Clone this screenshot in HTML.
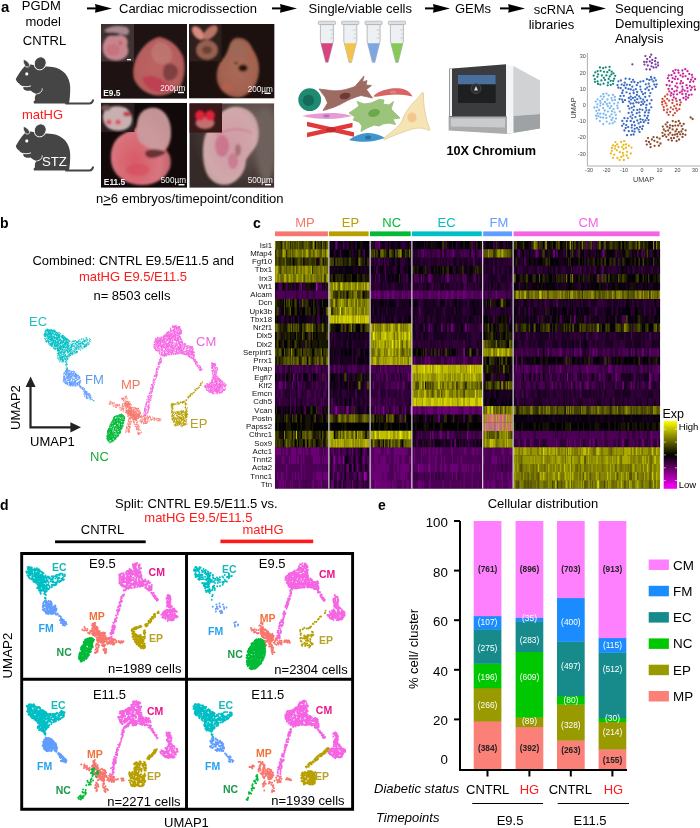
<!DOCTYPE html>
<html><head><meta charset="utf-8"><title>Figure</title>
<style>html,body{margin:0;padding:0;background:#fff;width:700px;height:828px;overflow:hidden}svg{display:block}</style>
</head><body>
<svg width="700" height="828" viewBox="0 0 700 828" font-family='"Liberation Sans", Arial, sans-serif' font-size="13">
<rect width="700" height="828" fill="#fff"/>
<text x="1" y="11.5" font-size="15" font-weight="bold">a</text>
<text x="41.3" y="10.2" text-anchor="middle">PGDM</text>
<text x="43.2" y="26.2" text-anchor="middle">model</text>
<text x="44.5" y="45" text-anchor="middle">CNTRL</text>
<g transform="translate(0 0)"><path fill="#454545" d="M15.8 79C17.5 75.5 21 70.5 24 67C26.5 64.8 29 64.3 32 64.8C38 65.8 45 66.3 52.4 67C63 68.3 70 76.5 70.2 87.5C70.3 94 69.8 99 69 103.4H34C33.3 102.5 33.5 101 35 100.3C34.5 98 35 95.5 36.5 94C34 93.5 32 92 30.6 90.6C28 91.2 24.5 90.8 23.5 88.8C23 87.8 23.3 87 24 86.5C21.5 86 19.8 85 19.2 83.6C17.5 82.5 16 80.8 15.8 79Z"/><path fill="#454545" stroke="#fff" stroke-width=".8" d="M23.3 59.4C26 59.8 29.2 62.5 29.7 65.2C29.7 67 27.5 67.6 25.8 66.7C24 65 23 62 23.3 59.4Z"/><ellipse cx="40.2" cy="63.3" rx="5.9" ry="6.7" transform="rotate(25 40.2 63.3)" fill="#454545" stroke="#fff" stroke-width=".9"/><circle cx="26.8" cy="73.9" r="1.55" fill="#fff"/><path d="M23.2 86.3C25.5 86.9 28.5 86.9 31 85.8M42.2 88.4C42.5 91.5 40 93.5 36.5 94" stroke="#fff" stroke-width=".9" fill="none"/><path d="M66 103.4H89.5C91.3 103.4 92.5 102 93 100.2" stroke="#454545" stroke-width="2" fill="none" stroke-linecap="round"/></g>
<text x="42.5" y="119" fill="#ff1a1a" text-anchor="middle">matHG</text>
<g transform="translate(0 67)"><path fill="#454545" d="M15.8 79C17.5 75.5 21 70.5 24 67C26.5 64.8 29 64.3 32 64.8C38 65.8 45 66.3 52.4 67C63 68.3 70 76.5 70.2 87.5C70.3 94 69.8 99 69 103.4H34C33.3 102.5 33.5 101 35 100.3C34.5 98 35 95.5 36.5 94C34 93.5 32 92 30.6 90.6C28 91.2 24.5 90.8 23.5 88.8C23 87.8 23.3 87 24 86.5C21.5 86 19.8 85 19.2 83.6C17.5 82.5 16 80.8 15.8 79Z"/><path fill="#454545" stroke="#fff" stroke-width=".8" d="M23.3 59.4C26 59.8 29.2 62.5 29.7 65.2C29.7 67 27.5 67.6 25.8 66.7C24 65 23 62 23.3 59.4Z"/><ellipse cx="40.2" cy="63.3" rx="5.9" ry="6.7" transform="rotate(25 40.2 63.3)" fill="#454545" stroke="#fff" stroke-width=".9"/><circle cx="26.8" cy="73.9" r="1.55" fill="#fff"/><path d="M23.2 86.3C25.5 86.9 28.5 86.9 31 85.8M42.2 88.4C42.5 91.5 40 93.5 36.5 94" stroke="#fff" stroke-width=".9" fill="none"/><path d="M66 103.4H89.5C91.3 103.4 92.5 102 93 100.2" stroke="#454545" stroke-width="2" fill="none" stroke-linecap="round"/></g><text x="42" y="165.8" font-size="13.2" fill="#fff">STZ</text>
<path d="M87 8.4H98" stroke="#000" stroke-width="2"/><path d="M95 4.1L112 8.4L95 12.7Q96.5 8.4 95 4.1z" fill="#000"/>
<text x="119" y="13">Cardiac microdissection</text>
<path d="M272 8.4H283" stroke="#000" stroke-width="2"/><path d="M280 4.1L297 8.4L280 12.7Q281.5 8.4 280 4.1z" fill="#000"/>
<text x="308.6" y="13">Single/viable cells</text>
<path d="M425 8.4H436" stroke="#000" stroke-width="2"/><path d="M433 4.1L450 8.4L433 12.7Q434.5 8.4 433 4.1z" fill="#000"/>
<text x="455" y="13">GEMs</text>
<path d="M500 8.4H511" stroke="#000" stroke-width="2"/><path d="M508 4.1L525 8.4L508 12.7Q509.5 8.4 508 4.1z" fill="#000"/>
<text x="554" y="13.5" text-anchor="middle">scRNA</text>
<text x="551.5" y="28.5" text-anchor="middle">libraries</text>
<path d="M581 8.4H592" stroke="#000" stroke-width="2"/><path d="M589 4.1L606 8.4L589 12.7Q590.5 8.4 589 4.1z" fill="#000"/>
<text x="615" y="12.5">Sequencing</text>
<text x="615" y="27.5">Demultiplexing</text>
<text x="615" y="42.5">Analysis</text>
<defs>
<filter id="bl1" x="-20%" y="-20%" width="140%" height="140%"><feGaussianBlur stdDeviation="1"/></filter>
<filter id="bl2" x="-30%" y="-30%" width="160%" height="160%"><feGaussianBlur stdDeviation="2.5"/></filter>
<filter id="bl3" x="-30%" y="-30%" width="160%" height="160%"><feGaussianBlur stdDeviation="1.8"/></filter>
<radialGradient id="emb1" cx=".45" cy=".5" r=".6"><stop offset="0" stop-color="#bc6464"/><stop offset=".8" stop-color="#b45e5c"/><stop offset="1" stop-color="#98504c"/></radialGradient>
<radialGradient id="emb2" cx=".5" cy=".5" r=".6"><stop offset="0" stop-color="#a86a58"/><stop offset=".7" stop-color="#a4624f"/><stop offset="1" stop-color="#8a5040"/></radialGradient>
<radialGradient id="emb3" cx=".4" cy=".7" r=".7"><stop offset="0" stop-color="#d85a66"/><stop offset=".6" stop-color="#d87680"/><stop offset="1" stop-color="#b05a60"/></radialGradient>
<radialGradient id="emb4" cx=".5" cy=".5" r=".65"><stop offset="0" stop-color="#d09aa6"/><stop offset=".7" stop-color="#d0a8aa"/><stop offset="1" stop-color="#bc9c9a"/></radialGradient>
<radialGradient id="bg4" cx=".8" cy=".3" r=".8"><stop offset="0" stop-color="#7a6a64"/><stop offset=".6" stop-color="#50423e"/><stop offset="1" stop-color="#352a28"/></radialGradient>
<clipPath id="cp1"><rect x="101" y="24" width="86" height="74.8"/></clipPath>
<clipPath id="cp2"><rect x="189" y="24" width="85.6" height="74.6"/></clipPath>
<clipPath id="cp3"><rect x="101" y="102.8" width="86" height="85"/></clipPath>
<clipPath id="cp4"><rect x="189.3" y="103.2" width="85" height="84.6"/></clipPath>
</defs>
<g clip-path="url(#cp1)"><rect x="101" y="24" width="86" height="74.8" fill="#1e1212"/>
<g filter="url(#bl1)">
<path d="M160 37C170 39 178 46 183 56C186 66 185 78 180 87C172 94 164 96 156 95.5C146 94 138 88 134 79C132 70 134 61 139 53C145 44 152 38 160 37Z" fill="url(#emb1)"/>
<path d="M157 42C166 41 172 47 172 55C172 62 166 66 160 64C153 62 150 55 152 48Z" fill="#c8908a" opacity=".4"/>
<path d="M166 64C172 62 178 66 178 72C177 78 172 82 166 80C162 76 162 68 166 64Z" fill="#3c1a18" opacity=".45"/>
<path d="M142 78C148 74 156 76 162 80C168 84 172 86 176 85C174 90 166 93 158 92C150 90 144 86 142 78Z" fill="#c42848" opacity=".55"/>
</g>
<rect x="101" y="24" width="33" height="37.6" fill="#3e3232"/>
<g filter="url(#bl1)"><path d="M104 31C108 26 118 25 126 27C130 29 130 33 127 35C120 34 110 34 104 31Z" fill="#a88890"/><path d="M104 42C106 36 112 34 120 35C127 36 129 40 127 46C130 51 128 58 120 60C112 62 104 58 103 51C102 47 103 44 104 42Z" fill="#c4868e"/><ellipse cx="112" cy="34.2" rx="8" ry="1.8" fill="#2e2020"/><ellipse cx="113" cy="50" rx="7" ry="6" fill="#c86070" opacity=".5"/><circle cx="120.5" cy="43" r="1.6" fill="#e02040"/></g>
<rect x="127" y="59" width="4" height="1.3" fill="#fff"/>
<text x="103.2" y="96.2" font-size="8.4" fill="#f4f4f4" font-weight="bold">E9.5</text>
<text x="160.2" y="90.5" font-size="8.2" fill="#f4f4f4">200µm</text>
<rect x="178" y="91.8" width="6" height="1.4" fill="#fff"/>
</g>
<g clip-path="url(#cp2)"><rect x="189" y="24" width="85.6" height="74.6" fill="#1c110e"/>
<g filter="url(#bl1)">
<path d="M236 38C244 37 250 42 252 48C256 54 260 62 259 72C258 84 252 93 242 97C232 99 222 94 218 84C215 76 217 66 222 60C226 56 228 50 230 44C232 40 234 38 236 38Z" fill="url(#emb2)"/>
<path d="M232 41C240 39 248 44 248 52C246 58 238 60 232 56C228 52 228 45 232 41Z" fill="#9a6a5c" opacity=".6"/>
<ellipse cx="243" cy="68" rx="4.5" ry="3.5" fill="#2a140c"/><ellipse cx="236" cy="63" rx="1.5" ry="1.2" fill="#3a1c10"/>
<ellipse cx="227" cy="88" rx="6" ry="4" fill="#c06050" opacity=".6"/>
</g>
<rect x="189" y="24" width="32.6" height="37.4" fill="#2e1e1c"/>
<g filter="url(#bl1)"><ellipse cx="207" cy="50" rx="11" ry="10" fill="#96604f"/><ellipse cx="207" cy="50" rx="5" ry="4" fill="#6e4036"/><ellipse cx="198" cy="33" rx="8" ry="4.5" transform="rotate(50 198 33)" fill="#d88a7c"/><ellipse cx="210.5" cy="32.5" rx="9" ry="4.8" transform="rotate(-45 210.5 32.5)" fill="#b87466"/></g>
<text x="247.7" y="91.7" font-size="8.2" fill="#f4f4f4">200µm</text>
<rect x="264.4" y="92.6" width="6.4" height="1.4" fill="#fff"/>
</g>
<g clip-path="url(#cp3)"><rect x="101" y="102.8" width="86" height="85" fill="#120a0a"/>
<g filter="url(#bl1)">
<path d="M150 108C160 106 168 114 170 124C172 134 171 144 166 150C170 154 172 160 170 168C166 178 156 185 142 185C128 185 116 178 112 166C109 154 112 142 120 136C126 132 132 130 136 128C138 118 142 110 150 108Z" fill="url(#emb3)"/>
<path d="M150 108C160 106 168 114 170 124C172 134 171 144 164 150C156 152 146 148 140 142C136 136 136 126 138 118C140 112 144 109 150 108Z" fill="#c8a2a2" opacity=".8"/>
<path d="M146 151C152 148 160 149 166 152C162 156 156 158 150 158C146 157 144 154 146 151Z" fill="#3a1818" opacity=".7"/>
<ellipse cx="138" cy="170" rx="12" ry="6" fill="#d83a50" opacity=".35"/>
</g>
<path d="M101 102.8H134.4V132H101Z" fill="#2a1e1e"/>
<g filter="url(#bl1)"><path d="M104 112C108 106 118 105 126 108C132 112 134 120 130 126C126 131 116 132 110 129C104 126 101 118 104 112Z" fill="#c8b0b0"/><circle cx="109" cy="122" r="2.6" fill="#e04a5a"/><circle cx="118" cy="122" r="2.6" fill="#e04a5a"/><ellipse cx="127" cy="114" rx="4" ry="2.5" fill="#c04050"/><ellipse cx="106" cy="108" rx="5" ry="3" fill="#7a5a5a"/></g>
<text x="103.8" y="185.2" font-size="8.4" fill="#f4f4f4" font-weight="bold">E11.5</text>
<text x="160.8" y="182.6" font-size="8.2" fill="#f4f4f4">500µm</text>
<rect x="178.5" y="184" width="6" height="1.4" fill="#fff"/>
</g>
<g clip-path="url(#cp4)"><rect x="189.3" y="103.2" width="85" height="84.6" fill="url(#bg4)"/>
<g filter="url(#bl2)"><ellipse cx="266" cy="145" rx="10" ry="38" fill="#6e605c"/></g>
<g filter="url(#bl1)">
<path d="M232 107C244 105 254 112 257 122C260 132 259 140 256 146C252 152 248 156 246 160C246 170 240 180 230 184C220 187 210 182 206 172C202 160 202 146 205 136C210 124 220 110 232 107Z" fill="url(#emb4)"/>
<ellipse cx="222" cy="146" rx="7" ry="11" fill="#c03a6a" opacity=".4"/><ellipse cx="233" cy="161" rx="5" ry="8" fill="#c03a6a" opacity=".35"/><ellipse cx="238" cy="150" rx="3" ry="6" fill="#6a3030" opacity=".4"/>
<path d="M216 136C226 128 240 127 252 133" stroke="#c8406a" stroke-width=".9" fill="none" opacity=".7"/>
</g>
<rect x="189.3" y="103.2" width="32.7" height="29.4" fill="#3a1818"/>
<g filter="url(#bl1)"><ellipse cx="205" cy="123" rx="9.5" ry="6" fill="#c07070"/><ellipse cx="200" cy="115.5" rx="4.8" ry="5.2" fill="#e0203a"/><ellipse cx="210" cy="115.5" rx="4.8" ry="5.2" fill="#e0203a"/></g>
<text x="247.7" y="182.6" font-size="8.2" fill="#f4f4f4">500µm</text>
<rect x="265" y="184" width="6" height="1.4" fill="#fff"/>
</g>
<text x="96" y="203">n<tspan text-decoration="underline">&gt;</tspan>6 embryos/timepoint/condition</text>
<path d="M320.4 24.5V41L325.7 62.5H328.1L333.4 41V24.5Z" fill="#eef1f3" stroke="#a9adb0" stroke-width=".8"/>
<path d="M320.9 43.3H332.9L328 62H325.8Z" fill="#d6457f"/>
<rect x="318.3" y="21.2" width="17.2" height="3.4" rx=".8" fill="#dde1e3" stroke="#a9adb0" stroke-width=".7"/>
<path d="M329.9 30h3M330.9 34h2M329.9 38h3" stroke="#a9adb0" stroke-width=".5"/>
<path d="M343.8 24.5V41L349.1 62.5H351.4L356.8 41V24.5Z" fill="#eef1f3" stroke="#a9adb0" stroke-width=".8"/>
<path d="M344.2 43.3H356.2L351.4 62H349.1Z" fill="#f2c24e"/>
<rect x="341.6" y="21.2" width="17.2" height="3.4" rx=".8" fill="#dde1e3" stroke="#a9adb0" stroke-width=".7"/>
<path d="M353.2 30h3M354.2 34h2M353.2 38h3" stroke="#a9adb0" stroke-width=".5"/>
<path d="M367.1 24.5V41L372.4 62.5H374.8L380.1 41V24.5Z" fill="#eef1f3" stroke="#a9adb0" stroke-width=".8"/>
<path d="M367.6 43.3H379.6L374.7 62H372.5Z" fill="#7fa6e0"/>
<rect x="365" y="21.2" width="17.2" height="3.4" rx=".8" fill="#dde1e3" stroke="#a9adb0" stroke-width=".7"/>
<path d="M376.6 30h3M377.6 34h2M376.6 38h3" stroke="#a9adb0" stroke-width=".5"/>
<path d="M390.4 24.5V41L395.8 62.5H398.1L403.4 41V24.5Z" fill="#eef1f3" stroke="#a9adb0" stroke-width=".8"/>
<path d="M390.9 43.3H402.9L398.1 62H395.8Z" fill="#87c85a"/>
<rect x="388.3" y="21.2" width="17.2" height="3.4" rx=".8" fill="#dde1e3" stroke="#a9adb0" stroke-width=".7"/>
<path d="M399.9 30h3M400.9 34h2M399.9 38h3" stroke="#a9adb0" stroke-width=".5"/>
<circle cx="309.7" cy="99.7" r="11.4" fill="#1f8a72"/><circle cx="308.5" cy="100.4" r="5.6" fill="#17695a"/>
<path d="M319 89L331 90.5C338 91.5 346 90 355 86.5L364 76L362.5 82L367 80.5L366 85L371.5 85.5L366.5 89.5L372.5 98L361 95.5C355 97 348 100 341 104C336 106.5 331 108.5 323 110.5L327.5 103L325 97Z" fill="#9c6b62" stroke="#9c6b62" stroke-width=".8" stroke-linejoin="round"/>
<ellipse cx="345" cy="96" rx="5.5" ry="3.2" transform="rotate(-12 345 96)" fill="#6e3a38"/>
<path d="M373 96.5C379 90 391 87.5 401 88.5C407 89.5 411 93 412.5 96.5C405 94.5 396 93.8 388 95C382 96 377 97 373 96.5Z" fill="#d86464"/>
<ellipse cx="393" cy="92" rx="3.4" ry="1.6" fill="#e08080"/>
<path d="M302 116C315 113 330 112.5 340 113.5C345 114 349 115 352 116C346 117.5 338 119 328 119C318 119 310 118 302 116Z" fill="#e89bd0"/>
<ellipse cx="326.5" cy="116" rx="3.2" ry="1.4" fill="#b070c0"/>
<path d="M349 113L355 109L359 106L357 101.5L364 104L371 103L379 99.5L384 100L383 104L389 105L393.5 101.5L391 109L395 113L400 118L393 119L395.5 124.5L389 123L383 124L379 126L374 125L367 128L361 131.5L362 126L359 122L353 120L355 117Z" fill="#9cc47c" stroke="#9cc47c" stroke-width="1" stroke-linejoin="round"/>
<ellipse cx="374" cy="113" rx="6" ry="3.8" transform="rotate(-15 374 113)" fill="#6aaa4a"/>
<path d="M307 121.8L354 132.3L354 136.8L307 126.3Z M307 132.8L352.5 122.8L352.5 127.3L307 137.3Z" fill="#e03a3a"/>
<ellipse cx="331" cy="129.8" rx="5" ry="2.6" fill="#c42a2a"/>
<path d="M349 140C354 136 360 133.5 367 133C374 132.6 380 135 385 138C378 140 372 141.8 365 141.8C358 141.8 353 141 349 140Z" fill="#3f95cc"/>
<ellipse cx="368" cy="137.5" rx="3" ry="2" fill="#2a70a8"/>
<path d="M422 92.5L423.6 93C423.2 100 424 106 425 112C426 118 427.5 124 430 129.5L428.8 130.6C425 128 420 127.6 414 128.6C405 131 395 135 384 139.8L383 138.8C390 133 398 128 402 121C404 115 408 108 414 102C417 99 420 96 422 92.5Z" fill="#f6e4b4" stroke="#d6bc80" stroke-width=".6"/>
<ellipse cx="412" cy="117.5" rx="4.6" ry="5" fill="#f2c890"/>
<path d="M506 64.6L540 80.5V128.5L507 134Z" fill="#d9dbdc"/>
<path d="M506 116L540 114V128.5L507 134Z" fill="#9fa2a4"/>
<path d="M506 64.6L513.5 66V133L507 134Z" fill="#f4f5f5"/>
<path d="M513.5 66L540 80.5V114L513.5 116Z" fill="#d0d2d3"/>
<path d="M449 68.8L506 64.2V117H449Z" fill="#3a3c3e"/>
<path d="M449.5 69L452 68.8V116H449.5Z" fill="#f2f2f2"/>
<path d="M448.6 116.5H507V134L448.6 130.5Z" fill="#a9abad"/>
<path d="M451 118.5H505V127.5L451 126.5Z" fill="#c9cbcc"/>
<rect x="458" y="74.9" width="37.7" height="28.1" fill="#1e1f21"/>
<rect x="458" y="74.9" width="37.7" height="9.4" fill="#4b6f9c"/>
<circle cx="476" cy="88.6" r="5" fill="#2a2b2d" stroke="#666" stroke-width=".5"/>
<path d="M474 90.5L476 86L478 90.5Z" fill="#ddd"/>
<text x="446.5" y="155.4" font-size="12.7" font-weight="bold">10X Chromium</text>
<path d="M587.4 53V166H700" stroke="#999" stroke-width=".8" fill="none"/>
<text x="585.8" y="58.3" font-size="5.4" fill="#444" text-anchor="end">30</text>
<text x="585.8" y="74.9" font-size="5.4" fill="#444" text-anchor="end">20</text>
<text x="585.8" y="90.9" font-size="5.4" fill="#444" text-anchor="end">10</text>
<text x="585.8" y="106.9" font-size="5.4" fill="#444" text-anchor="end">0</text>
<text x="585.8" y="122.9" font-size="5.4" fill="#444" text-anchor="end">-10</text>
<text x="585.8" y="139.3" font-size="5.4" fill="#444" text-anchor="end">-20</text>
<text x="585.8" y="155.9" font-size="5.4" fill="#444" text-anchor="end">-30</text>
<text x="589" y="172.2" font-size="5.4" fill="#444" text-anchor="middle">-30</text>
<text x="606.6" y="172.2" font-size="5.4" fill="#444" text-anchor="middle">-20</text>
<text x="624" y="172.2" font-size="5.4" fill="#444" text-anchor="middle">-10</text>
<text x="642" y="172.2" font-size="5.4" fill="#444" text-anchor="middle">0</text>
<text x="659.6" y="172.2" font-size="5.4" fill="#444" text-anchor="middle">10</text>
<text x="677.4" y="172.2" font-size="5.4" fill="#444" text-anchor="middle">20</text>
<text x="695" y="172.2" font-size="5.4" fill="#444" text-anchor="middle">30</text>
<text x="643.5" y="182.2" font-size="7.3" fill="#444" text-anchor="middle">UMAP</text>
<text x="0" y="0" font-size="7.3" fill="#444" text-anchor="middle" transform="translate(575.8 108) rotate(-90)">UMAP</text>
<path d="M603.9 77.8h0M615.2 75.8h0M597.4 76.8h0M608.1 82.7h0M595.3 72.4h0M609.6 66.9h0M608.7 78.9h0M605.7 67.3h0M597.6 71.1h0M593.7 75.7h0M603.6 83.7h0M605 79.9h0M604 71.8h0M613.2 80.9h0M600.6 70.8h0M599.9 67.5h0M611.4 74.4h0M594.8 79.2h0M611.7 71.7h0M606.4 75.4h0M597.6 81.4h0M600.3 84.6h0M598.1 74.3h0M601.9 75.5h0M614.2 78.7h0M603.1 68.2h0M607.3 72.2h0M610.7 84.9h0M610.7 80.8h0M601.4 80.4h0M595 81.8h0M609.8 76.4h0M607.7 85.3h0M613.1 83.8h0M609.4 70.2h0M613.5 73.3h0M598 83.9h0" stroke="#14897a" stroke-width="2.3" stroke-linecap="round"/>
<path d="M650 57.1h0M644.5 64.6h0M651.9 63h0M655.5 64.3h0M655.6 58.2h0M653.6 67.5h0M646.4 69.3h0M645.4 56.1h0M655.1 61.2h0M647.8 65.5h0M646.6 62h0M649.8 61.4h0M651.2 54.7h0M644.1 61.8h0M656.2 67.3h0M652.3 59.9h0M651.5 66.3h0M647.2 59.1h0M649.9 69.5h0M632.4 64.3h0M657.9 62.6h0M658.1 65.4h0" stroke="#7b3fa0" stroke-width="2.3" stroke-linecap="round"/>
<path d="M689.9 85.8h0M671.3 93h0M692.4 77.3h0M666.7 85h0M682.3 86.7h0M695 89.5h0M682.4 94h0M688.1 97.7h0M668.5 88.9h0M685.5 76.1h0M677.8 79.1h0M687.6 91.4h0M693.4 81.5h0M690.8 90h0M691.6 94.6h0M681.7 91.4h0M690.1 81.9h0M678.6 72.8h0M672.1 82h0M667.8 78.2h0M689.3 73.9h0M683.5 98h0M671.5 75.2h0M675.4 86.1h0M673.8 97.3h0M680.5 75.3h0M677.1 94.3h0M687.4 88h0M675.7 76.6h0M687.5 71.2h0M680.4 83.5h0M670.7 95.5h0M676.8 90.7h0M669.2 81h0M679.9 99.9h0M682.9 83.1h0M674.9 79.1h0M687.9 78.9h0M694.4 86.6h0M668.7 75.5h0M678.2 70.4h0M689 95.1h0M675.9 98.7h0M676.8 83.3h0M682.8 76.7h0M682.4 70.5h0M677.4 87.5h0M683.1 73.7h0M685.3 69.2h0M684.7 90.7h0M675.6 69.8h0M681.1 81.1h0M686 96.6h0M669.7 85.7h0M691.1 79.7h0M672.1 88.9h0M672.7 78.1h0M685.9 94.1h0M673.5 94.5h0M682.7 89.3h0M686.5 85.2h0M679.7 92.6h0M691.9 87.5h0M691.9 74.8h0M674.4 91.5h0M686 99.5h0M674.4 73.2h0M673.2 71.1h0M695.1 79h0" stroke="#c8259c" stroke-width="2.3" stroke-linecap="round"/>
<path d="M635.5 117.2h0M644.7 115.7h0M631.8 112.3h0M639.8 109.3h0M636.9 94.9h0M646 107.8h0M633.7 93h0M635.8 89.2h0M640.3 86.6h0M630.5 116.6h0M630.7 103.5h0M646.5 105h0M631.9 125h0M634.1 106.4h0M647.1 100.4h0M645.2 93.1h0M645.2 97h0M648.2 123.1h0M641.6 101.9h0M645 112.4h0M631 99.6h0M642.1 128.9h0M644.5 101.8h0M641 105.1h0M634.8 100.4h0M642.8 119.8h0M651.5 100.2h0M647.2 87.6h0M650.4 93.1h0M643 94.2h0M649.4 96.1h0M639.6 131.9h0M629.4 108.6h0M634.7 128.8h0M638.6 123.4h0M645.4 89.1h0M640.7 122.1h0M647 118.2h0M641.8 91.8h0M637.3 99.2h0M643.8 122.2h0M636.8 113.2h0M636.4 102.4h0M628.2 106.1h0M643.2 99.7h0M642.8 126.2h0M648.6 112.7h0M637.2 92h0M642.4 109.8h0M640.4 81.7h0M634 122h0M648.8 90.2h0M648.5 120.1h0M636.8 85.2h0M628.9 98h0M630.8 89.4h0M632.7 114.8h0M632.3 86.7h0M633.6 110.1h0M634.8 125.4h0M638.6 129.6h0M628.6 112.9h0M639.2 96.4h0M645.8 84.3h0M645.5 120.4h0M630.7 121h0M637.9 82.8h0M633.2 103.5h0M651.3 107.3h0M631.8 107.6h0M629.1 101.6h0M629.9 93.6h0M640 127h0M640.4 119.2h0M643.3 81.2h0M638.7 102.7h0M630.8 96.6h0M639.8 115.9h0M637.3 120.5h0M632.9 98h0M637.3 109.9h0M649.8 103.7h0M646.4 110.3h0M640.6 89.6h0M640.6 98.4h0M647.9 115.8h0M635.2 97.1h0M632.2 118.3h0M639.4 112.4h0M649.2 110.2h0M643.2 104h0M626.8 84.7h0M622.8 90.5h0M620.9 80.4h0M633 79.8h0M617.5 85.2h0M618.3 87.7h0M634.4 82h0M620.7 88.1h0M629.5 79h0M629.8 84.9h0M624.7 82.7h0M624.1 85.4h0M621.7 84.6h0M625.7 88h0M631.5 82.1h0M625.6 78.7h0M626.5 92.3h0M618.4 81.3h0M628.5 88.9h0M633.4 90.4h0M656.7 84.3h0M649.5 86.3h0M651 77h0M653.3 81.4h0M652.4 88.9h0M646.9 79.2h0M654.3 84.7h0M655.9 80.3h0M649.3 80h0M655.8 87h0M651.7 79.4h0M648.7 83.7h0M654.5 78h0M628.2 127.1h0M622.3 120.9h0M623.7 123.8h0M631.1 134.8h0M628.8 131.2h0M631.7 127.6h0M627 135.2h0M626.8 121.2h0M622.1 125.8h0M624.4 130.5h0M632.2 130.9h0M624.4 118.2h0M637 127.8h0M634.5 131.7h0M633.6 134.5h0M627.7 118.3h0M625.7 128h0M626.2 125.1h0M622.9 102h0M623.8 95.8h0M620.5 96.1h0M625 100.2h0M619.6 99.1h0M622.2 99.7h0M622.2 93h0" stroke="#3d6cc4" stroke-width="2.3" stroke-linecap="round"/>
<path d="M603.5 113.7h0M603.2 104.3h0M616 118.6h0M611.6 120h0M600.5 103.1h0M596.6 118.6h0M618 102.7h0M603.8 96.7h0M597.7 113.4h0M600.6 117.3h0M599.9 121.1h0M603.2 108.1h0M605 101.9h0M602.5 99.1h0M614.6 112.3h0M594.4 107.5h0M609.6 103.2h0M603.2 124.1h0M596.3 110.8h0M619.8 111.5h0M606.3 117.9h0M611.4 98.1h0M607.8 106.2h0M611.9 111.2h0M614.2 103.6h0M595.8 101.6h0M611.3 106.2h0M607.5 99.5h0M597.6 99.3h0M607.9 111.6h0M617.7 108.2h0M597.3 104.3h0M600.3 113.7h0M612.7 117.8h0M605.8 114.9h0M603.3 94h0M609.6 123.7h0M614.9 96.9h0M615.8 114.8h0M604.7 110.5h0M606.5 93.6h0M606.8 104h0M613.5 109.1h0M596.1 115.7h0M613 94.9h0M597.2 107.3h0M600.2 100.8h0M614.5 121.7h0M600.8 96.3h0M608.7 95.4h0M606.7 121.6h0M611.6 114.3h0M609.8 116.4h0M617.3 105.7h0M599.1 110h0M603.1 117.7h0M612.3 100.4h0M600.3 105.6h0M612.6 123.3h0M598.4 116.2h0M609.8 108.2h0M615 99.9h0" stroke="#7cb9f0" stroke-width="2.3" stroke-linecap="round"/>
<path d="M677 104.4h0M665 96.5h0M674.3 106.1h0M670.2 111.8h0M679.9 105h0M672.6 100h0M662.3 104.6h0M666.7 105.6h0M679.3 109.2h0M667.5 109.5h0M666.9 112.5h0M674.9 113.1h0M668.6 114.8h0M663.9 110h0M667.2 98.8h0M662.5 98.9h0M672.4 103h0M664.3 100.9h0M667.3 94.5h0M670.8 107.6h0M673.1 115.3h0M669.1 100.7h0M676 108.4h0M680.7 102.4h0M669.3 91.3h0M663.7 107.2h0M677.1 110.7h0M673.1 109.3h0M676.6 101.1h0M662.1 102h0M665.6 103.2h0" stroke="#d04a3a" stroke-width="2.3" stroke-linecap="round"/>
<path d="M682.5 137h0M678.9 132.1h0M667.4 122.3h0M678.2 125.5h0M676.8 129.4h0M667.2 126.7h0M679.1 139.5h0M672.6 129.4h0M677.4 136.6h0M682.6 129.2h0M675.5 131.4h0M668.2 130.5h0M681.6 126.1h0M662.8 126.6h0M685.4 134.8h0M665.6 131.1h0M673.9 138h0M668.5 134.7h0M662.5 132.8h0M671.9 140.6h0M683.7 124h0M676.6 141h0M678.7 121h0M685.6 130.3h0M666.3 136.8h0M675.3 125.6h0M670.2 132.8h0M668.4 139.8h0M680 123.4h0M669.7 128h0M682.9 133.9h0M664.8 134.7h0M672.7 126h0M670.1 125.3h0M674.9 134.7h0M671.1 138.2h0M663.8 129.5h0M672.5 134.9h0M681.3 131.5h0M665.7 124.3h0M662.8 136.1h0M677.2 134h0M675.7 121.9h0M680.2 134.3h0M672.7 121.1h0M650.4 144.1h0M653.5 137.1h0M657.4 142.1h0M651.9 139.5h0M657.1 137.4h0M654.4 140.8h0M654.6 145.8h0M646.2 141.1h0M650.6 147.2h0M659.6 138.7h0M648 138.1h0M658.9 145.7h0M660.5 143.5h0M646.8 144.6h0M649 142h0M692.6 119h0M690.6 117.4h0" stroke="#8b4a2a" stroke-width="2.3" stroke-linecap="round"/>
<path d="M623.4 155.5h0M615.4 142.1h0M613 145.4h0M622.1 146.8h0M611.8 150.8h0M631.5 147.6h0M621.3 157h0M626.8 155.5h0M616.9 150.3h0M610.9 153.4h0M627.1 151.8h0M624.2 141.1h0M618.5 147h0M623.8 160h0M617.4 157.8h0M622.8 152.9h0M614.2 154.7h0M621.2 142h0M617.1 144.4h0M626 147.7h0M619.8 152.2h0M614.9 148.6h0M628.2 158.1h0M613 157.8h0M623.6 144.8h0M611.9 147.9h0M619.6 160h0M623.6 149h0M628.9 145.7h0M630.7 153.5h0M615.3 146.1h0M626.1 144.3h0" stroke="#e8b820" stroke-width="2.3" stroke-linecap="round"/>
<text x="0" y="228" font-size="14" font-weight="bold">b</text>
<text x="133.3" y="265.2" text-anchor="middle">Combined: CNTRL E9.5/E11.5 and</text>
<text x="133" y="280.5" fill="#ff1a1a" text-anchor="middle">matHG E9.5/E11.5</text>
<text x="131.9" y="300" text-anchor="middle">n= 8503 cells</text>
<path d="M49.4 341.5h0M53 342.9h0M50 334.4h0M65.6 340h0M60.1 349h0M57.1 346h0M63.5 342.6h0M51.1 329.7h0M66.4 339.9h0M62.4 349.2h0M53.7 347.4h0M46.7 334h0M59.9 335.9h0M56.7 337.9h0M52.5 342.5h0M58.8 349.8h0M67.4 342.1h0M65.5 342.2h0M50.7 330.5h0M54.1 332.5h0M62.4 336.6h0M51.4 330.8h0M48.3 338.4h0M55.4 341h0M60.4 342.7h0M58.1 343.3h0M68.4 340.7h0M54.6 345.6h0M49.4 335.9h0M69.4 341h0M54.2 342.3h0M59.9 339.7h0M61.3 337.1h0M62.1 346h0M49.8 339.5h0M59 336.4h0M52.8 336.2h0M53 342.7h0M51.1 337.7h0M58.4 345.9h0M51.4 334.1h0M48.1 339h0M51.7 336.7h0M65.5 339.1h0M52.1 344h0M66.9 339.4h0M49.1 331.8h0M57.3 333.4h0M48 335.4h0M64.8 343.8h0M64.8 336.9h0M46.5 335.7h0M52.4 338.6h0M54.3 338.4h0M63.1 348.2h0M60.9 340.9h0M50.8 336.8h0M49.1 330.6h0M58.9 335.6h0M67.3 342.3h0M47.6 335.9h0M60.9 341.1h0M59.5 336.9h0M55.9 347h0M52.5 333.5h0M57.4 347.8h0M60 348.8h0M44.3 335.2h0M50.3 341.1h0M54.4 339.9h0M44.5 331.9h0M46.4 330.6h0M51.5 336.2h0M52.5 343.9h0M58.8 337.3h0M48.2 336.6h0M46.3 341.8h0M62.3 337.7h0M45.2 333.1h0M53.1 342.9h0M64.1 337.7h0M64.6 343.3h0M54.7 337.6h0M56.4 345.2h0M54.4 345h0M55.4 334.6h0M57.5 345h0M44.9 338.8h0M50.1 339.7h0M60.9 349.4h0M64.4 344.4h0M62.8 342h0M45.5 331.3h0M61.2 348.2h0M68.7 342.3h0M63.7 340.8h0M44.7 336.5h0M58.2 348h0M49.5 333.1h0M49.7 343.2h0M63.3 338.1h0M52.9 338.1h0M52.5 338.6h0M61.7 346.4h0M61.2 340.9h0M56.1 343.8h0M67.7 340.9h0M55 345.5h0M48 335.1h0M48.4 342.5h0M51.5 334.3h0M51 345.2h0M54.2 348.6h0M58.8 335.1h0M48.9 329.5h0M55.9 337.8h0M47.7 337.3h0M55.9 342.8h0M55.6 348.2h0M65.2 341.8h0M56 345.6h0M66.1 338.2h0M55.6 334.3h0M48.1 334.9h0M51.5 338.7h0M50.9 337.2h0M58.7 344.5h0M54.8 340.2h0M48.7 342.5h0M50.4 344.3h0M63.9 346.4h0M51 344.5h0M60.7 347.5h0M56.3 337.1h0M62.4 344.6h0M58.3 333.2h0M60.4 343.5h0M52 345.6h0M59.1 341.8h0M60.5 339.5h0M51.4 333.1h0M63.4 341.5h0M63 337.3h0M50.2 337.8h0M56.6 334.7h0M63.8 337.1h0M52 338.3h0M57.6 346.7h0M46 335.2h0M45.7 331.6h0M64 345.7h0M48 333.4h0M54.2 346.1h0M65 346.2h0M53.8 333.5h0M57.2 342.1h0M48.5 334.8h0M57.9 342.4h0M61.5 335.9h0M66.2 340.1h0M59.2 345.7h0M60.9 340.3h0M57.1 339.6h0M48.2 341.2h0M60.4 339.2h0M58.3 351.1h0M64.4 343.3h0M49.3 330.8h0M57.5 350.4h0M66.2 342.8h0M63 336.9h0M66.3 339.1h0M63.4 340.2h0M45.9 330h0M45.1 333.6h0M47.3 340.4h0M61.9 341.4h0M54.4 343.9h0M51.2 339.7h0M63.4 338.2h0M62.4 337.4h0M53 341.2h0M59.1 334.1h0M55.4 333.5h0M48.7 332.9h0M53.9 332.9h0M47.5 340.3h0M55.1 338.4h0M53.9 338.1h0M48.9 331.2h0M55.8 332.8h0M59.8 337h0M46.3 330.2h0M62.6 335.3h0M64.3 339.7h0M49.7 335.1h0M65 343.5h0M52.3 331.2h0M47.6 329.8h0M51.2 343h0M46.1 338h0M52 344.6h0M63 345.9h0M65.6 341.7h0M54.2 334.3h0M64 340.1h0M50.3 332.9h0M62.5 342.9h0M62.2 337.9h0M56.2 332.5h0M55.6 346.4h0M60.3 349.2h0M66.6 339.3h0M52 337.5h0M44.9 338.2h0M49.5 330.1h0M48.9 341.9h0M54.3 347h0M59.3 347.1h0M57.5 333.3h0M47.8 330.8h0M45.3 339.7h0M59.6 343.8h0M52.3 342.9h0M55 331.6h0M65.6 342.7h0M57.6 339.7h0M52.3 340.1h0M62.9 338.7h0M60.5 342.9h0M48.8 337.1h0M54.6 330.9h0M48.9 332.8h0M59.5 350.4h0M57.5 338.6h0M68.6 340.1h0M63.9 338.4h0M48 331.2h0M62.5 335.8h0M57 343.7h0M50.5 338.9h0M52.3 346.1h0M63.2 335.6h0M45.8 335.9h0M54.1 330.8h0M53.1 332.7h0M51.4 339.7h0M57.2 341.5h0M50.7 339.7h0M51 334.6h0M46.5 341.2h0M57.5 332.8h0M44.4 333.7h0M63.8 339.7h0M48 329.3h0M54.7 336.8h0M45.5 336.2h0M54.3 335h0M59.9 344.5h0M49.7 332.1h0M63.5 347.2h0M56.7 348.1h0M57.9 335.4h0M47.6 329.4h0M60.4 349.6h0M67.5 339.8h0M61 350.4h0M65 342.9h0M54.2 340.9h0M47.6 333.2h0M57.8 338.4h0M52.5 339.5h0M64.7 339.4h0M51.5 341h0M54.1 348.6h0M58.5 341.6h0M56.2 335.4h0M53 340.8h0M60.4 333.5h0M53.3 348h0M51.5 335.2h0M51.6 338h0M50.6 332h0M45.1 334.3h0M48.4 330.8h0M57.2 346.1h0M65.6 343.5h0M44.9 335.2h0M56 335.2h0M61.2 343.9h0M46.8 330.3h0M68.9 341.3h0M53.3 331.5h0M50.6 332h0M46.9 331.9h0M45.1 333.4h0M56.1 345.2h0M51.5 329.5h0M52.3 346.2h0M64.1 342.1h0M55.5 341.4h0M54.9 341.3h0M59 350.5h0M47.5 335.1h0M48.5 330.2h0M61.5 341.1h0M57.6 339.1h0M51.7 340.6h0M53.1 336.3h0M52.7 342.8h0M50.3 331.8h0M56.5 345.8h0M52.2 343.8h0M55.2 340h0M57.3 349.1h0M69.6 341.2h0M54.9 343.2h0M52.9 333.9h0M57.8 349.3h0M54.6 349h0M62.2 337.3h0M51.1 340.6h0M53.8 337.6h0M60.6 349.1h0M48.9 337.5h0M45.2 336.4h0M50.6 329.7h0M57.5 350.2h0M57.4 346h0M67.7 339.2h0M55.8 349.5h0M50.7 333.4h0M65.2 342.8h0M50.4 337.9h0M56.8 338.9h0M60 344.2h0M54.8 331.2h0M45.3 339.2h0M56 338.7h0M52 338.6h0M58.7 349.3h0M48.5 338h0M57.1 342.2h0M45.3 334.3h0M55.7 348.7h0M57.6 335.5h0M57.3 333.7h0M46.6 341.2h0M59.7 337.2h0M48.5 330.4h0M54.7 336.2h0M48.7 333.3h0M53.8 338h0M47.8 334.8h0M50.1 345h0M52.2 331.6h0M49 339.2h0M58.3 334.6h0M61.1 343h0M53.6 341.4h0M59.1 343.4h0M56.2 342.3h0M56 333.1h0M62.4 336.8h0M62.8 342.4h0M45.9 341.1h0M66 340h0M57.6 348.9h0M55.1 340.3h0M58.7 347.9h0M48.5 331.2h0M63.6 341.7h0M66.9 341.5h0M63.2 335.7h0M62.8 337.1h0M55.9 342h0M49.7 345h0M58.2 337.9h0M46 341.7h0M51.6 345.7h0M47.7 338.1h0M48.3 338.4h0M48.4 340.6h0M47.5 331.3h0M57.5 350.2h0M66.5 340.9h0M53.7 330.5h0M50.5 336.2h0M68.6 340h0M54.7 335h0M58.4 340.7h0M48.4 334.1h0M51.8 346.5h0M50.3 340.7h0M63.1 340.6h0M61.6 338.8h0M57.7 342.5h0M53.5 330.1h0M65.9 345.7h0M53.1 330h0M58 346.2h0M63 340.1h0M57.7 344.4h0M59.3 332.7h0M64.2 338h0M59.5 335.1h0M50.6 345.1h0M47.6 329.8h0M57 336.5h0M64.7 337.9h0M64.7 339.2h0M61 336.5h0M49.1 339.4h0M64.6 336.9h0M49.2 338.6h0M45.6 336.3h0M58.5 341.5h0M59.1 335.7h0M52.2 333.5h0M58.4 335.1h0M63.6 342.8h0M60.9 345.9h0M57.1 338.8h0M51.3 330.4h0M64.4 340.5h0M58.7 343.3h0M54.8 331.9h0M46.3 340.5h0M56 334.7h0M51.2 339.9h0M51.1 336h0M48.2 330.9h0M63.1 341.2h0M63.8 340.7h0M61.2 340.8h0M62.2 341.9h0M53.6 339.7h0M51.3 346h0M50 339.9h0M49.9 337.2h0M60.6 346.1h0M48.5 336.7h0M44.6 334.5h0M58.8 343.1h0M49.5 333.2h0M45.6 333.1h0M56.5 334.9h0M66.9 342h0M52.2 338.9h0M63.3 337.4h0M62.6 335.3h0M48.9 334.2h0M48.3 342.9h0M60.3 345.7h0M55.9 337.7h0M56.6 339h0M48.4 338.1h0M60.4 345.5h0M59.1 350.8h0M67.5 339h0M46.9 334h0M65.4 338.7h0M51.5 339.2h0M51.6 337.9h0M49.6 334.1h0M51.2 334h0M57.6 341.9h0M53.8 340.7h0M49.8 333.7h0M54.5 330.3h0M51.4 344.3h0M53.8 336.9h0M60.7 342.6h0M49.8 331.9h0M47.6 336.5h0M46.1 336.3h0M57.7 338.4h0M52 335.7h0M56.1 346.9h0M54.8 346.7h0M56 331.8h0M55.9 337.8h0M56.9 348.5h0M53.1 337.3h0M57.7 340h0M56.4 339.4h0M55.8 345.5h0M50 330.8h0M57.6 348.3h0M53.2 331.5h0M63.4 339.4h0M63.1 347.3h0M66.6 341.6h0M45.5 331h0M62 346.1h0M59.7 346.6h0M48.2 341.3h0M65.9 339.2h0M57.1 344.4h0M50.6 334.4h0M54.8 338h0M57.1 345.1h0M51.6 336.7h0M63.7 346.9h0M51 330.7h0M59 338.3h0M48.8 331.3h0M52.5 342.8h0M60.5 339.5h0M60.8 342.8h0M59.7 340.4h0M57.1 340.3h0M56.1 339.2h0M50.1 332.1h0M58.2 342.3h0M55.3 342h0M50.8 344.2h0M65 344.4h0M50.9 343.4h0M58.8 340.4h0M66.2 340.9h0M52.3 330.5h0M57.9 337.4h0M57.5 337h0M47.3 331.2h0M66 342.4h0M50.7 334.7h0M58.6 332.4h0M54.6 345.1h0M61.9 343.2h0M51.2 331.8h0M63.5 344.8h0M50.2 337.5h0M54.6 344.4h0M52.6 340.7h0M63.2 347.7h0M53 337.2h0M59.6 334.3h0M60.5 340.2h0M48.3 342.1h0M66.9 342.5h0M63.5 338h0M48.6 344h0M58.5 348h0M52.6 336h0M53.2 341.9h0M54.8 343.8h0M57 335.6h0M65.2 344h0M57.1 337.6h0M58.9 339.3h0M60.5 346.3h0M58.4 350.7h0M60.7 342.3h0M64.4 343.3h0M58.8 336.1h0M57.2 334.9h0M55.8 346.4h0M53.4 341h0M63.6 346.5h0M59.9 336.2h0M65 337.2h0M44.9 334.8h0M57.7 348.8h0M58.9 337h0M63.5 348h0M58.6 343.4h0M51.7 338.4h0M48.4 332.9h0M54.2 334.1h0M58.1 336h0M55 331h0M56.5 332.5h0M49.4 343.8h0M59.8 347.9h0M52.6 330.6h0M58 349.1h0M61.8 341.8h0M45.4 334.7h0M55.4 331.8h0M54 342.8h0M46.1 334.4h0M54.3 346.1h0M55.7 345.1h0M44.8 335h0M60 348.6h0M65.2 345.4h0M53.4 334.8h0M47.2 341.6h0M51.7 342.3h0M57.8 343.4h0M47.2 334.9h0M59.6 350.7h0M57.2 346.3h0M57 342.4h0M55.5 344.2h0M62 343.4h0M53.1 345.2h0M59 338.2h0M54.8 341.9h0M69.6 341.3h0M62.2 342.9h0M59.5 335h0M55.5 331.2h0M62.2 348.9h0M47.4 331.5h0M53.2 340.4h0M62.2 335.9h0M62.9 342.4h0M48.1 330h0M55.9 341h0M59.5 337.6h0M47.2 329.1h0M45.8 333.1h0M53.1 344.6h0M52.5 344h0M60 343.4h0M51.4 343.7h0M60.5 342.5h0M56.2 346.3h0M46.7 338.3h0M45.6 330.7h0M49.7 336.4h0M55 341.7h0M52.2 339.9h0M65.2 337.6h0M52 331.3h0M66.6 339.2h0M52.2 333.1h0M46.5 341.8h0M59.9 341h0M56.6 338.1h0M67.2 342h0M48.4 332.9h0M59.9 348.1h0M64.4 346.4h0M61.5 342.3h0M56 342h0M51.2 333.5h0M56.8 344.5h0M52.2 332.4h0M47.8 339.2h0M46.5 332.4h0M57.1 337.4h0M57.5 334h0M51.4 336.4h0M54.2 348.7h0M58.4 334.9h0M46.7 329.4h0M54.9 348.8h0M50.6 335.6h0M66 339.4h0M50.4 343.3h0M49.5 337.7h0M56.7 335.3h0M60.8 334.9h0M49 330.8h0M46.4 334h0M66.8 338.6h0M49.5 336.5h0M56.6 334.9h0M52.4 333.9h0M59.3 339.2h0M55.7 343.1h0M65.8 339.6h0M63.4 337.1h0M54.9 337.6h0M57.3 335.7h0M65.3 339.3h0M45.3 335.4h0M49.5 333.7h0M53.1 343.7h0M54.5 344.2h0M65.3 338.1h0M59.3 335.3h0M55.3 343.6h0M56.6 333.2h0M52.4 333.4h0M50.7 341h0M53.8 337.1h0M51.7 334h0M56.6 342.8h0M61.8 336.9h0M58 344.5h0M60.6 348.8h0M48.6 341.6h0M58.9 337.1h0M61.5 341.3h0M67.4 343.4h0M50.5 333.4h0M59.2 339.7h0M66.6 338.9h0M54.9 346h0M59.4 339.2h0M50.9 339.7h0M43.8 334.9h0M53.1 341.2h0M58.9 345.5h0M61.1 358.2h0M61 355.1h0M60.9 357.7h0M62 354.6h0M61.1 359.5h0M68.4 346.2h0M58.1 358.3h0M70.9 347.5h0M68.5 348.2h0M68.6 352.7h0M66.4 356.7h0M58.1 350.1h0M67.4 358h0M70.6 351h0M65.4 347.8h0M61.7 352.8h0M65.5 361.8h0M66.1 355.8h0M70.5 349h0M66.1 350.5h0M67.9 348.3h0M60.4 347.2h0M67.6 351.6h0M58.5 349.5h0M65.1 349.8h0M65.5 359.7h0M66.2 358.8h0M60.9 360.3h0M71.1 353.1h0M67.6 352.7h0M64.6 344.4h0M59.3 354.8h0M69.6 355.7h0M61.6 347h0M70 350.4h0M67.9 359h0M62 357.9h0M62.2 346.2h0M68 342.9h0M59.3 357.4h0M59 354.3h0M64.8 349.3h0M69.7 351.2h0M64.2 356h0M62.5 345.9h0M64.7 352.4h0M65.9 348.2h0M57.2 353.4h0M70.4 344.1h0M68.9 354.3h0M64.7 358.4h0M60.6 359.4h0M66.4 350.9h0M70.7 355.5h0M67.2 345.2h0M64.4 356.9h0M60.2 352.5h0M67.7 348.8h0M67.3 359.4h0M68.9 342.8h0M67 358.8h0M67.2 360.1h0M69.1 354.9h0M69.9 353.4h0M70.9 349.1h0M63.5 360.3h0M67 358.6h0M63.5 352.7h0M58.5 353.3h0M66.2 344.1h0M63.6 345h0M71 349.6h0M69.3 351.3h0M61.2 359.6h0M60.4 352.8h0M67.3 343.1h0M63.3 362h0M69.7 349.7h0M68.1 345.8h0M70.3 347.6h0M67 356.6h0M59.9 352.9h0M66.1 347.7h0M64.5 355.2h0M71.3 348h0M58.8 352.6h0M65.5 352.2h0M70.6 346.2h0M64.1 351.9h0M59.2 351.5h0M63.2 349.9h0M71.5 346.6h0M62 361.9h0M64.1 351.1h0M70.6 353.9h0M61.6 351.5h0M64.7 358.5h0M60.9 352.8h0M64.8 359.7h0M62.5 360.6h0M58.8 355.2h0M66 344.2h0M63.3 354.3h0M62.2 357.9h0M69.5 347.9h0M68.2 357.9h0M65.5 354.4h0M65.1 357.5h0M67.1 347.7h0M66.4 356.9h0M63.4 360.8h0M61 353.6h0M65.1 354.7h0M58.9 356h0M57.9 353.2h0M63.2 356.6h0M59.7 361.1h0M63.6 352.6h0M59.7 347.8h0M60.9 346.9h0M60.6 348.1h0M64.5 349.6h0M70.9 349.9h0M66.9 357.4h0M67.6 350.4h0M59.1 357.9h0M66.5 349.4h0M66.7 343.4h0M67.1 358.4h0M58.3 354.8h0M69.6 354.3h0M58.4 359.8h0M70.3 355.6h0M63 349.8h0M60.2 356.2h0M66.2 347.4h0M58.8 352.5h0M67.4 356h0M66.3 360.8h0M68.1 351.3h0M67.9 356h0M62 357.1h0M68 348.4h0M65.6 351.4h0M71.8 346.7h0M61.8 358.3h0M61.7 348.9h0M62.8 356.7h0M61.1 353.8h0M65.1 358.7h0M63.5 350.8h0M64.9 351.7h0M67.7 344.3h0M62.6 359.8h0M65.6 355.4h0M64.6 346.8h0M65.5 343.7h0M62.3 357.2h0M68 346.1h0M70.4 354.9h0M70.2 353.2h0M63.8 347.4h0M70.9 353.3h0M65.3 361.3h0M67.7 347.4h0M60.5 355.8h0M66.9 346.7h0M60 352.7h0M66.5 345.2h0M65.3 354.4h0M57.4 351h0M68.7 351.6h0M67.6 346.9h0M63 345.7h0M59.9 348.4h0M64.1 344.8h0M65 361.9h0M57.7 355.9h0M59.9 361.6h0M63.9 357.2h0M68.4 344.8h0M69.1 351.1h0M68.8 356.6h0M62 356.2h0M63 354.7h0M57.8 358.6h0M66.6 350.5h0M62.4 361.3h0M63.5 360.2h0M59.8 348h0M68.7 349.7h0M61.1 356.3h0M63.1 360.5h0M67.1 359.5h0M62.8 350.3h0M71.1 353.9h0M69.7 354.8h0M63.5 356.9h0M60.3 347.6h0M64.2 352.4h0M62 356.9h0M68.2 346.8h0M71.7 348.1h0M63.9 352.8h0M68.5 356h0M70.8 347.2h0M65.4 355.8h0M61.1 347.4h0M67.4 344.5h0M59.9 357.8h0M67.4 344.9h0M67.4 348.7h0M69.4 345.7h0M64.7 352h0M61.9 352.4h0M63 357.2h0M62.7 360.2h0M68 345.6h0M62.7 359.7h0M61.7 354h0M59.4 359.3h0M61.3 349.6h0M69.1 343.9h0M62.3 358.2h0M68.7 343.6h0M61.8 351.4h0M60.5 358.4h0M66.8 347.6h0M61.5 351.4h0M62.7 346.8h0M60.1 358.5h0M67.9 350.6h0M60.1 353.4h0M70.2 352.9h0M69 345.8h0M66.3 346h0M68 349.9h0M67.1 353.2h0M57.3 354h0M63.1 360h0M67.4 347.7h0M63.1 359.7h0M63.7 352.6h0M67.5 345.1h0M63.4 352.9h0M65.1 356.5h0M60.3 352h0M65 350.6h0M61.9 351.5h0M61.9 347.7h0M71.2 349.7h0M59.4 355.8h0M65 359.2h0M62.7 352.7h0M59.9 348h0M70.4 352.8h0M67.7 347.8h0M66.7 361.2h0M60.6 357.1h0M71.1 351.7h0M70.9 350.3h0M63 361.4h0M58.4 353.2h0M69 348.8h0M70.5 349.7h0M58.9 350.9h0M65 347.3h0M64.4 347.5h0M68.3 347.1h0M69.3 354.9h0M67.5 351h0M63 359.1h0M65 344.7h0M62.8 358.2h0M59.7 350.9h0M63.6 354.8h0M65.4 359.2h0M57.7 357.2h0M61.1 362h0M66 356.5h0M62.7 358.4h0M61.2 351.9h0M65.7 347.2h0M57.9 350.5h0M67.4 356.2h0M59.4 355.8h0M69.4 356.8h0M60.4 357.6h0M65.3 355.2h0M61.7 356h0M62.1 350.1h0M61.2 357.5h0M69.8 348.1h0M68.1 349.5h0M68 352.7h0M62.1 359h0M63.9 355.7h0M59.5 355.1h0M58.9 354h0M69.7 350.9h0M60.9 360.2h0M62.6 351.3h0M64.7 353.5h0M68.5 354.3h0M58.7 353.2h0M58.8 349.7h0M65.4 349.2h0M77 345.2h0M85.5 346.7h0M83.4 343.4h0M82 348.3h0M88.9 343.7h0M86.8 341.1h0M76.1 341.4h0M89.5 338.8h0M76 345.9h0M72.6 344.4h0M85.1 339.7h0M72.6 352.7h0M73.9 352.9h0M77.3 345.2h0M78.4 349.2h0M72.8 345.3h0M73.3 348.7h0M74.8 347.9h0M81.9 343.7h0M73.8 346.1h0M84.8 346.8h0M86.6 346h0M76.2 344.6h0M85.9 344.1h0M77.4 347.2h0M71.6 342h0M76.5 346.8h0M72.9 354.5h0M79.8 343.3h0M75.8 344.1h0M78.8 348.6h0M78.7 343.4h0M74.7 349.6h0M89.7 340.5h0M87.6 339.8h0M87.1 344.2h0M80.9 346h0M73.1 353.1h0M84.6 342.2h0M76.7 341.8h0M75.8 349.6h0M87.6 343.1h0M76 343.9h0M78.2 342.9h0M72.3 352.8h0M84.6 346.3h0M83.6 341.6h0M77.4 352.1h0M75.9 353.3h0M89.1 343h0M78.4 347.1h0M74.6 341.8h0M80.9 345.3h0M80.1 343.6h0M79.9 343.4h0M90.3 339.4h0M74.7 351.6h0M77.7 345.8h0M79.5 341.4h0M77.3 342.5h0M73.7 346.6h0M74.8 340.6h0M78 347.1h0M71.6 345.6h0M82.3 342h0M71.8 349.5h0M81.7 342.7h0M74.2 346h0M78.9 344.7h0M90 341.4h0M88 339.8h0M84.5 345.4h0M78.3 346.1h0M72.8 341.2h0M78.6 340.7h0M71.7 353.8h0M76.8 344.3h0M79 346.2h0M77.5 341.5h0M79.2 339.6h0M85.7 344.9h0M71.7 351.2h0M72.2 354.8h0M73.6 343.5h0M70.1 341.2h0M83.6 338.7h0M74.7 351.3h0M84.2 346.6h0M76.5 351.7h0M84.6 340.6h0M86.5 337.7h0M83.8 344.8h0M72.3 344.2h0M76.5 352.4h0M81.5 338.8h0M71.7 345.4h0M84.8 340.4h0M76.8 346.2h0M81.4 339.3h0M73.9 351.3h0M86.9 338.2h0M82.2 343.8h0M85.5 345.3h0M75.1 349.3h0M86.8 340.1h0M76.5 342.3h0M83 348.1h0M79 340.3h0M84.4 341.3h0M72.8 343.4h0M73.3 341.3h0M83.1 339.4h0M72.9 351.7h0M75.9 349h0M76 350.2h0M88.1 342.6h0M83.4 341h0M72.2 345.1h0M81.1 345h0M77.5 351.4h0M88.7 344.7h0M76.4 351.6h0M85.9 346.7h0M82.9 343.5h0M88 342.7h0M71.4 353.4h0M83 344.7h0M74.8 343.1h0M76.9 348.8h0M84.6 347.2h0M86.3 343.6h0M83.5 346.7h0M86.4 345.2h0M81.1 346.5h0M84.8 346.9h0M80.4 350.1h0M72.2 354.2h0M78.5 341.6h0M75.4 343.5h0M78.2 343.4h0M76.1 342.1h0M86.7 338.7h0M79.9 344.8h0M72.7 353.9h0M78.7 344.3h0M76.1 351.3h0M82.3 348.8h0M86.3 346.2h0M87.4 340h0M84.3 347.1h0M74.2 341.3h0M80.4 346.5h0M85 340.1h0M87 345.1h0M74.7 345h0M72 346.9h0M84.1 344.6h0M89.7 341.3h0M76.6 347.7h0M77.7 347.8h0M72.5 341.7h0M75 352.5h0M75.4 340.6h0M85.1 340.7h0M73 350.3h0M81.7 347.4h0M71.3 344.3h0M87 345h0M80.7 347.8h0M88.8 344.5h0M79.3 347.6h0M81.4 342.9h0M84.6 346.3h0M85.9 337.9h0M80.3 343.6h0M80 349h0M80 343.7h0M76.3 351.9h0M71.8 346.6h0M71.8 344.3h0M80.9 340.1h0M76.4 352.2h0M84.9 344.7h0M85 340.9h0M76.9 342.5h0M74.5 347.3h0M82.8 343.4h0M82.8 343.3h0M90.6 339.7h0M72 346.6h0M80.2 345.2h0M71.9 353h0M75.5 352.2h0M76.7 349h0M79.9 346.7h0M80.5 341.8h0M73.2 341h0M74.7 353.8h0M86.1 341.1h0M71.9 345h0M78.8 346.3h0M85.1 341.3h0M75.3 343.3h0M73.4 345.4h0M82.6 342.2h0M72.9 350.9h0M71.8 353.3h0M82.9 341.3h0M74.2 350.9h0M75.4 348.2h0M73.4 341.6h0M86.8 344.4h0M82.3 343.7h0M80.3 343h0M76.7 348.8h0M77.7 342.4h0M76.1 348.5h0M75.7 347.1h0M76.8 352.6h0M74.4 351.3h0M71.6 346.3h0M78.9 349.4h0M71.6 353.5h0M66.8 364.2h0M66.7 366.7h0M66.1 371.1h0M67.2 368.5h0M66.4 364.1h0M66.9 364.8h0M66.7 363.8h0M67.1 364.6h0M65.4 364.9h0M66.6 369.6h0M66.1 370.7h0M67 362.7h0M66.3 365h0M67.9 370.9h0M66.1 368.4h0M65.7 364.4h0M67.7 369.7h0M66.7 367.9h0M67.5 368.9h0M67.6 367.9h0M66.2 362.3h0" stroke="#00BFC4" stroke-width="1.0" stroke-linecap="round"/>
<path d="M69.2 376.3h0M70.5 377.5h0M69.4 384h0M66.4 383.9h0M70.7 379.2h0M67.2 382.9h0M67 382.4h0M74.9 384.3h0M80.8 382.6h0M66.1 382.9h0M64.8 382.8h0M69.3 380.5h0M77.7 385h0M72.3 383.3h0M79.4 382.1h0M69.7 384.6h0M70.6 384.3h0M69.9 377.3h0M79.7 376.7h0M76.1 377.1h0M76.1 377.9h0M65.6 374.4h0M74.4 371.7h0M73.2 383.8h0M64.9 381h0M70.4 370.7h0M65.3 380.3h0M66.6 369.8h0M76.2 378.6h0M76.8 382.8h0M77.4 375.4h0M71.3 384.2h0M70 383.8h0M71.2 385.1h0M71.8 371.8h0M73.8 375.6h0M69.8 383.4h0M76.1 386h0M65.1 371.2h0M75.2 377.5h0M79.1 376.9h0M63.9 377.1h0M67.5 382.6h0M77.6 383.7h0M65 378.6h0M65.7 380.1h0M73.5 371.1h0M64 373.8h0M64.4 376.5h0M75.2 384.7h0M67.7 377.1h0M75.4 374.4h0M68.6 375.3h0M78 375.1h0M68.6 373.9h0M67.1 371.7h0M70.1 382.8h0M74.9 385.9h0M68.7 374.2h0M67.4 377.4h0M65.2 382.7h0M72.1 376.3h0M66.5 374.1h0M75.1 386h0M73.9 373.4h0M67.3 376.2h0M71.1 373.8h0M80.1 381.3h0M79.7 378.7h0M76.3 376.5h0M74.9 383.4h0M75.7 382.5h0M74 374.9h0M77.4 384.2h0M67.2 371.8h0M66.3 372.4h0M66 374.4h0M76.5 374.4h0M71 373.5h0M74.6 375.4h0M72.7 385.7h0M72.6 385.2h0M70 385.9h0M75.6 373.4h0M72.5 381.6h0M76.7 377h0M66.5 383.6h0M69.7 373.5h0M69 385.6h0M65 382.5h0M73.5 373.1h0M70.2 374.4h0M75.1 376.2h0M70.7 380.3h0M69.3 370.4h0M71.9 383.7h0M67.3 373.6h0M66.8 381.3h0M79 376.9h0M67.9 371.2h0M63.1 381h0M76.3 374.4h0M71.5 382h0M75.5 380.6h0M68.7 380.6h0M68.5 376h0M77.8 382.7h0M73.8 382.7h0M78.6 375.6h0M64.1 376.6h0M64.8 378.1h0M71.9 375.9h0M75 384.3h0M69.4 376.9h0M65.9 383.6h0M69.5 375.1h0M66.8 378.1h0M72 374h0M64.1 375.8h0M74.5 379.4h0M79.7 381.4h0M75.3 384.3h0M78.6 381.8h0M68.9 373.8h0M70 383.2h0M68.3 377.5h0M69.3 379.9h0M70.4 383.6h0M70.4 385.6h0M67.9 377.6h0M66.1 383.8h0M71.6 383h0M75.4 373.5h0M79.7 382.3h0M67.4 378.8h0M69.3 377h0M64 377.1h0M70.6 384.9h0M73.3 384.1h0M73.3 384.8h0M76.5 380.1h0M66.5 372.7h0M71.5 384.3h0M75 376.3h0M73.3 374.9h0M70.1 372.1h0M65.6 381.9h0M78.5 377.7h0M80.3 381.1h0M72.7 379.3h0M76.5 375.4h0M68.1 372.6h0M79.8 378.3h0M67.6 370.1h0M76.7 383.7h0M68.2 378.9h0M75.4 376.8h0M70.4 384h0M67.6 378.6h0M76.2 374.6h0M69.8 375.7h0M63.8 378.3h0M73.5 379.3h0M71.4 374h0M75.9 373.2h0M67.7 372h0M64.1 372.5h0M75.2 375.7h0M71.2 372.9h0M67.6 380.7h0M75.4 385.3h0M72.8 384.2h0M66.3 382.3h0M65 372.7h0M76.7 374.9h0M69.5 381.5h0M67.5 383.6h0M78.7 377.5h0M79.8 383.4h0M70.5 374.1h0M71 378.4h0M73 373.7h0M72.8 379.5h0M73.6 383.8h0M72.4 373.7h0M66.5 377.6h0M75.6 373.5h0M67.2 370.4h0M73 375.4h0M74 371.6h0M66.6 370.9h0M74.6 381.4h0M70.8 383h0M77.4 383.7h0M74.6 376.6h0M70.5 382.5h0M68.3 373.1h0M74.8 383.1h0M73.7 374h0M68 380.5h0M79.4 381.7h0M63.8 378.9h0M69.1 372.9h0M64 378.8h0M67.8 374.7h0M72 384.3h0M68 378.8h0M74.6 381.8h0M71.3 381.5h0M75.2 380.9h0M63.9 381.8h0M68.8 376.4h0M66.3 375.7h0M74.2 379.8h0M71.1 383.4h0M64.6 373.6h0M77.4 376.7h0M77 383.8h0M80 380.3h0M71.8 382.6h0M65.5 383.3h0M68.5 376.5h0M69.1 382.8h0M70.2 384.4h0M71.9 375h0M74.9 381.1h0M74.4 383h0M66.1 372.5h0M66.1 378.8h0M76.5 376.5h0M68.9 374.5h0M72.7 380.4h0M68 376.2h0M69.9 374.8h0M64 381.7h0M67.1 376.1h0M75.7 382.6h0M78.6 379.6h0M69.9 375.4h0M69.4 374.7h0M66.5 373.8h0M71.5 376.8h0M63.5 377h0M74.6 384h0M70.2 379.3h0M77.1 378.1h0M72.7 371.5h0M75.3 381.4h0M68.5 380.2h0M66.8 370.8h0M69 378.3h0M70 373.3h0M80.4 380.9h0M68.1 370.2h0M75.9 384.7h0M76 380.7h0M80.4 380.8h0M65.2 377h0M70.1 378.8h0M65.8 379.7h0M75.7 373.6h0M74.2 374.9h0M75.1 377h0M76.8 377.4h0M69.2 375.9h0M78.2 378.2h0M70.5 377h0M73.4 376.7h0M75.8 375.9h0M68.1 371h0M71.2 372.1h0M66.5 372h0M69.4 384.5h0M72.2 373.7h0M71.5 376.8h0M72.1 385.8h0M74.4 373.1h0M66 371.5h0M65.8 371.3h0M71.8 371.4h0M68.6 370.5h0M69.6 373.8h0M76.1 385.8h0M66.4 376.9h0M74.1 385.8h0M64.2 380.1h0M70.3 377.5h0M75.6 380.8h0M70 382.8h0M73.5 372.9h0M66.5 372.4h0M77.6 383.7h0M65.9 379h0M75.3 378.5h0M70.7 376.4h0M71.2 375.4h0M68.1 384.9h0M64.3 379h0M66.2 375.2h0M70.5 379.4h0M70.6 374.5h0M77.5 383.7h0M73.7 382.3h0M70.5 385.6h0M75.9 384.1h0M66 380.8h0M75 380.8h0M65.1 378.5h0M79.4 377.2h0M77.5 379.4h0M79.4 378.4h0M67.8 370.9h0M77 380.1h0M79.6 383.1h0M76.8 375.3h0M65.5 374.6h0M71.3 384.3h0M75.8 375.3h0M69 378.3h0M72.7 381.3h0M74.6 372.1h0M78.7 382.6h0M72 371.5h0M71.2 383.7h0M67.9 374.4h0M75.5 381.6h0M78 375.7h0M63.9 380.7h0M67.3 383.9h0M68.9 374.8h0M63.7 374.7h0M65.2 373.3h0M72 378.5h0M65.6 370.8h0M63.3 379.5h0M69.1 371h0M71.4 372.1h0M64.4 377.6h0M67.3 374.9h0M71.9 385.9h0M73.9 378.7h0M68.4 376.8h0M67.8 383.4h0M79.7 383.2h0M70.4 381.2h0M68.3 382.5h0M73.3 382.3h0M78.3 382.7h0M64.9 373.3h0M69.7 383.8h0M65.5 382.5h0M68.9 370.9h0M70 371.9h0M76.1 374.9h0M69.8 375.3h0M68 378.8h0M65.4 379h0M71.9 372.2h0M74.3 381.2h0M76.3 378.9h0M71.3 376.2h0M73.1 383.3h0M71.2 377.2h0M75.4 382.3h0M68.9 379.2h0M77.7 379.5h0M69.2 380h0M64 380.6h0M73 384.4h0M67.2 369.4h0M68.9 376.3h0M75.3 374.3h0M76.9 383.5h0M64.2 373.4h0M73.2 385.4h0M71.3 384.6h0M78.7 377.2h0M70.1 382.7h0M66.2 381.8h0M66.4 377.4h0M79.9 377.9h0M72.5 378h0M71.7 377.2h0M64.2 379.5h0M69.3 381h0M67.6 384.5h0M71.3 383.2h0M72.4 373.8h0M70.8 373.8h0M72.5 375.2h0M73.2 383h0M74.4 376.1h0M72.1 382.6h0M64.2 376h0M64.5 378.6h0M65.4 374.8h0M69.7 382.7h0M66.7 372.9h0M70.6 379.4h0M66.7 373.4h0M79 384.2h0M81.7 388.1h0M80.9 387h0M86.2 391.5h0M84.7 391.6h0M86.8 393.7h0M84.1 390.6h0M81.1 388.5h0M80.1 385.7h0M79.2 385.3h0M86.8 393.3h0M77.5 384.8h0M79.1 384h0M83.6 387.9h0M85.6 392.3h0M87.4 393.9h0M82.8 387.8h0M80.9 387.4h0M86.9 391.8h0M83 389.5h0M79.9 386.7h0M81.1 386.5h0M79.3 386.9h0M78.7 384.1h0M84.1 390.1h0M80.2 386.2h0M82.6 388.8h0M83 387.9h0M85.3 390.7h0M86.4 391.8h0M87.1 392.2h0M83.6 391.3h0M80.5 387.5h0M84.4 388.6h0M84.1 389.7h0M78.2 385.2h0M84.2 391.7h0M79.6 385.1h0M84 389.5h0M79.5 385h0M82.3 388.3h0M82.6 388.3h0M82.7 389.3h0M80.5 386.5h0M85.9 392.9h0M85.1 392.6h0M82.3 389.5h0M86.2 391.7h0M85.7 391.6h0M84.3 389.1h0M85.7 391.1h0M82.3 388.3h0M84.8 392.5h0M90.2 399.1h0M86.2 394.9h0M89.5 396.1h0M91.9 397.8h0M86.4 398.3h0M86.1 393.8h0M86.8 396.6h0M90.1 394.6h0M87.1 397.8h0M83.9 394h0M88.2 393.3h0M89.7 394.1h0M86.8 394.4h0M87.9 394.5h0M87.9 395.9h0M86.4 392.5h0M86.6 398h0M84.6 396.1h0M87.2 394.9h0M90.4 397.5h0M86.4 397.9h0M84.9 393h0M86.5 394.7h0M87.7 397.2h0M84.8 396.6h0M87.7 398h0M84.1 393.7h0M88.3 394.9h0M89.9 396.6h0M86.3 394.4h0M90.3 396h0M84.4 394.6h0M90.3 398.8h0M89.8 395.8h0M90 399.9h0M90.2 398.1h0M86 394.1h0M86.6 395.8h0M86.4 392.3h0M89.8 394.7h0M85.2 394h0M86.3 397.1h0M91.5 399.4h0M89.4 396.6h0M89.3 396.1h0M90.8 398.4h0M86.3 394h0M88.9 395h0M86.7 393.7h0M89.2 398.1h0M88.5 395.4h0M88.8 393.8h0M86.3 396.1h0M84.5 392.7h0M86.3 394.8h0M85.8 394.9h0M90.9 395.6h0M88.7 397.2h0M90.4 397.7h0M90.9 397h0M86.5 392.1h0M89.2 393.5h0M90.2 397.3h0M87.8 398.8h0M86.2 397.4h0M86.3 393.2h0M88.7 394.1h0" stroke="#619CFF" stroke-width="1.0" stroke-linecap="round"/>
<path d="M153.9 346.5h0M164.8 354.2h0M176.5 351.9h0M166 354.5h0M165.3 354.3h0M193.2 352.1h0M159.8 340.4h0M162.4 340.7h0M170.4 335.5h0M171.9 346.5h0M160.8 341h0M161.8 338.4h0M192.7 352.1h0M155.6 339.3h0M168.8 337.6h0M172.8 347.9h0M154.1 344.9h0M156.2 350.4h0M192 347.6h0M178.8 341.2h0M175.1 339.2h0M179.6 347.2h0M173.6 338h0M171.4 337.4h0M163.2 338h0M155.9 344h0M167.9 352h0M167.4 336h0M174.8 346.2h0M192.1 352.5h0M175.6 327.3h0M177.7 343.9h0M190.8 354.7h0M182 341.9h0M168.9 354.1h0M178.4 343.4h0M194.3 355.1h0M180.2 339.5h0M163.2 354.9h0M192.4 351.2h0M161.2 336.7h0M162.9 346.3h0M182.1 345.4h0M183.9 345.1h0M177.8 338.2h0M168.3 335.5h0M170.6 338.9h0M167.1 340h0M183.6 348.3h0M176.7 337.8h0M161.3 338h0M155.7 348.5h0M157.9 337.5h0M163.5 343.4h0M189.9 346.8h0M155.3 340h0M158.9 339.1h0M161 349.7h0M163.3 351.3h0M172.4 342.5h0M165 344.2h0M163.2 342.3h0M175.1 340.1h0M168.6 342h0M177.8 335.4h0M163.2 337.3h0M161.5 346.3h0M176.4 349.9h0M180 346h0M163.2 339h0M158.1 352h0M191.3 347.4h0M174.5 335.5h0M176 351.1h0M174.2 344.8h0M165.4 342h0M165.8 348.1h0M169 340.1h0M175.3 345.2h0M179.1 348.3h0M190.2 346.8h0M172 342.9h0M157.2 346.4h0M184.9 351.6h0M181.3 332.7h0M188.3 353h0M181 342.1h0M180.8 328.8h0M178.8 346.8h0M184.2 347.5h0M159.6 353.4h0M176.5 328.2h0M164 337.4h0M174 351.5h0M192.4 350.6h0M166.9 335.7h0M157.8 343.5h0M169.4 344h0M171 347.3h0M174.1 347.8h0M161.9 346.3h0M172 341.6h0M169.7 354.6h0M165 352.3h0M165.4 349.2h0M177.1 345.4h0M166.5 345.7h0M187.1 350.6h0M167.5 332.3h0M179.4 351.6h0M159 343.3h0M183.4 349.2h0M166 355.2h0M175.1 338.9h0M179.3 345h0M193.6 358.3h0M179 336.9h0M187 354.7h0M194 357h0M157.3 338.8h0M174 353.1h0M156.6 339.1h0M193.3 357.7h0M166.7 340h0M178.5 337.5h0M170.7 330.8h0M192.3 347.1h0M164.8 353.8h0M165.6 355.8h0M180.3 338.9h0M174.3 347.4h0M175.3 331.5h0M175.4 345.2h0M170.8 334.7h0M188 355.1h0M187.5 346.7h0M170.6 340.8h0M175.3 326.4h0M153.9 347.6h0M193.2 348.9h0M156.4 345h0M189.1 356.4h0M166.1 343.8h0M156.5 338.8h0M166.2 334.4h0M171.9 338h0M176.6 327.2h0M175.4 346.2h0M166.3 341.7h0M180.2 346.5h0M158.1 337.4h0M176.2 351h0M175.7 340h0M179.4 333.1h0M163.2 339.7h0M172.5 337.3h0M175 353.7h0M172.2 346.2h0M178.7 328.8h0M177.9 349.1h0M170.9 330.9h0M160.6 339h0M163.7 341.3h0M184.2 353.9h0M158.9 340.6h0M172.6 330.9h0M159.2 351.9h0M162.6 350.7h0M161.8 352.5h0M178.8 339.8h0M155.8 348.9h0M170.5 342.7h0M170.4 331.8h0M173.6 345.5h0M164.3 344.6h0M181.2 332.6h0M180.1 330.5h0M169.6 337.4h0M172.4 342.7h0M173.1 349.4h0M175.5 335.9h0M177.6 330.2h0M174.7 330.8h0M175.3 336.6h0M158.2 345.4h0M170.6 349.7h0M177.5 337h0M174.7 332.8h0M164.4 339.8h0M172.1 336.6h0M193.7 358.1h0M178.1 349.1h0M155.5 343.2h0M190.6 354.5h0M183 350.9h0M161 348h0M163.8 355.2h0M162.4 354.2h0M180.6 347h0M162.6 340.7h0M182.4 350.3h0M179.5 343.6h0M171.5 335.6h0M174.1 331.8h0M169 351.1h0M188.7 352.7h0M173.3 348.5h0M170.4 333.7h0M172.5 350.3h0M170.3 341.9h0M175 345h0M162.5 339.8h0M171.6 351.1h0M180.6 344.6h0M157.8 347.8h0M161.2 355.4h0M172.7 352.1h0M178.1 332.4h0M182.1 342.6h0M188.4 355h0M168.1 338.5h0M174.6 337.6h0M164.2 340.3h0M172.3 346.9h0M185.4 346.3h0M182.8 346.7h0M168.3 350.5h0M160.5 342.5h0M167.7 344.5h0M188.7 351.1h0M180.5 353.2h0M181.4 331.8h0M178.7 350.2h0M155 344.7h0M187.1 355h0M178.5 341.4h0M171.7 334.5h0M156.6 349.9h0M161 337.9h0M176.9 340.1h0M178.1 335.2h0M176.5 335.1h0M174.2 339.6h0M176.5 344.1h0M178.7 338.7h0M168.4 338.2h0M175.3 326.3h0M180 346.9h0M162.6 355.6h0M181.2 353.6h0M164.3 342.9h0M175.7 335h0M160.3 343.1h0M182.5 342.4h0M187.7 352.1h0M183.8 348.9h0M174.8 326.2h0M175 349.6h0M164.1 346.8h0M180.1 337.4h0M167.2 353.3h0M169.2 351.5h0M174.1 326.8h0M177.7 341.8h0M184.4 353.5h0M171.5 333.5h0M176.3 328.6h0M157.2 342.3h0M190.8 354.1h0M173.8 326.5h0M169.3 344.1h0M164.7 350.8h0M174.9 349.2h0M160.6 342.5h0M177.2 353.3h0M176.6 341.3h0M177.6 338.9h0M171.2 354.3h0M162.2 337.2h0M157.6 340.6h0M166.3 353.7h0M178.6 327.9h0M179.1 327.7h0M170.4 339.3h0M162.8 346h0M188.8 347.3h0M179.1 330h0M175.6 326.6h0M191 347.9h0M170.8 339.2h0M181.5 331.5h0M179.1 342.4h0M165.7 343.9h0M178.9 335.1h0M161.8 349.9h0M157.5 347.2h0M167.9 346.9h0M180.1 348.7h0M165.1 346.2h0M163.9 356.7h0M155.6 338.2h0M167.8 349h0M163.2 344.5h0M183.4 348.5h0M172.4 326.2h0M172.2 343.5h0M176.4 340.5h0M176.7 340h0M191.3 357.9h0M176.1 336.6h0M155.2 339.9h0M166.6 338.9h0M179.9 344.1h0M192.3 353.4h0M172.2 351.1h0M177.5 327.2h0M157.1 350.7h0M175 346.8h0M169.6 334.1h0M162.8 341.9h0M172.9 343.4h0M173.2 350h0M161.9 338.8h0M174.3 329.2h0M180.1 344.2h0M165.6 348.8h0M186.2 353.2h0M191.3 353.8h0M154.3 341.9h0M172.9 334.6h0M158.2 340.2h0M159.6 353.4h0M159.9 345.6h0M166.2 334.7h0M161.6 339.2h0M173.8 332.1h0M166.8 353.6h0M157 346.9h0M167.6 332.5h0M182 347h0M167.7 346.6h0M173.1 329.3h0M171.9 344.3h0M171 347.7h0M160.5 341.2h0M180.2 350.6h0M194.2 355.4h0M177.4 351.9h0M180.7 348.6h0M168.8 343.7h0M168.9 334.8h0M170.8 338.4h0M159.7 350.8h0M181 339.3h0M188.1 352.4h0M169.6 354.5h0M157.8 337.3h0M172.3 341.3h0M159.3 345.8h0M185.9 349.9h0M170.5 352.5h0M190.9 348.2h0M178.3 347.7h0M162.2 349h0M158.8 350.5h0M167 351.1h0M169.7 342.2h0M172.6 326.7h0M173.3 340h0M161.7 352.3h0M167.1 335.2h0M180 345.1h0M181.5 349.8h0M161.5 340.4h0M160.4 341.1h0M171.1 353.6h0M178.9 347.4h0M178.4 333.8h0M162.5 355.8h0M172.2 350.3h0M174.2 332.3h0M169.5 336.7h0M171.6 338.5h0M182.3 341.6h0M163.9 351.1h0M163.4 355.1h0M176.2 353.8h0M184.6 351.7h0M165 355.4h0M162.8 345.6h0M186.9 351h0M171.4 335h0M167.7 336.9h0M169.4 341h0M157.3 343.8h0M178 336.5h0M186.2 352.3h0M165.9 349.5h0M178.3 350.3h0M185.4 344.3h0M177.3 340.3h0M169.9 341.4h0M190.3 354.3h0M161.3 348h0M167.4 343.8h0M165.2 347.7h0M162.2 347.9h0M158.5 348.9h0M184.5 347.1h0M170.2 330.1h0M162.6 354h0M183.7 347.8h0M171.4 350h0M181.3 339.6h0M162.1 350.9h0M155.9 345.9h0M169.9 338.3h0M167.1 344.8h0M165.7 349.4h0M164 353.6h0M173.6 353.8h0M171.8 331.6h0M180.8 352.1h0M172.8 340.4h0M188.7 355.6h0M159.4 345.9h0M192.9 355.3h0M175.7 325.9h0M183.2 344.6h0M165.5 344h0M172.1 335.1h0M168.5 333h0M186.8 354.6h0M179.6 333.1h0M164.4 352.5h0M186.9 354h0M176.5 331.6h0M191.6 348.6h0M175.4 340.2h0M166.5 335.8h0M184.7 348.6h0M178 330.9h0M179.4 343.8h0M166.6 353.3h0M185.4 351.4h0M172.1 334.2h0M166.6 345.3h0M187 354.1h0M189.8 357.4h0M179.5 344.9h0M187 347.6h0M160.3 338.8h0M180.7 333.9h0M165.1 355.5h0M177 343.9h0M175.9 331.3h0M154.9 342.5h0M162.8 355.2h0M173.5 337h0M191.6 347.2h0M186.7 350.8h0M182.3 352.3h0M168.7 342.9h0M165.5 353.6h0M170.6 338.1h0M160.7 345.2h0M170.2 340.5h0M163.7 346.5h0M186.8 349.3h0M176.8 333.5h0M192.5 358h0M168.7 347.6h0M171.6 353.1h0M171.2 354.4h0M178.4 341.1h0M170.1 351.4h0M177 348h0M161.6 345.3h0M189.6 356.7h0M176 335.3h0M169.6 351.2h0M178.8 340.8h0M180.3 342.7h0M191.3 352.9h0M172.3 348.3h0M157.5 337.4h0M178.5 346.6h0M173.3 335.7h0M169 339.7h0M180.9 332.8h0M161.3 338.1h0M191.3 357.5h0M176.1 351.5h0M174.4 333.3h0M179.6 350.2h0M181.1 331h0M168.4 334.5h0M177.5 338.8h0M156.7 348.9h0M171.4 338.2h0M168.1 344.2h0M180.1 353.6h0M165.4 348.7h0M172.3 338.5h0M179.9 352.5h0M180 331.9h0M170.6 334h0M192.7 349.7h0M168.4 338.6h0M187.9 351.1h0M173.6 350.5h0M175.5 334.7h0M168.3 343.5h0M166.4 336.4h0M166.6 340.4h0M164.1 344.4h0M170.8 349.9h0M179.8 327h0M178.5 352.2h0M175.4 346.4h0M189 353.2h0M181.8 347.3h0M161.1 345.5h0M178.8 347.2h0M191.9 350.7h0M176.9 350.5h0M160 343.4h0M165.5 338.1h0M189.9 352h0M156.5 343.9h0M174.6 333.2h0M171.3 354.2h0M168.4 338.5h0M157.8 343.1h0M173.7 330.7h0M167.3 351.6h0M170.4 342.6h0M164.6 355.5h0M176.4 350h0M165.2 344.3h0M154.5 344.5h0M173.8 333.7h0M160.9 347.1h0M175.1 336.1h0M178.4 342.5h0M193.6 358.8h0M167.3 332.6h0M160.8 341.6h0M181.8 340.3h0M174 336.3h0M178.6 344h0M156.7 342.4h0M167.7 347h0M164.9 339.3h0M169.1 352.1h0M176.3 327.9h0M159.1 347.7h0M172.9 334h0M189.5 349.9h0M178.4 326.5h0M172.6 327.1h0M158.9 341.2h0M157.3 339.3h0M160.1 341.6h0M194 352.5h0M183.8 353.6h0M174.7 353.9h0M156.3 344.9h0M172.8 346.1h0M170.7 331h0M168.7 331.9h0M167.3 340.6h0M157.5 345.9h0M159.3 348.6h0M163.1 345.1h0M189.7 346.7h0M167 338.1h0M174.6 333.1h0M169 342.1h0M171.9 341.5h0M182.2 352.3h0M159.3 343.2h0M165.7 354.5h0M157.5 343.4h0M160.2 339.4h0M158.3 345.1h0M165.7 334.9h0M184.8 354.2h0M176.9 335.1h0M159.1 350.3h0M179.2 337.5h0M178.8 343.2h0M161 342.9h0M182.2 353.3h0M159.9 352.4h0M166.6 355.8h0M175.1 342.8h0M171.1 346.1h0M176.9 344.7h0M179.1 329.4h0M171.4 346.2h0M178.9 347.2h0M175.5 336.3h0M161.1 342.8h0M194.2 356.1h0M170 353.9h0M174 325.7h0M183.1 351.8h0M161.7 347h0M168.6 353.4h0M174.2 335.9h0M188.4 353.8h0M165 342.7h0M169.7 336.5h0M162.8 348.9h0M174.5 340.3h0M163.5 336.5h0M189.6 350.3h0M176 347.7h0M186.1 353.3h0M185.1 344h0M171.6 340h0M191.1 354h0M158.8 338.7h0M172.3 352.8h0M186.3 351.7h0M192.6 353.1h0M166.5 350.5h0M194.4 352.2h0M167.2 350.2h0M169 355.1h0M180.6 347.2h0M177.4 337.6h0M162.1 349.3h0M182 343h0M169.2 337.9h0M181.8 352.7h0M189.9 357.1h0M181.3 341h0M173.2 353h0M181.8 352.6h0M171.5 348.1h0M179.4 328.3h0M155.5 341.2h0M176.6 352.1h0M165.9 338.2h0M160.2 339.4h0M166.9 348.4h0M170.4 347h0M162.1 350.7h0M166 339.4h0M169.6 335.5h0M170.8 345.2h0M178.7 326.8h0M192.7 355.7h0M161.7 352.9h0M176.1 349.3h0M180.9 351.3h0M172.8 330.4h0M166 353.3h0M166.9 340.7h0M192.7 353.3h0M179.2 349.7h0M166.7 346.3h0M169.5 342.4h0M172.2 341.9h0M170.6 332.3h0M172.5 326.6h0M188.6 352.2h0M172 348.1h0M162.6 352.3h0M170.4 335.9h0M177.2 331.3h0M156.5 346.5h0M158.3 345.1h0M173 342.3h0M168.4 336.2h0M163.7 339.1h0M182.8 354h0M190.4 351.4h0M167.8 338.9h0M180.8 345.5h0M168.1 351.6h0M181 338.9h0M174.5 331.2h0M182.5 351.2h0M164.4 335.2h0M170.7 350.8h0M194 352.4h0M179.7 338.2h0M158.4 346.4h0M157.4 351.2h0M155.6 349.8h0M192.8 350.7h0M173.9 335.9h0M158.6 344h0M168.2 350.3h0M159.8 339.7h0M175.5 345.2h0M166.6 335.2h0M186.5 348.2h0M176.5 343h0M157.3 341.8h0M185.4 344h0M168.8 352.7h0M193.4 352.5h0M174.5 350.3h0M180.8 333.4h0M154.9 344.6h0M172.4 336.6h0M165.9 353.8h0M193.8 354.4h0M169.1 337.8h0M185.2 354.7h0M188.5 350.9h0M191.1 351h0M167.6 332.8h0M193.2 354.5h0M176 332.8h0M173.9 345.3h0M165 340.7h0M167.5 332.3h0M184.9 344.1h0M168.2 346.7h0M158.9 345h0M175.7 333h0M167.5 335.7h0M185.1 343.9h0M160.9 346.4h0M169.8 351.9h0M163.9 337.5h0M178.4 348.3h0M159.9 344.8h0M191.9 353.6h0M164.3 356.4h0M177.8 330.7h0M161.5 354.6h0M160.1 340h0M172.1 336.9h0M193.3 355.6h0M176.6 329.5h0M172.6 333.2h0M174.8 334.2h0M169.2 339.4h0M184.6 344h0M189.7 355.4h0M169.7 344.7h0M160.3 342.4h0M172.3 341.8h0M176.9 338.1h0M166.3 333.2h0M157.1 338.7h0M180.6 329h0M174.8 328.1h0M177 346.7h0M174.8 327.6h0M171.6 354.8h0M180.7 344.9h0M190.4 346.9h0M164.1 347.6h0M155.4 349.7h0M161.9 340.7h0M179.7 334h0M178.9 328h0M181.2 349h0M173.3 337.6h0M171.1 346.7h0M176.3 348.6h0M193.3 352.8h0M178.6 328.4h0M179.4 345.6h0M164.8 351.3h0M172.9 342.5h0M178.2 350.8h0M161.8 346.9h0M192.9 349.3h0M170.2 336.7h0M180.4 333.4h0M164.9 347.4h0M158.4 346.2h0M185.4 354.8h0M170.1 346.7h0M171.6 345.8h0M169.8 338.8h0M163.3 335.8h0M161.1 349.7h0M170.3 352.5h0M170.5 342.7h0M164.3 341.4h0M174.4 329.3h0M172.5 326.8h0M175.2 348.1h0M178.3 327.6h0M168.1 338.8h0M186 347h0M176.8 340.5h0M166.8 339.4h0M172.1 350.4h0M169.1 353.2h0M167 332.6h0M179.6 342.8h0M164.2 336.4h0M155.3 348.5h0M157.8 343.1h0M192.5 358.6h0M180.2 348h0M180.1 332h0M173.9 327.3h0M166.9 343.1h0M180 333h0M192 347.1h0M163.4 340.1h0M169.8 350.1h0M177.4 352.3h0M169.8 346.4h0M161.2 340.1h0M179.1 348.9h0M172.5 352.1h0M182.3 342.9h0M157.1 338.6h0M181.1 330.2h0M172 339h0M165.3 339.1h0M181.8 345.6h0M169.5 351.4h0M174.1 336.6h0M188.4 347.8h0M156.4 342.9h0M177.7 337.7h0M172.2 353.2h0M172.5 339.8h0M189.9 347.8h0M181.9 351.3h0M161.5 347.5h0M184.6 353h0M174.4 328.3h0M157.2 346.7h0M172.2 336.5h0M165.1 342.1h0M191.7 351.9h0M167.9 348.5h0M191.7 358.7h0M192.3 351.6h0M155.3 347.3h0M167 349.4h0M168.2 352.1h0M171.7 337.3h0M171.8 344.7h0M164.1 350.5h0M158.6 341.7h0M167.3 353.8h0M157.8 341.7h0M181.3 350.5h0M173.1 344.4h0M176.6 345.1h0M171.8 352.9h0M168.5 332.9h0M164.1 335.2h0M173.1 335.6h0M171.4 345.2h0M168.2 336.7h0M181.4 348.2h0M182.5 350.3h0M169.9 332.6h0M177.5 328.4h0M171.5 346.3h0M182 350.7h0M180.1 341.4h0M169.4 340.7h0M175.9 348.3h0M172.3 326.4h0M169 349.2h0M181.1 350.2h0M154 344.6h0M174.9 346.5h0M161.8 354.4h0M177.8 333.6h0M167.7 346h0M164.5 339.6h0M171.1 343.4h0M169.8 332.9h0M176.3 345.4h0M157.5 342.9h0M160 349h0M190 349.8h0M160.3 344.8h0M168.7 334.5h0M170.1 340h0M166.9 333.8h0M164.6 353.8h0M159.6 337.8h0M179.2 334.5h0M189.2 353.8h0M161.2 355.4h0M176.2 352h0M162.9 344.8h0M173.4 331h0M170.8 335.8h0M180.8 347.2h0M170.8 335.2h0M166.8 342.9h0M156.2 346.4h0M180.7 351.1h0M182 349.6h0M159.8 353h0M174.4 329.4h0M168.5 346.2h0M193 348.7h0M169.7 338.4h0M167.1 345.6h0M176.3 328.1h0M164.6 340.2h0M170.1 335.9h0M176.6 340.6h0M180 330.8h0M176.9 327.5h0M174 327.2h0M176.8 333.1h0M178.3 348.4h0M190.6 349.8h0M180.8 339.4h0M188 353.2h0M169.3 350.2h0M188.1 352.6h0M168.3 344h0M155.3 341.4h0M180.2 336.7h0M181.2 347.2h0M185.9 353.9h0M175.6 337.1h0M177.1 335h0M190.8 350.5h0M161.8 342h0M179.8 351h0M179.4 341.2h0M166.9 351.1h0M181.9 345.8h0M172.8 351.3h0M166.1 346.9h0M176.9 349.1h0M164.7 353.1h0M192 349.8h0M171.2 347.2h0M165.1 347.1h0M183.1 348.2h0M190.2 349.9h0M168.4 346.2h0M170.5 348h0M159.6 341.8h0M165.5 350.3h0M180.3 352h0M191.3 352.1h0M162.9 341.4h0M179.4 343.2h0M154.5 345.4h0M179.6 336.5h0M184.4 354.4h0M162.8 344.3h0M193.9 357h0M157.4 342.9h0M190 354.3h0M189.8 349.8h0M179.3 345.4h0M178.4 339h0M180 333.4h0M173.6 326.6h0M159.5 338.9h0M161.8 349.4h0M157.7 343h0M158 347.3h0M183.2 353h0M187.4 354.8h0M162.8 352.2h0M170.4 335.6h0M181 333.1h0M186.3 345.9h0M192.7 350.4h0M155.1 340h0M168.5 331.8h0M173.9 338.9h0M174.9 338.6h0M177.4 339.3h0M170.3 339.2h0M172.9 339.7h0M183.4 352.4h0M159 348.6h0M180.9 330.9h0M175.5 353.8h0M184 343.6h0M193.7 358.4h0M177.6 352.7h0M175.1 331.1h0M171.7 338.5h0M180.4 338.1h0M176.9 330h0M168.4 345.7h0M175 330.8h0M190.4 357.9h0M155.1 343.8h0M169.4 342.9h0M170.4 342.1h0M172.2 352.1h0M163.4 342.3h0M181.1 339.3h0M159.5 341.2h0M177.3 329.8h0M172.1 347.8h0M177 332.6h0M170.8 342.8h0M163.9 346h0M156.6 341.1h0M167.7 354.4h0M180.4 349.4h0M171.9 333.5h0M169.6 338.5h0M160.7 339.5h0M165.9 334.8h0M160.7 346h0M193.8 354.6h0M167.5 336.6h0M165.5 335.8h0M154.7 347.1h0M165.7 336.5h0M190.7 346.3h0M176.7 327.9h0M169.4 336.4h0M160.5 339.8h0M156.7 342.6h0M194.1 352.3h0M174.7 328.3h0M179 349.3h0M164.6 336.7h0M186.7 353.2h0M156.4 341.9h0M159.7 344.2h0M177.5 332.5h0M192 346.6h0M178.6 328.5h0M161.4 350.2h0M179.2 348.8h0M178.9 334.8h0M189.4 350.9h0M159.2 339.6h0M178.6 350.8h0M189.8 356.6h0M169.8 337.2h0M164.6 338.4h0M193.3 357.3h0M163.3 336.8h0M175.9 333.9h0M179.6 327.5h0M192 354.4h0M167 332.9h0M192.1 357.8h0M169.3 344.7h0M184.2 346.2h0M181.2 352.2h0M171.9 351.9h0M169.5 334.1h0M166.9 333h0M173.1 329.4h0M193.5 351.9h0M168.3 345h0M188.3 354h0M160.2 337.7h0M164.7 341.8h0M170.5 352.3h0M156.6 344.4h0M164.5 347.6h0M170.1 344.6h0M168.6 335.9h0M189.5 356.3h0M163.1 337.5h0M187 348.4h0M172.8 352.9h0M183.8 354.3h0M180.4 345.4h0M160.9 343.4h0M177.9 335.4h0M190 347.2h0M154.9 342.2h0M164.4 345.3h0M168.8 331.3h0M180.1 341.6h0M179.1 353.1h0M161.8 344.7h0M169 332.7h0M167.6 345.1h0M191.3 356.5h0M163 354.3h0M179.2 333.3h0M188.6 356.5h0M182.3 344.5h0M177.9 332.8h0M162.4 341.6h0M161.7 349.2h0M179.2 336.4h0M158.6 342.3h0M154.7 347.3h0M155 346h0M181.6 349.4h0M175.5 337.6h0M168.1 334h0M186.7 346.3h0M177.2 333.9h0M164.1 351.8h0M175 334.4h0M173.8 351.9h0M192.8 348.7h0M173.1 335.3h0M168 350.3h0M186.1 350.7h0M183.3 349.7h0M180 330.8h0M174.1 335.9h0M174.9 351.5h0M176.3 325.9h0M168.5 349.7h0M175.7 338.7h0M169.4 345.5h0M168.5 352.4h0M177.9 346.6h0M173.1 332h0M184.2 346.9h0M180.7 342.5h0M178.6 330.2h0M177.6 349.2h0M175.5 354.5h0M164.3 345.6h0M160.9 354.3h0M156.8 344.9h0M192.4 354h0M190.1 348.5h0M173.8 327.4h0M185.7 344.7h0M181.2 352.8h0M164.9 347.8h0M166.7 344.2h0M155.1 346.9h0M188.9 345.7h0M179.4 348.3h0M167.1 347.6h0M170.2 336.1h0M158.7 340.4h0M171.2 333.1h0M168 336.5h0M176.4 342.4h0M164.5 339.9h0M185.5 351.9h0M166.9 340.4h0M191.8 347.8h0M165.2 334.9h0M180.2 339.3h0M160.2 344.6h0M180 336.6h0M193.7 355.7h0M172.7 326.1h0M181.4 351h0M163.4 346.8h0M155.5 349.8h0M187.2 350.2h0M191.7 354.3h0M154.4 348.4h0M181.2 330.5h0M170.8 346.9h0M158.6 340.6h0M160 354.4h0M160.2 351.5h0M170.8 327.8h0M192.5 352.8h0M183.1 353h0M176 325.7h0M164.4 352.9h0M169.8 349.7h0M168.7 354.5h0M179.3 331.6h0M180.1 344.5h0M158.8 341.6h0M185.6 344.2h0M167.3 351.8h0M188.9 350.5h0M190.1 354.9h0M175.2 331.8h0M159.2 341.9h0M180.2 338.3h0M179.7 327.7h0M190.9 356h0M174.3 343.2h0M188.7 346.1h0M157.7 344.9h0M170.1 341h0M178.4 340h0M164.4 343h0M191.6 348.1h0M184.2 351.9h0M179.3 326.6h0M171.7 330h0M179.2 352.9h0M171.5 338.3h0M172.3 345.3h0M180.4 332.7h0M173.7 332.5h0M176.1 353.4h0M179.8 336.2h0M175.9 339.1h0M180.7 346.7h0M172.4 351.8h0M169.1 348.1h0M183.1 349.2h0M171.6 337.3h0M171.5 349.9h0M167.2 334.5h0M176.9 353h0M170.1 352.9h0M161.6 350.2h0M178.4 330.4h0M167.4 340.4h0M170.2 340.2h0M166.3 346.2h0M169.4 345h0M168 345.9h0M180.3 339.5h0M182.5 346.9h0M173.3 354.7h0M178.3 353.3h0M173.2 336h0M189.8 355.1h0M159.3 350.4h0M174.2 347.9h0M175.6 353.7h0M175.2 334.4h0M187.2 345.7h0M162.3 342.6h0M159.3 341.1h0M179.8 326.6h0M176.7 326.2h0M178.3 339.7h0M154.5 348.3h0M183.9 349.6h0M158.1 341.1h0M159.7 353.7h0M180 329.6h0M191.3 351.4h0M187.1 352.7h0M170.7 330.5h0M190.3 352.4h0M193.9 356.3h0M162.7 346.2h0M183.1 346h0M162.4 342.3h0M171.2 343h0M177.5 333h0M170.4 329h0M169.8 334.7h0M172.3 330.5h0M167.6 343.8h0M176 328.4h0M157.9 350.1h0M177.5 340.4h0M173.8 348.6h0M193 353.7h0M173.9 330.8h0M165.7 342.1h0M162.4 342.7h0M154 344.4h0M170.8 346.2h0M177.2 327.6h0M185.7 346.1h0M164.6 336.1h0M170.4 328.5h0M166.4 346.1h0M167.1 348.7h0M175.9 352h0M187.7 348h0M173.7 330.2h0M184.3 345.7h0M178.2 330.5h0M169.3 348.7h0M174.1 327.7h0M161.7 350.4h0M170.9 352.4h0M164.4 354.9h0M158.8 350.9h0M177 353.9h0M189 348.2h0M168.8 340h0M184.4 345.6h0M174.7 348.7h0M157.2 341.2h0M165.7 343.5h0M181.3 332.7h0M167.3 337.1h0M178.6 346.9h0M167.3 333.4h0M166 345.6h0M175.8 340.4h0M165.2 351.6h0M175.8 330h0M170.2 329.9h0M177.9 347h0M180 348.5h0M177.4 339.8h0M164.7 355.1h0M166.5 347.5h0M175.3 343.6h0M163.9 346.9h0M165.8 336.7h0M175.7 338.4h0M176.4 351h0M165 343.2h0M163.3 340.1h0M179.2 336.9h0M157.5 348h0M165.6 355.6h0M191.8 351.5h0M160.9 343.6h0M167.7 339.9h0M187.7 348.2h0M179.4 334h0M156.6 350.5h0M173 347.3h0M161.6 340.6h0M159.8 350.1h0M179 335.8h0M190.4 351.9h0M154.5 342.4h0M178.3 354h0M173.6 347.7h0M175.2 335.4h0M172.3 333.4h0M179.9 333.8h0M167.9 355.3h0M163.7 347.8h0M164.9 338.1h0M174.6 326.3h0M178 339.7h0M189.5 351.9h0M173.4 348.8h0M168.6 346.9h0M180.5 344.4h0M156.3 341h0M179.7 326.9h0M174.8 339h0M177.9 338h0M180.8 342.2h0M176 352.5h0M169.6 336.1h0M189.2 356.4h0M182.3 354.1h0M176.8 328.1h0M171.2 331.5h0M161.4 353.5h0M173 346.4h0M180.9 334h0M175.5 340.2h0M177.7 335.5h0M176.8 345.9h0M181.3 350.8h0M173.8 342.3h0M157.2 349.5h0M172.6 352.9h0M183 343.9h0M154.3 342.7h0M165.4 354.3h0M192.2 351.8h0M178.3 340.7h0M162.4 348.3h0M171.4 331.5h0M166.3 345.1h0M189.6 353.2h0M154.4 342.3h0M156.1 340.7h0M173.4 335h0M183.5 351.8h0M168.5 342.9h0M162.1 347.4h0M157 340.1h0M160 341.6h0M163.3 338.6h0M179.6 348.8h0M177.8 354.2h0M178.5 330.7h0M191.8 354.9h0M177.6 344.7h0M179 332.8h0M172.8 349.4h0M166.9 345.7h0M178.5 328.3h0M171.6 350.6h0M176.5 343.1h0M166.4 355.3h0M181.3 342.7h0M158 350.2h0M189.2 350.9h0M181.6 344h0M170.8 328.9h0M187.4 345.9h0M172 343.8h0M182.7 343.4h0M166.2 337.1h0M177.7 348.3h0M186.2 348.6h0M187.4 353.5h0M160.4 346.6h0M156.3 341.4h0M156.8 340h0M179 333.6h0M181.3 332.2h0M181 341.4h0M167.5 345.7h0M179.1 353h0M164.1 340.7h0M178.1 327h0M192.3 346.9h0M175.6 340.7h0M158.2 348.3h0M169.5 338.7h0M175.3 326.4h0M176.7 349.5h0M180.7 329.6h0M171.7 345.7h0M176 328.8h0M187.4 350.8h0M164.5 347.8h0M180.8 347.6h0M172 354.2h0M162.6 345h0M181.9 340.7h0M178.7 333.8h0M179.4 333h0M195.9 364.3h0M200.5 369.7h0M200.8 367.8h0M195.5 362.4h0M197.5 365.7h0M198.5 367.9h0M200.6 369.9h0M194.5 360.4h0M200.3 366.6h0M201 369.8h0M195.2 361.1h0M198.3 367.7h0M196 363.3h0M200.1 370.3h0M196.2 361.5h0M195.7 363h0M200.1 367.3h0M195.5 363.5h0M199.2 365.9h0M199.8 367.4h0M200.3 370.3h0M199.3 368.8h0M195.5 359.5h0M193.2 360h0M195.4 360.8h0M200.6 367.7h0M197.2 366.4h0M197.1 365.4h0M197.2 366.3h0M199.8 370h0M202.1 369.2h0M195.6 363.9h0M201 369.9h0M197.6 362.6h0M197.6 366.1h0M200.1 367.6h0M196.9 362.1h0M201.9 369.1h0M195.2 361.9h0M201.8 369.4h0M200.7 369.8h0M197.7 364h0M195.1 362.4h0M197.3 366.5h0M200.1 370.6h0M197.7 365.4h0M193.5 359.4h0M199.4 369.2h0M200.1 366.2h0M193.8 359.9h0M200.6 367.6h0M200.2 370.5h0M198.4 367.9h0M199 365.7h0M194.6 359.3h0M194.7 359.1h0M196.4 365.1h0M196.8 361.4h0M200.9 368h0M194 359.6h0M196.1 362.9h0M194.7 361.3h0M196.2 364.2h0M194 361h0M200.4 368.8h0M198.7 365h0M196.6 362.8h0M194.4 361.5h0M198.8 367.1h0M200.1 366.4h0M195.5 360.7h0M213.6 382.1h0M214.6 383h0M214.4 363.5h0M213.7 383.2h0M212.9 391.1h0M215.2 364.4h0M217.1 370.1h0M223.4 390.2h0M221 392.5h0M215 368.2h0M209.6 386.7h0M211.7 385.8h0M223.3 390h0M215 371.1h0M211.6 384.9h0M222.4 383.2h0M220.1 385.3h0M208 384.9h0M218 386.8h0M222.5 383.1h0M219.3 383.8h0M220.6 385.9h0M222.1 391.6h0M215.9 386.3h0M219.7 389.6h0M212.1 365.5h0M215.8 377.5h0M211.9 363.1h0M221.6 385.9h0M219 387.7h0M215.8 375.3h0M221 387.2h0M219.7 392h0M219.4 387.8h0M206 388.9h0M213.3 377.3h0M221.5 382h0M215.9 389.6h0M212.9 393.8h0M210.6 390.6h0M225.7 385h0M217.4 387.6h0M214.8 387.6h0M223.3 383.9h0M207.6 386.2h0M217 383.2h0M213.1 391.5h0M212.3 370.6h0M209.5 390.8h0M212.3 382.8h0M213.8 374.1h0M216.1 372.7h0M224.4 390h0M214.9 376.7h0M216.3 382.2h0M215.4 385.3h0M215.6 374.8h0M212.3 371.9h0M226.1 384.9h0M216.3 380.7h0M219.1 389.6h0M212.2 391.1h0M214.9 372.1h0M215.1 369h0M220.9 386.3h0M207.1 384.1h0M217 392.5h0M217.3 379.4h0M211.7 381.2h0M219.6 386.4h0M210.1 390.9h0M215.5 380.8h0M209.2 384.2h0M211.9 365.4h0M211.5 367.5h0M218.3 379.1h0M211.8 382.1h0M209.3 384h0M216.9 390.4h0M211.3 391.2h0M210.8 391.8h0M211.1 389.1h0M208.6 390h0M214.2 374.5h0M212.9 392.7h0M213.5 370h0M222.3 381.2h0M221.6 392.5h0M212.2 389.7h0M221 384.3h0M219.9 381.6h0M219.6 388.6h0M221 383.9h0M213.9 379.5h0M212.3 367.8h0M213.8 364.9h0M218.3 391.4h0M210.6 388h0M206.9 386.6h0M215.1 390.5h0M211.7 386.5h0M208 385.8h0M210.6 391.2h0M213.9 373h0M212.5 374.9h0M208.8 385.2h0M218.3 385.4h0M212.5 393.3h0M207.4 386.2h0M220.5 388.9h0M216.4 380.3h0M213.2 368.8h0M211.2 383.1h0M214 388.6h0M214.8 370.7h0M213.6 369.8h0M223.2 390.6h0M216.2 368.7h0M215.4 379.7h0M215.2 367.3h0M204.6 386.1h0M222.8 385.9h0M206.2 385.3h0M213.3 366.4h0M216.1 390.8h0M213.9 366.4h0M215.1 376.1h0M212.2 368.5h0M211.6 387.8h0M222.6 385.8h0M216.2 389.9h0M215.1 370.3h0M222.5 382.1h0M210.9 387h0M211.1 389.9h0M221.2 384h0M209.9 386.2h0M210.9 387.4h0M217.1 388.9h0M218.4 379.4h0M220.8 380.2h0M215.3 374.7h0M210.9 383.8h0M222 391h0M217.8 386.1h0M224.5 386.1h0M218.9 388.9h0M218.8 390.5h0M222.3 387.3h0M220.1 379.5h0M224 386.7h0M211.7 386h0M210.8 383.7h0M218.2 377.1h0M224 390.5h0M209.1 385.5h0M214.8 366.6h0M225.3 389h0M216.9 378.2h0M215.6 365.4h0M225.2 389.3h0M208.6 388.6h0M213.1 364.1h0M211.6 392.2h0M218.9 386.2h0M219.4 391.3h0M218.4 380.8h0M212.7 367.8h0M215.7 381.5h0M212.1 367.4h0M214.4 372.9h0M211.7 380.1h0M217.5 369.3h0M210.2 387.5h0M219.9 380.6h0M216.4 388.2h0M212.2 377.2h0M213.5 375.6h0M217.3 368.2h0M216.6 376.2h0M217.6 384.2h0M221.3 387.2h0M212.8 365.5h0M213.9 366.8h0M216.1 371.6h0M213.3 383.2h0M212.8 386.5h0M220.5 386.2h0M206 387.3h0M217.5 369.1h0M216 374.5h0M215.9 378h0M220 380.1h0M215.9 387.8h0M216.9 390h0M208.4 386.8h0M214.1 386.9h0M206 386.6h0M212.6 385.2h0M220.3 382.2h0M219.3 384.1h0M212.3 389.4h0M204.9 387.4h0M208.1 390.8h0M211.1 385.3h0M219.8 384.1h0M216.5 367.4h0M212.7 390.1h0M212.7 391.4h0M214 393.2h0M208.6 384.6h0M214.1 387.9h0M219.8 379.2h0M208.6 388.4h0M222.3 381h0M211.7 388.3h0M216.6 381h0M224.6 385.5h0M225.3 386h0M219.4 393.2h0M213.7 387.5h0M212.7 366.6h0M219.2 387h0M212.5 392.4h0M216.1 378.3h0M217.8 391.8h0M219.5 385.3h0M216 391.7h0M214.6 371.3h0M216.3 391.7h0M216.5 381.5h0M219.7 384h0M216.6 382.6h0M217.2 379.4h0M220.7 380.6h0M217.8 378.9h0M224.3 390.4h0M217.6 390h0M212.1 363.6h0M221.6 384.6h0M212.9 367.2h0M212.3 370.5h0M219.3 381h0M212.6 380.3h0M214 366h0M214.5 364.6h0M215.1 365.1h0M214.1 389.9h0M220.2 385.6h0M216.2 372.1h0M215.5 382.1h0M204.9 386.4h0M214 377.8h0M222.3 386.5h0M215.1 379.3h0M209.6 384.9h0M222.1 383.2h0M211.8 367.7h0M215.8 385.1h0M211.5 365.7h0M220 387.1h0M216.9 389.7h0M216.5 385.9h0M212.1 366.8h0M210.7 391h0M215.5 378.7h0M213.2 384.3h0M213.2 375.8h0M220.6 379.7h0M210 389.1h0M217.4 391h0M211.9 383.6h0M209.9 384.9h0M215.1 378h0M216.3 385.4h0M216.3 376.3h0M210 391.1h0M211 386.4h0M214.9 382h0M216.9 378.9h0M218.1 377.6h0M219.7 392.5h0M205.5 385.5h0M214.6 390.7h0M214.9 368.7h0M220.6 381.8h0M210.5 392.1h0M214.4 388.6h0M204.8 385.9h0M212.1 364.7h0M209.1 389.6h0M208.1 386.1h0M216.1 371.2h0M208.3 386.8h0M216.1 379.1h0M223.4 390.2h0M216 382.1h0M216.5 387.4h0M221.3 389.9h0M219.6 381h0M212.4 366.7h0M216.6 388.2h0M205.5 387h0M212.6 365.3h0M215.6 385.2h0M213.9 365.4h0M217.1 393.8h0M211.3 386.1h0M223.6 390.4h0M211.8 368.4h0M218.2 384.6h0M215.7 368.4h0M208.7 384.9h0M211.7 385.1h0M212.4 367.4h0M217.4 386.5h0M219.6 378.6h0M206.8 383.7h0M220.3 383.9h0M219.3 387.7h0M214.3 384.9h0M224 382.3h0M215.8 370.1h0M220.7 387h0M216.9 373h0M210.5 391.9h0M214 371.8h0M216.8 391.4h0M216 389.9h0M222.2 388.5h0M205.5 387.1h0M210.8 385.4h0M218.9 388.5h0M208.1 387.5h0M222.2 391.1h0M220.7 384.4h0M220.5 385.2h0M224.5 386.3h0M206.3 389.6h0M222.1 388.1h0M211.5 363.7h0M213.2 376.3h0M215.9 390.8h0M212.3 389.7h0M214.1 374.5h0M213 365.7h0M207.3 383.7h0M211.7 363h0M215.6 390.1h0M217.4 392.6h0M213.8 377.3h0M217 378.7h0M219.4 390.1h0M215.1 391.7h0M214.5 364.2h0M213.9 389.5h0M215 364.3h0M218.8 391.1h0M219.8 382.7h0M214.6 390.3h0M212.4 392.7h0M225.9 385.1h0M211.9 386.9h0M217.1 393.4h0M211.8 382.2h0M209.7 392.4h0M216.8 389.2h0M209 392h0M212.6 382.1h0M222.4 391.9h0M217.9 387.8h0M219.8 387.6h0M214 370.1h0M213 366h0M216 384.2h0M221.1 387.3h0M215.9 390.8h0M213.6 384.9h0M206.6 390.1h0M223.7 389.9h0M213.5 392h0M217.3 380.2h0M211 385.3h0M212.8 364.5h0M217.3 385h0M214.6 388.8h0M221.3 382h0M225.4 389.1h0M216.9 388.2h0M213 377.6h0M218.8 389.7h0M212.1 387h0M219.6 380.9h0M212.7 387.7h0M207.5 390.3h0M219.4 383.5h0M212.3 381.5h0M212.7 371.6h0M217.4 377.1h0M222.8 384.4h0M214.2 376.9h0M222.7 390.7h0M214.8 364.9h0M222.9 382.5h0M215.6 379.7h0M212.4 373.8h0M222.7 388.6h0M214.7 388.1h0M218.3 389.1h0M217.7 381.3h0M214.2 386.3h0M218.5 390.8h0M223.2 384.9h0M209.3 387.4h0M222 384.8h0M210.5 387.1h0M217.2 382.9h0M215.4 382.8h0M218.2 390.5h0M223.8 385h0M213.3 385h0M223.4 384.5h0M217.9 383.6h0M223.1 386h0M212.5 381.7h0M212.5 378h0M209.6 386.3h0M213 378.3h0M214.4 374.4h0M208.9 384.1h0M207 388h0M213.9 386.3h0M221.3 389.3h0M214.2 394.1h0M211.6 382.5h0M209.8 383h0M214.6 367.4h0M212.1 382.8h0M211.9 380.6h0M217 376.1h0M219.8 385.5h0M222.5 388.8h0M218.9 378.9h0M217.7 386.6h0M212.3 388.2h0M224.9 387.7h0M212 379.7h0M215 379.1h0M217.2 383.5h0M216.8 370.8h0M212.9 378.7h0M211.3 393.1h0M215.3 376.5h0M214.9 373.9h0M223.7 390.1h0M210.5 388.8h0M211.6 387.3h0M220.6 382.7h0M215.5 386.1h0M213.4 363.5h0M213.3 371.2h0M215.2 363.6h0M211.9 370.6h0M212.1 381.4h0M207.8 387.6h0M213.7 385.1h0M213.7 365.8h0M214.7 378.5h0M214.2 376.3h0M207 386.4h0M216.9 388.4h0M212.5 382.9h0M215.8 375h0M216.8 372.7h0M207.6 384.6h0M220.3 391h0M213.9 363.8h0M217.1 385h0M219 385.4h0M216.4 383.3h0M222.3 391.9h0M223.1 388.9h0M210.2 390.7h0M206.2 388.1h0M212.6 379.9h0M213.8 379.7h0M214 389.4h0M205.7 385.7h0M208.7 387.2h0M214.9 391.2h0M206.9 388.3h0M215.7 372.4h0M218.6 378.2h0M215.4 388.5h0M215 374.8h0M217.5 393.7h0M216.9 377.2h0M213.1 393.5h0M218.1 386.9h0M207.2 390.2h0M215.1 375.6h0M215 385.7h0M209.6 387.4h0M209.4 385.3h0M214.6 384.9h0M215.2 367.3h0M213.2 386h0M211.2 388.3h0M216 390.8h0M212.8 372.1h0M219.5 383.5h0M215.4 384.3h0M213.6 388.8h0M225.6 386.2h0M213.7 391.9h0M212.6 363.2h0M211.7 363.7h0M205.8 385.6h0M214.1 378h0M213 370.3h0M212.7 363.2h0M217 384.1h0M212.2 390.3h0M215.6 380.2h0M213.3 364.2h0M218.6 381.6h0M215 364.7h0M214.3 372.4h0M216.4 384.1h0M219.8 393.1h0M218.4 392.7h0M205.5 385.4h0M213.6 377.8h0M217.9 389h0M214.5 382.2h0M212.7 363.7h0M214.3 380.2h0M216.3 392.6h0M211.6 390.5h0M218.8 384.4h0M215 364.5h0M206.4 384h0M207.6 390.3h0M212.1 384.6h0M210.5 382.9h0M217.9 380.3h0M215.7 385.8h0M214.6 379.3h0M211.8 386.3h0M210.6 389.1h0M214.4 384.4h0M215.3 374.2h0M214.8 381.1h0M221.4 381.2h0M217.1 367.4h0M217.7 369.9h0M217.2 384.3h0M219.6 385.1h0M216.8 387.3h0M221.1 391.9h0M216.1 385h0M214.1 386.1h0M214.9 381.5h0M215.7 391.1h0M217.8 390.8h0M209.8 384.8h0M219.6 386.6h0M213.7 391.1h0M220.3 392.6h0M209.6 390h0M220.7 385.2h0M208.6 390.7h0M218.6 387.4h0M219.1 388.9h0M219.4 381.3h0M205.8 386.3h0M216.3 383.9h0M208.9 391.4h0M215 388.1h0M220.9 380.2h0M225 383.7h0M221.3 385.6h0M212.1 389.6h0M207.9 385.9h0M216.2 374.2h0M216.7 389.3h0M224.9 384.5h0M211.9 385.9h0M215.7 365.1h0M212.8 380.8h0M221.8 388.1h0M222.1 391.5h0M223.4 384.2h0M205.7 387h0M215.1 373.1h0M217.1 369.9h0M216 393h0M224.2 385.5h0M212.7 381.4h0M212.4 372.8h0M214.2 376.6h0M217.6 391.3h0M215 389.9h0M216.8 383.4h0M216.8 381.9h0M217.9 386.2h0M224.8 383.2h0M210.6 387.4h0M220.7 389.7h0M224.6 389.9h0M210 382.9h0M217.9 382.7h0M220.8 393.2h0M160.8 363.3h0M156.8 368.6h0M155.2 375h0M152.3 391.8h0M151.3 393.5h0M158.6 363.1h0M153.9 384.3h0M159.4 364.6h0M153.2 387.9h0M160.2 359.1h0M160.7 357.8h0M156.6 375.7h0M157.6 371.6h0M159.3 362.3h0M159.1 360h0M156.6 370.2h0M152 385.7h0M152.6 388.2h0M156.4 374.1h0M161.5 359.1h0M154.4 382h0M156.4 373h0M156.5 377.5h0M158.2 367h0M161.1 361.1h0M161.1 362.1h0M159.2 362.3h0M160.6 363.1h0M153.5 380.6h0M154.7 376.1h0M158.7 364.1h0M154.7 376.2h0M156.5 374.9h0M157 376h0M158 363.7h0M156.9 369.9h0M153.4 379.7h0M160.7 361.3h0M151.3 391.2h0M157 368.8h0M150.3 392.1h0M156.1 372.2h0M157.3 368.1h0M156.1 375.1h0M156.3 370.7h0M156.3 369.6h0M157.7 366.5h0M154.2 376.6h0M149 393.8h0M152.8 386.3h0M152 389.3h0M150.9 388.3h0M161.3 361h0M153.8 382.4h0M150.8 389.1h0M157.2 369.4h0M160.6 361.8h0M159.3 367h0M151.7 385h0M157.2 374.7h0M151.3 389.8h0M155.6 376.3h0M153.7 383.2h0M161.2 361.3h0M151.3 392.6h0M152.9 388.3h0M159.9 366.3h0M151.7 391.5h0M160.4 359.9h0M158.6 369.3h0M159.7 359.8h0M152.5 390.5h0M156.6 368.4h0M150 393.4h0M158.6 364.6h0M158.5 362.5h0M152.5 385.5h0M150.8 387.8h0M154.8 379.6h0M155.8 378.5h0M161 358.5h0M159.6 363.6h0M154.8 382.6h0M158.3 367h0M153.6 382.2h0M153.4 380.1h0M160.3 359h0M160.8 362.2h0M160.1 361.5h0M156 376.8h0M150.8 388.1h0M158 368.9h0M151.9 384.7h0M154 380.5h0M160.3 362.5h0M152.6 389.3h0M151 387.7h0M156.1 376.4h0M152.1 389.8h0M152.3 391.6h0M153.1 387.2h0M154.5 384.4h0M155.2 379.2h0M159.6 361.7h0M151.9 389.2h0M154.4 380.2h0M153 387.2h0M159.4 366.5h0M154.7 375.5h0M160.6 358.3h0M154.4 375.7h0M152.5 386.8h0M152.8 386.1h0M152.2 391.8h0M161.2 361.7h0M152.1 384.6h0M156.2 371.5h0M156 372.5h0M159.7 360h0M156.7 368.9h0M159.8 361.4h0M153 383.4h0M154.8 375.2h0M160.3 362h0M156.6 370.9h0M153.8 385.4h0M158.8 362.3h0M156.5 375.1h0M150.8 395h0M157.3 374.9h0M156.2 373.1h0M150.2 393h0M157.7 372.9h0M158.6 364.2h0M156.8 374.7h0M152 384.5h0M155.7 374.1h0M157.2 372.1h0M158.6 364.7h0M151.9 385.2h0M153.7 378.8h0M153.3 382.8h0M152.1 389h0M152.3 389.3h0M149.3 393.3h0M161.1 358.7h0M155.6 379.8h0M152.6 387.3h0M153.3 387.4h0M156.2 375.1h0M150.6 390.3h0M149.6 392.8h0M152.5 388.6h0M153 382.1h0M153.1 386.6h0M158.8 367.8h0M150.3 391.4h0M152.9 380.9h0M151.6 392.9h0M149.8 393.5h0M160.3 357.1h0M161.4 358.4h0M161.6 360h0M148.8 406.8h0M148.6 406.1h0M147.8 412.5h0M148.1 402.1h0M147.1 409.6h0M148.3 410.9h0M145.1 414.5h0M150.7 398.3h0M147 416.2h0M145.5 415.1h0M147.1 406.5h0M148.5 398.9h0M148.2 400.5h0M146 404.7h0M149.6 398h0M146.7 402.3h0M148.7 405.6h0M148.4 397.3h0M146 412.5h0M146 406.2h0M147.8 407.7h0M144.1 415.8h0M151.2 397.4h0M151.8 395.8h0M148.8 404.4h0M144.9 409.4h0M149.2 408.2h0M146.7 399.7h0M147.5 399.1h0M145.4 415.9h0M145 414.6h0M149 403.1h0M147.7 396.8h0M148.5 408.7h0M144.3 409.8h0M144.9 406.9h0M144.7 413.9h0M147.1 405.1h0M147.9 396.3h0M148.5 395.9h0M145.7 408.2h0M151.2 397.8h0M146.6 402.8h0M148.8 408.5h0M148.5 405.2h0M150.8 396h0M147 413h0M144.5 408.7h0M144.7 408.7h0M148.9 407.2h0M150.5 396.7h0M147.5 401.8h0M144.1 415.7h0M149.8 405.2h0M150.5 396h0M148.7 397h0M148.6 407.7h0M146.3 403.5h0M145.9 409.9h0M148.2 410.9h0M149.1 407.3h0M148 406.7h0M148.1 402.4h0M149.3 395.6h0M144.5 410.9h0M144.3 410.3h0M146.7 409.9h0M148.5 398.7h0M148.8 400.1h0M144.3 415.1h0M145.5 412.7h0M145.4 411.1h0M145.4 412h0M147.2 406.7h0M145.6 404.2h0M149.6 401.1h0M144.5 411.7h0M149.8 402.7h0M146.7 403.1h0M151.4 396.1h0M145.2 415.6h0M146.1 405.1h0M149.2 399.4h0M149 399.2h0M148.7 409.2h0M145.8 412.3h0M150.2 400.5h0M148.6 401.4h0M149.9 395.1h0M145.3 415.2h0M146.3 404.1h0M148.1 409.6h0M147.9 412.7h0M146.9 401.2h0M149.3 399.3h0M145.5 409.1h0M146.7 414h0M145.1 411.1h0M144.8 408.2h0M149.9 396.7h0M145.5 406.4h0M146.4 409.9h0M148.9 406.1h0M145.6 408h0M144 413.3h0M148.2 397.1h0M146.2 403h0M143.8 412.4h0M145.1 410.3h0M151.9 395.6h0M145.6 414.3h0M149.4 401.2h0M150.8 400.3h0M148.5 396.6h0M146.1 414.2h0M148.3 401.9h0M150.2 398.8h0M146.5 404.4h0M148 411.5h0M150.9 399.7h0M147.1 413.6h0M148.6 409.1h0M147.4 411.1h0" stroke="#F564E3" stroke-width="1.0" stroke-linecap="round"/>
<path d="M190.7 394.2h0M199.4 387.3h0M193.4 392.9h0M190.4 395.9h0M202.7 382h0M187.8 397h0M189.3 396.4h0M201.2 385.4h0M195.4 390.3h0M197.1 389.3h0M189.9 395.2h0M201 383.3h0M200.4 385.3h0M191.7 393.7h0M190.5 396.2h0M196.4 388.6h0M192.6 393.1h0M186.6 400.3h0M188.2 396.6h0M202.2 382.1h0M188.9 397.5h0M197.2 388.3h0M187 400h0M188.6 397.1h0M200.8 383.3h0M199.2 387.2h0M188.2 398h0M195.9 390.3h0M202.4 382.9h0M198.2 387.5h0M189.2 396h0M193.9 392.1h0M198.6 388h0M200.9 383.3h0M195.6 389.2h0M195.9 390.6h0M188 397.4h0M195.4 390.3h0M186 400.1h0M194.8 391.4h0M188.7 398.1h0M200.6 385h0M190.6 394.2h0M189.9 395.6h0M190.3 396.1h0M191.8 394.9h0M192.3 394.4h0M193.6 392.7h0M196.9 388.6h0M198.1 388.3h0M186.2 400.3h0M200.2 385.6h0M194.7 389.7h0M190.6 394.4h0M186.6 399.8h0M192 393.6h0M200.8 384.4h0M194.4 392.6h0M199.4 385.4h0M188.2 397.1h0M200.5 383.8h0M183.1 402.2h0M172 405.4h0M179.3 403.7h0M171.3 403.5h0M185.3 402.2h0M171.7 404.6h0M181 402.3h0M182.4 401.8h0M180.6 402.7h0M178.7 402.1h0M178.4 404.2h0M184.4 401h0M182.2 402.7h0M175.4 404h0M174.3 404.1h0M182.8 403.1h0M177.5 402.7h0M181.9 402.4h0M177.6 402.7h0M182.5 402.7h0M177.2 404.3h0M182.1 402.1h0M182.6 401.8h0M177.8 402.2h0M172.6 404.5h0M178.5 403.7h0M179.7 403.4h0M180.4 401.8h0M173.2 404.7h0M176.1 404h0M173.8 404.3h0M183.4 402.6h0M182.5 402.7h0M176.9 403.1h0M173.3 403.3h0M172.8 403.4h0M172.4 404.3h0M183.9 402.5h0M172.4 404.6h0M177.3 402.5h0M183.4 401.2h0M180.4 402.5h0M178.5 403.4h0M175.3 404.1h0M184.8 401.5h0M179 403h0M172.8 404.2h0M174.7 404.7h0M183.6 401.6h0M174.8 404.1h0M185.3 402.5h0M171.8 404.9h0M172.5 407.3h0M172 411.7h0M172.8 408h0M172.6 415.2h0M172.5 411.9h0M171.6 412.7h0M172.9 413.5h0M172.1 406.8h0M173 405h0M172.7 410.9h0M171.4 416.2h0M171.4 407.1h0M173.2 413.7h0M171.6 412.4h0M172.8 411.9h0M171.9 417h0M171.8 410.7h0M171.2 404.9h0M172.6 409.1h0M171.1 406.1h0M171.4 404.7h0M172.4 414.6h0M172.4 408.1h0M171.5 410h0M172 415.3h0M173 405.5h0M171.8 408.5h0M173.5 415.5h0M172 410.3h0M172.8 406.3h0M173 409.3h0M173.1 408h0M172.7 405.4h0M172.2 414.8h0M172.5 406.7h0M171.2 407.8h0M172.2 413.1h0M171.8 405.7h0M171.7 411.9h0M171.3 405.4h0M185.8 414.9h0M186.7 415.4h0M187 408.9h0M186.4 415.1h0M187.1 414.5h0M185.3 407.8h0M185.2 404.2h0M187 416.7h0M185.8 414h0M186.4 413.9h0M185.8 412.1h0M187.2 413.5h0M185.8 406.6h0M186.8 404h0M185.4 403.3h0M185.3 407.5h0M186 414.7h0M187.3 411.3h0M186.6 414.5h0M187.9 414.9h0M187.1 414.3h0M185.6 407h0M185.5 409h0M185.2 407.6h0M187.3 407.6h0M186.7 409.6h0M186.3 404.4h0M186.5 410.6h0M185.2 404.5h0M186.8 408.8h0M185.5 405.1h0M185.3 407.3h0M187.7 414.4h0M187.1 411.6h0M186.4 410.7h0M186.5 415.3h0M186.2 404.1h0M187 414.6h0M185.1 403.5h0M187.2 414.3h0M185.6 411.1h0M185.5 416.2h0M177.7 421.9h0M174.2 424.2h0M177 422h0M185.1 421.4h0M175.6 425.9h0M173.6 422.2h0M186.1 415.7h0M182.3 412.1h0M184.8 419.1h0M180.3 411.6h0M183.4 418.9h0M183.4 416.5h0M181.8 419.7h0M177.8 412.4h0M172.5 418.4h0M176.1 413.5h0M180.9 418.6h0M177.4 421.7h0M180.1 414.9h0M186 413.6h0M181.7 413.5h0M173.5 418.4h0M185.8 417.2h0M183.3 422.8h0M177.4 412.6h0M178.3 414h0M183.5 425.5h0M176.9 422.9h0M180 422.7h0M182.1 419.8h0M185.1 411.8h0M183.8 418.2h0M183.2 421.6h0M186.4 419.3h0M179.7 417h0M186.2 421.2h0M182.2 411.6h0M175 424.5h0M177.8 417.5h0M186.1 412.6h0M180.7 419.2h0M175.9 423.6h0M181.9 413.8h0M182 410.8h0M180.1 423.3h0M180.9 418.5h0M186.6 417.4h0M182.9 419.9h0M179 412.8h0M184.8 415.6h0M174.6 420.4h0M176.9 422.2h0M177.7 423.3h0M174.5 417.3h0M174.3 419.3h0M177.5 421h0M181.7 413.2h0M176.2 421.5h0M185.7 412.8h0M185.1 415.2h0M186 416.6h0M179.8 421.3h0M180.3 418h0M183.8 421.7h0M182.7 419.1h0M172.6 419.4h0M176.8 415.6h0M183.5 417.2h0M180.2 417.4h0M175.2 417.9h0M177.3 412.1h0M182.1 415.1h0M179.5 422.5h0M185.4 415.3h0M178 422.1h0M177.5 418.6h0M175.3 418.6h0M177.9 416.1h0M185.2 412.8h0M183.6 410.6h0M178.1 411.7h0M175.9 419h0M179.7 418.5h0M177.7 418.5h0M172.4 419.9h0M185.4 416.4h0M178.5 424.9h0M176.4 420.3h0M185 421.4h0M181.3 422h0M186.8 416.3h0M181.8 419.7h0M179.3 421.9h0M182.9 412.7h0M181.7 423.3h0M180.5 423.3h0M181.9 415.3h0M183.7 416.9h0M172.7 415.4h0M183.4 418.8h0M183.2 411.1h0M173.2 416.7h0M173.7 415.8h0M182.3 425.4h0M186.2 420.8h0M176.9 415.1h0M184.9 420.4h0M185.2 411.9h0M186 421.2h0M186.2 414.5h0M179.2 421.3h0M183.6 418.4h0M178.2 422.5h0M179.6 419h0M177.5 425.6h0M183.2 416.8h0M182.4 417.9h0M184.7 417.3h0M179 414.5h0M181.8 413h0M181.6 412.9h0M182.8 415.2h0M187 424h0M183.5 420.7h0M176.8 415.3h0M181.6 424.6h0M172.5 416.5h0M185.3 412.1h0M182.5 412h0M176.6 419.2h0M176 413.8h0M185.2 414.6h0M176.4 425.7h0M179.5 413.9h0M178.4 423.2h0M181.2 412.9h0M179.9 411.5h0M172.2 418.1h0M181.1 413.4h0M179.5 421.8h0M176.6 420.1h0M186.1 424.6h0M185.7 423.6h0M183.4 414.3h0M175.5 424.3h0M183.9 419h0M178 424.7h0M184.7 424.4h0M183.5 424.3h0M185.2 424.9h0M177.3 425h0M181.6 412.9h0M177.4 416.3h0M178.8 414.2h0M177.9 411.4h0M183.6 424.1h0M180.5 417.4h0M183.4 418.6h0M183.1 412.5h0M184.6 420.3h0M184 424h0M179.1 419.9h0M179.6 424.3h0M181.1 419.3h0M173.7 412.4h0M173.9 415.8h0M172.6 420.1h0M182.9 422.8h0M186.4 417.5h0M183.2 416.8h0M181.2 420.9h0M181.8 426.7h0M184.4 420.4h0M177 415.6h0M173.7 420.6h0M182.2 414h0M184.4 423.8h0M185.7 414.1h0M178.2 419.6h0M175.6 424.8h0M182.1 415.2h0M184.2 425.1h0M177.6 424.8h0M180.2 418.3h0M181 412h0M185 412.9h0M185.3 416.2h0M173.1 415.5h0M182.3 417h0M173.9 419.1h0M177.2 423.9h0M182 423.6h0M182.3 423h0M180.5 414.4h0M176.1 411.8h0M181.6 419.8h0M176.2 418.8h0M174.5 425.7h0M179.1 424h0M173.8 418.3h0M180.1 424.6h0M173.9 421.6h0M181.7 417.6h0M175.6 425.3h0M178.4 412.4h0M176.2 424.5h0M182.5 415.7h0M183.5 423.8h0M174.5 414.6h0M172.1 418.9h0M184.3 414.8h0M185.1 424.5h0M173.9 419.1h0M186.6 415.6h0M174.3 412h0M186.5 412.5h0M186.1 415.2h0M178 411.5h0M172.2 418.5h0M178.3 421.9h0M184 423.8h0M184.8 424h0M174.8 421h0M180.4 422.6h0M185 413.7h0M180.8 425.8h0M186.5 422.9h0M179.5 417.2h0M186.4 412h0M175.2 418.5h0M183.4 411.9h0M173.9 417.2h0M176 421.4h0M178.5 416.7h0M175.4 422.6h0M181.2 419.6h0M181 425.2h0M181.9 411h0M177.4 412.6h0M182.7 419.4h0M185.2 422h0M179.5 423.5h0M179.6 420.2h0M180.8 414.1h0M173.5 417.7h0M181.8 412.1h0M177.5 423.3h0M173.7 422.3h0M178.5 413.9h0M179.4 424.6h0M173.9 412h0M182.2 412.7h0M182.4 420h0M177.5 413.9h0M181.8 415.4h0M181.8 412.7h0M184.8 423.3h0M175.1 425.2h0M180.9 411.4h0M179.2 412.6h0M179.8 418.3h0M185.2 418.8h0M176.7 412.2h0M174.6 419.4h0M186.2 411h0M181.1 420.6h0M180.2 417h0M178 416.3h0M178.6 422.7h0M176.6 419.6h0M184.9 424.8h0M178.3 423.1h0M177.3 420.2h0M182.4 426.2h0M178.4 418.1h0M186.3 419.6h0M175.9 417.8h0M185.6 417.6h0M182 424.8h0M176.7 419.3h0M186 416.8h0M175.2 412.4h0M173 415.4h0M181.4 417.4h0M179.6 414.1h0M184.2 421.1h0M178.5 421.1h0M173.8 420.3h0M181.2 411.1h0M174.5 422h0M180.7 421.5h0M174.3 421.2h0M185.6 417.4h0M185.6 412.3h0M181.3 417.2h0M181.7 420.7h0M178.1 413.1h0M175.7 412.9h0M183.7 412h0M183.3 422.9h0M175.9 414h0M178.7 418.1h0M186.8 417.4h0M185.5 417.9h0M176.1 422.3h0M180 414h0M176.4 423.4h0M175.1 419.6h0M180.9 417.6h0M181.2 410.8h0M176.1 417.2h0M183.5 419.7h0M184.5 413h0M180.7 418.6h0M173.5 413.2h0M178.7 417.2h0M182.6 425.6h0M173.8 418h0M179.6 414.8h0M180.2 422.7h0M175.3 413.4h0M178.2 413.7h0M179.9 417.2h0M172.3 419.5h0M181.5 418.5h0" stroke="#B79F00" stroke-width="1.0" stroke-linecap="round"/>
<path d="M133.2 409.4h0M130.5 414.8h0M127 413.8h0M137.9 417h0M134.4 409.1h0M132.6 413.8h0M136.7 411.9h0M135.3 418.4h0M134.4 412h0M140.1 412.6h0M129.1 414.8h0M139.9 416.1h0M127.7 411h0M135.8 414.8h0M139.7 414.8h0M135.9 417.9h0M138.2 416.8h0M139.7 415.7h0M137.8 414.1h0M135.5 412h0M132.2 412.1h0M129.5 418.9h0M133.4 414.7h0M140.2 413h0M131.2 411.2h0M131 416.6h0M138.5 409.3h0M135.6 420h0M133.6 415.1h0M127.8 414h0M130.3 415.9h0M134.4 415.5h0M138.1 408.7h0M128.6 410.9h0M131.3 413.9h0M133.2 410.1h0M136.7 414.9h0M135.9 416.3h0M130.3 411.3h0M128.7 413.9h0M132.4 416.5h0M128.3 411.5h0M130.1 413.2h0M129.6 407.9h0M129.8 411.2h0M137.4 418.5h0M129.7 413.7h0M138.3 412h0M132.9 419.3h0M132.2 407.4h0M130.8 410.5h0M129.1 415.5h0M131.6 415.2h0M134.5 419.5h0M138 408.2h0M134.6 412.2h0M129.4 413.4h0M136.4 408.5h0M136.7 417.3h0M131.4 408h0M129.9 414.2h0M136.1 419.6h0M139.3 410.2h0M131 407.8h0M131.9 414.3h0M136.1 417.5h0M137 418.2h0M134.7 418.7h0M133.7 409.2h0M129.8 411.4h0M135.9 420h0M137.7 417.7h0M130.2 417.6h0M129 418.7h0M130.5 416.9h0M137.7 414.2h0M131.4 414.9h0M134.7 411.2h0M134.5 418.4h0M133.6 418.2h0M137.6 415.9h0M139.8 413.8h0M130.4 414.3h0M130.9 413.7h0M130.3 414.7h0M133.7 416.1h0M131.6 415h0M140.4 413.5h0M135.5 408.4h0M130.7 415.1h0M134.1 419.8h0M128.1 412.4h0M132.2 414.8h0M138.6 415.9h0M134.3 417.6h0M130.9 410.9h0M132 418.7h0M134.4 416.1h0M134.9 407.8h0M131.4 417.7h0M133 415.5h0M130.3 409h0M129.4 408.7h0M130.5 418.8h0M127.1 411.1h0M133.1 417.3h0M129.7 415.7h0M129 412.5h0M131.9 411.3h0M139.6 411.4h0M135.6 408.1h0M134.6 417.4h0M136.8 412.3h0M129.4 418.1h0M136.2 409.1h0M138.9 417.1h0M138.1 413.3h0M136.1 413.3h0M132.6 417.4h0M131.4 414.3h0M135.7 408.1h0M133.4 411.1h0M127.3 411.6h0M127.3 413.3h0M140.3 412.3h0M128.4 416.2h0M134.3 412.8h0M129.6 418.5h0M136.3 412.4h0M138.3 411.3h0M138.9 417.4h0M136.9 416.3h0M130.2 419.6h0M135.2 414.7h0M139.4 413.6h0M136.1 408.8h0M134.4 411.4h0M135.9 409.9h0M131.4 409.3h0M134 407.7h0M138.1 418.6h0M131.6 415.2h0M138.6 413h0M135.6 418.4h0M131.6 417.3h0M131.8 413.7h0M133.3 419.9h0M128.6 412.3h0M131.4 417.7h0M131 416.1h0M134.9 411h0M128.2 409.2h0M131 409.8h0M129.1 408.2h0M127.9 415.3h0M130.1 419.2h0M133.8 416.8h0M126.7 411.9h0M131.7 415.2h0M139.2 412h0M128.5 412.5h0M132.8 414.4h0M127.8 410.4h0M130 412.1h0M128.7 413.5h0M128.5 415.9h0M137.9 408.6h0M135.7 411.5h0M129.7 417.8h0M129 417.9h0M133.7 412.5h0M135.9 415.7h0M134.1 418.4h0M128.9 414h0M129.8 414h0M129.6 412.1h0M138.3 414.2h0M136.1 410.3h0M135.4 416.2h0M137.2 410.7h0M132 411.9h0M128.6 413.4h0M138.6 414.5h0M131.5 413.7h0M138.5 411h0M133.2 407.8h0M138.7 415.6h0M138.2 408.4h0M132 410.3h0M132.9 415.9h0M139.8 413.5h0M128.2 412.8h0M136.8 408.4h0M133.8 416.2h0M137.7 415.8h0M136.2 419.8h0M137.4 414.4h0M129.2 412.2h0M129 412h0M127.4 416.3h0M135.9 416.5h0M130.5 417.8h0M132.6 415.5h0M137.4 409.9h0M133.9 407.8h0M134.1 416.7h0M137.5 411.2h0M129.2 413.8h0M134.5 413.2h0M136.4 413.7h0M132.7 413.7h0M137.8 416.3h0M133.9 418.6h0M137.5 410.1h0M136.6 416.4h0M135.9 418.6h0M130.4 408.4h0M127.6 413.8h0M130.3 411.8h0M130.5 407.7h0M132.2 417.2h0M138.3 418.3h0M137.1 414.1h0M134.3 409.6h0M130.4 410.7h0M137 410h0M130.8 409.2h0M130.6 407.2h0M131.2 412.5h0M140 411.2h0M129.2 413.7h0M138.1 414.6h0M131.6 414.6h0M133 410.1h0M116 405h0M126.6 410.6h0M123.9 408.8h0M131.1 415.6h0M127.7 413.9h0M115.6 407.3h0M114.2 403h0M118 406.1h0M115.8 404.9h0M122.3 409.1h0M116 407.5h0M123.1 411.6h0M109.6 403.9h0M123.2 408.9h0M123.4 410.6h0M121.1 409.3h0M133.4 413.7h0M126.8 411.5h0M117.1 404.3h0M119.3 405.1h0M127.4 411.9h0M110.9 404.5h0M127.5 410.7h0M127.3 413.4h0M134 413.1h0M116.7 407h0M110.9 402.3h0M113.1 405.7h0M115.4 406.1h0M109.5 404h0M126.5 412.1h0M116.4 405.4h0M112 403.2h0M126.3 410.3h0M119.7 405.3h0M111.1 403h0M121.1 409.3h0M121.6 407h0M119.9 409h0M119.3 405h0M133.3 414.1h0M118.2 406h0M125.3 410.1h0M126.5 411.8h0M116.7 405.1h0M126.3 410.1h0M119.1 404.6h0M126.6 411.2h0M123.1 409.6h0M110 401.2h0M110.6 402.1h0M113 402.5h0M113.8 403.3h0M126 412.3h0M122.6 407.3h0M127.4 411.4h0M126.6 411.3h0M126.6 408.5h0M127.3 413.3h0M122.6 408.6h0M109.2 403.2h0M131.5 414.1h0M126.8 412h0M116.2 407.6h0M119.7 404.9h0M123.5 408.2h0M130.3 413.1h0M128.3 414.3h0M131.8 413.1h0M133.3 412.5h0M117.7 404.6h0M113.9 406.5h0M119.3 407.7h0M125.7 412.8h0M130.6 414.1h0M117.4 405.6h0M114 405.6h0M120.3 407.3h0M121.1 410.3h0M131 414.4h0M121.3 408.4h0M128.1 409.5h0M109.8 403.1h0M112.6 403h0M131.6 415.8h0M129.5 410.9h0M132.6 414.8h0M130.7 412.5h0M114.7 404.2h0M129.8 410.9h0M112.7 403.7h0M112.5 403.9h0M127 410.3h0M121.3 410.3h0M125.7 412.1h0M130.8 414.7h0M110.9 401.5h0M117.6 405.5h0M110.3 403h0M131.5 414h0M128.9 410.7h0M126.6 407.7h0M127.3 398.7h0M135.3 412.8h0M127.6 405.8h0M128.7 403.7h0M130.1 403h0M123.2 401.1h0M125.3 402.7h0M127.4 403.8h0M133.2 410.5h0M128.5 409.4h0M127.7 404.2h0M127 402.3h0M130.6 404.4h0M129.4 412.4h0M126.6 404.3h0M125.3 397.3h0M131 411.8h0M132 407.7h0M133.8 414.4h0M128.9 404.7h0M131.3 412.3h0M131.1 407.6h0M131.4 405.1h0M130.1 414.3h0M128.7 404.8h0M131.3 410h0M131.9 413.6h0M127.2 401.3h0M130.1 406.8h0M125.3 397.4h0M123.6 400.6h0M128.6 407.3h0M122.3 399.1h0M124 398.1h0M134.1 411.5h0M131.9 412.1h0M128.7 410.7h0M129.3 406.1h0M129.2 402.1h0M122.6 399.2h0M129.7 408.9h0M129 411.4h0M128.7 404.1h0M125.6 404h0M124.4 399.8h0M124.8 401.9h0M129.7 406.4h0M129.2 401.3h0M129.6 408.5h0M123.1 398.5h0M132.9 411.7h0M129.1 410.9h0M128 404.4h0M128.9 410.3h0M125.6 403.6h0M131.1 404.9h0M126.5 401.9h0M126.5 396h0M128.1 401.7h0M126.4 406.5h0M122.8 397.9h0M129 407.5h0M127 403.8h0M125.6 403.9h0M126.5 406.1h0M132.1 409.4h0M125.1 396.7h0M126.9 398h0M131.2 410h0M129.7 404.2h0M135.7 413.5h0M131.5 411.4h0M131.2 408.2h0M126.1 399h0M125.1 398.5h0M121.9 398.7h0M128.6 409.6h0M122 398.8h0M129.2 410.5h0M131 412.9h0M131.1 411.7h0M130.6 411.9h0M123.2 399.6h0M130.5 406.7h0M128.3 408.2h0M133.2 411.4h0M131 409.6h0M130.3 404.2h0M127 406h0M129.6 411.2h0M126.3 396.6h0M128.9 403.3h0M123.7 400.4h0M126.1 396.8h0M124.6 403.9h0M132.4 411.6h0M127 403.6h0M125.9 400.6h0M121.7 398.4h0M127.1 403h0M131 408.3h0M123.3 398.6h0M127.7 406h0M130.4 412.3h0M127.5 404.7h0M136.1 416h0M159.3 419.2h0M136 415.4h0M144.5 417.1h0M138.1 413.9h0M143.3 416.7h0M147.8 417h0M154.1 418.4h0M153.9 419.9h0M154.6 417.8h0M154.2 419.2h0M151.6 419.6h0M160.3 420.9h0M158.8 418.6h0M140.8 416.8h0M159.6 419.7h0M136.6 415.2h0M148.7 418.8h0M139.2 416.5h0M146.9 417.2h0M161 419.7h0M150.6 417.3h0M138.3 416.9h0M151.1 420h0M156.6 420h0M159.6 420.8h0M148.2 418.1h0M133.6 415.9h0M148.4 417.7h0M133.4 416.5h0M133.5 415h0M144.3 417.6h0M154.9 420.1h0M135.1 415.1h0M135.9 413.6h0M149.3 417.1h0M155.3 419.2h0M149.6 416.2h0M134 415.2h0M147.8 417.7h0M150.6 419.7h0M142.7 416.5h0M157.3 418.7h0M141.1 416.5h0M149 416.7h0M138.9 415.8h0M139.3 415.8h0M157.9 420.6h0M136.4 417h0M158.7 420.9h0M151.6 419.9h0M141.5 415.8h0M156.6 419h0M152.6 419.3h0M145.1 415.9h0M135.8 414.1h0M134.6 415.4h0M143 416.2h0M146.8 418.3h0M158.5 420.1h0M142 417.3h0M147.4 415.8h0M143.5 415h0M139.5 414.6h0M157.9 421h0M146.9 417.6h0M154.3 420h0M137.2 415.9h0M153.4 418.2h0M139.3 417.1h0M144.5 418.1h0M157 418.2h0M140.6 417.3h0M150.9 418.3h0M141.1 416.8h0M154.6 418.3h0M138.8 414.2h0M158.1 418.7h0M160.9 418.7h0M144.8 415.4h0M149.9 416.3h0M145.7 415.6h0M158.9 418.8h0M153.1 418.4h0M150.4 418h0M155 418.1h0M134.8 414.1h0M145.4 415.6h0M139.1 415.1h0M152.4 417h0M141.2 415.1h0M140.6 416.8h0M149.8 416.9h0M141.8 417.5h0M139.4 415.2h0M145.2 418.4h0M136.3 416.1h0M158.9 418.9h0M139.8 414.3h0M134.8 417.4h0M137.5 429.5h0M133.6 419.3h0M134.9 424.4h0M138 425.5h0M140 432.9h0M137.5 432h0M132.7 418.3h0M135.6 426.5h0M140.8 432.9h0M134.7 414.5h0M133.9 422.5h0M136.7 424.2h0M136.9 424.3h0M132.7 417.4h0M138.6 434.3h0M132.4 417.6h0M135.6 420.2h0M133.5 416.4h0M135 426.2h0M136.6 429.7h0M137.6 429h0M137.9 427.2h0M138.1 434.1h0M139.2 426.5h0M136.5 420.4h0M139 432.4h0M136.5 427.4h0M137.1 427.4h0M138.7 433.8h0M136.9 429.1h0M134.9 418.1h0M136.8 418.5h0M136.2 424.5h0M136.9 423h0M133.4 418.3h0M132.8 420h0M133.9 421.4h0M136.3 426.6h0M138.8 428.9h0M139.2 433.7h0M137.1 422.7h0M137.1 425.5h0M133.7 415.1h0M135.5 419h0M136 418.8h0M136.1 420.7h0M140.1 430h0M138 433.5h0M133.2 421.1h0M138.8 424.8h0M136.2 429.1h0M138.4 430.1h0M137.8 424.8h0M133.5 414.9h0M132.8 418.4h0M137.9 421.4h0M136.7 428.6h0M135.7 418.3h0M134.1 422.3h0M133.9 421.8h0M138.9 434.3h0M139.2 428h0M138 433.2h0M138.8 430.1h0M135.3 418h0M136.6 419.4h0M133.6 416.5h0M141.4 432.3h0M140.9 430.3h0M137.4 426.8h0M134.3 416.4h0M136.9 419.1h0M138.3 426.1h0M136.8 421.9h0M138.5 427.2h0M133.5 421.4h0M134.3 424.2h0M138.1 429h0M134 419.9h0M138.7 432.8h0M135.4 424.9h0M132.8 416.5h0M132.9 416.5h0M135.3 417.7h0M134.2 423.4h0M139 429.2h0M140 434.1h0M137.1 422.5h0M135.1 418.4h0M128.2 421h0M131 421.5h0M130.1 424.5h0M127.2 424.6h0M128.1 430.7h0M126.8 431.3h0M129.5 430.3h0M128 428.6h0M126.2 432.1h0M129.6 425.1h0M129.7 426.1h0M129.1 432.5h0M129.5 427.9h0M129.9 421.8h0M128.4 421h0M129.4 422.6h0M129.1 432.6h0M127 427.7h0M128.3 426.7h0M127.5 423.3h0M129.1 426.5h0M129.5 427.5h0M129.5 428.9h0M130.9 423.9h0M128.5 424.3h0M126 430.5h0M126.4 426.7h0M129.9 427.9h0M131.1 421.8h0M129 423.9h0M130.3 426.7h0M129.3 426.7h0M128.6 425.1h0M128.4 422h0M128.2 431.6h0M129.3 431.7h0M129.3 431.5h0M128.4 419.8h0M127.7 429h0M128.9 429.6h0M126.1 429.3h0M130.4 421.1h0M126.5 427.5h0M128.1 430.7h0M128.5 420.7h0M131.4 422h0M128.1 426.4h0M128.8 429.3h0M128.7 426.5h0M128.4 431.4h0M128.2 430.1h0M128.7 426h0M125.5 432.1h0M129 423.7h0M129.5 427h0M130.7 424.1h0M129.8 427.3h0M126.8 428.3h0M128.6 429h0M130.4 423h0M129.2 421.4h0M127.3 427.3h0M126.5 428.1h0M127.6 407.1h0M128.6 402.4h0M125.5 407.7h0M125.4 404.1h0M122.3 405.3h0M128.8 405.2h0M125.4 405.1h0M125.2 402.1h0M125.1 405.4h0M126 401.6h0M122.9 405.4h0M126.6 404h0M128.2 405.8h0M125.3 405.6h0M126.3 405.9h0M122.6 406.1h0M122.9 403.4h0M126.1 403.9h0M124.7 405.1h0M126.3 408.9h0M123.8 406.1h0M122.5 404.5h0M125.7 402.9h0M126.2 405.1h0M124 406.2h0M127.7 407h0M128.5 403.9h0M123.1 403.4h0M128.9 406.5h0M124.6 404.3h0M127.8 401.8h0M125.6 403h0M125 403.4h0M126.8 401.5h0M129.5 404.6h0M128.2 403.8h0M126.9 406.8h0M123.5 406.6h0M125 402.8h0M127.5 401.7h0M125.5 405.9h0M129.3 403.3h0M127.9 406.4h0M129 403.6h0M123.1 406.7h0M129.6 405h0M126.5 404.4h0M124.2 408.2h0M127.7 404.1h0M126.9 407.7h0M129.5 405.1h0M125.7 406.1h0M127.7 405.8h0M127.7 405.1h0M145.1 420.2h0M148.1 419h0M146.9 421.7h0M143.2 419h0M144.4 421.1h0M149.3 420.9h0M146.1 419h0M144.5 423.5h0M145.6 418.9h0M144.3 420.1h0M140 421h0M141.4 422.7h0M144.4 418.8h0M145.4 419.8h0M141.7 422.9h0M141.1 421.4h0M144.9 422.7h0M144.2 420.8h0M142.5 421h0M140.8 419.5h0M146.2 421.3h0M145.7 419.2h0M145.9 422.6h0M147.7 419.3h0M147.4 422h0M147.8 420.3h0M141.3 419.9h0M144.8 420.2h0M143.4 423.4h0M144.5 419.1h0M140.7 421.8h0M142.5 421h0M140.1 420.9h0M143.2 422.1h0M145.4 423.6h0M145.7 421.5h0M142.2 418.8h0M141.4 421.9h0M145.3 422.9h0M142 421.5h0M142.8 419.1h0M143.9 419.7h0M147.3 422.4h0M146.3 423.5h0M146.8 423h0M145 421.3h0M147.9 421.1h0M143.3 422.7h0M145.1 419.9h0M143.6 423.8h0M145.2 421.6h0M146 423.6h0M141.2 421h0M145.7 418h0" stroke="#F8766D" stroke-width="1.0" stroke-linecap="round"/>
<path d="M119.2 425.6h0M111 423.9h0M110.6 439.2h0M121.1 415.3h0M114.6 416.9h0M112.1 434.9h0M114.3 424.5h0M120.1 414.5h0M107.5 437.4h0M121.3 423.6h0M114.4 438.1h0M116.3 432.1h0M118.5 427.7h0M114.7 432.5h0M109.2 428.6h0M110 439h0M117.6 432.8h0M120.5 419.6h0M117.1 425.1h0M111.9 430.9h0M120.8 425.3h0M111.4 434.8h0M119.1 418.9h0M108.2 441.3h0M117.4 415.7h0M110 425h0M121 423.8h0M120.7 431.5h0M121.8 416.5h0M119 430.1h0M111 431h0M118.4 424.9h0M110.4 432.4h0M114.3 423.3h0M108.6 439.8h0M121.6 428.1h0M118.6 429.6h0M107.5 431.6h0M112.3 441h0M116.8 435.1h0M109.9 433.5h0M124 418.6h0M116.3 426.2h0M119.3 424.1h0M116.6 434.8h0M111.5 434.9h0M109.7 439.1h0M115.9 416.8h0M110 434.3h0M111.7 425h0M122.3 423.2h0M116 430.1h0M115.4 435.3h0M114.7 427.1h0M117.5 433h0M114.1 427.5h0M123 415.3h0M113.9 429.2h0M112.8 421h0M111.4 425.5h0M111.7 432.8h0M121.3 425.8h0M123.8 417.3h0M119.7 429.9h0M110.5 438.2h0M120.2 419.9h0M114.2 429.5h0M111.3 431.4h0M107.7 430.8h0M109.2 441h0M117.7 436.6h0M109.7 435.8h0M118.3 435.3h0M120.5 428.7h0M110.1 435.3h0M109 429.3h0M122 428.7h0M111 437.4h0M115.2 422.4h0M111.5 434.7h0M107.6 438.8h0M115.5 423.4h0M112.3 440.1h0M110.7 437.9h0M115 435h0M108.5 437.7h0M117.5 416.6h0M107.9 439.7h0M121 417.3h0M114 440.8h0M114.1 418.1h0M110.3 430.5h0M112.8 427h0M110.7 433.6h0M112.2 440.5h0M114.5 422.5h0M120.8 426.4h0M115.3 423.3h0M117.8 416.8h0M116.5 425.3h0M120.7 417.3h0M115.9 431h0M119.7 416h0M112.5 434.4h0M112.2 429.6h0M117.5 418.2h0M111.6 432.7h0M109.2 428.5h0M122.1 423h0M110.5 427.1h0M119.5 422.6h0M113.3 437.8h0M119.6 421.2h0M107.6 437.9h0M119.9 422.6h0M113.4 432.2h0M121.1 419.1h0M120.6 427.4h0M111 435.2h0M114.2 418.5h0M117.1 415.5h0M117.2 422.5h0M111.3 438h0M111.6 436.2h0M113.6 420.7h0M111.8 425.3h0M116.1 421.7h0M109.9 436.8h0M109.5 439h0M118.8 415.4h0M119 434h0M109.1 439.4h0M114.6 418.6h0M114.6 434.1h0M117.8 425h0M117.1 416.9h0M120.4 416.6h0M113.4 425.2h0M113.9 437.5h0M108.7 431.4h0M111.1 437.6h0M123.9 416.6h0M111.6 431.8h0M119 421.4h0M121.7 425.6h0M115.3 435.5h0M115.4 436.8h0M112.1 425.9h0M107.3 436.8h0M111.7 430.9h0M114.8 438.1h0M113.2 435.8h0M112.7 436.4h0M112.1 428.4h0M120.2 423.4h0M111.1 425.8h0M114.7 432.8h0M119.2 417.9h0M122.9 425h0M121.9 418.8h0M110.6 438.6h0M121.9 426h0M122 420.7h0M115.9 420.6h0M114.2 418h0M110.2 425.2h0M111.1 423.3h0M124.2 419.1h0M113.5 423.6h0M116.6 431.5h0M117 433h0M120.7 428.9h0M109.4 437h0M111.2 428.6h0M111.3 430.7h0M111.9 428h0M119.8 427.5h0M109.6 437.1h0M112.4 441h0M119.1 428.1h0M117.5 420.8h0M122.5 418.9h0M119.9 427.6h0M118.7 428.4h0M108.5 435.8h0M115.6 430.7h0M119.4 417.1h0M112.5 435.8h0M108.5 429.7h0M115.5 423.6h0M120.6 424.6h0M112.1 432.7h0M110 434.9h0M109.3 442.3h0M114.6 437.7h0M115 419.1h0M121.6 414.4h0M114.8 430.6h0M118.6 429.2h0M114.5 430h0M107.7 432h0M114.2 436h0M116.3 430.7h0M112.5 421.9h0M120.2 430.1h0M116.7 421.7h0M110.6 438.1h0M121.1 422.1h0M115 423.6h0M111 438.4h0M112.7 435.9h0M121.5 418.6h0M113.9 433h0M118.6 419h0M111.3 439.5h0M110 441.3h0M108.3 429.4h0M111.3 433.5h0M113.4 427.1h0M112.7 439.1h0M115.3 419.9h0M120.5 421.3h0M116.4 436.7h0M112.2 427.6h0M117.7 424.8h0M109.5 434.7h0M118.2 430.5h0M113 419.3h0M117.5 426.1h0M111.2 438.9h0M119.1 426.5h0M119 419.7h0M115.1 427.1h0M117.1 422.6h0M113.3 438h0M120.6 425.2h0M122.3 420h0M109.7 427.3h0M110.3 432.7h0M119.1 421.7h0M113.3 437.2h0M113.3 430.6h0M120.3 424.4h0M123 416.3h0M119.9 422.3h0M111.3 431.3h0M118.5 421h0M119.3 415.3h0M110.5 429.3h0M121.3 425.7h0M120.3 420.1h0M119.8 427.6h0M116.9 436.5h0M117.8 427.8h0M119.4 427.9h0M108.9 438.1h0M113.1 431.5h0M115.6 420.6h0M115.2 420.2h0M120.8 425.6h0M119.4 432.7h0M111.1 439.2h0M119.4 429.7h0M122.7 426h0M108.6 433.3h0M112.9 428.6h0M114.1 428.2h0M122.8 420.3h0M111 434.7h0M111.7 440.3h0M116 432.3h0M123.9 416.6h0M111.7 430.8h0M117.5 435.9h0M110.5 426.3h0M117 433h0M114.7 427.2h0M110.3 441.9h0M111.8 425.2h0M113.4 422.2h0M122.6 414.9h0M119.7 431.7h0M112.4 437.3h0M109.8 437.7h0M114.7 437.8h0M114.3 435.8h0M116.8 431.3h0M119.3 427.6h0M109.1 428.7h0M109.8 426.2h0M120.3 421.9h0M108.3 432.5h0M118 417.2h0M109.6 431.7h0M112.8 421.4h0M111.3 437.4h0M118.9 420.9h0M123.1 425.7h0M122.8 426.5h0M106.6 438.8h0M124.2 418.6h0M115.9 421.4h0M110.9 432.6h0M115 429.4h0M112.7 434.8h0M115.9 422.8h0M113.5 436.4h0M113.8 421.8h0M107 435.7h0M117.8 435.9h0M109.6 435.1h0M118.6 420.9h0M124.6 418.1h0M113.5 426.1h0M112.9 420.8h0M121.5 428h0M113.2 425.1h0M119.5 432.4h0M123.3 422.6h0M121.1 414.1h0M124.6 418.3h0M115.9 438.8h0M114.6 420.4h0M109.4 429.2h0M123.5 415.5h0M115.9 420.4h0M122.4 416.8h0M114.5 416.9h0M114.5 432.9h0M115.9 419.4h0M113.2 424.3h0M121.1 418.1h0M114.1 422.7h0M109.4 430.4h0M124.5 417h0M119.6 433.1h0M114 435.1h0M108.6 435h0M115.8 438.9h0M118.7 422h0M111.6 430.7h0M111.3 431h0M111.1 438.7h0M117.3 426.8h0M110.9 431.7h0M114.3 423.5h0M115 421.5h0M122.6 423.7h0M120.7 424.2h0M118.4 425.9h0M119.8 419.4h0M118.3 426.5h0M108.8 428.7h0M123.2 423h0M115.7 437h0M117.9 428.2h0M115.5 439h0M114.3 432.5h0M115 438.5h0M117.8 429h0M120.2 426.1h0M119.3 422.2h0M108.9 435h0M120.5 427.4h0M122.2 420.3h0M119.1 416.3h0M119.3 432.9h0M116.6 424.4h0M112.8 424.6h0M108.3 431.9h0M115.8 419.8h0M121 415.6h0M115.3 424.1h0M110.6 439h0M109.6 428.7h0M121.9 426h0M124 420.7h0M118.5 428.2h0M110.4 431.8h0M110.1 435.9h0M110.9 430.6h0M114.8 419.3h0M114.5 428.4h0M117.9 435.4h0M115.2 427.1h0M116.6 426.3h0M107.9 438.5h0M120.9 426.1h0M111.7 432.2h0M118.2 427.5h0M115 416.5h0M108.5 433.8h0M110.5 436.9h0M113.1 433.2h0M108.5 440.4h0M117.5 426.4h0M112.6 441.3h0M122.1 427.9h0M112.6 423.9h0M123.7 421.9h0M109 439.2h0M123.8 421.9h0M122.7 426.9h0M121.3 427.6h0M115.8 436.1h0M119.9 430.4h0M118.3 420.3h0M108.1 431.9h0M122.3 417.1h0M116.1 419.1h0M118.9 423.9h0M121.4 420.3h0M116.5 429.3h0M122.1 420.5h0M112.8 440.6h0M108.9 438.3h0M110.7 439h0M124.1 418.7h0M110.9 441.5h0M112.1 429.9h0M107.6 435.5h0M111.2 423h0M110.8 434.3h0M118.6 418.3h0M120.4 416.3h0M110.3 429h0M119.1 427.4h0M109.3 431.5h0M113.1 422.6h0M112.7 434.2h0M113.2 435.8h0M111 430h0M118.5 435.6h0M121.5 414.8h0M117.4 430.6h0M116 420.5h0M124.4 417.5h0M120.9 426.9h0M120.6 423.1h0M113.9 439.2h0M117.2 433.5h0M116.7 435h0M120 431.8h0M115.2 427.3h0M110.7 424.4h0M117.5 431.9h0M115.1 427.8h0M118.5 416.3h0M116.7 421.4h0M120.5 432.5h0M111.5 425.1h0M112.7 429.9h0M119.1 418.5h0M121.7 420.4h0M111.6 438.2h0M111.4 438.8h0M111.8 426h0M113.3 424h0M116.4 421.8h0M115.1 416.5h0M108.9 439.1h0M111.1 436.7h0M124.1 418.6h0M121.7 417h0M120.7 425.1h0M119.1 419.1h0M121.8 415.6h0M115.8 433.3h0M115.6 435.6h0M107.5 436.8h0M113.7 424.3h0M118.6 435.3h0M122.1 423.7h0M108.3 429.7h0M117.6 428.4h0M120.5 423.8h0M113.4 418.9h0M111.9 432.6h0M120.9 425.6h0M120.9 423.1h0M123.3 419h0M113.1 433.8h0M118.5 435.5h0M110.1 429.8h0M119.6 431.3h0M111 436.2h0M114.7 420.4h0M108.8 431.9h0M120.2 426.3h0M113.8 436.3h0M116.6 424.6h0M118.6 430.5h0M112 422.1h0M110.2 431.7h0M110.7 438.7h0M113.5 418h0M116.7 416.6h0M115.4 422h0M119 433h0M120 414.9h0M108.3 432.4h0M111.8 433.3h0M111 433.4h0M116.8 419.5h0M113.6 424.1h0M117.9 415.9h0M111.8 431.5h0M114.5 428.8h0M109.8 439.6h0M111.8 441.7h0M113.1 435h0M110 432.4h0M114.5 439.1h0M122.9 421.4h0M118.7 433.1h0M116.2 418.6h0M117.9 435.4h0M108.4 436.1h0M110.9 437.8h0M117.9 418.8h0M113.1 434.4h0M115 419.3h0M114.8 432.9h0M114.5 418.7h0M118.7 420.2h0M118.1 427.9h0M113.4 440.4h0M117.6 436.8h0M108.5 436.8h0M118.5 427.7h0M112.6 438.6h0M120.1 416.1h0M115.5 424.7h0M114.5 429.8h0M112.2 421.6h0M107.5 436.8h0M124.5 418h0M113.9 420.9h0M120 414.5h0M114.8 438.6h0M116.1 421.4h0M117.7 421.6h0M120 419.7h0M107.5 434.4h0M114.5 432.2h0M121.7 419.1h0M121.7 428.1h0M117 419.5h0M124 420.3h0M117.7 417.2h0M113.2 422.7h0M114.4 424.3h0M121.2 423.6h0M109.3 433h0M115.2 430.6h0M118.5 423.6h0M110.3 439.1h0M117 421.2h0M122.6 424h0M116.6 431.4h0M107.4 437.5h0M110.4 437.9h0M121.3 426.2h0M108.6 435.9h0M111.8 440.5h0M118.4 427.3h0M110 430.4h0M116.2 415.8h0M116.9 429.4h0M123 422.3h0M123.2 422.5h0M116.7 429.1h0M117.4 424.3h0M120.4 428.9h0M118.2 419.4h0M110.8 438.1h0M110.8 429.9h0M123.4 420.5h0M114.1 437.4h0M106.7 438.3h0M112.3 434.4h0M116.4 418.1h0M117.3 434.8h0M121.5 422.8h0M111.4 429.4h0M115.4 426.3h0M111.8 442h0M120.6 423.1h0M115.3 421.2h0M115.1 438.9h0M107.3 433.1h0M107.7 432.9h0M120.6 423.4h0M109.1 436.9h0M112.2 432.5h0M121.7 415.1h0M120.8 425.3h0M122.9 422.7h0M118.5 422.7h0M112.3 425.9h0M108.5 440.1h0M109.5 440.3h0M108.2 438h0M109.8 435.4h0M119.3 433.9h0M112 435h0M109 436.7h0M107.7 431.4h0M118 435.8h0M118.1 426.6h0M120.2 422.8h0M116.1 422.6h0M118.1 425.7h0M118.9 415h0M116.4 428h0M119.3 429.4h0M122.3 421h0M115 422.9h0M109.3 428.2h0M119.5 421.3h0M113 434h0M116.6 425.2h0M112.6 439.7h0M108.7 429.8h0M112.3 437.7h0M110.7 442.5h0M118.7 430.8h0M123.2 419.1h0M115.4 435h0M108.9 430.4h0M116.2 432.8h0M108.6 430.9h0M112.3 427.8h0M107.9 439.1h0M113.8 419h0M110.1 434.6h0M118.5 432.9h0M121.9 416.9h0M117 427.3h0M120.5 431.8h0M112.3 424.5h0M109.2 442.8h0M118.2 434.4h0M116.2 424.2h0M118.4 432.4h0M114.1 420.7h0M116.9 427.6h0M120.2 421.6h0M124.4 417.7h0M116.3 423.7h0M121 415.7h0M108.6 434.7h0M109.5 435.5h0M107.3 436.4h0M115.7 430h0M116.3 416.6h0M109.2 434.3h0M113.1 435.4h0M112.1 427.4h0M112.6 420.3h0M113.6 419.9h0M119.9 431.2h0M119.3 421.6h0M110.6 424.4h0M118.5 435.8h0M120.7 432h0M115.9 415.9h0M122.9 417h0M116 419.9h0M107.8 440.7h0M111.5 431h0M107.8 430.6h0M124.1 418.9h0M122.4 415.4h0M108.1 432.4h0M119 421.3h0M109 429.4h0M121.2 429.5h0M116.5 437.6h0M123.5 423.6h0M110.2 434.4h0M113.4 435.7h0M122.3 424.8h0M120.4 433h0M115.3 422.5h0M109.3 436.6h0M115.4 437.5h0M121.5 420.3h0M111.5 421.9h0M109.7 426.5h0M117 426.4h0M110.8 428.5h0M119.6 427.8h0M119.4 416h0M117.1 431.2h0M111.9 441.1h0M109.3 430.5h0M113.6 417.2h0M117.4 425.1h0M121.1 423.4h0M107.1 436.3h0M114.9 417.5h0M124.2 420.2h0M121.1 414.6h0M118.3 435.4h0M124.7 417.4h0M118 433.4h0M113.7 427.2h0M106.8 436.3h0M117.9 421.2h0M113.2 431.9h0M108.6 440.8h0M113.4 425.1h0M116.1 420.8h0M114.5 439.7h0M110.4 432.7h0M117.7 432.4h0M109.8 428.2h0M120.7 429.7h0M118.4 419.5h0M111.4 423.9h0M113.6 418.7h0M107.7 433.5h0M122.7 420.5h0M115.4 428.2h0M110.1 434.5h0M116.5 421.5h0M115.4 419.5h0M123.7 416.6h0M114 433.7h0M120.9 428.6h0M113.4 425h0M111.7 426.5h0M107.5 439.6h0M115.8 424.1h0M115.3 438.4h0M112.8 433.6h0M118.7 418.6h0M112 422.7h0M107.9 430.7h0M117.6 419.3h0M119.9 429.9h0M113.3 440.8h0M111 431.1h0M111.7 438.5h0M116.3 423.5h0M111.6 425h0M116.2 425.9h0M116.4 422.4h0M110.1 437.7h0" stroke="#00BA38" stroke-width="1.0" stroke-linecap="round"/>
<path d="M93.5 400.5h0M92.5 399.8h0M94 401h0" stroke="#00BA38" stroke-width="0.9" stroke-linecap="round"/>
<text x="29" y="326" fill="#1fbdbd">EC</text>
<text x="85" y="384" fill="#5b9be8">FM</text>
<text x="121" y="389" fill="#f2775f">MP</text>
<text x="196" y="346" fill="#ee66dd">CM</text>
<text x="190" y="428" fill="#b8a020">EP</text>
<text x="90" y="460.5" fill="#1aaa3a">NC</text>
<path d="M30.5 385V427.3H72" stroke="#222" stroke-width="2.2" fill="none"/>
<path d="M30.6 376.6L25.6 387H35.6Z" fill="#222"/><path d="M81 427.3L70.4 422.2V432.4Z" fill="#222"/>
<text x="30" y="446">UMAP1</text>
<text x="0" y="0" transform="translate(20 430) rotate(-90)">UMAP2</text>
<rect x="275" y="241.0" width="385" height="247.5" fill="#200a22"/>
<path stroke="#000000" stroke-width="0.6" d="M305.2 307v8.4M328.2 422.5v8.4M369.2 249.2v8.4M482 422.5v8.4M512.4 323.5v8.4M628.9 257.5v8.4M635.4 274v8.4M598.9 282.2v8.4M598.9 356.5v8.4M627.4 356.5v8.4M538.9 422.5v8.4M577.4 422.5v8.4"/>
<path stroke="#000000" stroke-width="1.1" d="M282 241v8.4M326 241v8.4M296.5 282.2v8.4M302.5 282.2v8.4M322.5 282.2v8.4M281 298.8v8.4M285.5 298.8v8.4M288 298.8v8.4M298.5 298.8v8.4M312.5 298.8v8.4M285.5 307v8.4M288 307v8.4M291.5 307v8.4M322.5 307v8.4M275.5 315.2v8.4M290.5 315.2v8.4M281 323.5v8.4M305 323.5v8.4M326 323.5v8.4M290.5 331.8v8.4M326 331.8v8.4M284.5 340v8.4M305 340v8.4M319 340v8.4M320 348.2v8.4M322.5 348.2v8.4M275.5 373v8.4M306 373v8.4M275.5 406v8.4M285.5 406v8.4M320 406v8.4M291.5 414.2v8.4M298.5 414.2v8.4M302.5 414.2v8.4M319 414.2v8.4M276.5 422.5v8.4M298.5 439v8.4M364.4 241v8.4M337.9 249.2v8.4M342.4 348.2v8.4M340.4 356.5v8.4M340.4 373v8.4M380.6 265.8v8.4M391.1 265.8v8.4M409.6 274v8.4M409.6 315.2v8.4M375.6 414.2v8.4M378.1 414.2v8.4M409.6 414.2v8.4M411 422.5v8.4M383.6 439v8.4M418.4 241v8.4M423.4 241v8.4M434.9 241v8.4M440.4 241v8.4M450.4 241v8.4M477.9 241v8.4M415.9 265.8v8.4M426.9 265.8v8.4M478.9 265.8v8.4M433.9 298.8v8.4M421.4 323.5v8.4M424.4 348.2v8.4M427.9 348.2v8.4M433.9 348.2v8.4M440.4 348.2v8.4M455.4 348.2v8.4M422.4 414.2v8.4M440.4 414.2v8.4M459.9 414.2v8.4M477.9 414.2v8.4M426.9 422.5v8.4M415.9 439v8.4M421.4 439v8.4M426.9 439v8.4M460.9 439v8.4M476.9 439v8.4M486.2 241v8.4M495.2 241v8.4M508.7 241v8.4M485.2 298.8v8.4M486.2 323.5v8.4M490.7 323.5v8.4M505.2 323.5v8.4M500.7 356.5v8.4M495.2 364.8v8.4M505.2 364.8v8.4M485.2 381.2v8.4M500.7 381.2v8.4M485.2 397.8v8.4M495.2 397.8v8.4M533.1 241v8.4M549.6 241v8.4M567.6 241v8.4M573.6 241v8.4M590.1 241v8.4M601.1 241v8.4M642.1 241v8.4M539.6 249.2v8.4M546.1 249.2v8.4M562.1 249.2v8.4M569.6 249.2v8.4M581.6 249.2v8.4M583.6 249.2v8.4M639.1 249.2v8.4M648.6 249.2v8.4M523.6 257.5v8.4M565.6 257.5v8.4M567.6 257.5v8.4M576.1 257.5v8.4M578.1 257.5v8.4M583.6 257.5v8.4M592.1 257.5v8.4M603.1 257.5v8.4M609.1 257.5v8.4M616.1 257.5v8.4M634.1 257.5v8.4M644.6 257.5v8.4M519.1 274v8.4M532.1 274v8.4M555.6 274v8.4M568.6 274v8.4M573.6 274v8.4M576.1 274v8.4M578.1 274v8.4M591.1 274v8.4M595.1 274v8.4M604.1 274v8.4M642.1 274v8.4M644.6 274v8.4M656.6 274v8.4M532.1 282.2v8.4M539.6 282.2v8.4M566.6 282.2v8.4M571.6 282.2v8.4M581.6 282.2v8.4M588.1 282.2v8.4M601.1 282.2v8.4M605.1 282.2v8.4M634.1 282.2v8.4M644.6 282.2v8.4M523.6 307v8.4M570.6 307v8.4M581.6 307v8.4M591.1 307v8.4M520.1 315.2v8.4M555.6 315.2v8.4M566.6 315.2v8.4M569.6 315.2v8.4M591.1 315.2v8.4M601.1 315.2v8.4M528.1 323.5v8.4M539.6 323.5v8.4M565.6 323.5v8.4M571.6 323.5v8.4M577.1 323.5v8.4M644.6 323.5v8.4M523.6 356.5v8.4M528.1 356.5v8.4M533.1 356.5v8.4M549.6 356.5v8.4M562.1 356.5v8.4M573.6 356.5v8.4M602.1 356.5v8.4M635.1 356.5v8.4M523.6 373v8.4M648.6 373v8.4M568.6 414.2v8.4M581.6 414.2v8.4M589.1 414.2v8.4M604.1 414.2v8.4M616.1 414.2v8.4M523.6 422.5v8.4M545.1 422.5v8.4M549.6 422.5v8.4M591.1 422.5v8.4M634.1 422.5v8.4M642.1 422.5v8.4"/>
<path stroke="#000000" stroke-width="1.6" d="M315.2 241v8.4M293.8 257.5v8.4M283.2 282.2v8.4M313.8 282.2v8.4M283.2 298.8v8.4M293.8 298.8v8.4M315.2 298.8v8.4M321.2 298.8v8.4M283.2 307v8.4M293.8 307v8.4M316.8 307v8.4M295.2 315.2v8.4M321.2 315.2v8.4M301.2 323.5v8.4M295.2 331.8v8.4M313.8 331.8v8.4M316.8 331.8v8.4M286.8 340v8.4M299.8 340v8.4M311.2 340v8.4M295.2 348.2v8.4M313.8 348.2v8.4M313.8 373v8.4M289.2 406v8.4M313.8 406v8.4M283.2 414.2v8.4M316.8 414.2v8.4M324.8 414.2v8.4M311.2 422.5v8.4M283.2 430.8v8.4M301.2 430.8v8.4M321.2 430.8v8.4M283.2 439v8.4M295.2 439v8.4M303.8 439v8.4M316.8 439v8.4M330.1 241v8.4M357.6 241v8.4M357.6 249.2v8.4M357.6 257.5v8.4M347.1 290.5v8.4M339.1 323.5v8.4M347.1 323.5v8.4M363.1 323.5v8.4M363.1 356.5v8.4M363.1 373v8.4M334.6 381.2v8.4M347.1 381.2v8.4M343.6 422.5v8.4M350.1 422.5v8.4M334.6 430.8v8.4M357.6 472v8.4M388.4 241v8.4M408.4 241v8.4M379.4 249.2v8.4M388.4 249.2v8.4M394.4 249.2v8.4M402.4 249.2v8.4M373.4 265.8v8.4M395.9 414.2v8.4M377.9 422.5v8.4M398.4 422.5v8.4M400.9 422.5v8.4M402.4 439v8.4M429.1 241v8.4M468.6 241v8.4M441.6 265.8v8.4M455.1 298.8v8.4M436.1 323.5v8.4M446.1 323.5v8.4M443.1 348.2v8.4M472.1 348.2v8.4M413.1 414.2v8.4M475.6 414.2v8.4M420.1 422.5v8.4M429.1 422.5v8.4M436.1 439v8.4M506.4 241v8.4M487.4 298.8v8.4M509.9 298.8v8.4M487.4 315.2v8.4M503.9 315.2v8.4M483.9 323.5v8.4M493.9 331.8v8.4M503.9 356.5v8.4M483.9 364.8v8.4M509.9 364.8v8.4M487.4 373v8.4M506.4 373v8.4M506.4 397.8v8.4M517.9 241v8.4M619.9 241v8.4M637.9 241v8.4M558.9 249.2v8.4M596.4 249.2v8.4M599.9 249.2v8.4M607.4 249.2v8.4M613.9 249.2v8.4M632.9 249.2v8.4M636.4 249.2v8.4M529.4 257.5v8.4M538.4 257.5v8.4M651.4 257.5v8.4M657.9 257.5v8.4M628.4 274v8.4M647.4 274v8.4M517.9 282.2v8.4M608.9 282.2v8.4M619.9 282.2v8.4M624.9 282.2v8.4M647.4 282.2v8.4M657.9 282.2v8.4M558.9 307v8.4M564.4 307v8.4M586.9 307v8.4M619.9 307v8.4M659.3 307v8.4M558.9 315.2v8.4M613.9 315.2v8.4M636.4 315.2v8.4M659.3 315.2v8.4M574.9 323.5v8.4M599.9 323.5v8.4M657.9 323.5v8.4M612.4 356.5v8.4M632.9 356.5v8.4M637.9 356.5v8.4M647.4 356.5v8.4M659.3 356.5v8.4M538.4 414.2v8.4M586.9 414.2v8.4M619.9 414.2v8.4M624.9 414.2v8.4M628.4 414.2v8.4M526.9 422.5v8.4M582.4 422.5v8.4M607.4 422.5v8.4M649.9 422.5v8.4"/>
<path stroke="#000000" stroke-width="2.1" d="M309.5 298.8v8.4M327.4 298.8v8.4M298 307v8.4M305.5 331.8v8.4M279.5 340v8.4M307.5 356.5v8.4M307.5 406v8.4M331.9 249.2v8.4M365.9 249.2v8.4M359.4 265.8v8.4M345.4 274v8.4M355.9 274v8.4M359.4 323.5v8.4M345.4 348.2v8.4M349.9 348.2v8.4M361.4 348.2v8.4M354.4 356.5v8.4M354.4 381.2v8.4M367.9 406v8.4M392.6 274v8.4M371.6 422.5v8.4M461.4 241v8.4M449.9 265.8v8.4M419.9 414.2v8.4M422.9 422.5v8.4M462.4 422.5v8.4M465.9 422.5v8.4M470.4 422.5v8.4M458.4 439v8.4M481.3 439v8.4M498.2 298.8v8.4M500.2 315.2v8.4M508.2 340v8.4M508.2 356.5v8.4M543.6 241v8.4M554.1 241v8.4M623.1 241v8.4M514.6 249.2v8.4M610.6 249.2v8.4M655.1 249.2v8.4M514.6 257.5v8.4M534.6 257.5v8.4M557.1 257.5v8.4M572.1 257.5v8.4M610.6 274v8.4M534.6 282.2v8.4M543.6 282.2v8.4M546.6 282.2v8.4M554.1 282.2v8.4M569.1 282.2v8.4M554.1 307v8.4M629.6 307v8.4M514.6 315.2v8.4M534.6 315.2v8.4M532.6 323.5v8.4M536.6 323.5v8.4M613.6 323.5v8.4M514.6 356.5v8.4M536.6 356.5v8.4M543.6 356.5v8.4M554.1 356.5v8.4M615.6 356.5v8.4M520.6 422.5v8.4M532.6 422.5v8.4M572.1 422.5v8.4M585.1 422.5v8.4M588.6 422.5v8.4M593.6 422.5v8.4M601.6 422.5v8.4M626.6 422.5v8.4"/>
<path stroke="#000000" stroke-width="2.6" d="M324.2 298.8v8.4M311.8 307v8.4M293.2 340v8.4M282.8 348.2v8.4M287.2 373v8.4M301.8 406v8.4M283.8 422.5v8.4M299.2 422.5v8.4M303.2 422.5v8.4M368.2 241v8.4M347.6 249.2v8.4M334.1 274v8.4M368.2 422.5v8.4M397.9 265.8v8.4M408.9 265.8v8.4M432.1 265.8v8.4M428.6 414.2v8.4M432.1 422.5v8.4M438.6 422.5v8.4M506.9 298.8v8.4M484.4 315.2v8.4M494.4 323.5v8.4M484.4 331.8v8.4M504.4 331.8v8.4M487.9 356.5v8.4M527.4 241v8.4M651.9 241v8.4M541.4 257.5v8.4M580.9 257.5v8.4M541.4 274v8.4M651.9 274v8.4M635.9 307v8.4M606.9 315.2v8.4M619.4 315.2v8.4M558.4 356.5v8.4M619.4 356.5v8.4M643.9 356.5v8.4M541.4 422.5v8.4M560.4 422.5v8.4M563.9 422.5v8.4M616.9 422.5v8.4M638.4 422.5v8.4M645.4 422.5v8.4M657.4 422.5v8.4"/>
<path stroke="#000000" stroke-width="3.1" d="M303.5 307v8.4M280 422.5v8.4M292.5 422.5v8.4M295.5 422.5v8.4M314.5 422.5v8.4M317.5 422.5v8.4M320.5 422.5v8.4M323.5 422.5v8.4M326.5 422.5v8.4M353.4 274v8.4M336.9 323.5v8.4M356.9 323.5v8.4M334.4 422.5v8.4M337.4 422.5v8.4M340.4 422.5v8.4M347.9 422.5v8.4M353.4 422.5v8.4M356.4 422.5v8.4M359.4 422.5v8.4M362.4 422.5v8.4M365.4 422.5v8.4M407.6 414.2v8.4M375.6 422.5v8.4M382.6 422.5v8.4M389.1 422.5v8.4M393.1 422.5v8.4M396.1 422.5v8.4M404.6 422.5v8.4M409.1 422.5v8.4M454.4 241v8.4M413.9 348.2v8.4M419.4 348.2v8.4M453.4 348.2v8.4M448.4 414.2v8.4M413.9 422.5v8.4M417.9 422.5v8.4M435.9 422.5v8.4M443.9 422.5v8.4M446.9 422.5v8.4M449.9 422.5v8.4M452.9 422.5v8.4M455.9 422.5v8.4M459.9 422.5v8.4M474.4 422.5v8.4M477.4 422.5v8.4M480.4 422.5v8.4M510.7 323.5v8.4M561.1 241v8.4M551.6 257.5v8.4M607.1 257.5v8.4M627.1 257.5v8.4M637.1 257.5v8.4M517.1 274v8.4M530.1 274v8.4M550.6 274v8.4M633.6 274v8.4M640.1 274v8.4M597.1 282.2v8.4M613.1 282.2v8.4M627.1 307v8.4M655.6 315.2v8.4M603.1 323.5v8.4M611.1 323.5v8.4M650.6 323.5v8.4M597.1 356.5v8.4M625.6 356.5v8.4M630.6 356.5v8.4M517.1 422.5v8.4M530.1 422.5v8.4M537.1 422.5v8.4M553.6 422.5v8.4M557.6 422.5v8.4M575.6 422.5v8.4M580.1 422.5v8.4M605.1 422.5v8.4M613.1 422.5v8.4M630.6 422.5v8.4"/>
<path stroke="#09000f" stroke-width="0.6" d="M369.2 265.8v8.4M369.2 373v8.4M369.2 406v8.4M347.6 455.5v8.4M394.9 257.5v8.4M377.4 307v8.4M472.6 265.8v8.4M474.6 298.8v8.4M476.1 307v8.4M476.1 348.2v8.4M498.9 389.5v8.4M504.4 397.8v8.4M512.4 397.8v8.4M625.4 249.2v8.4M600.4 265.8v8.4M623.9 265.8v8.4M538.9 274v8.4M516.9 282.2v8.4M623.9 282.2v8.4M628.9 298.8v8.4M516.9 307v8.4M625.4 307v8.4M612.9 315.2v8.4M587.4 340v8.4M548.9 414.2v8.4M575.4 414.2v8.4M600.4 414.2v8.4M607.9 414.2v8.4"/>
<path stroke="#09000f" stroke-width="1.1" d="M276.5 282.2v8.4M297.5 298.8v8.4M320 298.8v8.4M326 298.8v8.4M292.5 307v8.4M281 315.2v8.4M285.5 315.2v8.4M292.5 315.2v8.4M296.5 315.2v8.4M275.5 331.8v8.4M282 340v8.4M285.5 340v8.4M318 340v8.4M302.5 348.2v8.4M312.5 348.2v8.4M291.5 373v8.4M296.5 373v8.4M318 373v8.4M296.5 381.2v8.4M306 381.2v8.4M306 389.5v8.4M322.5 389.5v8.4M288 406v8.4M292.5 406v8.4M296.5 406v8.4M318 406v8.4M323.5 406v8.4M276.5 414.2v8.4M297.5 414.2v8.4M323.5 414.2v8.4M282 422.5v8.4M285.5 422.5v8.4M305 422.5v8.4M281 430.8v8.4M292.5 430.8v8.4M342.4 241v8.4M333.4 249.2v8.4M333.4 265.8v8.4M333.4 331.8v8.4M340.4 331.8v8.4M333.4 340v8.4M337.9 348.2v8.4M341.4 348.2v8.4M351.4 348.2v8.4M342.4 356.5v8.4M361.9 356.5v8.4M341.4 373v8.4M351.4 373v8.4M337.9 381.2v8.4M333.4 389.5v8.4M340.4 389.5v8.4M351.4 422.5v8.4M374.6 241v8.4M383.6 241v8.4M397.1 249.2v8.4M383.6 257.5v8.4M375.6 265.8v8.4M399.6 265.8v8.4M405.6 265.8v8.4M374.6 274v8.4M380.6 274v8.4M384.6 274v8.4M398.6 274v8.4M374.6 298.8v8.4M378.1 298.8v8.4M383.6 298.8v8.4M385.6 298.8v8.4M404.6 298.8v8.4M380.6 307v8.4M385.6 307v8.4M391.1 307v8.4M380.6 315.2v8.4M405.6 315.2v8.4M399.6 406v8.4M385.6 414.2v8.4M380.6 422.5v8.4M422.4 241v8.4M432.9 241v8.4M449.4 241v8.4M451.4 241v8.4M457.9 241v8.4M462.9 241v8.4M433.9 257.5v8.4M422.4 265.8v8.4M458.9 265.8v8.4M434.9 274v8.4M461.9 274v8.4M434.9 282.2v8.4M467.4 282.2v8.4M417.4 298.8v8.4M443.4 298.8v8.4M462.9 298.8v8.4M427.9 307v8.4M437.4 307v8.4M452.4 307v8.4M458.9 307v8.4M477.9 307v8.4M424.4 315.2v8.4M426.9 315.2v8.4M437.4 315.2v8.4M440.4 315.2v8.4M449.4 315.2v8.4M477.9 315.2v8.4M434.9 323.5v8.4M440.4 323.5v8.4M449.4 323.5v8.4M458.9 323.5v8.4M467.4 323.5v8.4M424.4 331.8v8.4M434.9 331.8v8.4M478.9 340v8.4M415.9 348.2v8.4M422.4 348.2v8.4M432.9 348.2v8.4M449.4 348.2v8.4M457.9 348.2v8.4M421.4 414.2v8.4M424.4 414.2v8.4M450.4 414.2v8.4M457.9 414.2v8.4M476.9 414.2v8.4M479.9 414.2v8.4M421.4 422.5v8.4M430.4 422.5v8.4M434.9 439v8.4M477.9 439v8.4M490.7 274v8.4M485.2 282.2v8.4M488.7 282.2v8.4M495.2 282.2v8.4M489.7 298.8v8.4M499.7 298.8v8.4M508.7 298.8v8.4M485.2 307v8.4M486.2 315.2v8.4M490.7 315.2v8.4M495.2 315.2v8.4M489.7 323.5v8.4M500.7 364.8v8.4M505.2 373v8.4M488.7 389.5v8.4M505.2 389.5v8.4M486.2 397.8v8.4M519.1 241v8.4M521.1 241v8.4M547.1 241v8.4M571.6 241v8.4M578.1 241v8.4M606.1 241v8.4M533.1 249.2v8.4M555.6 249.2v8.4M576.1 249.2v8.4M582.6 249.2v8.4M656.6 249.2v8.4M521.1 257.5v8.4M532.1 257.5v8.4M539.6 257.5v8.4M545.1 257.5v8.4M562.1 257.5v8.4M569.6 257.5v8.4M577.1 257.5v8.4M590.1 257.5v8.4M604.1 257.5v8.4M652.6 257.5v8.4M566.6 265.8v8.4M572.6 265.8v8.4M582.6 265.8v8.4M589.1 265.8v8.4M592.1 265.8v8.4M605.1 265.8v8.4M563.1 274v8.4M569.6 274v8.4M577.1 274v8.4M590.1 274v8.4M615.1 274v8.4M528.1 282.2v8.4M533.1 282.2v8.4M556.6 282.2v8.4M570.6 282.2v8.4M573.6 282.2v8.4M576.1 282.2v8.4M589.1 282.2v8.4M602.1 282.2v8.4M615.1 282.2v8.4M618.6 282.2v8.4M639.1 282.2v8.4M656.6 282.2v8.4M532.1 298.8v8.4M563.1 298.8v8.4M566.6 298.8v8.4M570.6 298.8v8.4M572.6 298.8v8.4M583.6 298.8v8.4M521.1 307v8.4M572.6 307v8.4M601.1 307v8.4M618.6 307v8.4M642.1 307v8.4M652.6 307v8.4M523.6 315.2v8.4M545.1 315.2v8.4M576.1 315.2v8.4M578.1 315.2v8.4M588.1 315.2v8.4M603.1 315.2v8.4M635.1 315.2v8.4M642.1 315.2v8.4M545.1 323.5v8.4M578.1 323.5v8.4M595.1 323.5v8.4M605.1 323.5v8.4M615.1 323.5v8.4M652.6 323.5v8.4M591.1 331.8v8.4M606.1 331.8v8.4M635.1 331.8v8.4M539.6 340v8.4M562.1 340v8.4M565.6 340v8.4M573.6 340v8.4M581.6 340v8.4M639.1 340v8.4M652.6 340v8.4M520.1 356.5v8.4M532.1 356.5v8.4M545.1 356.5v8.4M555.6 356.5v8.4M563.1 356.5v8.4M572.6 356.5v8.4M588.1 356.5v8.4M539.6 373v8.4M592.1 373v8.4M639.1 373v8.4M644.6 373v8.4M563.1 381.2v8.4M639.1 381.2v8.4M635.1 389.5v8.4M566.6 414.2v8.4M585.6 414.2v8.4M602.1 414.2v8.4M644.6 414.2v8.4M659.5 414.2v8.4M519.1 422.5v8.4M528.1 422.5v8.4M573.6 422.5v8.4M592.1 422.5v8.4M603.1 422.5v8.4M521.1 439v8.4"/>
<path stroke="#09000f" stroke-width="1.6" d="M303.8 257.5v8.4M311.2 282.2v8.4M324.8 282.2v8.4M324.8 307v8.4M277.8 315.2v8.4M289.2 315.2v8.4M305.8 315.2v8.4M315.2 315.2v8.4M324.8 315.2v8.4M316.8 323.5v8.4M301.2 331.8v8.4M315.2 373v8.4M280.8 406v8.4M283.2 406v8.4M315.2 406v8.4M299.8 414.2v8.4M339.1 241v8.4M363.1 241v8.4M330.1 249.2v8.4M339.1 249.2v8.4M345.6 249.2v8.4M334.6 257.5v8.4M356.1 257.5v8.4M330.1 265.8v8.4M342.1 265.8v8.4M356.1 265.8v8.4M363.1 265.8v8.4M363.1 290.5v8.4M347.1 331.8v8.4M363.1 331.8v8.4M330.1 348.2v8.4M334.6 348.2v8.4M347.1 348.2v8.4M363.1 348.2v8.4M368.8 348.2v8.4M330.1 356.5v8.4M334.6 373v8.4M356.1 373v8.4M330.1 381.2v8.4M363.1 381.2v8.4M386.9 265.8v8.4M400.9 274v8.4M410.8 274v8.4M388.4 307v8.4M398.4 307v8.4M386.9 315.2v8.4M408.4 315.2v8.4M410.8 414.2v8.4M402.4 422.5v8.4M413.1 241v8.4M425.6 241v8.4M441.6 241v8.4M475.6 249.2v8.4M455.1 257.5v8.4M436.1 265.8v8.4M444.6 265.8v8.4M456.6 265.8v8.4M444.6 274v8.4M443.1 282.2v8.4M425.6 298.8v8.4M456.6 298.8v8.4M456.6 307v8.4M431.6 315.2v8.4M455.1 315.2v8.4M413.1 323.5v8.4M425.6 323.5v8.4M441.6 331.8v8.4M468.6 348.2v8.4M417.1 414.2v8.4M464.1 422.5v8.4M472.1 422.5v8.4M413.1 439v8.4M446.1 439v8.4M453.6 439v8.4M464.1 439v8.4M496.4 298.8v8.4M496.4 331.8v8.4M509.9 356.5v8.4M496.4 397.8v8.4M516.4 249.2v8.4M529.4 249.2v8.4M608.9 249.2v8.4M612.4 249.2v8.4M659.3 249.2v8.4M558.9 257.5v8.4M564.4 257.5v8.4M574.9 257.5v8.4M586.9 257.5v8.4M599.9 257.5v8.4M621.4 257.5v8.4M629.9 257.5v8.4M632.9 257.5v8.4M645.9 257.5v8.4M649.9 257.5v8.4M516.4 265.8v8.4M548.4 265.8v8.4M558.9 265.8v8.4M631.4 265.8v8.4M580.4 274v8.4M607.4 274v8.4M617.4 274v8.4M649.9 274v8.4M540.9 282.2v8.4M558.9 282.2v8.4M628.4 282.2v8.4M636.4 282.2v8.4M643.4 282.2v8.4M517.9 298.8v8.4M580.4 298.8v8.4M526.9 307v8.4M530.9 307v8.4M538.4 307v8.4M637.9 307v8.4M517.9 315.2v8.4M530.9 315.2v8.4M548.4 315.2v8.4M564.4 315.2v8.4M580.4 315.2v8.4M617.4 315.2v8.4M530.9 323.5v8.4M540.9 331.8v8.4M629.9 331.8v8.4M629.9 348.2v8.4M526.9 356.5v8.4M529.4 356.5v8.4M548.4 356.5v8.4M574.9 356.5v8.4M599.9 356.5v8.4M628.4 356.5v8.4M636.4 356.5v8.4M645.9 356.5v8.4M651.4 356.5v8.4M530.9 373v8.4M629.9 373v8.4M647.4 373v8.4M624.9 381.2v8.4M538.4 389.5v8.4M647.4 397.8v8.4M561.9 414.2v8.4M564.4 414.2v8.4M621.4 414.2v8.4M629.9 414.2v8.4M641.9 414.2v8.4M651.4 414.2v8.4M586.9 422.5v8.4M599.9 422.5v8.4M619.9 422.5v8.4M651.4 422.5v8.4"/>
<path stroke="#09000f" stroke-width="2.1" d="M281.5 307v8.4M307.5 373v8.4M309.5 406v8.4M307.5 439v8.4M349.9 241v8.4M354.4 241v8.4M359.4 241v8.4M365.9 241v8.4M336.4 249.2v8.4M354.4 249.2v8.4M361.4 249.2v8.4M367.9 249.2v8.4M365.9 257.5v8.4M336.4 265.8v8.4M361.4 274v8.4M349.9 331.8v8.4M354.4 331.8v8.4M359.4 331.8v8.4M345.4 340v8.4M354.4 348.2v8.4M367.9 356.5v8.4M340.9 381.2v8.4M345.4 381.2v8.4M349.9 381.2v8.4M345.4 397.8v8.4M349.9 397.8v8.4M359.4 406v8.4M331.9 422.5v8.4M361.4 447.2v8.4M354.4 455.5v8.4M349.9 463.8v8.4M354.4 463.8v8.4M345.4 472v8.4M371.6 265.8v8.4M382.1 265.8v8.4M371.6 298.8v8.4M371.6 307v8.4M392.6 315.2v8.4M479.4 241v8.4M470.4 249.2v8.4M438.9 265.8v8.4M451.9 265.8v8.4M465.9 265.8v8.4M470.4 274v8.4M477.4 274v8.4M427.4 282.2v8.4M459.4 298.8v8.4M478.4 298.8v8.4M470.4 315.2v8.4M465.9 348.2v8.4M462.4 414.2v8.4M473.9 414.2v8.4M438.9 439v8.4M511.6 241v8.4M492.2 282.2v8.4M498.2 282.2v8.4M508.2 315.2v8.4M511.6 315.2v8.4M498.2 356.5v8.4M485.7 373v8.4M489.2 373v8.4M508.2 373v8.4M485.7 389.5v8.4M492.2 389.5v8.4M511.6 389.5v8.4M525.1 241v8.4M568.1 249.2v8.4M589.6 249.2v8.4M640.6 249.2v8.4M554.1 265.8v8.4M626.6 265.8v8.4M593.6 274v8.4M525.1 282.2v8.4M536.6 282.2v8.4M583.1 282.2v8.4M594.6 282.2v8.4M525.1 298.8v8.4M655.1 298.8v8.4M534.6 307v8.4M551.1 307v8.4M556.1 307v8.4M562.6 307v8.4M566.1 307v8.4M585.1 307v8.4M588.6 307v8.4M610.6 307v8.4M568.1 315.2v8.4M583.1 315.2v8.4M598.1 315.2v8.4M551.1 323.5v8.4M554.1 323.5v8.4M585.1 331.8v8.4M514.6 340v8.4M543.6 348.2v8.4M560.6 356.5v8.4M578.6 356.5v8.4M583.1 356.5v8.4M543.6 373v8.4M610.6 397.8v8.4M526.6 414.2v8.4M536.6 414.2v8.4M551.1 414.2v8.4M556.1 414.2v8.4M570.1 414.2v8.4M594.6 414.2v8.4M613.6 414.2v8.4M626.6 414.2v8.4M525.1 422.5v8.4M551.1 422.5v8.4M610.6 422.5v8.4"/>
<path stroke="#09000f" stroke-width="2.6" d="M320.8 307v8.4M304.2 373v8.4M304.2 414.2v8.4M311.8 414.2v8.4M334.1 241v8.4M398.9 241v8.4M398.9 257.5v8.4M408.9 257.5v8.4M410.2 298.8v8.4M400.4 315.2v8.4M416.6 241v8.4M432.1 414.2v8.4M487.9 241v8.4M493.4 397.8v8.4M649.4 241v8.4M522.9 249.2v8.4M595.9 257.5v8.4M551.9 282.2v8.4M614.4 307v8.4M657.4 307v8.4M527.4 315.2v8.4M642.9 323.5v8.4M538.9 356.5v8.4M540.4 414.2v8.4M617.9 414.2v8.4M647.9 414.2v8.4"/>
<path stroke="#09000f" stroke-width="3.1" d="M300.5 315.2v8.4M303.5 315.2v8.4M278.5 406v8.4M343.4 249.2v8.4M339.9 265.8v8.4M345.9 265.8v8.4M348.9 265.8v8.4M351.9 265.8v8.4M350.4 340v8.4M366.4 348.2v8.4M359.9 356.5v8.4M332.4 373v8.4M345.9 455.5v8.4M392.1 241v8.4M393.1 257.5v8.4M389.1 274v8.4M396.6 274v8.4M381.6 298.8v8.4M390.6 298.8v8.4M393.6 298.8v8.4M375.6 307v8.4M420.4 241v8.4M438.4 241v8.4M466.4 241v8.4M420.4 265.8v8.4M470.9 265.8v8.4M415.4 298.8v8.4M441.4 298.8v8.4M472.9 298.8v8.4M474.4 307v8.4M461.9 323.5v8.4M474.4 348.2v8.4M455.9 414.2v8.4M466.4 414.2v8.4M491.7 241v8.4M501.7 241v8.4M497.2 389.5v8.4M490.7 397.8v8.4M502.7 397.8v8.4M510.7 397.8v8.4M623.6 249.2v8.4M554.6 257.5v8.4M641.1 257.5v8.4M598.6 265.8v8.4M622.1 265.8v8.4M537.1 274v8.4M630.6 274v8.4M515.1 282.2v8.4M549.1 282.2v8.4M592.1 282.2v8.4M622.1 282.2v8.4M654.6 282.2v8.4M627.1 298.8v8.4M515.1 307v8.4M577.1 307v8.4M608.1 307v8.4M623.6 307v8.4M553.6 315.2v8.4M611.1 315.2v8.4M629.1 315.2v8.4M632.1 315.2v8.4M646.6 315.2v8.4M585.6 340v8.4M551.6 356.5v8.4M594.1 356.5v8.4M515.1 414.2v8.4M518.1 414.2v8.4M521.1 414.2v8.4M524.1 414.2v8.4M530.1 414.2v8.4M534.1 414.2v8.4M544.1 414.2v8.4M547.1 414.2v8.4M559.6 414.2v8.4M573.6 414.2v8.4M578.1 414.2v8.4M583.6 414.2v8.4M592.1 414.2v8.4M598.6 414.2v8.4M606.1 414.2v8.4M611.1 414.2v8.4M633.6 414.2v8.4M636.6 414.2v8.4M639.6 414.2v8.4M654.6 414.2v8.4M657.6 414.2v8.4"/>
<path stroke="#151500" stroke-width="0.6" d="M280.2 298.8v8.4M284.8 331.8v8.4M294.2 331.8v8.4M300.2 331.8v8.4M280.2 414.2v8.4M369.2 257.5v8.4M360.1 373v8.4M369.2 381.2v8.4M387.4 422.5v8.4M548.9 274v8.4M548.9 422.5v8.4"/>
<path stroke="#151500" stroke-width="1.1" d="M290.5 257.5v8.4M323.5 257.5v8.4M326 257.5v8.4M285.5 282.2v8.4M310 282.2v8.4M282 298.8v8.4M290.5 298.8v8.4M292.5 298.8v8.4M275.5 307v8.4M323.5 307v8.4M276.5 315.2v8.4M322.5 315.2v8.4M292.5 323.5v8.4M320 323.5v8.4M276.5 331.8v8.4M275.5 340v8.4M281 340v8.4M291.5 340v8.4M285.5 348.2v8.4M290.5 348.2v8.4M296.5 348.2v8.4M318 348.2v8.4M276.5 356.5v8.4M282 356.5v8.4M312.5 356.5v8.4M306 406v8.4M312.5 406v8.4M282 414.2v8.4M285.5 414.2v8.4M275.5 422.5v8.4M297.5 422.5v8.4M312.5 422.5v8.4M282 430.8v8.4M285.5 430.8v8.4M318 430.8v8.4M281 439v8.4M296.5 439v8.4M305 439v8.4M312.5 439v8.4M351.4 241v8.4M337.9 257.5v8.4M337.9 274v8.4M341.4 274v8.4M364.4 290.5v8.4M340.4 323.5v8.4M348.4 323.5v8.4M364.4 323.5v8.4M333.4 348.2v8.4M337.9 373v8.4M351.4 381.2v8.4M342.4 422.5v8.4M409.6 241v8.4M375.6 249.2v8.4M378.1 249.2v8.4M374.6 414.2v8.4M380.6 414.2v8.4M383.6 414.2v8.4M397.1 414.2v8.4M403.6 414.2v8.4M391.1 422.5v8.4M399.6 422.5v8.4M426.9 241v8.4M433.9 241v8.4M423.4 265.8v8.4M427.9 265.8v8.4M434.9 265.8v8.4M437.4 265.8v8.4M440.4 265.8v8.4M467.4 265.8v8.4M421.4 348.2v8.4M450.4 348.2v8.4M467.4 348.2v8.4M478.9 348.2v8.4M427.9 381.2v8.4M418.4 414.2v8.4M458.9 414.2v8.4M478.9 414.2v8.4M415.9 422.5v8.4M427.9 422.5v8.4M433.9 422.5v8.4M457.9 422.5v8.4M488.7 298.8v8.4M488.7 315.2v8.4M507.7 323.5v8.4M489.7 331.8v8.4M495.2 331.8v8.4M499.7 331.8v8.4M495.2 340v8.4M486.2 356.5v8.4M505.2 356.5v8.4M488.7 397.8v8.4M505.2 406v8.4M520.1 241v8.4M555.6 241v8.4M568.6 241v8.4M576.1 241v8.4M583.6 241v8.4M592.1 241v8.4M602.1 241v8.4M618.6 241v8.4M634.1 241v8.4M573.6 249.2v8.4M578.1 249.2v8.4M588.1 249.2v8.4M635.1 249.2v8.4M652.6 249.2v8.4M528.1 257.5v8.4M533.1 257.5v8.4M582.6 257.5v8.4M589.1 257.5v8.4M591.1 257.5v8.4M656.6 257.5v8.4M520.1 274v8.4M552.6 274v8.4M557.6 274v8.4M581.6 274v8.4M588.1 274v8.4M592.1 274v8.4M616.1 274v8.4M521.1 282.2v8.4M542.1 282.2v8.4M563.1 282.2v8.4M572.6 282.2v8.4M606.1 282.2v8.4M616.1 282.2v8.4M635.1 282.2v8.4M549.6 307v8.4M639.1 307v8.4M521.1 315.2v8.4M549.6 315.2v8.4M579.1 315.2v8.4M581.6 315.2v8.4M592.1 315.2v8.4M520.1 323.5v8.4M542.1 323.5v8.4M557.6 323.5v8.4M563.1 323.5v8.4M576.1 323.5v8.4M579.1 323.5v8.4M581.6 323.5v8.4M592.1 323.5v8.4M648.6 323.5v8.4M521.1 356.5v8.4M568.6 356.5v8.4M570.6 356.5v8.4M576.1 356.5v8.4M591.1 356.5v8.4M634.1 356.5v8.4M648.6 356.5v8.4M565.6 406v8.4M588.1 406v8.4M539.6 422.5v8.4M555.6 422.5v8.4M562.1 422.5v8.4M578.1 422.5v8.4M583.6 422.5v8.4M590.1 422.5v8.4M615.1 422.5v8.4M618.6 422.5v8.4M655.6 422.5v8.4"/>
<path stroke="#151500" stroke-width="1.6" d="M321.2 241v8.4M316.8 257.5v8.4M301.2 298.8v8.4M316.8 298.8v8.4M286.8 307v8.4M301.2 307v8.4M315.2 307v8.4M313.8 315.2v8.4M299.8 323.5v8.4M324.8 323.5v8.4M315.2 331.8v8.4M299.8 356.5v8.4M289.2 373v8.4M324.8 406v8.4M293.8 414.2v8.4M313.8 414.2v8.4M277.8 422.5v8.4M301.2 422.5v8.4M324.8 439v8.4M343.6 257.5v8.4M354.6 257.5v8.4M363.1 257.5v8.4M330.1 274v8.4M343.6 274v8.4M350.1 274v8.4M368.8 274v8.4M334.6 323.5v8.4M352.6 323.5v8.4M357.6 348.2v8.4M330.1 373v8.4M352.6 373v8.4M357.6 381.2v8.4M330.1 422.5v8.4M356.1 430.8v8.4M373.4 241v8.4M386.9 249.2v8.4M408.4 249.2v8.4M410.8 249.2v8.4M394.4 414.2v8.4M373.4 422.5v8.4M379.4 422.5v8.4M406.9 422.5v8.4M389.9 439v8.4M431.6 241v8.4M464.1 241v8.4M414.6 265.8v8.4M446.1 265.8v8.4M455.1 265.8v8.4M417.1 348.2v8.4M425.6 381.2v8.4M414.6 414.2v8.4M468.6 414.2v8.4M425.6 439v8.4M431.6 439v8.4M496.4 315.2v8.4M496.4 323.5v8.4M503.9 323.5v8.4M506.4 340v8.4M496.4 356.5v8.4M496.4 364.8v8.4M509.9 373v8.4M483.9 381.2v8.4M493.9 381.2v8.4M503.9 381.2v8.4M522.4 241v8.4M613.9 241v8.4M645.9 241v8.4M621.4 249.2v8.4M629.9 249.2v8.4M548.4 257.5v8.4M624.9 257.5v8.4M631.4 257.5v8.4M647.4 257.5v8.4M659.3 257.5v8.4M522.4 274v8.4M621.4 274v8.4M645.9 274v8.4M657.9 274v8.4M526.9 282.2v8.4M599.9 282.2v8.4M540.9 315.2v8.4M637.9 315.2v8.4M649.9 315.2v8.4M526.9 323.5v8.4M586.9 323.5v8.4M621.4 323.5v8.4M629.9 323.5v8.4M517.9 356.5v8.4M540.9 356.5v8.4M564.4 356.5v8.4M617.4 356.5v8.4M621.4 356.5v8.4M517.9 406v8.4M522.4 422.5v8.4M598.4 422.5v8.4M608.9 422.5v8.4M632.9 422.5v8.4M643.4 422.5v8.4"/>
<path stroke="#151500" stroke-width="2.1" d="M327.4 282.2v8.4M307.5 307v8.4M327.4 315.2v8.4M286.5 323.5v8.4M307.5 331.8v8.4M324.5 331.8v8.4M298 340v8.4M307.5 340v8.4M327.4 340v8.4M279.5 356.5v8.4M327.4 406v8.4M309.5 414.2v8.4M290 422.5v8.4M309.5 422.5v8.4M279.5 430.8v8.4M298 430.8v8.4M318.5 439v8.4M361.4 241v8.4M349.9 249.2v8.4M359.4 274v8.4M367.9 373v8.4M345.4 406v8.4M336.4 414.2v8.4M345.4 422.5v8.4M365.9 430.8v8.4M404.1 249.2v8.4M470.4 241v8.4M481.3 241v8.4M460.4 265.8v8.4M473.9 265.8v8.4M447.9 348.2v8.4M434.4 414.2v8.4M502.2 315.2v8.4M502.2 331.8v8.4M508.2 331.8v8.4M511.6 331.8v8.4M498.2 340v8.4M511.6 356.5v8.4M485.7 364.8v8.4M492.2 364.8v8.4M502.2 364.8v8.4M498.2 373v8.4M551.1 241v8.4M626.6 241v8.4M605.6 249.2v8.4M543.6 257.5v8.4M598.1 257.5v8.4M525.1 274v8.4M560.6 274v8.4M585.1 274v8.4M626.6 274v8.4M543.6 315.2v8.4M557.1 315.2v8.4M640.6 315.2v8.4M568.1 323.5v8.4M534.6 356.5v8.4M546.6 356.5v8.4M585.1 356.5v8.4M514.6 422.5v8.4M534.6 422.5v8.4M543.6 422.5v8.4M569.1 422.5v8.4M624.6 422.5v8.4M640.6 422.5v8.4"/>
<path stroke="#151500" stroke-width="2.6" d="M289.8 282.2v8.4M287.2 331.8v8.4M301.8 340v8.4M316.2 340v8.4M288.8 414.2v8.4M320.8 414.2v8.4M325.2 430.8v8.4M347.6 257.5v8.4M378.9 439v8.4M417.6 265.8v8.4M425.1 422.5v8.4M441.1 422.5v8.4M468.1 422.5v8.4M494.4 298.8v8.4M505.9 315.2v8.4M486.9 331.8v8.4M506.9 364.8v8.4M563.9 241v8.4M548.9 249.2v8.4M635.9 422.5v8.4M647.9 422.5v8.4"/>
<path stroke="#151500" stroke-width="3.1" d="M308 282.2v8.4M278.5 298.8v8.4M284 323.5v8.4M283 331.8v8.4M292.5 331.8v8.4M298.5 331.8v8.4M319 331.8v8.4M322 331.8v8.4M313.5 340v8.4M322 340v8.4M325 340v8.4M278.5 414.2v8.4M307 414.2v8.4M287.5 422.5v8.4M307 422.5v8.4M314.5 430.8v8.4M352.4 257.5v8.4M347.9 274v8.4M366.4 274v8.4M332.4 323.5v8.4M358.4 373v8.4M385.6 422.5v8.4M480.8 265.8v8.4M489.7 364.8v8.4M608.1 241v8.4M547.1 274v8.4M613.1 274v8.4M654.6 274v8.4M632.1 282.2v8.4M561.1 323.5v8.4M654.6 356.5v8.4M547.1 422.5v8.4M566.6 422.5v8.4M596.1 422.5v8.4M622.1 422.5v8.4M653.6 422.5v8.4"/>
<path stroke="#1b0022" stroke-width="0.6" d="M284.8 373v8.4M300.2 406v8.4M369.2 356.5v8.4M337.1 389.5v8.4M355.1 389.5v8.4M360.1 397.8v8.4M363.6 406v8.4M369.2 455.5v8.4M369.2 472v8.4M472.6 257.5v8.4M451.6 307v8.4M472.6 307v8.4M448.6 315.2v8.4M462.1 315.2v8.4M466.6 315.2v8.4M474.6 315.2v8.4M428.1 331.8v8.4M471.1 331.8v8.4M471.1 340v8.4M488.9 265.8v8.4M587.4 282.2v8.4M516.9 298.8v8.4M561.4 298.8v8.4M587.4 298.8v8.4M596.9 298.8v8.4M636.9 298.8v8.4M600.4 307v8.4M525.9 331.8v8.4M564.9 331.8v8.4M628.9 331.8v8.4M631.9 340v8.4M611.4 373v8.4M516.9 397.8v8.4M581.9 397.8v8.4M617.9 397.8v8.4"/>
<path stroke="#1b0022" stroke-width="1.1" d="M284.5 282.2v8.4M288 282.2v8.4M306 282.2v8.4M312.5 282.2v8.4M305 298.8v8.4M319 298.8v8.4M284.5 315.2v8.4M297.5 315.2v8.4M320 315.2v8.4M323.5 315.2v8.4M281 331.8v8.4M290.5 340v8.4M284.5 364.8v8.4M291.5 364.8v8.4M276.5 373v8.4M292.5 373v8.4M288 381.2v8.4M291.5 381.2v8.4M310 381.2v8.4M319 381.2v8.4M291.5 389.5v8.4M296.5 389.5v8.4M302.5 389.5v8.4M296.5 397.8v8.4M306 397.8v8.4M284.5 406v8.4M291.5 406v8.4M322.5 406v8.4M326 406v8.4M281 414.2v8.4M290.5 414.2v8.4M318 414.2v8.4M326 414.2v8.4M323.5 439v8.4M337.9 241v8.4M341.4 249.2v8.4M351.4 249.2v8.4M337.9 265.8v8.4M348.4 340v8.4M348.4 348.2v8.4M341.4 356.5v8.4M341.4 389.5v8.4M363.4 389.5v8.4M351.4 397.8v8.4M337.9 406v8.4M348.4 455.5v8.4M361.9 455.5v8.4M337.9 463.8v8.4M351.4 463.8v8.4M341.4 472v8.4M351.4 480.2v8.4M384.6 241v8.4M397.1 241v8.4M380.6 257.5v8.4M385.6 257.5v8.4M397.1 257.5v8.4M383.6 265.8v8.4M391.1 274v8.4M405.6 274v8.4M391.1 282.2v8.4M405.6 282.2v8.4M384.6 298.8v8.4M408.6 298.8v8.4M384.6 307v8.4M379.6 315.2v8.4M383.6 315.2v8.4M385.6 315.2v8.4M391.1 315.2v8.4M399.6 364.8v8.4M375.6 373v8.4M384.6 373v8.4M384.6 389.5v8.4M409.6 397.8v8.4M409.6 406v8.4M384.6 414.2v8.4M427.9 241v8.4M430.4 241v8.4M427.9 249.2v8.4M426.9 257.5v8.4M440.4 257.5v8.4M449.4 257.5v8.4M461.9 257.5v8.4M424.4 265.8v8.4M433.9 265.8v8.4M457.9 265.8v8.4M461.9 265.8v8.4M476.9 265.8v8.4M422.4 274v8.4M433.9 274v8.4M451.4 274v8.4M460.9 274v8.4M433.9 282.2v8.4M437.4 282.2v8.4M452.4 282.2v8.4M477.9 282.2v8.4M432.9 298.8v8.4M421.4 307v8.4M457.9 307v8.4M467.4 307v8.4M476.9 307v8.4M481.8 307v8.4M422.4 315.2v8.4M430.4 315.2v8.4M433.9 315.2v8.4M476.9 315.2v8.4M422.4 323.5v8.4M433.9 323.5v8.4M457.9 323.5v8.4M478.9 323.5v8.4M415.9 331.8v8.4M423.4 331.8v8.4M433.9 331.8v8.4M449.4 331.8v8.4M451.4 331.8v8.4M476.9 331.8v8.4M421.4 340v8.4M424.4 340v8.4M426.9 340v8.4M437.4 340v8.4M449.4 340v8.4M451.4 340v8.4M459.9 340v8.4M462.9 340v8.4M430.4 348.2v8.4M437.4 348.2v8.4M451.4 348.2v8.4M459.9 348.2v8.4M462.9 348.2v8.4M423.4 414.2v8.4M426.9 414.2v8.4M437.4 414.2v8.4M460.9 414.2v8.4M415.9 430.8v8.4M437.4 430.8v8.4M457.9 430.8v8.4M460.9 430.8v8.4M424.4 439v8.4M432.9 439v8.4M437.4 439v8.4M443.4 439v8.4M452.4 439v8.4M467.4 439v8.4M478.9 439v8.4M489.7 241v8.4M499.7 241v8.4M499.7 257.5v8.4M505.2 257.5v8.4M507.7 257.5v8.4M488.7 274v8.4M495.2 307v8.4M489.7 315.2v8.4M495.2 356.5v8.4M490.7 373v8.4M499.7 373v8.4M490.7 389.5v8.4M500.7 397.8v8.4M505.2 397.8v8.4M565.6 241v8.4M577.1 241v8.4M588.1 241v8.4M603.1 241v8.4M520.1 249.2v8.4M545.1 249.2v8.4M547.1 249.2v8.4M565.6 249.2v8.4M634.1 249.2v8.4M653.6 249.2v8.4M563.1 257.5v8.4M566.6 257.5v8.4M573.6 257.5v8.4M648.6 257.5v8.4M532.1 265.8v8.4M537.1 265.8v8.4M539.6 265.8v8.4M546.1 265.8v8.4M570.6 265.8v8.4M576.1 265.8v8.4M579.1 265.8v8.4M591.1 265.8v8.4M604.1 265.8v8.4M638.1 265.8v8.4M656.6 265.8v8.4M523.6 274v8.4M528.1 274v8.4M545.1 274v8.4M565.6 274v8.4M567.6 274v8.4M582.6 274v8.4M601.1 274v8.4M520.1 282.2v8.4M545.1 282.2v8.4M555.6 282.2v8.4M567.6 282.2v8.4M577.1 282.2v8.4M579.1 282.2v8.4M590.1 282.2v8.4M520.1 298.8v8.4M523.6 298.8v8.4M533.1 298.8v8.4M552.6 298.8v8.4M555.6 298.8v8.4M567.6 298.8v8.4M569.6 298.8v8.4M578.1 298.8v8.4M605.1 298.8v8.4M642.1 298.8v8.4M656.6 298.8v8.4M520.1 307v8.4M528.1 307v8.4M533.1 307v8.4M547.1 307v8.4M552.6 307v8.4M571.6 307v8.4M573.6 307v8.4M602.1 307v8.4M616.1 307v8.4M648.6 307v8.4M653.6 307v8.4M539.6 315.2v8.4M565.6 315.2v8.4M577.1 315.2v8.4M589.1 315.2v8.4M605.1 315.2v8.4M615.1 315.2v8.4M634.1 315.2v8.4M648.6 315.2v8.4M528.1 331.8v8.4M569.6 331.8v8.4M572.6 331.8v8.4M577.1 331.8v8.4M581.6 331.8v8.4M583.6 331.8v8.4M589.1 331.8v8.4M592.1 331.8v8.4M656.6 331.8v8.4M546.1 340v8.4M549.6 340v8.4M566.6 340v8.4M579.1 340v8.4M589.1 340v8.4M591.1 340v8.4M601.1 340v8.4M618.6 340v8.4M659.5 340v8.4M573.6 348.2v8.4M591.1 348.2v8.4M606.1 348.2v8.4M644.6 348.2v8.4M648.6 348.2v8.4M519.1 356.5v8.4M577.1 356.5v8.4M590.1 356.5v8.4M601.1 356.5v8.4M603.1 356.5v8.4M652.6 356.5v8.4M601.1 364.8v8.4M552.6 373v8.4M563.1 373v8.4M566.6 373v8.4M568.6 373v8.4M570.6 373v8.4M572.6 373v8.4M589.1 373v8.4M601.1 373v8.4M606.1 373v8.4M642.1 373v8.4M653.6 373v8.4M546.1 381.2v8.4M606.1 381.2v8.4M520.1 389.5v8.4M546.1 389.5v8.4M562.1 389.5v8.4M566.6 389.5v8.4M579.1 389.5v8.4M602.1 389.5v8.4M656.6 389.5v8.4M520.1 397.8v8.4M528.1 397.8v8.4M545.1 397.8v8.4M549.6 397.8v8.4M566.6 397.8v8.4M572.6 397.8v8.4M577.1 397.8v8.4M588.1 397.8v8.4M591.1 397.8v8.4M595.1 397.8v8.4M604.1 397.8v8.4M652.6 397.8v8.4M528.1 414.2v8.4M532.1 414.2v8.4M542.1 414.2v8.4M549.6 414.2v8.4M557.6 414.2v8.4M563.1 414.2v8.4M565.6 414.2v8.4M567.6 414.2v8.4M571.6 414.2v8.4M576.1 414.2v8.4M588.1 414.2v8.4M590.1 414.2v8.4M601.1 414.2v8.4M603.1 414.2v8.4M615.1 414.2v8.4M652.6 414.2v8.4M546.1 439v8.4M583.6 439v8.4M605.1 439v8.4M618.6 439v8.4M639.1 439v8.4"/>
<path stroke="#1b0022" stroke-width="1.6" d="M277.8 282.2v8.4M315.2 282.2v8.4M311.2 298.8v8.4M299.8 307v8.4M286.8 315.2v8.4M316.8 315.2v8.4M311.2 331.8v8.4M289.2 364.8v8.4M321.2 364.8v8.4M299.8 373v8.4M311.2 373v8.4M289.2 389.5v8.4M289.2 397.8v8.4M301.2 397.8v8.4M286.8 406v8.4M293.8 406v8.4M303.8 406v8.4M352.6 241v8.4M356.1 249.2v8.4M334.6 265.8v8.4M343.6 265.8v8.4M357.6 265.8v8.4M330.1 331.8v8.4M339.1 331.8v8.4M345.6 331.8v8.4M343.6 348.2v8.4M356.1 348.2v8.4M337.6 356.5v8.4M357.6 356.5v8.4M347.1 373v8.4M352.6 381.2v8.4M356.1 381.2v8.4M330.1 389.5v8.4M339.1 389.5v8.4M347.1 389.5v8.4M330.1 397.8v8.4M347.1 397.8v8.4M330.1 406v8.4M357.6 406v8.4M347.1 447.2v8.4M330.1 472v8.4M330.1 480.2v8.4M334.6 480.2v8.4M343.6 480.2v8.4M357.6 480.2v8.4M363.1 480.2v8.4M400.9 241v8.4M373.4 257.5v8.4M376.9 257.5v8.4M406.9 265.8v8.4M410.8 265.8v8.4M373.4 274v8.4M376.9 274v8.4M386.9 274v8.4M394.4 274v8.4M408.4 274v8.4M373.4 282.2v8.4M373.4 298.8v8.4M379.4 298.8v8.4M395.9 298.8v8.4M379.4 307v8.4M389.9 307v8.4M374.4 315.2v8.4M406.9 315.2v8.4M410.8 315.2v8.4M400.9 373v8.4M388.4 389.5v8.4M395.9 389.5v8.4M389.9 406v8.4M400.9 406v8.4M398.4 414.2v8.4M414.6 241v8.4M436.1 241v8.4M475.6 241v8.4M414.6 249.2v8.4M417.1 249.2v8.4M441.6 249.2v8.4M444.6 249.2v8.4M431.6 257.5v8.4M443.1 257.5v8.4M446.1 257.5v8.4M453.6 257.5v8.4M456.6 257.5v8.4M467.1 257.5v8.4M475.6 257.5v8.4M464.1 265.8v8.4M468.6 265.8v8.4M413.1 274v8.4M436.1 274v8.4M453.6 274v8.4M472.1 274v8.4M414.6 282.2v8.4M417.1 282.2v8.4M429.1 282.2v8.4M449.1 282.2v8.4M456.6 282.2v8.4M413.1 298.8v8.4M444.6 298.8v8.4M426.6 307v8.4M436.1 307v8.4M441.6 307v8.4M453.6 307v8.4M417.1 315.2v8.4M425.6 315.2v8.4M436.1 315.2v8.4M443.1 315.2v8.4M453.6 315.2v8.4M468.6 315.2v8.4M414.6 323.5v8.4M475.6 323.5v8.4M446.1 331.8v8.4M456.6 331.8v8.4M472.1 414.2v8.4M446.1 430.8v8.4M456.6 439v8.4M483.9 241v8.4M509.9 241v8.4M488.4 257.5v8.4M483.9 265.8v8.4M511.9 265.8v8.4M509.9 274v8.4M483.9 298.8v8.4M503.9 298.8v8.4M489.4 307v8.4M503.9 307v8.4M509.9 307v8.4M483.9 356.5v8.4M493.9 364.8v8.4M496.4 373v8.4M483.9 389.5v8.4M487.4 389.5v8.4M493.9 389.5v8.4M483.9 397.8v8.4M487.4 397.8v8.4M548.4 241v8.4M580.4 241v8.4M526.9 249.2v8.4M530.9 249.2v8.4M540.9 249.2v8.4M574.9 249.2v8.4M580.4 249.2v8.4M586.9 249.2v8.4M617.4 249.2v8.4M619.9 249.2v8.4M645.9 249.2v8.4M526.9 257.5v8.4M530.9 257.5v8.4M612.4 257.5v8.4M617.4 257.5v8.4M596.4 265.8v8.4M624.9 265.8v8.4M629.9 265.8v8.4M643.4 265.8v8.4M659.3 265.8v8.4M574.9 274v8.4M596.4 274v8.4M538.4 282.2v8.4M564.4 282.2v8.4M574.9 282.2v8.4M617.4 282.2v8.4M629.9 282.2v8.4M637.9 282.2v8.4M645.9 282.2v8.4M659.3 282.2v8.4M530.9 298.8v8.4M564.4 298.8v8.4M619.9 298.8v8.4M651.4 298.8v8.4M659.3 298.8v8.4M517.9 307v8.4M522.4 307v8.4M540.9 307v8.4M621.4 307v8.4M632.9 307v8.4M643.4 307v8.4M651.4 307v8.4M522.4 315.2v8.4M586.9 315.2v8.4M596.4 315.2v8.4M608.9 315.2v8.4M621.4 315.2v8.4M657.9 315.2v8.4M538.4 323.5v8.4M516.4 331.8v8.4M539.4 331.8v8.4M548.4 331.8v8.4M558.9 331.8v8.4M599.9 331.8v8.4M612.4 331.8v8.4M632.9 331.8v8.4M659.3 331.8v8.4M538.4 340v8.4M543.9 340v8.4M636.4 348.2v8.4M530.9 356.5v8.4M586.9 356.5v8.4M607.4 356.5v8.4M613.9 356.5v8.4M657.9 356.5v8.4M529.4 373v8.4M548.4 373v8.4M636.4 373v8.4M645.9 373v8.4M659.3 373v8.4M574.9 381.2v8.4M599.9 381.2v8.4M613.9 381.2v8.4M621.4 381.2v8.4M636.4 381.2v8.4M647.4 381.2v8.4M548.4 389.5v8.4M564.4 389.5v8.4M574.9 389.5v8.4M596.4 389.5v8.4M599.9 389.5v8.4M643.4 389.5v8.4M645.9 389.5v8.4M659.3 389.5v8.4M522.4 397.8v8.4M558.9 397.8v8.4M600.9 397.8v8.4M619.9 397.8v8.4M628.4 397.8v8.4M659.3 397.8v8.4M580.4 414.2v8.4M596.4 414.2v8.4M608.9 414.2v8.4M631.4 414.2v8.4M643.4 414.2v8.4M645.9 414.2v8.4M649.9 414.2v8.4M596.4 439v8.4M659.3 439v8.4"/>
<path stroke="#1b0022" stroke-width="2.1" d="M318.5 257.5v8.4M298 282.2v8.4M279.5 315.2v8.4M279.5 373v8.4M327.4 389.5v8.4M331.9 241v8.4M340.9 241v8.4M345.4 241v8.4M331.9 265.8v8.4M354.4 265.8v8.4M361.4 265.8v8.4M367.9 265.8v8.4M361.4 331.8v8.4M331.9 340v8.4M331.9 348.2v8.4M336.4 348.2v8.4M336.4 373v8.4M349.9 373v8.4M365.9 373v8.4M336.4 381.2v8.4M361.4 381.2v8.4M354.4 397.8v8.4M367.9 397.8v8.4M349.9 406v8.4M354.4 447.2v8.4M367.9 447.2v8.4M331.9 455.5v8.4M345.4 463.8v8.4M361.4 463.8v8.4M365.9 463.8v8.4M392.6 265.8v8.4M404.1 265.8v8.4M385.1 282.2v8.4M402.1 282.2v8.4M403.1 298.8v8.4M395.6 307v8.4M409.1 307v8.4M404.1 315.2v8.4M382.1 389.5v8.4M447.9 241v8.4M459.4 241v8.4M423.9 257.5v8.4M419.9 274v8.4M423.9 282.2v8.4M473.9 282.2v8.4M423.9 298.8v8.4M461.4 298.8v8.4M465.9 298.8v8.4M470.4 298.8v8.4M481.3 298.8v8.4M438.9 315.2v8.4M450.9 315.2v8.4M481.3 315.2v8.4M419.9 323.5v8.4M427.4 323.5v8.4M438.9 323.5v8.4M434.4 340v8.4M465.9 340v8.4M477.4 340v8.4M481.3 340v8.4M451.9 414.2v8.4M470.4 439v8.4M473.9 439v8.4M502.2 257.5v8.4M500.2 265.8v8.4M500.2 282.2v8.4M492.2 315.2v8.4M498.2 315.2v8.4M498.2 323.5v8.4M498.2 331.8v8.4M498.2 364.8v8.4M511.6 364.8v8.4M511.6 373v8.4M509.7 389.5v8.4M508.2 397.8v8.4M655.1 241v8.4M551.1 249.2v8.4M560.6 249.2v8.4M598.1 249.2v8.4M601.6 249.2v8.4M536.6 257.5v8.4M560.6 257.5v8.4M655.1 257.5v8.4M543.6 265.8v8.4M560.6 265.8v8.4M610.6 265.8v8.4M640.6 265.8v8.4M554.1 274v8.4M603.6 282.2v8.4M610.6 282.2v8.4M626.6 282.2v8.4M652.1 282.2v8.4M610.6 298.8v8.4M617.1 298.8v8.4M623.1 298.8v8.4M536.6 307v8.4M560.6 307v8.4M569.1 307v8.4M583.1 307v8.4M593.6 307v8.4M640.6 307v8.4M525.1 315.2v8.4M532.6 315.2v8.4M536.6 315.2v8.4M546.6 315.2v8.4M562.6 315.2v8.4M573.1 315.2v8.4M514.6 323.5v8.4M551.1 331.8v8.4M554.1 331.8v8.4M602.6 331.8v8.4M653.1 331.8v8.4M572.1 340v8.4M583.1 340v8.4M593.6 340v8.4M598.1 340v8.4M637.6 340v8.4M640.6 340v8.4M525.1 356.5v8.4M623.1 356.5v8.4M543.6 364.8v8.4M534.6 373v8.4M560.6 373v8.4M593.6 373v8.4M536.6 381.2v8.4M583.1 381.2v8.4M602.6 381.2v8.4M626.6 381.2v8.4M514.6 389.5v8.4M525.1 389.5v8.4M532.6 389.5v8.4M570.1 389.5v8.4M593.6 389.5v8.4M652.1 389.5v8.4M525.1 397.8v8.4M570.1 397.8v8.4M623.1 397.8v8.4M640.6 397.8v8.4M655.1 397.8v8.4M623.1 414.2v8.4M543.6 439v8.4M626.6 439v8.4"/>
<path stroke="#1b0022" stroke-width="2.6" d="M293.2 282.2v8.4M310.8 315.2v8.4M286.2 389.5v8.4M352.1 331.8v8.4M368.2 331.8v8.4M339.6 340v8.4M343.1 340v8.4M363.6 340v8.4M368.2 340v8.4M339.6 348.2v8.4M343.1 373v8.4M343.1 381.2v8.4M368.2 389.5v8.4M363.6 397.8v8.4M339.6 480.2v8.4M406.4 241v8.4M390.4 257.5v8.4M406.4 257.5v8.4M378.9 265.8v8.4M408.9 282.2v8.4M376.4 298.8v8.4M397.9 315.2v8.4M408.9 381.2v8.4M419.6 257.5v8.4M435.6 257.5v8.4M426.1 274v8.4M468.1 274v8.4M441.1 282.2v8.4M435.6 298.8v8.4M453.1 298.8v8.4M476.1 298.8v8.4M416.6 307v8.4M439.6 331.8v8.4M465.6 331.8v8.4M416.6 340v8.4M431.1 340v8.4M495.9 257.5v8.4M495.9 265.8v8.4M505.9 265.8v8.4M506.9 282.2v8.4M506.9 307v8.4M503.4 389.5v8.4M518.4 257.5v8.4M527.4 265.8v8.4M587.4 265.8v8.4M606.9 265.8v8.4M617.9 265.8v8.4M649.4 265.8v8.4M522.9 282.2v8.4M527.4 298.8v8.4M538.9 298.8v8.4M575.4 298.8v8.4M647.9 298.8v8.4M579.9 307v8.4M643.9 315.2v8.4M651.9 315.2v8.4M531.4 331.8v8.4M622.9 331.8v8.4M643.9 331.8v8.4M647.9 331.8v8.4M522.9 340v8.4M563.9 340v8.4M611.9 340v8.4M643.9 340v8.4M580.9 356.5v8.4M580.9 373v8.4M627.9 373v8.4M540.4 389.5v8.4M586.4 389.5v8.4M629.4 389.5v8.4M563.9 397.8v8.4"/>
<path stroke="#1b0022" stroke-width="3.1" d="M308 315.2v8.4M283 373v8.4M308 381.2v8.4M298.5 406v8.4M365.4 265.8v8.4M336.9 331.8v8.4M343.4 331.8v8.4M356.9 331.8v8.4M365.4 331.8v8.4M336.9 340v8.4M354.9 340v8.4M357.9 340v8.4M360.9 340v8.4M332.4 356.5v8.4M335.4 356.5v8.4M344.4 356.5v8.4M347.4 356.5v8.4M350.4 356.5v8.4M365.4 356.5v8.4M332.4 381.2v8.4M335.4 389.5v8.4M350.4 389.5v8.4M353.4 389.5v8.4M358.4 389.5v8.4M361.4 389.5v8.4M336.9 397.8v8.4M341.4 397.8v8.4M358.4 397.8v8.4M361.9 406v8.4M359.9 455.5v8.4M381.6 241v8.4M395.1 241v8.4M389.1 265.8v8.4M382.6 274v8.4M381.6 282.2v8.4M389.1 282.2v8.4M396.6 282.2v8.4M399.6 282.2v8.4M387.6 298.8v8.4M400.6 298.8v8.4M406.6 298.8v8.4M382.6 307v8.4M393.1 307v8.4M400.6 307v8.4M403.6 307v8.4M406.6 307v8.4M372.1 315.2v8.4M377.6 315.2v8.4M389.1 315.2v8.4M407.6 406v8.4M413.9 257.5v8.4M416.9 257.5v8.4M459.9 257.5v8.4M464.9 257.5v8.4M470.9 257.5v8.4M478.9 257.5v8.4M439.4 274v8.4M480.8 274v8.4M446.9 282.2v8.4M461.9 282.2v8.4M480.8 282.2v8.4M427.9 298.8v8.4M430.9 298.8v8.4M448.4 298.8v8.4M413.9 307v8.4M424.4 307v8.4M429.9 307v8.4M432.9 307v8.4M439.4 307v8.4M446.9 307v8.4M449.9 307v8.4M460.9 307v8.4M470.9 307v8.4M479.9 307v8.4M413.9 315.2v8.4M446.9 315.2v8.4M457.4 315.2v8.4M460.4 315.2v8.4M464.9 315.2v8.4M472.9 315.2v8.4M455.9 323.5v8.4M413.9 331.8v8.4M419.4 331.8v8.4M426.4 331.8v8.4M436.9 331.8v8.4M443.9 331.8v8.4M454.4 331.8v8.4M459.9 331.8v8.4M462.9 331.8v8.4M469.4 331.8v8.4M480.8 331.8v8.4M442.4 340v8.4M469.4 340v8.4M480.8 348.2v8.4M442.4 414.2v8.4M413.9 430.8v8.4M419.4 439v8.4M441.4 439v8.4M448.4 439v8.4M486.2 257.5v8.4M491.7 257.5v8.4M487.2 265.8v8.4M491.7 265.8v8.4M509.7 265.8v8.4M492.7 274v8.4M495.7 274v8.4M502.7 274v8.4M505.7 274v8.4M487.2 307v8.4M501.7 307v8.4M500.7 389.5v8.4M507.2 389.5v8.4M498.7 397.8v8.4M530.1 241v8.4M593.1 249.2v8.4M524.6 265.8v8.4M535.1 265.8v8.4M550.6 265.8v8.4M568.6 265.8v8.4M636.1 265.8v8.4M646.6 265.8v8.4M654.6 265.8v8.4M530.1 282.2v8.4M561.1 282.2v8.4M585.6 282.2v8.4M641.1 282.2v8.4M649.6 282.2v8.4M515.1 298.8v8.4M543.1 298.8v8.4M550.6 298.8v8.4M559.6 298.8v8.4M585.6 298.8v8.4M592.1 298.8v8.4M595.1 298.8v8.4M608.1 298.8v8.4M614.6 298.8v8.4M630.6 298.8v8.4M635.1 298.8v8.4M640.1 298.8v8.4M544.1 307v8.4M598.6 307v8.4M605.1 307v8.4M646.6 307v8.4M594.1 315.2v8.4M521.1 331.8v8.4M524.1 331.8v8.4M537.1 331.8v8.4M543.1 331.8v8.4M546.1 331.8v8.4M563.1 331.8v8.4M567.6 331.8v8.4M608.1 331.8v8.4M617.1 331.8v8.4M620.1 331.8v8.4M627.1 331.8v8.4M637.1 331.8v8.4M640.1 331.8v8.4M517.1 340v8.4M530.1 340v8.4M534.1 340v8.4M541.6 340v8.4M553.6 340v8.4M556.6 340v8.4M569.6 340v8.4M577.1 340v8.4M606.1 340v8.4M609.1 340v8.4M627.1 340v8.4M630.1 340v8.4M635.1 340v8.4M654.6 340v8.4M657.6 340v8.4M584.6 348.2v8.4M641.1 356.5v8.4M609.6 373v8.4M622.1 373v8.4M625.1 373v8.4M632.1 373v8.4M654.6 381.2v8.4M544.1 389.5v8.4M554.6 389.5v8.4M583.6 389.5v8.4M590.1 389.5v8.4M605.1 389.5v8.4M616.1 389.5v8.4M619.1 389.5v8.4M623.6 389.5v8.4M626.6 389.5v8.4M649.6 389.5v8.4M515.1 397.8v8.4M535.1 397.8v8.4M538.1 397.8v8.4M541.1 397.8v8.4M580.1 397.8v8.4M598.6 397.8v8.4M616.1 397.8v8.4M637.1 397.8v8.4M553.6 414.2v8.4"/>
<path stroke="#2b2b00" stroke-width="0.6" d="M326.2 356.5v8.4M369.2 290.5v8.4M369.2 323.5v8.4M369.2 414.2v8.4M494.4 340v8.4M494.4 356.5v8.4M628.9 249.2v8.4"/>
<path stroke="#2b2b00" stroke-width="1.1" d="M281 241v8.4M290.5 241v8.4M302.5 241v8.4M319 241v8.4M275.5 249.2v8.4M289.5 257.5v8.4M292.5 257.5v8.4M305 257.5v8.4M312.5 265.8v8.4M291.5 298.8v8.4M296.5 298.8v8.4M322.5 298.8v8.4M276.5 307v8.4M318 307v8.4M290.5 323.5v8.4M297.5 323.5v8.4M318 323.5v8.4M285.5 331.8v8.4M276.5 340v8.4M296.5 340v8.4M320 340v8.4M297.5 348.2v8.4M306 348.2v8.4M323.5 348.2v8.4M326 348.2v8.4M275.5 356.5v8.4M322.5 373v8.4M276.5 406v8.4M275.5 414.2v8.4M284.5 414.2v8.4M322.5 414.2v8.4M276.5 430.8v8.4M312.5 430.8v8.4M319 430.8v8.4M323.5 430.8v8.4M284.5 439v8.4M288 439v8.4M302.5 439v8.4M326 439v8.4M340.4 257.5v8.4M342.4 257.5v8.4M364.4 257.5v8.4M342.4 274v8.4M351.4 274v8.4M340.4 290.5v8.4M348.4 290.5v8.4M337.9 430.8v8.4M384.6 249.2v8.4M399.6 274v8.4M399.6 414.2v8.4M404.6 414.2v8.4M476.9 241v8.4M423.4 348.2v8.4M461.9 348.2v8.4M477.9 348.2v8.4M486.2 298.8v8.4M500.7 298.8v8.4M505.2 298.8v8.4M485.2 323.5v8.4M502.7 323.5v8.4M488.7 331.8v8.4M490.7 331.8v8.4M500.7 331.8v8.4M499.7 340v8.4M505.2 340v8.4M485.2 356.5v8.4M499.7 364.8v8.4M508.7 364.8v8.4M505.2 381.2v8.4M507.7 381.2v8.4M500.7 406v8.4M552.6 241v8.4M557.6 241v8.4M581.6 241v8.4M595.1 241v8.4M644.6 241v8.4M570.6 249.2v8.4M616.1 249.2v8.4M644.6 249.2v8.4M547.1 257.5v8.4M549.6 257.5v8.4M568.6 257.5v8.4M570.6 257.5v8.4M579.1 257.5v8.4M588.1 257.5v8.4M618.6 257.5v8.4M635.1 257.5v8.4M521.1 274v8.4M556.6 274v8.4M571.6 274v8.4M579.1 274v8.4M583.6 274v8.4M589.1 274v8.4M606.1 274v8.4M582.6 290.5v8.4M595.1 290.5v8.4M615.1 290.5v8.4M546.1 307v8.4M570.6 315.2v8.4M552.6 323.5v8.4M570.6 323.5v8.4M589.1 323.5v8.4M653.6 323.5v8.4M569.6 356.5v8.4M606.1 356.5v8.4M656.6 356.5v8.4M542.1 406v8.4M545.1 406v8.4M557.6 406v8.4M569.6 406v8.4M578.1 406v8.4M603.1 406v8.4M618.6 406v8.4M634.1 406v8.4M570.6 422.5v8.4M557.6 480.2v8.4"/>
<path stroke="#2b2b00" stroke-width="1.6" d="M311.2 241v8.4M286.8 249.2v8.4M301.2 257.5v8.4M303.8 298.8v8.4M313.8 298.8v8.4M289.2 307v8.4M313.8 307v8.4M321.2 323.5v8.4M289.2 331.8v8.4M303.8 331.8v8.4M283.2 340v8.4M277.8 348.2v8.4M299.8 348.2v8.4M311.2 348.2v8.4M301.2 356.5v8.4M311.2 356.5v8.4M313.8 356.5v8.4M311.2 406v8.4M316.8 406v8.4M295.2 414.2v8.4M301.2 414.2v8.4M286.8 430.8v8.4M295.2 430.8v8.4M299.8 430.8v8.4M316.8 430.8v8.4M277.8 439v8.4M311.2 439v8.4M315.2 439v8.4M357.6 274v8.4M343.6 290.5v8.4M406.9 249.2v8.4M376.9 414.2v8.4M379.4 414.2v8.4M388.4 414.2v8.4M400.9 439v8.4M446.1 241v8.4M413.1 265.8v8.4M425.6 265.8v8.4M443.1 265.8v8.4M475.6 265.8v8.4M425.6 348.2v8.4M431.6 348.2v8.4M453.6 414.2v8.4M496.4 241v8.4M493.9 249.2v8.4M487.4 323.5v8.4M506.4 323.5v8.4M506.4 331.8v8.4M509.9 331.8v8.4M487.4 381.2v8.4M624.9 241v8.4M628.4 241v8.4M632.9 241v8.4M647.4 241v8.4M516.4 257.5v8.4M558.9 274v8.4M564.4 274v8.4M619.9 274v8.4M624.9 274v8.4M636.4 274v8.4M643.4 274v8.4M659.3 274v8.4M649.9 290.5v8.4M517.9 323.5v8.4M540.9 323.5v8.4M607.4 323.5v8.4M631.4 323.5v8.4M645.9 323.5v8.4M608.9 356.5v8.4M516.4 406v8.4M564.4 406v8.4M580.4 406v8.4M628.4 422.5v8.4M659.3 422.5v8.4"/>
<path stroke="#2b2b00" stroke-width="2.1" d="M279.5 257.5v8.4M307.5 257.5v8.4M276 298.8v8.4M307.5 298.8v8.4M309.5 307v8.4M279.5 323.5v8.4M327.4 323.5v8.4M279.5 331.8v8.4M309.5 340v8.4M319.5 356.5v8.4M327.4 414.2v8.4M292 439v8.4M359.4 249.2v8.4M345.4 257.5v8.4M361.4 257.5v8.4M367.9 257.5v8.4M331.9 274v8.4M336.4 274v8.4M365.9 290.5v8.4M331.9 307v8.4M361.4 373v8.4M354.4 406v8.4M359.4 414.2v8.4M392.6 249.2v8.4M382.1 414.2v8.4M371.6 439v8.4M447.9 265.8v8.4M438.9 348.2v8.4M465.9 381.2v8.4M470.4 414.2v8.4M511.6 249.2v8.4M492.2 323.5v8.4M502.2 340v8.4M492.2 373v8.4M492.2 381.2v8.4M514.6 241v8.4M585.1 241v8.4M598.1 241v8.4M640.6 241v8.4M593.6 257.5v8.4M601.6 257.5v8.4M610.6 257.5v8.4M623.1 257.5v8.4M543.6 274v8.4M556.1 323.5v8.4M623.1 323.5v8.4M640.6 323.5v8.4M536.6 406v8.4M610.6 406v8.4"/>
<path stroke="#2b2b00" stroke-width="2.6" d="M295.8 257.5v8.4M313.2 257.5v8.4M295.8 307v8.4M288.8 340v8.4M287.2 348.2v8.4M320.8 439v8.4M339.6 274v8.4M363.6 274v8.4M334.1 414.2v8.4M386.4 439v8.4M541.4 241v8.4M616.9 241v8.4M614.4 257.5v8.4M521.9 323.5v8.4M635.9 323.5v8.4"/>
<path stroke="#2b2b00" stroke-width="3.1" d="M287.5 257.5v8.4M314.5 323.5v8.4M324.5 356.5v8.4M300.5 439v8.4M336.9 290.5v8.4M445.4 414.2v8.4M500.7 323.5v8.4M492.7 340v8.4M492.7 356.5v8.4M658.5 241v8.4M627.1 249.2v8.4M534.1 274v8.4"/>
<path stroke="#310039" stroke-width="0.6" d="M306.2 364.8v8.4M311.8 364.8v8.4M278.2 381.2v8.4M278.2 397.8v8.4M294.2 397.8v8.4M300.2 397.8v8.4M305.2 397.8v8.4M369.2 397.8v8.4M360.1 447.2v8.4M332.6 463.8v8.4M337.1 472v8.4M356.6 480.2v8.4M404.9 241v8.4M404.9 274v8.4M394.9 282.2v8.4M373.9 373v8.4M373.9 406v8.4M430.6 257.5v8.4M418.6 323.5v8.4M504.4 265.8v8.4M548.9 298.8v8.4M576.4 331.8v8.4M580.9 331.8v8.4M561.4 340v8.4M625.4 340v8.4M565.9 348.2v8.4M589.4 348.2v8.4M612.9 348.2v8.4M617.9 348.2v8.4M566.9 364.8v8.4M598.9 373v8.4M533.4 381.2v8.4M549.9 381.2v8.4M598.9 381.2v8.4M612.9 381.2v8.4M548.9 397.8v8.4M627.4 397.8v8.4M635.4 397.8v8.4M635.4 430.8v8.4M565.9 439v8.4"/>
<path stroke="#310039" stroke-width="1.1" d="M275.5 282.2v8.4M282 282.2v8.4M291.5 282.2v8.4M323.5 282.2v8.4M275.5 290.5v8.4M285.5 290.5v8.4M302.5 290.5v8.4M318 298.8v8.4M319 307v8.4M326 307v8.4M288 315.2v8.4M291.5 315.2v8.4M298.5 315.2v8.4M312.5 315.2v8.4M326 315.2v8.4M275.5 364.8v8.4M288 364.8v8.4M297.5 364.8v8.4M322.5 364.8v8.4M290.5 373v8.4M298.5 373v8.4M312.5 373v8.4M319 373v8.4M297.5 381.2v8.4M288 389.5v8.4M295.5 389.5v8.4M297.5 389.5v8.4M314 389.5v8.4M322.5 397.8v8.4M282 406v8.4M306 480.2v8.4M341.4 331.8v8.4M348.4 331.8v8.4M341.4 340v8.4M364.4 348.2v8.4M341.4 364.8v8.4M351.4 364.8v8.4M348.4 373v8.4M364.4 373v8.4M337.9 389.5v8.4M348.4 389.5v8.4M348.4 397.8v8.4M333.4 406v8.4M340.4 406v8.4M342.4 406v8.4M337.9 447.2v8.4M348.4 447.2v8.4M351.4 447.2v8.4M341.4 455.5v8.4M342.4 463.8v8.4M378.1 257.5v8.4M374.6 265.8v8.4M384.6 265.8v8.4M378.1 274v8.4M383.6 282.2v8.4M378.1 307v8.4M397.1 307v8.4M375.6 315.2v8.4M384.6 315.2v8.4M383.6 364.8v8.4M403.6 364.8v8.4M380.6 373v8.4M383.6 373v8.4M385.6 373v8.4M403.6 373v8.4M377.1 389.5v8.4M380.6 389.5v8.4M383.6 389.5v8.4M385.6 389.5v8.4M401.1 389.5v8.4M374.6 397.8v8.4M383.6 397.8v8.4M385.6 397.8v8.4M380.6 406v8.4M385.6 406v8.4M391.1 406v8.4M403.6 406v8.4M424.4 241v8.4M452.4 241v8.4M415.9 249.2v8.4M424.4 249.2v8.4M433.9 249.2v8.4M440.4 249.2v8.4M449.4 249.2v8.4M462.9 249.2v8.4M467.4 249.2v8.4M476.9 249.2v8.4M478.9 249.2v8.4M432.9 257.5v8.4M457.9 257.5v8.4M462.9 257.5v8.4M476.9 257.5v8.4M424.4 274v8.4M427.9 274v8.4M432.9 274v8.4M437.4 274v8.4M450.4 274v8.4M415.9 282.2v8.4M478.9 282.2v8.4M457.9 298.8v8.4M479.9 298.8v8.4M418.4 307v8.4M422.4 307v8.4M434.9 307v8.4M415.9 315.2v8.4M421.4 315.2v8.4M423.4 315.2v8.4M432.9 315.2v8.4M434.9 315.2v8.4M452.4 315.2v8.4M462.9 315.2v8.4M467.4 315.2v8.4M423.4 323.5v8.4M430.4 323.5v8.4M432.9 323.5v8.4M437.4 323.5v8.4M450.4 323.5v8.4M459.9 323.5v8.4M450.4 331.8v8.4M452.4 331.8v8.4M457.9 331.8v8.4M467.4 331.8v8.4M432.9 340v8.4M450.4 340v8.4M467.4 340v8.4M479.9 340v8.4M460.9 348.2v8.4M433.9 356.5v8.4M450.4 356.5v8.4M458.9 356.5v8.4M460.9 356.5v8.4M462.9 356.5v8.4M477.9 356.5v8.4M415.9 414.2v8.4M430.4 414.2v8.4M450.4 430.8v8.4M459.9 430.8v8.4M477.9 430.8v8.4M450.4 439v8.4M459.9 439v8.4M479.9 439v8.4M424.4 472v8.4M458.9 472v8.4M427.9 480.2v8.4M485.2 241v8.4M507.7 241v8.4M489.7 257.5v8.4M500.7 257.5v8.4M485.2 265.8v8.4M489.7 265.8v8.4M507.7 265.8v8.4M489.7 274v8.4M500.7 274v8.4M488.7 290.5v8.4M490.7 290.5v8.4M505.2 307v8.4M508.7 307v8.4M508.7 323.5v8.4M489.7 389.5v8.4M495.2 389.5v8.4M521.1 249.2v8.4M528.1 249.2v8.4M532.1 249.2v8.4M542.1 249.2v8.4M552.6 249.2v8.4M591.1 249.2v8.4M595.1 249.2v8.4M615.1 249.2v8.4M618.6 249.2v8.4M520.1 257.5v8.4M533.1 265.8v8.4M545.1 265.8v8.4M547.1 265.8v8.4M552.6 265.8v8.4M578.1 265.8v8.4M581.6 265.8v8.4M601.1 265.8v8.4M639.1 265.8v8.4M644.6 265.8v8.4M557.6 282.2v8.4M565.6 282.2v8.4M578.1 282.2v8.4M519.1 298.8v8.4M537.1 298.8v8.4M562.1 298.8v8.4M565.6 298.8v8.4M568.6 298.8v8.4M571.6 298.8v8.4M573.6 298.8v8.4M577.1 298.8v8.4M579.1 298.8v8.4M606.1 298.8v8.4M618.6 298.8v8.4M646.1 298.8v8.4M532.1 307v8.4M539.6 307v8.4M542.1 307v8.4M557.6 307v8.4M567.6 307v8.4M590.1 307v8.4M592.1 307v8.4M595.1 307v8.4M603.1 307v8.4M634.1 307v8.4M519.1 315.2v8.4M571.6 315.2v8.4M602.1 315.2v8.4M604.1 315.2v8.4M653.6 315.2v8.4M519.1 323.5v8.4M552.6 331.8v8.4M565.6 331.8v8.4M582.6 331.8v8.4M588.1 331.8v8.4M590.1 331.8v8.4M601.1 331.8v8.4M634.1 331.8v8.4M642.1 331.8v8.4M532.1 340v8.4M545.1 340v8.4M567.6 340v8.4M588.1 340v8.4M592.1 340v8.4M642.1 340v8.4M651.6 340v8.4M520.1 348.2v8.4M532.1 348.2v8.4M537.1 348.2v8.4M556.6 348.2v8.4M572.6 348.2v8.4M576.1 348.2v8.4M578.1 348.2v8.4M582.6 348.2v8.4M595.1 348.2v8.4M635.1 348.2v8.4M542.1 356.5v8.4M556.6 356.5v8.4M567.6 356.5v8.4M571.6 356.5v8.4M604.1 356.5v8.4M520.1 364.8v8.4M523.6 364.8v8.4M562.1 364.8v8.4M570.6 364.8v8.4M572.6 364.8v8.4M589.1 364.8v8.4M605.1 364.8v8.4M634.1 364.8v8.4M639.1 364.8v8.4M519.1 373v8.4M533.1 373v8.4M556.6 373v8.4M569.6 373v8.4M591.1 373v8.4M519.1 381.2v8.4M545.1 381.2v8.4M562.1 381.2v8.4M573.6 381.2v8.4M578.1 381.2v8.4M581.6 381.2v8.4M605.1 381.2v8.4M620.1 381.2v8.4M635.1 381.2v8.4M659.5 381.2v8.4M521.1 389.5v8.4M523.6 389.5v8.4M531.1 389.5v8.4M537.1 389.5v8.4M542.1 389.5v8.4M547.1 389.5v8.4M552.6 389.5v8.4M563.1 389.5v8.4M565.6 389.5v8.4M581.6 389.5v8.4M588.1 389.5v8.4M592.1 389.5v8.4M595.1 389.5v8.4M601.1 389.5v8.4M634.1 389.5v8.4M642.1 389.5v8.4M644.6 389.5v8.4M519.1 397.8v8.4M521.1 397.8v8.4M523.6 397.8v8.4M565.6 397.8v8.4M571.6 397.8v8.4M578.1 397.8v8.4M589.1 397.8v8.4M618.6 397.8v8.4M639.1 397.8v8.4M651.6 397.8v8.4M653.6 397.8v8.4M520.1 430.8v8.4M555.6 430.8v8.4M557.6 430.8v8.4M562.1 430.8v8.4M566.6 430.8v8.4M579.1 430.8v8.4M588.1 430.8v8.4M639.1 430.8v8.4M523.6 439v8.4M529.6 439v8.4M545.1 439v8.4M568.6 439v8.4M573.6 439v8.4M576.1 439v8.4M579.1 439v8.4M581.6 439v8.4M588.1 439v8.4M595.1 439v8.4M602.1 439v8.4M635.1 439v8.4M647.6 439v8.4M656.6 439v8.4"/>
<path stroke="#310039" stroke-width="1.6" d="M295.2 282.2v8.4M313.8 290.5v8.4M283.2 315.2v8.4M293.8 315.2v8.4M303.8 340v8.4M277.8 364.8v8.4M293.8 364.8v8.4M301.2 364.8v8.4M313.8 364.8v8.4M277.8 373v8.4M295.2 373v8.4M301.2 373v8.4M316.8 373v8.4M321.2 373v8.4M286.8 381.2v8.4M299.8 381.2v8.4M311.2 381.2v8.4M301.2 389.5v8.4M319.8 397.8v8.4M327.7 397.8v8.4M295.2 406v8.4M356.1 241v8.4M334.6 249.2v8.4M352.6 249.2v8.4M363.1 249.2v8.4M343.6 323.5v8.4M334.6 331.8v8.4M330.1 340v8.4M334.6 340v8.4M347.1 340v8.4M352.6 340v8.4M352.6 348.2v8.4M339.1 356.5v8.4M352.6 356.5v8.4M356.1 356.5v8.4M368.8 364.8v8.4M339.1 373v8.4M339.1 381.2v8.4M345.6 389.5v8.4M339.1 397.8v8.4M343.6 397.8v8.4M356.1 397.8v8.4M356.1 406v8.4M330.1 447.2v8.4M334.6 447.2v8.4M339.1 463.8v8.4M356.1 463.8v8.4M352.6 472v8.4M363.1 472v8.4M368.8 480.2v8.4M389.9 241v8.4M410.8 241v8.4M395.9 257.5v8.4M410.8 257.5v8.4M386.9 282.2v8.4M406.9 282.2v8.4M410.8 282.2v8.4M373.4 307v8.4M386.9 307v8.4M410.8 307v8.4M402.4 315.2v8.4M376.9 364.8v8.4M379.4 364.8v8.4M388.4 364.8v8.4M395.9 364.8v8.4M388.4 373v8.4M394.4 373v8.4M377.9 381.2v8.4M389.9 381.2v8.4M376.9 397.8v8.4M388.4 397.8v8.4M410.8 397.8v8.4M376.9 406v8.4M395.9 406v8.4M444.6 241v8.4M456.6 241v8.4M413.1 249.2v8.4M436.1 249.2v8.4M446.1 249.2v8.4M425.6 257.5v8.4M441.6 257.5v8.4M444.6 257.5v8.4M468.6 257.5v8.4M453.6 265.8v8.4M413.1 282.2v8.4M425.6 282.2v8.4M436.1 282.2v8.4M444.6 282.2v8.4M446.1 298.8v8.4M464.1 298.8v8.4M455.1 307v8.4M466.1 307v8.4M468.6 307v8.4M441.6 315.2v8.4M444.6 315.2v8.4M475.6 315.2v8.4M464.1 323.5v8.4M417.1 331.8v8.4M425.6 340v8.4M436.1 340v8.4M458.6 340v8.4M429.1 348.2v8.4M436.1 348.2v8.4M444.6 348.2v8.4M456.6 348.2v8.4M413.1 356.5v8.4M431.6 356.5v8.4M456.6 356.5v8.4M436.1 414.2v8.4M417.1 430.8v8.4M425.6 430.8v8.4M431.6 430.8v8.4M443.1 430.8v8.4M466.1 430.8v8.4M472.1 430.8v8.4M475.6 430.8v8.4M414.6 439v8.4M444.6 439v8.4M472.1 439v8.4M475.6 439v8.4M414.6 472v8.4M417.1 472v8.4M431.6 472v8.4M436.1 472v8.4M443.1 472v8.4M453.6 472v8.4M483.9 257.5v8.4M493.9 257.5v8.4M503.9 257.5v8.4M506.4 257.5v8.4M511.9 257.5v8.4M483.9 282.2v8.4M493.9 282.2v8.4M496.4 282.2v8.4M504.9 282.2v8.4M483.9 290.5v8.4M483.9 307v8.4M493.9 307v8.4M499.4 307v8.4M503.9 373v8.4M506.4 463.8v8.4M538.4 241v8.4M596.4 241v8.4M517.9 249.2v8.4M631.4 249.2v8.4M643.4 249.2v8.4M657.9 249.2v8.4M522.4 257.5v8.4M619.9 257.5v8.4M565.4 265.8v8.4M608.9 265.8v8.4M619.9 265.8v8.4M628.4 265.8v8.4M657.9 265.8v8.4M586.9 274v8.4M580.4 282.2v8.4M607.4 282.2v8.4M529.4 298.8v8.4M540.9 298.8v8.4M603.9 298.8v8.4M612.4 298.8v8.4M621.4 298.8v8.4M624.9 298.8v8.4M632.9 298.8v8.4M637.9 298.8v8.4M649.9 298.8v8.4M657.9 298.8v8.4M548.4 307v8.4M574.9 307v8.4M612.4 307v8.4M617.4 307v8.4M631.4 307v8.4M649.9 307v8.4M516.4 315.2v8.4M529.4 315.2v8.4M599.9 315.2v8.4M558.9 323.5v8.4M632.9 323.5v8.4M529.4 331.8v8.4M624.9 331.8v8.4M645.9 331.8v8.4M651.4 331.8v8.4M657.9 331.8v8.4M527.9 340v8.4M574.9 340v8.4M599.9 340v8.4M632.9 340v8.4M517.9 348.2v8.4M529.4 348.2v8.4M621.4 348.2v8.4M632.9 348.2v8.4M647.4 348.2v8.4M659.3 348.2v8.4M649.9 356.5v8.4M517.9 364.8v8.4M530.9 364.8v8.4M548.4 364.8v8.4M607.4 364.8v8.4M613.9 364.8v8.4M629.9 364.8v8.4M651.4 364.8v8.4M516.4 373v8.4M526.9 373v8.4M538.4 373v8.4M564.4 373v8.4M586.9 373v8.4M607.4 373v8.4M637.9 373v8.4M643.4 373v8.4M516.4 381.2v8.4M538.4 381.2v8.4M564.4 381.2v8.4M632.9 381.2v8.4M517.9 389.5v8.4M621.4 389.5v8.4M647.4 389.5v8.4M657.9 389.5v8.4M526.9 397.8v8.4M596.4 397.8v8.4M612.4 397.8v8.4M621.4 397.8v8.4M619.9 430.8v8.4M628.4 430.8v8.4M643.4 430.8v8.4M540.9 439v8.4M607.4 439v8.4M619.9 439v8.4M624.9 439v8.4M628.4 439v8.4M649.9 439v8.4"/>
<path stroke="#310039" stroke-width="2.1" d="M297 290.5v8.4M307.5 290.5v8.4M279.5 307v8.4M318.5 364.8v8.4M327.4 373v8.4M324.5 381.2v8.4M327.4 381.2v8.4M276 389.5v8.4M279.5 389.5v8.4M287.5 397.8v8.4M331.9 331.8v8.4M365.9 340v8.4M359.4 348.2v8.4M336.4 364.8v8.4M346.9 364.8v8.4M354.4 373v8.4M331.9 389.5v8.4M361.4 397.8v8.4M365.9 397.8v8.4M340.9 447.2v8.4M349.9 455.5v8.4M365.9 455.5v8.4M359.4 463.8v8.4M367.9 463.8v8.4M331.9 472v8.4M367.9 472v8.4M336.4 480.2v8.4M345.4 480.2v8.4M371.6 241v8.4M371.6 257.5v8.4M375.1 257.5v8.4M382.1 257.5v8.4M404.1 257.5v8.4M371.6 274v8.4M371.6 282.2v8.4M404.1 282.2v8.4M382.1 315.2v8.4M371.6 381.2v8.4M384.1 381.2v8.4M402.1 397.8v8.4M408.1 397.8v8.4M473.9 241v8.4M419.9 249.2v8.4M421.9 257.5v8.4M447.9 257.5v8.4M481.3 257.5v8.4M459.4 274v8.4M421.9 282.2v8.4M438.9 282.2v8.4M450.9 282.2v8.4M471.9 282.2v8.4M421.9 298.8v8.4M450.9 298.8v8.4M479.4 315.2v8.4M477.4 323.5v8.4M421.9 331.8v8.4M432.4 331.8v8.4M447.9 331.8v8.4M475.4 331.8v8.4M478.4 331.8v8.4M422.9 340v8.4M447.9 340v8.4M461.4 340v8.4M475.4 340v8.4M471.9 356.5v8.4M481.3 414.2v8.4M419.9 430.8v8.4M434.4 430.8v8.4M422.9 439v8.4M462.4 439v8.4M465.9 439v8.4M438.9 472v8.4M498.2 241v8.4M498.2 257.5v8.4M498.2 265.8v8.4M487.2 274v8.4M508.2 274v8.4M511.6 274v8.4M490.2 282.2v8.4M511.6 290.5v8.4M492.2 298.8v8.4M511.6 298.8v8.4M511.6 307v8.4M502.2 463.8v8.4M525.1 249.2v8.4M534.6 249.2v8.4M585.1 249.2v8.4M585.1 257.5v8.4M514.6 265.8v8.4M593.6 265.8v8.4M615.6 265.8v8.4M554.1 298.8v8.4M582.1 298.8v8.4M653.1 298.8v8.4M525.1 307v8.4M655.1 307v8.4M551.1 315.2v8.4M514.6 331.8v8.4M560.6 331.8v8.4M571.1 331.8v8.4M598.1 331.8v8.4M604.6 331.8v8.4M610.6 331.8v8.4M655.1 331.8v8.4M536.6 340v8.4M551.1 340v8.4M617.1 340v8.4M514.6 348.2v8.4M546.6 348.2v8.4M570.1 348.2v8.4M640.6 348.2v8.4M610.6 356.5v8.4M514.6 364.8v8.4M551.1 364.8v8.4M554.1 364.8v8.4M623.1 364.8v8.4M626.6 364.8v8.4M545.6 373v8.4M640.6 373v8.4M554.1 381.2v8.4M567.1 381.2v8.4M570.1 381.2v8.4M640.6 381.2v8.4M568.1 389.5v8.4M598.1 389.5v8.4M613.6 389.5v8.4M532.6 397.8v8.4M543.6 397.8v8.4M557.1 397.8v8.4M568.1 397.8v8.4M602.6 397.8v8.4M608.6 397.8v8.4M645.6 397.8v8.4M534.6 430.8v8.4M605.6 430.8v8.4M517.6 439v8.4M585.1 439v8.4M591.6 439v8.4M640.6 439v8.4"/>
<path stroke="#310039" stroke-width="2.6" d="M304.2 282.2v8.4M282.8 364.8v8.4M325.2 364.8v8.4M283.8 381.2v8.4M289.8 381.2v8.4M303.2 381.2v8.4M283.8 389.5v8.4M304.2 389.5v8.4M317.2 389.5v8.4M320.8 389.5v8.4M347.6 241v8.4M361.1 364.8v8.4M334.1 397.8v8.4M386.4 241v8.4M397.9 298.8v8.4M397.9 373v8.4M406.4 373v8.4M400.4 381.2v8.4M406.4 381.2v8.4M410.2 389.5v8.4M431.1 249.2v8.4M429.6 265.8v8.4M431.1 282.2v8.4M476.1 282.2v8.4M468.1 298.8v8.4M428.6 315.2v8.4M473.6 323.5v8.4M428.6 340v8.4M419.6 356.5v8.4M439.6 356.5v8.4M428.6 430.8v8.4M428.6 439v8.4M504.4 241v8.4M486.9 282.2v8.4M509.4 282.2v8.4M506.9 290.5v8.4M494.4 373v8.4M563.9 249.2v8.4M541.4 265.8v8.4M574.4 265.8v8.4M633.4 265.8v8.4M651.9 265.8v8.4M521.9 298.8v8.4M518.4 331.8v8.4M614.4 331.8v8.4M547.9 340v8.4M595.9 340v8.4M540.4 348.2v8.4M601.4 348.2v8.4M579.9 364.8v8.4M643.9 364.8v8.4M647.9 364.8v8.4M521.9 373v8.4M614.4 373v8.4M524.9 381.2v8.4M558.4 381.2v8.4M645.4 381.2v8.4M651.9 381.2v8.4M560.4 389.5v8.4M575.4 397.8v8.4M586.4 397.8v8.4M657.4 397.8v8.4M647.9 430.8v8.4M537.9 439v8.4M614.4 439v8.4"/>
<path stroke="#310039" stroke-width="3.1" d="M319 282.2v8.4M304.5 364.8v8.4M310 364.8v8.4M276.5 381.2v8.4M294.5 381.2v8.4M314.5 381.2v8.4M322 381.2v8.4M293.5 389.5v8.4M312 389.5v8.4M276.5 397.8v8.4M282 397.8v8.4M285 397.8v8.4M292.5 397.8v8.4M298.5 397.8v8.4M303.5 397.8v8.4M310 397.8v8.4M313 397.8v8.4M317.5 397.8v8.4M325.5 397.8v8.4M332.4 364.8v8.4M344.4 364.8v8.4M358.4 364.8v8.4M366.4 364.8v8.4M365.4 381.2v8.4M343.4 389.5v8.4M365.4 389.5v8.4M365.4 406v8.4M358.4 447.2v8.4M330.9 463.8v8.4M335.4 472v8.4M350.4 472v8.4M354.9 480.2v8.4M366.4 480.2v8.4M403.1 241v8.4M387.6 257.5v8.4M401.6 257.5v8.4M395.1 265.8v8.4M401.6 265.8v8.4M403.1 274v8.4M375.6 282.2v8.4M378.6 282.2v8.4M393.1 282.2v8.4M395.1 315.2v8.4M372.1 373v8.4M392.1 373v8.4M375.6 381.2v8.4M381.6 381.2v8.4M372.1 389.5v8.4M375.1 389.5v8.4M390.6 389.5v8.4M393.6 389.5v8.4M399.1 389.5v8.4M404.6 389.5v8.4M407.6 389.5v8.4M381.6 397.8v8.4M392.1 397.8v8.4M396.6 397.8v8.4M399.6 397.8v8.4M405.6 397.8v8.4M372.1 406v8.4M455.9 249.2v8.4M458.9 249.2v8.4M428.9 257.5v8.4M438.4 257.5v8.4M451.4 257.5v8.4M442.4 274v8.4M455.9 274v8.4M419.4 282.2v8.4M454.4 282.2v8.4M458.9 282.2v8.4M469.4 282.2v8.4M419.4 298.8v8.4M438.4 298.8v8.4M443.9 307v8.4M463.9 307v8.4M419.4 315.2v8.4M416.9 323.5v8.4M443.9 323.5v8.4M470.9 323.5v8.4M429.9 331.8v8.4M472.9 331.8v8.4M413.9 340v8.4M419.4 340v8.4M439.4 340v8.4M445.4 340v8.4M453.4 340v8.4M456.4 340v8.4M472.9 340v8.4M416.9 356.5v8.4M423.4 356.5v8.4M436.9 356.5v8.4M445.4 356.5v8.4M469.4 356.5v8.4M480.8 356.5v8.4M423.4 430.8v8.4M455.9 430.8v8.4M463.9 430.8v8.4M509.7 257.5v8.4M502.7 265.8v8.4M484.7 274v8.4M498.7 274v8.4M502.7 282.2v8.4M491.7 307v8.4M497.2 307v8.4M501.7 373v8.4M650.6 249.2v8.4M518.6 265.8v8.4M521.6 265.8v8.4M530.1 265.8v8.4M556.6 265.8v8.4M563.1 265.8v8.4M584.6 265.8v8.4M613.1 265.8v8.4M535.1 298.8v8.4M547.1 298.8v8.4M589.1 298.8v8.4M598.6 298.8v8.4M601.6 298.8v8.4M644.1 298.8v8.4M534.1 331.8v8.4M556.6 331.8v8.4M574.6 331.8v8.4M579.1 331.8v8.4M594.1 331.8v8.4M520.1 340v8.4M525.6 340v8.4M559.6 340v8.4M603.1 340v8.4M614.6 340v8.4M620.6 340v8.4M623.6 340v8.4M646.6 340v8.4M649.6 340v8.4M524.6 348.2v8.4M535.1 348.2v8.4M550.6 348.2v8.4M564.1 348.2v8.4M587.6 348.2v8.4M598.6 348.2v8.4M611.1 348.2v8.4M616.1 348.2v8.4M546.1 364.8v8.4M565.1 364.8v8.4M637.1 364.8v8.4M554.6 373v8.4M578.1 373v8.4M584.6 373v8.4M597.1 373v8.4M522.1 381.2v8.4M531.6 381.2v8.4M548.1 381.2v8.4M590.1 381.2v8.4M597.1 381.2v8.4M608.1 381.2v8.4M611.1 381.2v8.4M618.1 381.2v8.4M629.1 381.2v8.4M657.6 381.2v8.4M529.1 389.5v8.4M535.1 389.5v8.4M550.6 389.5v8.4M557.6 389.5v8.4M572.6 389.5v8.4M577.1 389.5v8.4M608.1 389.5v8.4M611.1 389.5v8.4M632.1 389.5v8.4M637.1 389.5v8.4M640.1 389.5v8.4M654.6 389.5v8.4M530.1 397.8v8.4M547.1 397.8v8.4M551.6 397.8v8.4M554.6 397.8v8.4M561.1 397.8v8.4M583.6 397.8v8.4M593.1 397.8v8.4M606.1 397.8v8.4M625.6 397.8v8.4M630.6 397.8v8.4M633.6 397.8v8.4M643.1 397.8v8.4M649.6 397.8v8.4M633.6 430.8v8.4M515.1 439v8.4M527.6 439v8.4M535.1 439v8.4M561.1 439v8.4M564.1 439v8.4M645.6 439v8.4M654.6 439v8.4"/>
<path stroke="#404000" stroke-width="0.6" d="M311.8 257.5v8.4M360.1 290.5v8.4M373.9 249.2v8.4M612.9 241v8.4"/>
<path stroke="#404000" stroke-width="1.1" d="M285.5 241v8.4M292.5 241v8.4M297.5 241v8.4M318 241v8.4M282 249.2v8.4M291.5 257.5v8.4M297.5 257.5v8.4M306 257.5v8.4M320 257.5v8.4M322.5 257.5v8.4M281 265.8v8.4M284.5 298.8v8.4M306 298.8v8.4M284.5 307v8.4M306 307v8.4M282 323.5v8.4M319 323.5v8.4M323.5 323.5v8.4M296.5 331.8v8.4M312.5 331.8v8.4M276.5 348.2v8.4M298.5 348.2v8.4M310 348.2v8.4M281 356.5v8.4M290.5 356.5v8.4M292.5 356.5v8.4M292.5 414.2v8.4M296.5 414.2v8.4M291.5 430.8v8.4M282 439v8.4M285.5 439v8.4M290.5 439v8.4M297.5 439v8.4M322.5 439v8.4M341.4 257.5v8.4M341.4 290.5v8.4M337.9 414.2v8.4M342.4 414.2v8.4M340.4 430.8v8.4M385.6 249.2v8.4M405.6 249.2v8.4M403.6 439v8.4M462.9 265.8v8.4M477.9 265.8v8.4M434.9 348.2v8.4M415.9 381.2v8.4M418.4 381.2v8.4M430.4 381.2v8.4M495.2 249.2v8.4M490.7 298.8v8.4M485.2 340v8.4M500.7 340v8.4M499.7 356.5v8.4M499.7 381.2v8.4M486.2 406v8.4M489.7 430.8v8.4M523.6 241v8.4M532.1 241v8.4M539.6 241v8.4M545.1 241v8.4M556.6 241v8.4M569.6 241v8.4M579.1 241v8.4M589.1 241v8.4M604.1 241v8.4M615.1 241v8.4M635.1 241v8.4M566.6 249.2v8.4M572.6 249.2v8.4M579.1 249.2v8.4M546.1 257.5v8.4M639.1 257.5v8.4M653.6 257.5v8.4M562.1 274v8.4M603.1 274v8.4M648.6 274v8.4M519.1 290.5v8.4M528.1 290.5v8.4M569.6 290.5v8.4M642.1 290.5v8.4M639.1 315.2v8.4M549.6 323.5v8.4M566.6 323.5v8.4M569.6 323.5v8.4M572.6 323.5v8.4M585.6 323.5v8.4M588.1 323.5v8.4M601.1 323.5v8.4M634.1 323.5v8.4M566.6 356.5v8.4M589.1 356.5v8.4M605.1 356.5v8.4M639.1 356.5v8.4M519.1 406v8.4M571.6 406v8.4M590.1 406v8.4M616.1 406v8.4M642.1 406v8.4M644.6 406v8.4M552.6 480.2v8.4M590.1 480.2v8.4M604.1 480.2v8.4"/>
<path stroke="#404000" stroke-width="1.6" d="M279.8 241v8.4M295.2 241v8.4M303.8 241v8.4M284.2 257.5v8.4M315.2 257.5v8.4M324.8 257.5v8.4M324.8 274v8.4M286.8 298.8v8.4M295.2 298.8v8.4M277.8 307v8.4M295.2 323.5v8.4M277.8 331.8v8.4M277.8 340v8.4M295.2 340v8.4M303.8 348.2v8.4M324.8 348.2v8.4M277.8 356.5v8.4M283.2 356.5v8.4M286.8 356.5v8.4M295.2 356.5v8.4M316.8 356.5v8.4M286.8 414.2v8.4M315.2 414.2v8.4M277.8 430.8v8.4M293.8 439v8.4M313.8 439v8.4M339.1 257.5v8.4M352.6 290.5v8.4M330.1 323.5v8.4M376.9 249.2v8.4M400.9 414.2v8.4M395.9 439v8.4M443.1 241v8.4M446.1 348.2v8.4M456.6 381.2v8.4M464.1 389.5v8.4M503.9 340v8.4M506.4 356.5v8.4M487.4 364.8v8.4M516.4 241v8.4M574.9 241v8.4M621.4 241v8.4M631.4 241v8.4M643.4 241v8.4M647.4 249.2v8.4M643.4 257.5v8.4M526.9 274v8.4M608.9 274v8.4M637.9 274v8.4M599.9 290.5v8.4M628.4 290.5v8.4M529.4 323.5v8.4M564.4 323.5v8.4M596.4 323.5v8.4M608.9 323.5v8.4M617.4 323.5v8.4M619.9 323.5v8.4M628.4 323.5v8.4M637.9 323.5v8.4M647.4 323.5v8.4M659.3 323.5v8.4M522.4 406v8.4M526.9 406v8.4M529.4 406v8.4M538.4 406v8.4M586.9 406v8.4M596.4 406v8.4M619.9 406v8.4M631.4 406v8.4M636.4 406v8.4"/>
<path stroke="#404000" stroke-width="2.1" d="M309.5 241v8.4M276 257.5v8.4M309.5 331.8v8.4M327.4 331.8v8.4M307.5 430.8v8.4M276 439v8.4M279.5 439v8.4M336.4 257.5v8.4M349.9 257.5v8.4M367.9 290.5v8.4M336.4 298.8v8.4M341.9 323.5v8.4M345.4 323.5v8.4M349.9 323.5v8.4M354.4 323.5v8.4M361.4 323.5v8.4M365.9 323.5v8.4M345.4 373v8.4M367.9 381.2v8.4M361.4 414.2v8.4M336.4 430.8v8.4M371.6 414.2v8.4M382.1 439v8.4M481.3 381.2v8.4M492.2 331.8v8.4M511.6 340v8.4M490.2 356.5v8.4M502.2 356.5v8.4M498.2 430.8v8.4M511.6 430.8v8.4M543.6 249.2v8.4M598.1 274v8.4M623.1 274v8.4M514.6 290.5v8.4M626.6 315.2v8.4M543.6 323.5v8.4M546.6 323.5v8.4M590.6 323.5v8.4M593.6 323.5v8.4"/>
<path stroke="#404000" stroke-width="2.6" d="M324.2 241v8.4M303.2 323.5v8.4M293.2 348.2v8.4M288.8 430.8v8.4M334.1 290.5v8.4M347.6 414.2v8.4M376.4 439v8.4M495.9 381.2v8.4M575.4 406v8.4M651.9 406v8.4"/>
<path stroke="#404000" stroke-width="3.1" d="M277.5 241v8.4M300.5 241v8.4M280 249.2v8.4M282 257.5v8.4M310 257.5v8.4M308 348.2v8.4M316 348.2v8.4M332.4 257.5v8.4M358.4 290.5v8.4M372.1 249.2v8.4M489.7 340v8.4M611.1 241v8.4M524.6 323.5v8.4M583.6 323.5v8.4M534.1 406v8.4M551.6 406v8.4"/>
<path stroke="#4c0055" stroke-width="0.6" d="M306.2 290.5v8.4M326.2 373v8.4M326.2 389.5v8.4M322.8 447.2v8.4M288.2 455.5v8.4M278.2 480.2v8.4M328.2 480.2v8.4M340.6 364.8v8.4M369.2 447.2v8.4M356.6 472v8.4M378.4 241v8.4M373.9 397.8v8.4M466.6 249.2v8.4M466.6 274v8.4M476.1 274v8.4M466.6 282.2v8.4M428.1 290.5v8.4M436.6 406v8.4M478.1 406v8.4M454.1 430.8v8.4M471.1 430.8v8.4M459.1 447.2v8.4M428.1 455.5v8.4M451.6 455.5v8.4M471.1 472v8.4M482 472v8.4M427.1 480.2v8.4M460.1 480.2v8.4M471.1 480.2v8.4M487.9 290.5v8.4M500.9 447.2v8.4M490.9 455.5v8.4M507.9 455.5v8.4M512.4 455.5v8.4M488.9 472v8.4M498.9 480.2v8.4M625.4 315.2v8.4M656.9 348.2v8.4M561.4 430.8v8.4M565.9 430.8v8.4M618.9 430.8v8.4M555.9 439v8.4"/>
<path stroke="#4c0055" stroke-width="1.1" d="M326 282.2v8.4M295.5 290.5v8.4M301.5 290.5v8.4M282 315.2v8.4M276.5 364.8v8.4M290.5 364.8v8.4M292.5 364.8v8.4M302.5 364.8v8.4M312.5 364.8v8.4M323.5 364.8v8.4M281 373v8.4M285.5 373v8.4M297.5 373v8.4M302.5 373v8.4M320 373v8.4M305 381.2v8.4M312.5 381.2v8.4M320 381.2v8.4M290.5 389.5v8.4M310 389.5v8.4M319 389.5v8.4M290.5 397.8v8.4M323.5 397.8v8.4M290.5 406v8.4M282 447.2v8.4M302.5 447.2v8.4M305 447.2v8.4M290.5 455.5v8.4M296.5 455.5v8.4M302.5 455.5v8.4M323.5 455.5v8.4M326 455.5v8.4M300 463.8v8.4M327.9 463.8v8.4M322.5 472v8.4M284.5 480.2v8.4M291.5 480.2v8.4M320 480.2v8.4M340.4 249.2v8.4M364.4 249.2v8.4M342.4 364.8v8.4M348.4 381.2v8.4M341.4 406v8.4M342.4 455.5v8.4M341.4 480.2v8.4M361.9 480.2v8.4M364.4 480.2v8.4M384.6 257.5v8.4M385.6 265.8v8.4M375.6 274v8.4M385.6 274v8.4M383.6 290.5v8.4M385.6 290.5v8.4M401.1 290.5v8.4M403.6 290.5v8.4M409.6 290.5v8.4M378.1 364.8v8.4M384.6 364.8v8.4M397.1 364.8v8.4M374.6 373v8.4M379.6 373v8.4M399.6 373v8.4M404.6 373v8.4M409.6 373v8.4M388.6 381.2v8.4M397.1 381.2v8.4M404.6 381.2v8.4M397.1 389.5v8.4M375.6 397.8v8.4M384.6 397.8v8.4M403.6 397.8v8.4M374.6 406v8.4M384.6 406v8.4M404.6 406v8.4M385.6 447.2v8.4M411 447.2v8.4M408.6 455.5v8.4M374.6 463.8v8.4M399.6 463.8v8.4M383.6 472v8.4M397.1 472v8.4M399.6 472v8.4M405.6 472v8.4M391.1 480.2v8.4M409.6 480.2v8.4M418.4 249.2v8.4M432.9 249.2v8.4M434.9 249.2v8.4M477.9 249.2v8.4M423.4 274v8.4M449.4 274v8.4M452.4 274v8.4M457.9 274v8.4M478.9 274v8.4M432.9 282.2v8.4M415.9 290.5v8.4M433.9 290.5v8.4M459.9 290.5v8.4M461.9 290.5v8.4M424.4 323.5v8.4M426.9 348.2v8.4M458.9 348.2v8.4M421.4 356.5v8.4M430.4 356.5v8.4M432.9 356.5v8.4M434.9 356.5v8.4M451.4 356.5v8.4M457.9 356.5v8.4M459.9 356.5v8.4M461.9 356.5v8.4M478.9 356.5v8.4M424.4 406v8.4M426.9 406v8.4M449.4 406v8.4M458.9 406v8.4M418.4 430.8v8.4M421.4 430.8v8.4M426.9 430.8v8.4M449.4 430.8v8.4M458.9 430.8v8.4M461.9 430.8v8.4M476.9 430.8v8.4M481.8 430.8v8.4M430.4 439v8.4M433.9 439v8.4M451.4 439v8.4M422.4 447.2v8.4M424.4 447.2v8.4M434.9 447.2v8.4M460.9 447.2v8.4M462.9 447.2v8.4M478.9 447.2v8.4M433.9 455.5v8.4M440.4 455.5v8.4M424.4 463.8v8.4M426.9 463.8v8.4M433.9 463.8v8.4M467.4 463.8v8.4M477.9 463.8v8.4M415.9 472v8.4M437.4 472v8.4M457.9 472v8.4M462.9 472v8.4M422.4 480.2v8.4M481.8 480.2v8.4M489.7 290.5v8.4M499.7 472v8.4M506.7 472v8.4M486.2 480.2v8.4M500.7 480.2v8.4M571.6 249.2v8.4M577.1 249.2v8.4M571.6 265.8v8.4M577.1 265.8v8.4M590.1 265.8v8.4M595.1 265.8v8.4M602.1 265.8v8.4M642.1 265.8v8.4M519.1 282.2v8.4M545.1 298.8v8.4M519.1 307v8.4M644.6 307v8.4M542.1 315.2v8.4M590.1 315.2v8.4M616.1 315.2v8.4M549.6 331.8v8.4M590.1 340v8.4M519.1 348.2v8.4M533.1 348.2v8.4M542.1 348.2v8.4M545.1 348.2v8.4M555.6 348.2v8.4M562.1 348.2v8.4M571.6 348.2v8.4M579.1 348.2v8.4M581.6 348.2v8.4M592.1 348.2v8.4M628.6 348.2v8.4M565.6 356.5v8.4M592.1 356.5v8.4M535.1 364.8v8.4M552.6 364.8v8.4M563.1 364.8v8.4M571.6 364.8v8.4M594.1 364.8v8.4M606.1 364.8v8.4M615.1 364.8v8.4M635.1 364.8v8.4M528.1 373v8.4M547.1 373v8.4M562.1 373v8.4M565.6 373v8.4M571.6 373v8.4M582.6 373v8.4M590.1 373v8.4M595.1 373v8.4M605.1 373v8.4M620.1 373v8.4M529.6 381.2v8.4M565.6 381.2v8.4M568.6 381.2v8.4M572.6 381.2v8.4M577.1 381.2v8.4M579.1 381.2v8.4M595.1 381.2v8.4M601.1 381.2v8.4M648.6 381.2v8.4M519.1 389.5v8.4M603.1 389.5v8.4M573.6 397.8v8.4M590.1 397.8v8.4M533.1 430.8v8.4M556.6 430.8v8.4M601.1 430.8v8.4M627.1 430.8v8.4M520.1 439v8.4M542.1 439v8.4M566.6 439v8.4M582.6 439v8.4M589.1 439v8.4M604.1 439v8.4M606.1 439v8.4M648.6 439v8.4M652.6 439v8.4"/>
<path stroke="#4c0055" stroke-width="1.6" d="M286.8 282.2v8.4M299.8 282.2v8.4M321.2 282.2v8.4M312.2 290.5v8.4M299.8 298.8v8.4M315.2 364.8v8.4M301.2 381.2v8.4M277.8 389.5v8.4M315.2 389.5v8.4M295.2 397.8v8.4M315.2 397.8v8.4M321.2 397.8v8.4M321.2 406v8.4M299.8 455.5v8.4M321.2 455.5v8.4M291.2 472v8.4M293.8 472v8.4M299.8 472v8.4M312.2 472v8.4M315.2 472v8.4M286.8 480.2v8.4M289.2 480.2v8.4M343.6 241v8.4M330.1 364.8v8.4M356.1 389.5v8.4M352.6 397.8v8.4M334.6 406v8.4M339.1 406v8.4M343.6 406v8.4M345.6 447.2v8.4M356.1 447.2v8.4M363.1 447.2v8.4M330.1 455.5v8.4M343.6 463.8v8.4M350.1 480.2v8.4M379.4 257.5v8.4M376.9 265.8v8.4M379.4 274v8.4M406.9 274v8.4M373.4 290.5v8.4M376.9 290.5v8.4M395.9 290.5v8.4M386.9 364.8v8.4M410.8 364.8v8.4M389.9 373v8.4M395.9 373v8.4M402.4 373v8.4M379.4 381.2v8.4M402.4 381.2v8.4M410.8 381.2v8.4M386.9 389.5v8.4M402.4 389.5v8.4M386.9 397.8v8.4M389.9 397.8v8.4M394.4 397.8v8.4M379.4 406v8.4M398.4 406v8.4M402.4 406v8.4M402.4 414.2v8.4M373.4 447.2v8.4M373.4 455.5v8.4M379.4 455.5v8.4M392.9 463.8v8.4M395.9 463.8v8.4M373.4 480.2v8.4M472.1 241v8.4M429.1 249.2v8.4M468.6 249.2v8.4M431.6 274v8.4M446.1 274v8.4M413.1 290.5v8.4M431.6 290.5v8.4M444.6 290.5v8.4M470.6 290.5v8.4M479.6 290.5v8.4M431.6 323.5v8.4M453.6 323.5v8.4M468.6 323.5v8.4M464.1 340v8.4M441.6 348.2v8.4M476.6 356.5v8.4M413.1 406v8.4M417.1 406v8.4M441.6 406v8.4M425.6 414.2v8.4M464.1 414.2v8.4M436.1 430.8v8.4M444.6 430.8v8.4M417.1 439v8.4M468.6 439v8.4M413.1 447.2v8.4M431.6 447.2v8.4M470.6 447.2v8.4M475.6 447.2v8.4M413.1 455.5v8.4M431.6 455.5v8.4M443.1 455.5v8.4M456.6 455.5v8.4M417.1 463.8v8.4M431.6 463.8v8.4M443.1 463.8v8.4M475.6 463.8v8.4M413.1 472v8.4M455.1 472v8.4M476.6 480.2v8.4M493.9 241v8.4M493.9 265.8v8.4M494.9 290.5v8.4M493.9 315.2v8.4M509.9 315.2v8.4M483.9 373v8.4M483.9 447.2v8.4M492.4 447.2v8.4M508.4 447.2v8.4M483.9 472v8.4M509.9 472v8.4M538.4 249.2v8.4M637.9 249.2v8.4M538.4 265.8v8.4M580.4 265.8v8.4M599.9 274v8.4M529.4 307v8.4M596.4 307v8.4M538.4 315.2v8.4M526.9 331.8v8.4M586.9 331.8v8.4M596.4 331.8v8.4M631.4 331.8v8.4M649.9 331.8v8.4M580.4 340v8.4M516.4 348.2v8.4M530.9 348.2v8.4M613.9 348.2v8.4M645.9 348.2v8.4M522.4 356.5v8.4M558.9 364.8v8.4M612.4 364.8v8.4M624.9 364.8v8.4M628.4 364.8v8.4M645.9 364.8v8.4M649.9 364.8v8.4M659.3 364.8v8.4M517.9 373v8.4M612.4 373v8.4M657.9 373v8.4M517.9 381.2v8.4M637.9 381.2v8.4M516.4 389.5v8.4M522.4 389.5v8.4M526.9 389.5v8.4M580.4 389.5v8.4M517.9 397.8v8.4M613.9 397.8v8.4M554.4 430.8v8.4M649.9 430.8v8.4M522.4 439v8.4M586.9 439v8.4M600.9 439v8.4M621.4 439v8.4"/>
<path stroke="#4c0055" stroke-width="2.1" d="M279.5 282.2v8.4M327.4 290.5v8.4M318.5 315.2v8.4M279.5 364.8v8.4M307.5 364.8v8.4M327.4 364.8v8.4M309.5 373v8.4M281.5 389.5v8.4M279.5 397.8v8.4M307.5 397.8v8.4M285 447.2v8.4M297 447.2v8.4M309.5 447.2v8.4M285 463.8v8.4M276 472v8.4M279.5 472v8.4M285 472v8.4M297 472v8.4M304.5 480.2v8.4M355.9 364.8v8.4M331.9 397.8v8.4M331.9 406v8.4M331.9 447.2v8.4M336.4 447.2v8.4M349.9 447.2v8.4M365.9 447.2v8.4M367.9 455.5v8.4M336.4 463.8v8.4M340.9 463.8v8.4M361.4 472v8.4M382.1 364.8v8.4M382.1 373v8.4M382.1 406v8.4M392.6 406v8.4M400.6 480.2v8.4M405.1 480.2v8.4M421.9 249.2v8.4M447.9 249.2v8.4M461.4 249.2v8.4M473.9 249.2v8.4M481.3 249.2v8.4M473.9 257.5v8.4M417.9 274v8.4M419.9 290.5v8.4M449.9 290.5v8.4M419.9 307v8.4M447.9 323.5v8.4M427.4 356.5v8.4M470.4 406v8.4M438.9 430.8v8.4M473.9 430.8v8.4M427.4 447.2v8.4M438.9 447.2v8.4M481.3 447.2v8.4M459.4 455.5v8.4M481.3 455.5v8.4M470.4 463.8v8.4M481.3 463.8v8.4M428.9 472v8.4M450.9 472v8.4M462.4 480.2v8.4M511.6 282.2v8.4M498.2 455.5v8.4M490.2 480.2v8.4M507.2 480.2v8.4M593.6 241v8.4M557.1 249.2v8.4M525.1 257.5v8.4M557.1 298.8v8.4M560.6 315.2v8.4M585.1 315.2v8.4M525.1 364.8v8.4M541.6 364.8v8.4M585.1 364.8v8.4M599.6 364.8v8.4M640.6 364.8v8.4M656.1 364.8v8.4M514.6 373v8.4M525.1 373v8.4M536.6 373v8.4M634.6 373v8.4M514.6 381.2v8.4M534.6 381.2v8.4M551.1 381.2v8.4M556.1 381.2v8.4M560.6 381.2v8.4M585.1 381.2v8.4M615.6 381.2v8.4M586.6 430.8v8.4M603.6 430.8v8.4M640.6 430.8v8.4M659 430.8v8.4M532.6 439v8.4M577.6 439v8.4M612.1 439v8.4"/>
<path stroke="#4c0055" stroke-width="2.6" d="M286.2 364.8v8.4M295.8 364.8v8.4M299.2 364.8v8.4M317.2 381.2v8.4M299.2 389.5v8.4M289.8 447.2v8.4M325.2 447.2v8.4M280.2 455.5v8.4M311.8 455.5v8.4M303.2 463.8v8.4M303.2 472v8.4M310.8 480.2v8.4M363.6 364.8v8.4M352.1 406v8.4M352.1 455.5v8.4M363.6 463.8v8.4M339.6 472v8.4M343.1 472v8.4M347.6 472v8.4M390.4 290.5v8.4M406.4 290.5v8.4M374.9 364.8v8.4M378.9 389.5v8.4M378.9 397.8v8.4M400.4 455.5v8.4M410.2 463.8v8.4M408.9 472v8.4M426.1 249.2v8.4M436.6 290.5v8.4M441.1 290.5v8.4M419.6 447.2v8.4M449.6 447.2v8.4M419.6 455.5v8.4M441.1 472v8.4M416.6 480.2v8.4M441.1 480.2v8.4M504.4 290.5v8.4M509.4 290.5v8.4M493.4 463.8v8.4M499.9 463.8v8.4M504.4 463.8v8.4M511.4 463.8v8.4M495.9 472v8.4M521.9 348.2v8.4M527.4 348.2v8.4M558.4 348.2v8.4M619.4 348.2v8.4M638.4 348.2v8.4M521.9 364.8v8.4M528.9 364.8v8.4M577.4 364.8v8.4M620.9 364.8v8.4M541.4 373v8.4M558.4 373v8.4M574.4 373v8.4M651.9 373v8.4M543.4 381.2v8.4M642.9 381.2v8.4M577.4 430.8v8.4M645.4 430.8v8.4M558.4 439v8.4M616.9 439v8.4M633.4 439v8.4"/>
<path stroke="#4c0055" stroke-width="3.1" d="M277.5 290.5v8.4M280.5 290.5v8.4M283.5 290.5v8.4M287.5 290.5v8.4M290.5 290.5v8.4M293.5 290.5v8.4M299.5 290.5v8.4M304.5 290.5v8.4M310 290.5v8.4M316 290.5v8.4M319 290.5v8.4M322 290.5v8.4M325 290.5v8.4M324.5 373v8.4M308 389.5v8.4M324.5 389.5v8.4M321 447.2v8.4M277.5 455.5v8.4M286.5 455.5v8.4M306 455.5v8.4M309 455.5v8.4M276.5 463.8v8.4M279.5 463.8v8.4M282.5 463.8v8.4M289 463.8v8.4M292 463.8v8.4M295 463.8v8.4M298 463.8v8.4M307 463.8v8.4M310 463.8v8.4M313 463.8v8.4M316 463.8v8.4M320 463.8v8.4M323 463.8v8.4M326 463.8v8.4M289 472v8.4M307 472v8.4M310 472v8.4M276.5 480.2v8.4M294.5 480.2v8.4M297.5 480.2v8.4M302 480.2v8.4M308 480.2v8.4M316 480.2v8.4M323.5 480.2v8.4M326.5 480.2v8.4M338.9 364.8v8.4M349.4 364.8v8.4M353.4 364.8v8.4M343.4 447.2v8.4M336.9 455.5v8.4M356.9 455.5v8.4M354.9 472v8.4M347.9 480.2v8.4M359.9 480.2v8.4M376.6 241v8.4M381.6 290.5v8.4M399.1 290.5v8.4M372.1 364.8v8.4M390.6 364.8v8.4M393.6 364.8v8.4M401.6 364.8v8.4M405.6 364.8v8.4M408.6 364.8v8.4M377.6 373v8.4M386.6 381.2v8.4M392.1 381.2v8.4M395.1 381.2v8.4M372.1 397.8v8.4M387.6 406v8.4M382.6 447.2v8.4M392.1 447.2v8.4M409.1 447.2v8.4M387.6 455.5v8.4M392.1 455.5v8.4M406.6 455.5v8.4M390.6 463.8v8.4M389.1 472v8.4M392.1 472v8.4M398.1 480.2v8.4M438.4 249.2v8.4M451.4 249.2v8.4M464.9 249.2v8.4M415.4 274v8.4M464.9 274v8.4M474.4 274v8.4M464.9 282.2v8.4M423.4 290.5v8.4M426.4 290.5v8.4M455.9 290.5v8.4M468.4 290.5v8.4M474.4 290.5v8.4M477.4 290.5v8.4M480.8 323.5v8.4M442.4 356.5v8.4M448.4 356.5v8.4M454.4 356.5v8.4M466.4 356.5v8.4M474.4 356.5v8.4M422.4 406v8.4M434.9 406v8.4M461.9 406v8.4M476.4 406v8.4M452.4 430.8v8.4M469.4 430.8v8.4M479.9 430.8v8.4M416.9 447.2v8.4M443.9 447.2v8.4M446.9 447.2v8.4M454.4 447.2v8.4M457.4 447.2v8.4M468.4 447.2v8.4M416.9 455.5v8.4M423.4 455.5v8.4M426.4 455.5v8.4M438.4 455.5v8.4M446.9 455.5v8.4M449.9 455.5v8.4M454.4 455.5v8.4M463.9 455.5v8.4M466.9 455.5v8.4M469.9 455.5v8.4M472.9 455.5v8.4M475.9 455.5v8.4M478.9 455.5v8.4M413.9 463.8v8.4M438.4 463.8v8.4M448.4 463.8v8.4M459.9 463.8v8.4M419.4 472v8.4M422.4 472v8.4M426.4 472v8.4M433.9 472v8.4M445.4 472v8.4M448.4 472v8.4M460.9 472v8.4M466.4 472v8.4M469.4 472v8.4M474.4 472v8.4M477.4 472v8.4M480.4 472v8.4M413.9 480.2v8.4M425.4 480.2v8.4M432.4 480.2v8.4M435.4 480.2v8.4M438.4 480.2v8.4M445.4 480.2v8.4M448.4 480.2v8.4M452.4 480.2v8.4M455.4 480.2v8.4M458.4 480.2v8.4M466.4 480.2v8.4M469.4 480.2v8.4M474.4 480.2v8.4M479.9 480.2v8.4M486.2 290.5v8.4M492.7 290.5v8.4M498.7 290.5v8.4M501.7 290.5v8.4M487.2 447.2v8.4M490.2 447.2v8.4M496.2 447.2v8.4M499.2 447.2v8.4M506.2 447.2v8.4M486.2 455.5v8.4M489.2 455.5v8.4M501.7 455.5v8.4M506.2 455.5v8.4M510.7 455.5v8.4M484.7 463.8v8.4M487.7 463.8v8.4M490.7 463.8v8.4M497.2 463.8v8.4M508.7 463.8v8.4M487.2 472v8.4M491.7 472v8.4M504.7 472v8.4M497.2 480.2v8.4M504.7 480.2v8.4M623.6 315.2v8.4M553.6 348.2v8.4M567.6 348.2v8.4M604.1 348.2v8.4M608.1 348.2v8.4M623.6 348.2v8.4M626.6 348.2v8.4M652.1 348.2v8.4M655.1 348.2v8.4M533.1 364.8v8.4M539.1 364.8v8.4M556.6 364.8v8.4M568.6 364.8v8.4M574.6 364.8v8.4M582.6 364.8v8.4M592.1 364.8v8.4M597.1 364.8v8.4M603.1 364.8v8.4M618.1 364.8v8.4M632.1 364.8v8.4M653.6 364.8v8.4M550.6 373v8.4M603.1 373v8.4M618.1 373v8.4M655.6 373v8.4M527.6 381.2v8.4M540.6 381.2v8.4M593.1 381.2v8.4M515.1 430.8v8.4M518.1 430.8v8.4M522.1 430.8v8.4M525.1 430.8v8.4M528.1 430.8v8.4M531.1 430.8v8.4M537.1 430.8v8.4M540.1 430.8v8.4M543.1 430.8v8.4M546.1 430.8v8.4M549.1 430.8v8.4M552.1 430.8v8.4M559.6 430.8v8.4M564.1 430.8v8.4M568.6 430.8v8.4M571.6 430.8v8.4M574.6 430.8v8.4M581.1 430.8v8.4M584.1 430.8v8.4M590.1 430.8v8.4M593.1 430.8v8.4M596.1 430.8v8.4M599.1 430.8v8.4M608.1 430.8v8.4M611.1 430.8v8.4M614.1 430.8v8.4M617.1 430.8v8.4M622.1 430.8v8.4M625.1 430.8v8.4M630.6 430.8v8.4M637.1 430.8v8.4M653.6 430.8v8.4M656.6 430.8v8.4M548.1 439v8.4M551.1 439v8.4M554.1 439v8.4M571.6 439v8.4M598.6 439v8.4M609.6 439v8.4M630.6 439v8.4M637.1 439v8.4"/>
<path stroke="#555500" stroke-width="0.6" d="M512.4 381.2v8.4M494.4 430.8v8.4M623.9 406v8.4"/>
<path stroke="#555500" stroke-width="1.1" d="M284.5 241v8.4M288 241v8.4M291.5 241v8.4M296.5 241v8.4M306 241v8.4M312.5 241v8.4M320 241v8.4M276.5 249.2v8.4M290.5 249.2v8.4M292.5 249.2v8.4M326 249.2v8.4M302.5 257.5v8.4M296.5 265.8v8.4M305 274v8.4M326 274v8.4M302.5 298.8v8.4M290.5 307v8.4M275.5 323.5v8.4M296.5 323.5v8.4M298.5 323.5v8.4M302.5 331.8v8.4M306 340v8.4M275.5 348.2v8.4M284.5 348.2v8.4M305 348.2v8.4M319 348.2v8.4M296.5 356.5v8.4M298.5 356.5v8.4M305 356.5v8.4M275.5 430.8v8.4M290.5 430.8v8.4M320 430.8v8.4M322.5 430.8v8.4M342.4 290.5v8.4M333.4 307v8.4M337.9 307v8.4M341.4 414.2v8.4M374.6 249.2v8.4M380.6 249.2v8.4M383.6 249.2v8.4M405.6 414.2v8.4M374.6 439v8.4M380.6 439v8.4M397.1 439v8.4M405.6 439v8.4M432.9 381.2v8.4M452.4 381.2v8.4M457.9 381.2v8.4M477.9 381.2v8.4M479.9 381.2v8.4M432.9 389.5v8.4M489.7 249.2v8.4M507.7 249.2v8.4M488.7 323.5v8.4M486.2 381.2v8.4M508.7 430.8v8.4M566.6 241v8.4M572.6 241v8.4M605.1 257.5v8.4M539.6 274v8.4M570.6 274v8.4M602.1 274v8.4M605.1 274v8.4M618.6 274v8.4M532.1 290.5v8.4M565.6 290.5v8.4M567.6 290.5v8.4M634.1 290.5v8.4M644.6 290.5v8.4M573.6 323.5v8.4M606.1 323.5v8.4M616.1 323.5v8.4M618.6 323.5v8.4M528.1 406v8.4M556.6 406v8.4M567.6 406v8.4M577.1 406v8.4M582.6 406v8.4M589.1 406v8.4M521.1 463.8v8.4M528.1 472v8.4M583.6 472v8.4M590.1 472v8.4M519.1 480.2v8.4M528.1 480.2v8.4M562.1 480.2v8.4M571.6 480.2v8.4M592.1 480.2v8.4M605.1 480.2v8.4"/>
<path stroke="#555500" stroke-width="1.6" d="M293.8 241v8.4M316.8 241v8.4M313.8 249.2v8.4M321.2 249.2v8.4M277.8 257.5v8.4M286.8 265.8v8.4M293.8 265.8v8.4M321.2 274v8.4M289.2 298.8v8.4M277.8 323.5v8.4M293.8 323.5v8.4M311.2 323.5v8.4M289.2 348.2v8.4M301.2 348.2v8.4M289.2 356.5v8.4M315.2 356.5v8.4M293.8 430.8v8.4M289.2 439v8.4M330.1 257.5v8.4M339.1 282.2v8.4M347.1 298.8v8.4M356.1 298.8v8.4M343.6 414.2v8.4M343.6 430.8v8.4M352.6 430.8v8.4M395.9 249.2v8.4M402.4 340v8.4M373.4 414.2v8.4M417.1 381.2v8.4M443.1 381.2v8.4M464.1 381.2v8.4M441.6 389.5v8.4M487.4 249.2v8.4M496.4 249.2v8.4M509.9 249.2v8.4M487.4 340v8.4M483.9 406v8.4M493.9 406v8.4M496.4 406v8.4M487.4 430.8v8.4M558.9 241v8.4M629.9 241v8.4M636.4 241v8.4M548.4 290.5v8.4M637.9 290.5v8.4M657.9 290.5v8.4M516.4 323.5v8.4M548.4 323.5v8.4M580.4 323.5v8.4M540.9 406v8.4M561.9 406v8.4M612.4 406v8.4M637.9 406v8.4M643.4 406v8.4M645.9 406v8.4M657.9 406v8.4M538.4 472v8.4M617.4 472v8.4M637.9 472v8.4M530.9 480.2v8.4M538.4 480.2v8.4M624.9 480.2v8.4M649.9 480.2v8.4"/>
<path stroke="#555500" stroke-width="2.1" d="M309.5 249.2v8.4M327.4 257.5v8.4M279.5 265.8v8.4M327.4 348.2v8.4M285 356.5v8.4M309.5 439v8.4M327.4 439v8.4M345.4 290.5v8.4M349.9 290.5v8.4M331.9 298.8v8.4M367.9 323.5v8.4M331.9 414.2v8.4M367.9 414.2v8.4M392.6 439v8.4M470.4 348.2v8.4M489.2 381.2v8.4M514.6 274v8.4M578.6 290.5v8.4M610.6 290.5v8.4M623.1 290.5v8.4M534.6 323.5v8.4M655.1 323.5v8.4M520.6 406v8.4M525.1 406v8.4M554.1 406v8.4M601.6 406v8.4M640.6 406v8.4M585.1 455.5v8.4M525.1 480.2v8.4M585.1 480.2v8.4"/>
<path stroke="#555500" stroke-width="2.6" d="M299.2 257.5v8.4M288.8 323.5v8.4M303.2 430.8v8.4M363.6 430.8v8.4M368.2 430.8v8.4M390.4 249.2v8.4M402.9 348.2v8.4M390.4 414.2v8.4M484.4 249.2v8.4M649.4 406v8.4"/>
<path stroke="#555500" stroke-width="3.1" d="M280 348.2v8.4M356.9 414.2v8.4M510.7 381.2v8.4M492.7 430.8v8.4M603.1 290.5v8.4M632.1 290.5v8.4M559.6 406v8.4M608.1 406v8.4M622.1 406v8.4M630.6 472v8.4M517.1 480.2v8.4"/>
<path stroke="#6a0074" stroke-width="0.6" d="M281.2 447.2v8.4M284.8 455.5v8.4M283.8 472v8.4M394.9 290.5v8.4M404.9 455.5v8.4M373.9 463.8v8.4M382.9 472v8.4M387.4 472v8.4M448.6 290.5v8.4M454.1 290.5v8.4M448.6 406v8.4M474.6 406v8.4M466.6 447.2v8.4M474.6 447.2v8.4M474.6 463.8v8.4M504.4 447.2v8.4M512.4 447.2v8.4M611.4 364.8v8.4"/>
<path stroke="#6a0074" stroke-width="1.1" d="M281 282.2v8.4M281 364.8v8.4M320 364.8v8.4M282 381.2v8.4M285.5 381.2v8.4M292.5 381.2v8.4M298.5 381.2v8.4M326 381.2v8.4M305 406v8.4M319 406v8.4M301.5 447.2v8.4M317 447.2v8.4M319 447.2v8.4M323.5 447.2v8.4M275.5 455.5v8.4M322.5 455.5v8.4M305 463.8v8.4M318 463.8v8.4M292.5 472v8.4M298.5 472v8.4M305 472v8.4M285.5 480.2v8.4M288 480.2v8.4M290.5 480.2v8.4M292.5 480.2v8.4M348.4 406v8.4M333.4 447.2v8.4M364.4 447.2v8.4M333.4 455.5v8.4M333.4 472v8.4M337.9 480.2v8.4M342.4 480.2v8.4M384.6 290.5v8.4M397.1 290.5v8.4M404.6 290.5v8.4M380.6 364.8v8.4M385.6 364.8v8.4M403.6 381.2v8.4M375.6 406v8.4M378.1 406v8.4M397.1 406v8.4M405.6 406v8.4M380.6 447.2v8.4M384.6 447.2v8.4M374.6 480.2v8.4M423.4 249.2v8.4M479.9 249.2v8.4M421.4 274v8.4M462.9 274v8.4M421.4 290.5v8.4M432.9 290.5v8.4M434.9 290.5v8.4M460.9 290.5v8.4M476.9 348.2v8.4M452.4 356.5v8.4M440.4 406v8.4M459.9 406v8.4M481.8 406v8.4M430.4 430.8v8.4M421.4 447.2v8.4M423.4 447.2v8.4M459.9 447.2v8.4M461.9 447.2v8.4M479.9 447.2v8.4M421.4 455.5v8.4M432.9 455.5v8.4M452.4 455.5v8.4M457.9 455.5v8.4M415.9 463.8v8.4M427.9 463.8v8.4M430.4 463.8v8.4M432.9 463.8v8.4M476.9 463.8v8.4M430.4 472v8.4M452.4 472v8.4M421.4 480.2v8.4M423.4 480.2v8.4M450.4 480.2v8.4M460.9 480.2v8.4M477.9 480.2v8.4M485.2 447.2v8.4M499.7 455.5v8.4M508.7 455.5v8.4M495.2 463.8v8.4M485.2 472v8.4M489.7 472v8.4M499.7 480.2v8.4M519.1 249.2v8.4M604.1 249.2v8.4M642.1 249.2v8.4M603.1 265.8v8.4M577.1 348.2v8.4M590.1 348.2v8.4M634.1 348.2v8.4M519.1 364.8v8.4M549.6 364.8v8.4M590.1 364.8v8.4M595.1 364.8v8.4M616.1 364.8v8.4M642.1 364.8v8.4M520.1 373v8.4M532.1 373v8.4M576.1 373v8.4M588.1 373v8.4M520.1 381.2v8.4M552.6 381.2v8.4M571.6 381.2v8.4M576.1 381.2v8.4M604.1 381.2v8.4M634.1 381.2v8.4M602.1 430.8v8.4M642.1 430.8v8.4M519.1 439v8.4M539.6 439v8.4M556.6 439v8.4M567.6 439v8.4M569.6 439v8.4M603.1 439v8.4"/>
<path stroke="#6a0074" stroke-width="1.6" d="M301.2 282.2v8.4M316.8 364.8v8.4M293.8 373v8.4M283.2 447.2v8.4M303.8 447.2v8.4M289.2 455.5v8.4M301.2 455.5v8.4M303.8 455.5v8.4M319.8 455.5v8.4M324.8 455.5v8.4M286.8 463.8v8.4M301.2 463.8v8.4M277.8 472v8.4M286.8 472v8.4M295.2 472v8.4M301.2 472v8.4M313.8 472v8.4M299.8 480.2v8.4M321.2 480.2v8.4M334.6 364.8v8.4M339.1 447.2v8.4M352.6 447.2v8.4M352.6 463.8v8.4M357.6 463.8v8.4M352.6 480.2v8.4M379.4 241v8.4M402.4 290.5v8.4M408.4 290.5v8.4M410.8 290.5v8.4M398.4 364.8v8.4M386.9 373v8.4M408.4 373v8.4M410.8 373v8.4M373.4 381.2v8.4M398.4 381.2v8.4M394.4 406v8.4M389.9 447.2v8.4M377.9 455.5v8.4M389.9 455.5v8.4M394.4 463.8v8.4M398.4 472v8.4M406.9 472v8.4M410.8 472v8.4M410.8 480.2v8.4M443.1 249.2v8.4M453.6 249.2v8.4M472.1 249.2v8.4M414.6 290.5v8.4M443.1 290.5v8.4M466.1 290.5v8.4M472.1 290.5v8.4M429.1 323.5v8.4M441.6 323.5v8.4M414.6 356.5v8.4M425.6 356.5v8.4M429.1 356.5v8.4M464.1 356.5v8.4M425.6 406v8.4M455.1 439v8.4M414.6 447.2v8.4M425.6 447.2v8.4M414.6 455.5v8.4M441.6 455.5v8.4M444.6 455.5v8.4M425.6 463.8v8.4M468.6 463.8v8.4M456.6 472v8.4M464.1 472v8.4M472.1 472v8.4M443.1 480.2v8.4M464.1 480.2v8.4M472.1 480.2v8.4M496.4 290.5v8.4M493.9 447.2v8.4M483.9 455.5v8.4M503.9 455.5v8.4M493.9 472v8.4M494.9 480.2v8.4M511.9 480.2v8.4M586.9 241v8.4M574.9 315.2v8.4M538.4 348.2v8.4M548.4 348.2v8.4M574.9 348.2v8.4M580.4 348.2v8.4M596.4 348.2v8.4M631.4 348.2v8.4M649.9 348.2v8.4M657.9 348.2v8.4M516.4 356.5v8.4M516.4 364.8v8.4M526.9 364.8v8.4M657.9 364.8v8.4M599.9 373v8.4M580.4 381.2v8.4M631.4 381.2v8.4M651.4 430.8v8.4M530.9 439v8.4M574.9 439v8.4M580.4 439v8.4M651.4 439v8.4M657.9 439v8.4"/>
<path stroke="#6a0074" stroke-width="2.1" d="M295 447.2v8.4M327.4 447.2v8.4M295 455.5v8.4M298 455.5v8.4M327.4 455.5v8.4M318.5 480.2v8.4M336.4 241v8.4M359.4 472v8.4M371.6 290.5v8.4M375.1 290.5v8.4M371.6 447.2v8.4M406.6 447.2v8.4M371.6 455.5v8.4M388.1 463.8v8.4M404.1 472v8.4M371.6 480.2v8.4M395.6 480.2v8.4M447.9 274v8.4M438.9 290.5v8.4M458.4 290.5v8.4M481.3 290.5v8.4M451.9 323.5v8.4M465.9 323.5v8.4M438.9 414.2v8.4M447.9 430.8v8.4M433.4 447.2v8.4M451.9 447.2v8.4M477.4 447.2v8.4M461.4 455.5v8.4M422.9 463.8v8.4M479.4 463.8v8.4M498.2 472v8.4M508.2 472v8.4M511.6 472v8.4M502.2 480.2v8.4M536.6 249.2v8.4M554.1 249.2v8.4M560.6 348.2v8.4M593.6 348.2v8.4M536.6 364.8v8.4M560.6 364.8v8.4M623.1 381.2v8.4M525.1 439v8.4M593.6 439v8.4M623.1 439v8.4"/>
<path stroke="#6a0074" stroke-width="2.6" d="M287.2 447.2v8.4M327.2 472v8.4M282.8 480.2v8.4M313.2 480.2v8.4M339.6 455.5v8.4M363.6 455.5v8.4M334.1 463.8v8.4M347.6 463.8v8.4M378.9 290.5v8.4M397.9 455.5v8.4M410.2 455.5v8.4M397.9 463.8v8.4M389.4 480.2v8.4M402.9 480.2v8.4M429.6 274v8.4M417.6 290.5v8.4M429.6 290.5v8.4M415.1 406v8.4M457.1 406v8.4M441.1 430.8v8.4M429.6 447.2v8.4M436.6 447.2v8.4M441.1 447.2v8.4M429.6 455.5v8.4M435.6 455.5v8.4M435.6 463.8v8.4M441.1 463.8v8.4M457.1 463.8v8.4M465.6 463.8v8.4M429.6 480.2v8.4M484.4 480.2v8.4M487.9 480.2v8.4M642.9 348.2v8.4M587.4 364.8v8.4M587.4 381.2v8.4M642.9 439v8.4"/>
<path stroke="#6a0074" stroke-width="3.1" d="M280 381.2v8.4M276.5 447.2v8.4M279.5 447.2v8.4M292.5 447.2v8.4M299.5 447.2v8.4M307 447.2v8.4M312 447.2v8.4M315 447.2v8.4M283 455.5v8.4M292.5 455.5v8.4M314.5 455.5v8.4M317.5 455.5v8.4M282 472v8.4M317.5 472v8.4M320.5 472v8.4M324.5 472v8.4M280 480.2v8.4M332.4 480.2v8.4M387.6 290.5v8.4M393.1 290.5v8.4M375.6 447.2v8.4M378.6 447.2v8.4M387.6 447.2v8.4M395.1 447.2v8.4M398.1 447.2v8.4M401.1 447.2v8.4M404.1 447.2v8.4M375.6 455.5v8.4M381.6 455.5v8.4M384.6 455.5v8.4M395.1 455.5v8.4M403.1 455.5v8.4M372.1 463.8v8.4M376.6 463.8v8.4M379.6 463.8v8.4M382.6 463.8v8.4M385.6 463.8v8.4M401.6 463.8v8.4M404.6 463.8v8.4M407.6 463.8v8.4M372.1 472v8.4M375.1 472v8.4M378.1 472v8.4M381.1 472v8.4M385.6 472v8.4M395.1 472v8.4M401.6 472v8.4M377.6 480.2v8.4M380.6 480.2v8.4M383.6 480.2v8.4M386.6 480.2v8.4M393.1 480.2v8.4M407.6 480.2v8.4M446.9 290.5v8.4M452.4 290.5v8.4M463.9 290.5v8.4M419.4 406v8.4M428.9 406v8.4M431.9 406v8.4M438.4 406v8.4M443.9 406v8.4M446.9 406v8.4M451.4 406v8.4M454.4 406v8.4M464.9 406v8.4M467.9 406v8.4M472.9 406v8.4M479.9 406v8.4M464.9 447.2v8.4M472.9 447.2v8.4M420.4 463.8v8.4M445.4 463.8v8.4M451.4 463.8v8.4M454.4 463.8v8.4M462.9 463.8v8.4M472.9 463.8v8.4M419.4 480.2v8.4M502.7 447.2v8.4M510.7 447.2v8.4M492.7 455.5v8.4M495.7 455.5v8.4M501.7 472v8.4M492.7 480.2v8.4M509.7 480.2v8.4M609.6 364.8v8.4"/>
<path stroke="#6a6a00" stroke-width="0.6" d="M319.2 274v8.4M311.8 430.8v8.4M538.9 290.5v8.4M598.9 290.5v8.4M561.4 480.2v8.4"/>
<path stroke="#6a6a00" stroke-width="1.1" d="M298.5 241v8.4M322.5 241v8.4M320 249.2v8.4M285.5 257.5v8.4M285.5 265.8v8.4M297.5 265.8v8.4M281 274v8.4M288 274v8.4M276.5 323.5v8.4M291.5 323.5v8.4M306 323.5v8.4M322.5 323.5v8.4M291.5 356.5v8.4M297.5 356.5v8.4M351.4 290.5v8.4M351.4 298.8v8.4M364.4 298.8v8.4M351.4 430.8v8.4M409.6 249.2v8.4M397.1 323.5v8.4M403.6 323.5v8.4M384.6 348.2v8.4M397.1 348.2v8.4M409.6 348.2v8.4M384.6 439v8.4M404.6 439v8.4M433.9 381.2v8.4M440.4 381.2v8.4M427.9 389.5v8.4M452.4 389.5v8.4M486.2 249.2v8.4M500.7 249.2v8.4M508.7 249.2v8.4M486.2 340v8.4M490.7 381.2v8.4M508.7 406v8.4M490.7 430.8v8.4M591.1 241v8.4M605.1 241v8.4M566.6 274v8.4M542.1 290.5v8.4M547.1 290.5v8.4M556.6 290.5v8.4M562.1 290.5v8.4M566.6 290.5v8.4M590.1 290.5v8.4M652.6 290.5v8.4M639.1 323.5v8.4M656.6 323.5v8.4M523.6 406v8.4M555.6 406v8.4M563.1 406v8.4M579.1 406v8.4M656.6 406v8.4M542.1 447.2v8.4M567.6 447.2v8.4M521.1 455.5v8.4M565.6 455.5v8.4M571.6 455.5v8.4M533.1 463.8v8.4M545.1 463.8v8.4M571.6 463.8v8.4M602.1 463.8v8.4M616.1 463.8v8.4M533.1 472v8.4M523.6 480.2v8.4M568.6 480.2v8.4M573.6 480.2v8.4M577.1 480.2v8.4M582.6 480.2v8.4M616.1 480.2v8.4M642.1 480.2v8.4"/>
<path stroke="#6a6a00" stroke-width="1.6" d="M289.2 241v8.4M277.8 249.2v8.4M289.2 249.2v8.4M293.8 249.2v8.4M321.2 257.5v8.4M301.2 265.8v8.4M321.2 265.8v8.4M324.8 265.8v8.4M283.2 274v8.4M303.8 274v8.4M311.2 274v8.4M321.2 348.2v8.4M293.8 356.5v8.4M286.8 439v8.4M339.1 290.5v8.4M334.6 307v8.4M356.1 307v8.4M363.1 307v8.4M330.1 414.2v8.4M352.6 414.2v8.4M363.1 414.2v8.4M347.1 430.8v8.4M373.4 323.5v8.4M394.4 331.8v8.4M406.9 340v8.4M373.4 348.2v8.4M408.4 356.5v8.4M386.9 414.2v8.4M388.4 439v8.4M394.4 439v8.4M398.4 439v8.4M410.8 439v8.4M429.1 381.2v8.4M431.6 381.2v8.4M453.6 381.2v8.4M472.1 381.2v8.4M431.6 389.5v8.4M456.6 389.5v8.4M496.4 340v8.4M509.9 340v8.4M493.9 348.2v8.4M503.9 364.8v8.4M506.4 381.2v8.4M496.4 430.8v8.4M509.9 430.8v8.4M496.4 439v8.4M599.9 241v8.4M526.9 290.5v8.4M529.4 290.5v8.4M587.9 290.5v8.4M608.9 290.5v8.4M629.9 290.5v8.4M548.4 406v8.4M599.9 406v8.4M624.9 406v8.4M632.9 406v8.4M647.4 406v8.4M659.3 406v8.4M621.4 455.5v8.4M651.4 455.5v8.4M522.4 463.8v8.4M621.4 463.8v8.4M631.4 463.8v8.4M651.4 463.8v8.4M522.4 472v8.4M580.4 472v8.4M599.9 472v8.4M643.4 472v8.4M649.9 472v8.4M526.9 480.2v8.4M529.4 480.2v8.4M564.4 480.2v8.4M586.9 480.2v8.4M607.4 480.2v8.4M651.4 480.2v8.4"/>
<path stroke="#6a6a00" stroke-width="2.1" d="M307.5 241v8.4M327.4 241v8.4M327.4 265.8v8.4M327.4 307v8.4M309.5 323.5v8.4M309.5 356.5v8.4M305.5 430.8v8.4M327.4 430.8v8.4M359.4 257.5v8.4M361.4 290.5v8.4M359.4 298.8v8.4M341.9 307v8.4M359.4 381.2v8.4M349.9 414.2v8.4M365.9 414.2v8.4M382.1 249.2v8.4M392.6 414.2v8.4M422.9 381.2v8.4M447.9 381.2v8.4M492.2 249.2v8.4M502.2 298.8v8.4M498.2 381.2v8.4M498.2 406v8.4M502.2 406v8.4M536.6 241v8.4M605.6 290.5v8.4M626.6 290.5v8.4M626.6 323.5v8.4M543.6 406v8.4M573.1 406v8.4M594.6 406v8.4M605.6 406v8.4M610.6 447.2v8.4M519.6 463.8v8.4M576.6 463.8v8.4M585.1 463.8v8.4M525.1 472v8.4M543.6 480.2v8.4M546.6 480.2v8.4M554.1 480.2v8.4M601.6 480.2v8.4M655.1 480.2v8.4"/>
<path stroke="#6a6a00" stroke-width="2.6" d="M304.2 249.2v8.4M289.8 265.8v8.4M317.2 265.8v8.4M303.2 356.5v8.4M321.8 356.5v8.4M398.9 249.2v8.4M378.9 348.2v8.4M476.1 381.2v8.4M505.9 249.2v8.4M522.9 290.5v8.4M574.4 290.5v8.4M580.9 290.5v8.4M614.4 406v8.4M633.4 480.2v8.4"/>
<path stroke="#6a6a00" stroke-width="3.1" d="M300.5 249.2v8.4M314.5 265.8v8.4M294.5 274v8.4M317.5 274v8.4M310 430.8v8.4M407.6 439v8.4M438.4 389.5v8.4M537.1 290.5v8.4M554.6 290.5v8.4M585.6 290.5v8.4M597.1 290.5v8.4M646.6 290.5v8.4M655.6 290.5v8.4M584.6 406v8.4M592.1 406v8.4M629.1 406v8.4M594.1 447.2v8.4M534.1 480.2v8.4M559.6 480.2v8.4M613.1 480.2v8.4"/>
<path stroke="#808000" stroke-width="0.6" d="M284.8 265.8v8.4M380.9 323.5v8.4M580.9 463.8v8.4M628.9 480.2v8.4"/>
<path stroke="#808000" stroke-width="1.1" d="M275.5 241v8.4M305 241v8.4M285.5 249.2v8.4M288 249.2v8.4M291.5 249.2v8.4M298.5 265.8v8.4M320 265.8v8.4M322.5 265.8v8.4M282 274v8.4M291.5 274v8.4M301.5 274v8.4M312.5 274v8.4M323.5 274v8.4M312.5 323.5v8.4M288 356.5v8.4M306 356.5v8.4M284.5 430.8v8.4M306 439v8.4M337.9 298.8v8.4M348.4 307v8.4M351.4 323.5v8.4M351.4 414.2v8.4M364.4 414.2v8.4M333.4 430.8v8.4M342.4 430.8v8.4M348.4 430.8v8.4M375.6 323.5v8.4M405.6 323.5v8.4M397.1 331.8v8.4M375.6 340v8.4M385.6 340v8.4M374.6 348.2v8.4M404.6 348.2v8.4M378.1 356.5v8.4M399.6 439v8.4M409.6 439v8.4M450.4 373v8.4M426.9 381.2v8.4M459.9 381.2v8.4M462.9 381.2v8.4M421.4 389.5v8.4M423.4 389.5v8.4M433.9 389.5v8.4M457.9 389.5v8.4M474.4 389.5v8.4M476.9 389.5v8.4M490.7 249.2v8.4M490.7 406v8.4M488.7 430.8v8.4M582.6 241v8.4M656.6 241v8.4M572.6 274v8.4M552.6 290.5v8.4M568.6 290.5v8.4M583.6 290.5v8.4M601.1 290.5v8.4M653.6 290.5v8.4M539.6 406v8.4M549.6 406v8.4M566.6 406v8.4M568.6 406v8.4M570.6 406v8.4M581.6 406v8.4M604.1 406v8.4M635.1 406v8.4M639.1 406v8.4M519.1 447.2v8.4M555.6 447.2v8.4M572.6 447.2v8.4M577.1 447.2v8.4M602.1 447.2v8.4M634.1 447.2v8.4M642.1 447.2v8.4M519.1 455.5v8.4M555.6 455.5v8.4M562.1 455.5v8.4M579.1 455.5v8.4M602.1 455.5v8.4M634.1 455.5v8.4M652.6 455.5v8.4M537.1 463.8v8.4M547.1 463.8v8.4M556.6 463.8v8.4M563.1 463.8v8.4M568.6 463.8v8.4M590.1 463.8v8.4M604.1 463.8v8.4M615.1 463.8v8.4M642.1 463.8v8.4M532.1 472v8.4M537.1 472v8.4M539.6 472v8.4M547.1 472v8.4M563.1 472v8.4M571.6 472v8.4M577.1 472v8.4M582.6 472v8.4M591.1 472v8.4M604.1 472v8.4M606.1 472v8.4M618.6 472v8.4M634.1 472v8.4M532.1 480.2v8.4M545.1 480.2v8.4M588.1 480.2v8.4M648.6 480.2v8.4M652.6 480.2v8.4"/>
<path stroke="#808000" stroke-width="1.6" d="M283.2 241v8.4M286.8 241v8.4M295.2 249.2v8.4M303.8 265.8v8.4M277.8 274v8.4M286.8 274v8.4M315.2 274v8.4M334.6 282.2v8.4M343.6 282.2v8.4M356.1 282.2v8.4M330.1 298.8v8.4M352.6 298.8v8.4M363.1 298.8v8.4M343.6 307v8.4M352.6 307v8.4M386.9 323.5v8.4M389.9 323.5v8.4M395.9 323.5v8.4M400.9 323.5v8.4M394.4 340v8.4M386.9 348.2v8.4M394.4 348.2v8.4M400.9 348.2v8.4M406.9 348.2v8.4M410.8 348.2v8.4M373.4 439v8.4M414.6 373v8.4M417.1 373v8.4M464.1 373v8.4M414.6 389.5v8.4M417.1 389.5v8.4M444.6 389.5v8.4M503.9 249.2v8.4M483.9 340v8.4M496.4 348.2v8.4M506.4 348.2v8.4M506.4 406v8.4M509.9 406v8.4M483.9 430.8v8.4M506.4 430.8v8.4M483.9 439v8.4M487.4 439v8.4M503.9 439v8.4M506.4 439v8.4M530.9 290.5v8.4M607.4 290.5v8.4M613.9 290.5v8.4M621.4 290.5v8.4M624.9 290.5v8.4M617.4 406v8.4M530.9 447.2v8.4M538.4 447.2v8.4M558.9 447.2v8.4M574.9 447.2v8.4M612.4 447.2v8.4M631.4 447.2v8.4M649.9 447.2v8.4M522.4 455.5v8.4M631.4 455.5v8.4M647.4 455.5v8.4M649.9 455.5v8.4M516.4 463.8v8.4M526.9 463.8v8.4M530.9 463.8v8.4M558.9 463.8v8.4M586.9 463.8v8.4M608.9 463.8v8.4M612.4 463.8v8.4M636.4 463.8v8.4M649.9 463.8v8.4M517.9 472v8.4M526.9 472v8.4M574.9 472v8.4M586.9 472v8.4M624.9 472v8.4M645.9 472v8.4M651.4 472v8.4M522.4 480.2v8.4M574.9 480.2v8.4M596.4 480.2v8.4M599.9 480.2v8.4M619.9 480.2v8.4M643.4 480.2v8.4"/>
<path stroke="#808000" stroke-width="2.1" d="M298 249.2v8.4M318.5 249.2v8.4M292 265.8v8.4M309.5 265.8v8.4M307.5 274v8.4M307.5 323.5v8.4M327.4 356.5v8.4M331.9 282.2v8.4M359.4 282.2v8.4M365.9 282.2v8.4M331.9 290.5v8.4M354.4 290.5v8.4M345.4 298.8v8.4M365.9 298.8v8.4M336.4 307v8.4M365.9 307v8.4M345.4 414.2v8.4M354.4 414.2v8.4M359.4 430.8v8.4M371.6 348.2v8.4M473.9 381.2v8.4M489.2 348.2v8.4M511.6 348.2v8.4M502.2 381.2v8.4M502.2 430.8v8.4M498.2 439v8.4M534.6 290.5v8.4M543.6 290.5v8.4M576.6 290.5v8.4M593.6 290.5v8.4M598.1 323.5v8.4M514.6 406v8.4M546.6 406v8.4M598.1 406v8.4M655.1 406v8.4M655.1 447.2v8.4M640.6 455.5v8.4M543.6 463.8v8.4M551.1 463.8v8.4M554.1 463.8v8.4M593.6 463.8v8.4M598.1 463.8v8.4M623.1 463.8v8.4M629.6 463.8v8.4M655.1 463.8v8.4M520.6 472v8.4M560.6 472v8.4M593.6 472v8.4M640.6 472v8.4M655.1 472v8.4M536.6 480.2v8.4M623.1 480.2v8.4"/>
<path stroke="#808000" stroke-width="2.6" d="M311.8 249.2v8.4M324.2 249.2v8.4M339.6 414.2v8.4M436.6 381.2v8.4M468.1 381.2v8.4M558.4 290.5v8.4M563.9 290.5v8.4M616.9 290.5v8.4M635.9 290.5v8.4M531.4 406v8.4M548.9 455.5v8.4M540.4 463.8v8.4M645.4 463.8v8.4M540.4 480.2v8.4M579.9 480.2v8.4"/>
<path stroke="#808000" stroke-width="3.1" d="M283 265.8v8.4M299.5 274v8.4M349.4 282.2v8.4M379.1 323.5v8.4M450.4 389.5v8.4M461.9 389.5v8.4M469.4 389.5v8.4M472.4 389.5v8.4M550.6 290.5v8.4M524.6 463.8v8.4M535.1 463.8v8.4M579.1 463.8v8.4M627.1 463.8v8.4M530.1 472v8.4M535.1 472v8.4M550.6 472v8.4M556.6 472v8.4M613.1 472v8.4M550.6 480.2v8.4M594.1 480.2v8.4M627.1 480.2v8.4M640.1 480.2v8.4M646.6 480.2v8.4M658.5 480.2v8.4"/>
<path stroke="#8b0097" stroke-width="0.6" d="M369.2 463.8v8.4"/>
<path stroke="#8b0097" stroke-width="1.1" d="M318 447.2v8.4M337.9 472v8.4M383.6 406v8.4M375.6 480.2v8.4M432.9 430.8v8.4M467.4 430.8v8.4M418.4 463.8v8.4M603.1 249.2v8.4M567.6 373v8.4M616.1 373v8.4M590.1 439v8.4"/>
<path stroke="#8b0097" stroke-width="1.6" d="M347.1 406v8.4M334.6 455.5v8.4M343.6 455.5v8.4M410.8 406v8.4M464.1 348.2v8.4M429.1 463.8v8.4M649.9 373v8.4M649.9 381.2v8.4"/>
<path stroke="#8b0097" stroke-width="2.1" d="M336.4 406v8.4M365.9 472v8.4"/>
<path stroke="#959500" stroke-width="0.6" d="M355.1 282.2v8.4M363.6 282.2v8.4M380.9 331.8v8.4M373.9 340v8.4M522.9 447.2v8.4M565.9 447.2v8.4M580.9 447.2v8.4M623.9 447.2v8.4M648.9 447.2v8.4M616.4 455.5v8.4M575.4 463.8v8.4M516.9 472v8.4"/>
<path stroke="#959500" stroke-width="1.1" d="M284.5 249.2v8.4M296.5 249.2v8.4M302.5 249.2v8.4M322.5 249.2v8.4M275.5 265.8v8.4M288 265.8v8.4M302.5 265.8v8.4M305 265.8v8.4M323.5 265.8v8.4M326 265.8v8.4M275.5 274v8.4M290.5 274v8.4M292.5 274v8.4M296.5 274v8.4M322.5 274v8.4M291.5 348.2v8.4M318 356.5v8.4M337.9 282.2v8.4M333.4 298.8v8.4M361.9 307v8.4M341.4 430.8v8.4M348.4 439v8.4M385.6 323.5v8.4M404.6 323.5v8.4M375.6 331.8v8.4M403.6 331.8v8.4M384.6 340v8.4M380.6 348.2v8.4M385.6 348.2v8.4M405.6 348.2v8.4M383.6 356.5v8.4M385.6 356.5v8.4M404.6 356.5v8.4M378.1 430.8v8.4M403.6 430.8v8.4M422.4 373v8.4M432.9 373v8.4M434.9 373v8.4M449.4 373v8.4M452.4 373v8.4M467.4 373v8.4M479.9 373v8.4M458.9 381.2v8.4M422.4 389.5v8.4M426.9 389.5v8.4M459.9 389.5v8.4M490.7 348.2v8.4M508.7 381.2v8.4M485.2 406v8.4M495.2 406v8.4M499.7 406v8.4M507.7 406v8.4M495.2 430.8v8.4M502.7 439v8.4M653.6 241v8.4M545.1 290.5v8.4M589.1 290.5v8.4M591.1 290.5v8.4M648.6 290.5v8.4M653.6 406v8.4M557.6 447.2v8.4M569.6 447.2v8.4M571.6 447.2v8.4M573.6 447.2v8.4M576.1 447.2v8.4M582.6 447.2v8.4M601.1 447.2v8.4M609.1 447.2v8.4M635.1 447.2v8.4M653.6 447.2v8.4M520.1 455.5v8.4M529.6 455.5v8.4M533.1 455.5v8.4M542.1 455.5v8.4M545.1 455.5v8.4M547.1 455.5v8.4M556.6 455.5v8.4M567.6 455.5v8.4M604.1 455.5v8.4M639.1 455.5v8.4M653.6 455.5v8.4M532.1 463.8v8.4M542.1 463.8v8.4M549.6 463.8v8.4M552.6 463.8v8.4M557.6 463.8v8.4M562.1 463.8v8.4M569.6 463.8v8.4M588.1 463.8v8.4M591.1 463.8v8.4M603.1 463.8v8.4M620.1 463.8v8.4M635.1 463.8v8.4M648.6 463.8v8.4M653.6 463.8v8.4M656.6 463.8v8.4M519.1 472v8.4M523.6 472v8.4M542.1 472v8.4M546.1 472v8.4M552.6 472v8.4M562.1 472v8.4M569.6 472v8.4M573.6 472v8.4M576.1 472v8.4M581.6 472v8.4M592.1 472v8.4M595.1 472v8.4M602.1 472v8.4M642.1 472v8.4M653.6 472v8.4M521.1 480.2v8.4M556.6 480.2v8.4M563.1 480.2v8.4M565.6 480.2v8.4M567.6 480.2v8.4M569.6 480.2v8.4M572.6 480.2v8.4M603.1 480.2v8.4M615.1 480.2v8.4M644.6 480.2v8.4"/>
<path stroke="#959500" stroke-width="1.6" d="M313.8 241v8.4M295.2 265.8v8.4M299.8 265.8v8.4M313.8 274v8.4M330.1 282.2v8.4M356.1 290.5v8.4M339.1 307v8.4M339.1 430.8v8.4M352.6 439v8.4M400.9 249.2v8.4M376.9 323.5v8.4M388.4 323.5v8.4M394.4 323.5v8.4M402.4 323.5v8.4M406.9 323.5v8.4M410.8 331.8v8.4M388.4 340v8.4M398.4 340v8.4M400.9 340v8.4M410.8 340v8.4M398.4 348.2v8.4M408.4 348.2v8.4M376.9 356.5v8.4M379.4 356.5v8.4M394.4 356.5v8.4M398.4 356.5v8.4M394.4 430.8v8.4M444.6 373v8.4M455.1 373v8.4M441.6 381.2v8.4M444.6 381.2v8.4M443.1 389.5v8.4M453.6 389.5v8.4M509.9 348.2v8.4M503.9 430.8v8.4M511.9 439v8.4M516.4 290.5v8.4M612.4 290.5v8.4M643.4 290.5v8.4M651.4 290.5v8.4M659.3 290.5v8.4M624.9 323.5v8.4M516.4 447.2v8.4M548.4 447.2v8.4M586.9 447.2v8.4M613.9 447.2v8.4M651.4 447.2v8.4M659.3 447.2v8.4M564.4 455.5v8.4M577.9 455.5v8.4M580.4 455.5v8.4M586.9 455.5v8.4M619.9 455.5v8.4M632.9 455.5v8.4M529.4 463.8v8.4M596.4 463.8v8.4M599.9 463.8v8.4M624.9 463.8v8.4M637.9 463.8v8.4M659.3 463.8v8.4M548.4 472v8.4M564.4 472v8.4M608.9 472v8.4M619.9 472v8.4M628.4 472v8.4M632.9 472v8.4M548.4 480.2v8.4M631.4 480.2v8.4"/>
<path stroke="#959500" stroke-width="2.1" d="M307.5 265.8v8.4M279.5 274v8.4M309.5 274v8.4M345.4 282.2v8.4M349.9 298.8v8.4M361.4 298.8v8.4M367.9 298.8v8.4M354.4 307v8.4M367.9 307v8.4M349.9 430.8v8.4M361.4 430.8v8.4M331.9 439v8.4M345.4 439v8.4M361.4 439v8.4M382.1 323.5v8.4M371.6 331.8v8.4M371.6 356.5v8.4M419.9 373v8.4M459.4 373v8.4M419.9 381.2v8.4M470.4 381.2v8.4M419.9 389.5v8.4M487.2 348.2v8.4M500.2 348.2v8.4M511.6 406v8.4M485.7 430.8v8.4M500.2 430.8v8.4M489.2 439v8.4M534.6 241v8.4M520.6 290.5v8.4M560.6 290.5v8.4M571.1 290.5v8.4M640.6 290.5v8.4M626.6 406v8.4M551.1 447.2v8.4M560.6 447.2v8.4M590.6 447.2v8.4M517.6 455.5v8.4M551.1 455.5v8.4M554.1 455.5v8.4M590.6 455.5v8.4M610.6 455.5v8.4M640.6 463.8v8.4M567.1 472v8.4M578.6 472v8.4M588.6 472v8.4M598.1 472v8.4M623.1 472v8.4M514.6 480.2v8.4M610.6 480.2v8.4"/>
<path stroke="#959500" stroke-width="2.6" d="M339.6 298.8v8.4M343.1 298.8v8.4M429.6 389.5v8.4M619.4 290.5v8.4M528.9 447.2v8.4M617.9 447.2v8.4M638.4 447.2v8.4M600.4 455.5v8.4M657.4 455.5v8.4M606.9 463.8v8.4M647.9 472v8.4M617.9 480.2v8.4M635.9 480.2v8.4"/>
<path stroke="#959500" stroke-width="3.1" d="M316 249.2v8.4M353.4 282.2v8.4M361.9 282.2v8.4M359.9 307v8.4M356.9 439v8.4M379.1 331.8v8.4M372.1 340v8.4M401.6 356.5v8.4M413.9 381.2v8.4M450.4 381.2v8.4M466.4 389.5v8.4M480.8 389.5v8.4M498.7 249.2v8.4M484.7 348.2v8.4M500.7 439v8.4M509.7 439v8.4M521.1 447.2v8.4M533.1 447.2v8.4M536.1 447.2v8.4M564.1 447.2v8.4M579.1 447.2v8.4M604.1 447.2v8.4M607.1 447.2v8.4M622.1 447.2v8.4M644.1 447.2v8.4M647.1 447.2v8.4M515.1 455.5v8.4M524.6 455.5v8.4M527.6 455.5v8.4M537.1 455.5v8.4M540.1 455.5v8.4M575.6 455.5v8.4M594.1 455.5v8.4M614.6 455.5v8.4M637.1 455.5v8.4M566.6 463.8v8.4M573.6 463.8v8.4M582.6 463.8v8.4M618.1 463.8v8.4M515.1 472v8.4M658.5 472v8.4"/>
<path stroke="#a8a010" stroke-width="1.6" d="M483.9 414.2v8.4"/>
<path stroke="#a8a010" stroke-width="2.1" d="M508.2 414.2v8.4M511.6 414.2v8.4"/>
<path stroke="#aaaa00" stroke-width="0.6" d="M369.2 282.2v8.4M373.9 430.8v8.4M466.6 364.8v8.4M448.6 373v8.4M598.9 455.5v8.4"/>
<path stroke="#aaaa00" stroke-width="1.1" d="M319 265.8v8.4M276.5 274v8.4M297.5 274v8.4M302.5 274v8.4M320 274v8.4M340.4 282.2v8.4M342.4 282.2v8.4M348.4 298.8v8.4M364.4 307v8.4M337.9 315.2v8.4M364.4 315.2v8.4M337.9 439v8.4M340.4 439v8.4M384.6 323.5v8.4M374.6 340v8.4M391.1 340v8.4M391.1 348.2v8.4M384.6 356.5v8.4M404.6 430.8v8.4M391.1 439v8.4M430.4 364.8v8.4M432.9 364.8v8.4M450.4 364.8v8.4M455.4 364.8v8.4M460.9 364.8v8.4M418.4 373v8.4M423.4 373v8.4M431.9 373v8.4M433.9 373v8.4M476.9 373v8.4M478.9 373v8.4M434.9 381.2v8.4M461.9 381.2v8.4M478.9 381.2v8.4M415.9 389.5v8.4M440.4 389.5v8.4M430.4 397.8v8.4M452.4 397.8v8.4M457.9 397.8v8.4M488.7 249.2v8.4M495.2 348.2v8.4M489.7 406v8.4M570.6 241v8.4M639.1 241v8.4M533.1 290.5v8.4M546.1 290.5v8.4M572.6 290.5v8.4M639.1 290.5v8.4M562.1 447.2v8.4M566.6 447.2v8.4M581.6 447.2v8.4M592.1 447.2v8.4M616.1 447.2v8.4M546.1 455.5v8.4M552.6 455.5v8.4M563.1 455.5v8.4M566.6 455.5v8.4M592.1 455.5v8.4M603.1 455.5v8.4M609.1 455.5v8.4M635.1 455.5v8.4M648.6 455.5v8.4M528.1 463.8v8.4M546.1 463.8v8.4M555.6 463.8v8.4M589.1 463.8v8.4M595.1 463.8v8.4M601.1 463.8v8.4M605.1 463.8v8.4M639.1 463.8v8.4M652.6 463.8v8.4M545.1 472v8.4M568.6 472v8.4M601.1 472v8.4M603.1 472v8.4M605.1 472v8.4M639.1 472v8.4M644.6 472v8.4M520.1 480.2v8.4M542.1 480.2v8.4M576.1 480.2v8.4M581.6 480.2v8.4M583.6 480.2v8.4M591.1 480.2v8.4M656.6 480.2v8.4"/>
<path stroke="#aaaa00" stroke-width="1.6" d="M283.2 249.2v8.4M311.2 265.8v8.4M289.2 274v8.4M347.1 282.2v8.4M330.1 290.5v8.4M334.6 298.8v8.4M357.6 298.8v8.4M347.1 307v8.4M357.6 307v8.4M334.6 315.2v8.4M352.6 315.2v8.4M357.6 430.8v8.4M347.1 439v8.4M408.4 323.5v8.4M410.8 323.5v8.4M388.4 331.8v8.4M398.4 331.8v8.4M400.9 331.8v8.4M406.9 331.8v8.4M408.4 340v8.4M395.9 348.2v8.4M373.4 356.5v8.4M410.8 356.5v8.4M398.4 430.8v8.4M406.9 430.8v8.4M410.8 430.8v8.4M417.1 364.8v8.4M425.6 364.8v8.4M441.6 364.8v8.4M413.1 373v8.4M453.6 373v8.4M456.6 373v8.4M468.6 373v8.4M472.1 373v8.4M446.1 381.2v8.4M455.1 381.2v8.4M413.1 389.5v8.4M455.1 389.5v8.4M464.1 397.8v8.4M487.4 406v8.4M503.9 406v8.4M517.9 290.5v8.4M517.9 447.2v8.4M526.9 447.2v8.4M596.4 447.2v8.4M599.9 447.2v8.4M619.9 447.2v8.4M657.9 447.2v8.4M530.9 455.5v8.4M560.9 455.5v8.4M612.4 455.5v8.4M617.4 455.5v8.4M659.3 455.5v8.4M517.9 463.8v8.4M548.4 463.8v8.4M613.9 463.8v8.4M643.4 463.8v8.4M657.9 463.8v8.4M596.4 472v8.4M621.4 472v8.4M608.9 480.2v8.4"/>
<path stroke="#aaaa00" stroke-width="2.1" d="M285 274v8.4M327.4 274v8.4M354.4 298.8v8.4M331.9 430.8v8.4M345.4 430.8v8.4M354.4 430.8v8.4M349.9 439v8.4M354.4 439v8.4M359.4 439v8.4M392.6 356.5v8.4M465.9 373v8.4M481.3 373v8.4M447.9 389.5v8.4M478.4 389.5v8.4M502.2 249.2v8.4M485.7 439v8.4M525.1 290.5v8.4M628.1 447.2v8.4M640.6 447.2v8.4M534.6 455.5v8.4M573.1 455.5v8.4M583.1 455.5v8.4M588.6 455.5v8.4M645.6 455.5v8.4M514.6 463.8v8.4M560.6 463.8v8.4M610.6 463.8v8.4M554.1 472v8.4M585.1 472v8.4M610.6 472v8.4M615.6 472v8.4M626.6 472v8.4"/>
<path stroke="#aaaa00" stroke-width="2.6" d="M277.2 265.8v8.4M334.1 439v8.4M343.1 439v8.4M363.6 439v8.4M368.2 439v8.4M377.4 340v8.4M376.4 348.2v8.4M396.4 356.5v8.4M406.4 356.5v8.4M426.1 373v8.4M436.6 373v8.4M441.1 373v8.4M435.6 389.5v8.4M504.4 348.2v8.4M494.4 439v8.4M540.4 447.2v8.4M629.4 455.5v8.4M633.4 463.8v8.4M635.9 472v8.4"/>
<path stroke="#aaaa00" stroke-width="3.1" d="M307 249.2v8.4M350.4 307v8.4M381.6 340v8.4M404.6 340v8.4M382.6 348.2v8.4M381.6 356.5v8.4M387.6 356.5v8.4M372.1 430.8v8.4M453.4 364.8v8.4M464.9 364.8v8.4M429.9 373v8.4M446.9 373v8.4M524.6 447.2v8.4M546.1 447.2v8.4M553.6 447.2v8.4M625.6 447.2v8.4M558.6 455.5v8.4M569.6 455.5v8.4M597.1 455.5v8.4M607.1 455.5v8.4M623.6 455.5v8.4M626.6 455.5v8.4M643.1 455.5v8.4"/>
<path stroke="#af00bc" stroke-width="1.1" d="M364.4 472v8.4"/>
<path stroke="#af00bc" stroke-width="1.6" d="M316.8 282.2v8.4"/>
<path stroke="#b8a030" stroke-width="1.6" d="M493.9 422.5v8.4M506.4 422.5v8.4"/>
<path stroke="#b8a030" stroke-width="2.1" d="M502.2 422.5v8.4M511.6 422.5v8.4"/>
<path stroke="#bfbf00" stroke-width="0.6" d="M369.2 298.8v8.4M369.2 307v8.4M369.2 315.2v8.4M476.1 373v8.4M422.6 397.8v8.4"/>
<path stroke="#bfbf00" stroke-width="1.1" d="M306 274v8.4M296.5 430.8v8.4M333.4 282.2v8.4M351.4 282.2v8.4M364.4 282.2v8.4M341.4 298.8v8.4M348.4 315.2v8.4M341.4 439v8.4M351.4 439v8.4M374.6 323.5v8.4M383.6 323.5v8.4M409.6 323.5v8.4M383.6 340v8.4M409.6 340v8.4M399.6 348.2v8.4M399.6 356.5v8.4M403.6 356.5v8.4M409.6 356.5v8.4M374.6 430.8v8.4M405.6 430.8v8.4M422.4 364.8v8.4M437.4 364.8v8.4M440.4 364.8v8.4M451.4 364.8v8.4M461.9 364.8v8.4M421.4 373v8.4M424.4 373v8.4M427.9 373v8.4M451.4 373v8.4M457.9 373v8.4M477.9 373v8.4M421.4 381.2v8.4M424.4 381.2v8.4M460.9 381.2v8.4M418.4 389.5v8.4M458.9 389.5v8.4M440.4 397.8v8.4M476.9 397.8v8.4M505.2 430.8v8.4M507.7 430.8v8.4M546.1 241v8.4M592.1 290.5v8.4M549.6 447.2v8.4M556.6 447.2v8.4M568.6 447.2v8.4M570.6 447.2v8.4M615.1 447.2v8.4M656.6 447.2v8.4M532.1 455.5v8.4M581.6 455.5v8.4M605.1 455.5v8.4M618.6 455.5v8.4M570.6 463.8v8.4M592.1 463.8v8.4M565.6 472v8.4M570.6 472v8.4M572.6 472v8.4M656.6 472v8.4M555.6 480.2v8.4M566.6 480.2v8.4M570.6 480.2v8.4M578.1 480.2v8.4M589.1 480.2v8.4M606.1 480.2v8.4M653.6 480.2v8.4"/>
<path stroke="#bfbf00" stroke-width="1.6" d="M357.6 282.2v8.4M330.1 430.8v8.4M330.1 439v8.4M339.1 439v8.4M376.9 331.8v8.4M386.9 331.8v8.4M392.9 331.8v8.4M395.9 331.8v8.4M402.4 331.8v8.4M408.4 331.8v8.4M379.4 340v8.4M386.9 340v8.4M389.9 340v8.4M389.9 356.5v8.4M376.9 430.8v8.4M386.9 430.8v8.4M402.4 430.8v8.4M408.4 430.8v8.4M449.1 364.8v8.4M459.6 364.8v8.4M443.1 373v8.4M413.1 397.8v8.4M429.1 397.8v8.4M443.1 397.8v8.4M456.6 397.8v8.4M629.9 447.2v8.4M632.9 447.2v8.4M636.4 447.2v8.4M538.4 463.8v8.4M564.4 463.8v8.4M647.4 463.8v8.4M540.9 472v8.4M607.4 472v8.4M621.4 480.2v8.4M629.9 480.2v8.4M637.9 480.2v8.4"/>
<path stroke="#bfbf00" stroke-width="2.1" d="M327.4 249.2v8.4M336.4 282.2v8.4M367.9 282.2v8.4M345.4 307v8.4M331.9 315.2v8.4M341.9 315.2v8.4M354.4 315.2v8.4M361.4 315.2v8.4M336.4 439v8.4M365.9 439v8.4M371.6 323.5v8.4M392.6 323.5v8.4M392.6 348.2v8.4M375.1 356.5v8.4M434.4 364.8v8.4M475.4 364.8v8.4M479.4 364.8v8.4M438.9 373v8.4M461.4 373v8.4M470.4 373v8.4M438.9 381.2v8.4M492.2 348.2v8.4M502.2 348.2v8.4M508.2 348.2v8.4M492.2 439v8.4M514.6 447.2v8.4M588.6 447.2v8.4M598.1 447.2v8.4M543.6 455.5v8.4M655.1 455.5v8.4M543.6 472v8.4"/>
<path stroke="#bfbf00" stroke-width="2.6" d="M398.9 323.5v8.4M396.4 340v8.4M396.4 430.8v8.4M415.1 364.8v8.4M468.1 364.8v8.4M425.1 389.5v8.4M436.6 397.8v8.4M468.1 397.8v8.4M540.4 290.5v8.4"/>
<path stroke="#bfbf00" stroke-width="3.1" d="M382.6 331.8v8.4M390.6 331.8v8.4M389.1 348.2v8.4M381.6 430.8v8.4M384.6 430.8v8.4M392.1 430.8v8.4M419.4 364.8v8.4M443.9 364.8v8.4M446.9 364.8v8.4M457.4 364.8v8.4M472.9 364.8v8.4M474.4 373v8.4M417.9 397.8v8.4M420.9 397.8v8.4M448.4 397.8v8.4M454.4 397.8v8.4M584.6 447.2v8.4"/>
<path stroke="#c0b020" stroke-width="1.1" d="M485.2 414.2v8.4"/>
<path stroke="#c0b020" stroke-width="1.6" d="M506.4 414.2v8.4"/>
<path stroke="#c8a040" stroke-width="1.1" d="M486.2 414.2v8.4M489.7 414.2v8.4M488.7 422.5v8.4M490.7 422.5v8.4M505.2 422.5v8.4"/>
<path stroke="#c8a040" stroke-width="1.6" d="M493.9 414.2v8.4M496.4 414.2v8.4M503.9 414.2v8.4"/>
<path stroke="#c8a040" stroke-width="2.1" d="M485.7 422.5v8.4M498.2 422.5v8.4"/>
<path stroke="#d08060" stroke-width="1.6" d="M487.4 414.2v8.4"/>
<path stroke="#d08060" stroke-width="3.1" d="M498.7 414.2v8.4"/>
<path stroke="#d4d400" stroke-width="0.6" d="M346.1 315.2v8.4M426.1 397.8v8.4M434.1 397.8v8.4"/>
<path stroke="#d4d400" stroke-width="1.1" d="M306 265.8v8.4M341.4 282.2v8.4M333.4 315.2v8.4M368.4 315.2v8.4M374.6 331.8v8.4M399.6 331.8v8.4M399.6 430.8v8.4M421.4 364.8v8.4M423.4 364.8v8.4M462.9 364.8v8.4M476.9 364.8v8.4M415.9 373v8.4M462.9 373v8.4M427.9 397.8v8.4M458.9 397.8v8.4M475.9 397.8v8.4M488.7 406v8.4M505.2 439v8.4M507.7 439v8.4M652.6 447.2v8.4M652.6 472v8.4"/>
<path stroke="#d4d400" stroke-width="1.6" d="M330.1 307v8.4M330.1 315.2v8.4M363.1 315.2v8.4M379.4 430.8v8.4M413.1 364.8v8.4M431.6 364.8v8.4M446.1 389.5v8.4M475.6 389.5v8.4M441.6 397.8v8.4M558.9 472v8.4"/>
<path stroke="#d4d400" stroke-width="2.1" d="M336.4 315.2v8.4M359.4 315.2v8.4M385.1 331.8v8.4M405.1 331.8v8.4M438.9 364.8v8.4M481.3 364.8v8.4M438.9 397.8v8.4M450.9 397.8v8.4M465.9 397.8v8.4M498.2 348.2v8.4M492.2 406v8.4M543.6 447.2v8.4M598.1 480.2v8.4"/>
<path stroke="#d4d400" stroke-width="2.6" d="M339.6 315.2v8.4M428.6 364.8v8.4M415.1 397.8v8.4"/>
<path stroke="#d4d400" stroke-width="3.1" d="M344.4 315.2v8.4M350.4 315.2v8.4M356.9 315.2v8.4M366.4 315.2v8.4M389.1 430.8v8.4M424.4 397.8v8.4M432.4 397.8v8.4M445.4 397.8v8.4M461.9 397.8v8.4M470.9 397.8v8.4M473.9 397.8v8.4M478.9 397.8v8.4"/>
<path stroke="#d870a8" stroke-width="1.1" d="M500.7 414.2v8.4M505.2 414.2v8.4M489.7 422.5v8.4M495.2 422.5v8.4M500.7 422.5v8.4"/>
<path stroke="#d870a8" stroke-width="1.6" d="M487.4 422.5v8.4"/>
<path stroke="#d870a8" stroke-width="2.1" d="M492.2 422.5v8.4"/>
<path stroke="#e070c0" stroke-width="1.1" d="M499.7 422.5v8.4M508.7 422.5v8.4"/>
<path stroke="#e070c0" stroke-width="1.6" d="M496.4 422.5v8.4"/>
<path stroke="#e08070" stroke-width="1.1" d="M488.7 414.2v8.4M495.2 414.2v8.4"/>
<path stroke="#e08070" stroke-width="1.6" d="M509.9 414.2v8.4M483.9 422.5v8.4M503.9 422.5v8.4M509.9 422.5v8.4"/>
<path stroke="#e08070" stroke-width="2.1" d="M502.2 414.2v8.4"/>
<path stroke="#e08070" stroke-width="3.1" d="M491.7 414.2v8.4"/>
<path stroke="#e09060" stroke-width="1.1" d="M507.7 422.5v8.4"/>
<path stroke="#eaea00" stroke-width="1.1" d="M340.4 307v8.4M391.1 323.5v8.4M409.6 331.8v8.4M399.6 340v8.4M391.1 356.5v8.4M375.6 430.8v8.4M409.6 430.8v8.4M424.4 364.8v8.4M426.9 364.8v8.4M477.9 364.8v8.4M426.9 397.8v8.4M434.9 397.8v8.4M459.9 397.8v8.4M490.7 439v8.4"/>
<path stroke="#eaea00" stroke-width="1.6" d="M347.1 315.2v8.4M373.4 331.8v8.4M436.1 364.8v8.4"/>
<path stroke="#eaea00" stroke-width="2.1" d="M392.6 340v8.4M470.4 364.8v8.4M481.3 397.8v8.4"/>
<path stroke="#ffff00" stroke-width="1.6" d="M400.9 430.8v8.4"/>
<rect x="328.4" y="241.0" width="1" height="247.5" fill="#fff"/>
<rect x="369.6" y="241.0" width="1" height="247.5" fill="#fff"/>
<rect x="411.4" y="241.0" width="1" height="247.5" fill="#fff"/>
<rect x="482.2" y="241.0" width="1" height="247.5" fill="#fff"/>
<rect x="512.6" y="241.0" width="1" height="247.5" fill="#fff"/>
<text x="272" y="247.6" font-size="7.8" fill="#111" text-anchor="end">Isl1</text>
<text x="272" y="255.8" font-size="7.8" fill="#111" text-anchor="end">Mfap4</text>
<text x="272" y="264.1" font-size="7.8" fill="#111" text-anchor="end">Fgf10</text>
<text x="272" y="272.4" font-size="7.8" fill="#111" text-anchor="end">Tbx1</text>
<text x="272" y="280.6" font-size="7.8" fill="#111" text-anchor="end">Irx3</text>
<text x="272" y="288.9" font-size="7.8" fill="#111" text-anchor="end">Wt1</text>
<text x="272" y="297.1" font-size="7.8" fill="#111" text-anchor="end">Alcam</text>
<text x="272" y="305.4" font-size="7.8" fill="#111" text-anchor="end">Dcn</text>
<text x="272" y="313.6" font-size="7.8" fill="#111" text-anchor="end">Upk3b</text>
<text x="272" y="321.9" font-size="7.8" fill="#111" text-anchor="end">Tbx18</text>
<text x="272" y="330.1" font-size="7.8" fill="#111" text-anchor="end">Nr2f1</text>
<text x="272" y="338.4" font-size="7.8" fill="#111" text-anchor="end">Dlx5</text>
<text x="272" y="346.6" font-size="7.8" fill="#111" text-anchor="end">Dlx2</text>
<text x="272" y="354.9" font-size="7.8" fill="#111" text-anchor="end">Serpinf1</text>
<text x="272" y="363.1" font-size="7.8" fill="#111" text-anchor="end">Prrx1</text>
<text x="272" y="371.4" font-size="7.8" fill="#111" text-anchor="end">Plvap</text>
<text x="272" y="379.6" font-size="7.8" fill="#111" text-anchor="end">Egfl7</text>
<text x="272" y="387.9" font-size="7.8" fill="#111" text-anchor="end">Klf2</text>
<text x="272" y="396.1" font-size="7.8" fill="#111" text-anchor="end">Emcn</text>
<text x="272" y="404.4" font-size="7.8" fill="#111" text-anchor="end">Cdh5</text>
<text x="272" y="412.6" font-size="7.8" fill="#111" text-anchor="end">Vcan</text>
<text x="272" y="420.9" font-size="7.8" fill="#111" text-anchor="end">Postn</text>
<text x="272" y="429.1" font-size="7.8" fill="#111" text-anchor="end">Papss2</text>
<text x="272" y="437.4" font-size="7.8" fill="#111" text-anchor="end">Cthrc1</text>
<text x="272" y="445.6" font-size="7.8" fill="#111" text-anchor="end">Sox9</text>
<text x="272" y="453.9" font-size="7.8" fill="#111" text-anchor="end">Actc1</text>
<text x="272" y="462.1" font-size="7.8" fill="#111" text-anchor="end">Tnnt2</text>
<text x="272" y="470.4" font-size="7.8" fill="#111" text-anchor="end">Acta2</text>
<text x="272" y="478.6" font-size="7.8" fill="#111" text-anchor="end">Tnnc1</text>
<text x="272" y="486.9" font-size="7.8" fill="#111" text-anchor="end">Ttn</text>
<rect x="275" y="231.4" width="52.9" height="4.8" fill="#F8766D"/>
<text x="305" y="227.1" fill="#F8766D" text-anchor="middle">MP</text>
<rect x="329" y="231.4" width="39.6" height="4.8" fill="#B79F00"/>
<text x="350.4" y="227.1" fill="#B79F00" text-anchor="middle">EP</text>
<rect x="370" y="231.4" width="40.7" height="4.8" fill="#00BA38"/>
<text x="391.7" y="227.1" fill="#00BA38" text-anchor="middle">NC</text>
<rect x="412" y="231.4" width="69.8" height="4.8" fill="#00BFC4"/>
<text x="446.5" y="227.1" fill="#00BFC4" text-anchor="middle">EC</text>
<rect x="483.2" y="231.4" width="28.8" height="4.8" fill="#619CFF"/>
<text x="498.9" y="227.1" fill="#619CFF" text-anchor="middle">FM</text>
<rect x="513.6" y="231.4" width="146" height="4.8" fill="#F564E3"/>
<text x="588.5" y="227.1" fill="#F564E3" text-anchor="middle">CM</text>
<defs><linearGradient id="lg" x1="0" y1="0" x2="0" y2="1"><stop offset="0" stop-color="#ff0"/><stop offset=".5" stop-color="#000"/><stop offset="1" stop-color="#f0f"/></linearGradient></defs>
<rect x="663.7" y="421" width="13.3" height="67.8" fill="url(#lg)"/>
<path d="M663.7 429.2h2.2M674.8 429.2h2.2" stroke="#fff" stroke-width=".6"/>
<path d="M663.7 442.1h2.2M674.8 442.1h2.2" stroke="#fff" stroke-width=".6"/>
<path d="M663.7 454.9h2.2M674.8 454.9h2.2" stroke="#fff" stroke-width=".6"/>
<path d="M663.7 467.8h2.2M674.8 467.8h2.2" stroke="#fff" stroke-width=".6"/>
<path d="M663.7 480.6h2.2M674.8 480.6h2.2" stroke="#fff" stroke-width=".6"/>
<text x="662.5" y="418" font-size="12.5">Exp</text>
<text x="678.8" y="430" font-size="9.5">High</text>
<text x="678.8" y="488" font-size="9.5">Low</text>
<text x="253" y="228" font-size="14" font-weight="bold">c</text>
<text x="0" y="509.5" font-size="14" font-weight="bold">d</text>
<text x="115" y="507.7">Split: CNTRL E9.5/E11.5 vs.</text>
<text x="144.3" y="522" fill="#ff1a1a">matHG E9.5/E11.5</text>
<text x="102.5" y="534" text-anchor="middle">CNTRL</text>
<rect x="55" y="540.4" width="90.7" height="2.8" fill="#000"/>
<text x="263" y="533.7" fill="#ff1a1a" text-anchor="middle">matHG</text>
<rect x="220.4" y="539.6" width="92.8" height="3.6" fill="#ff1a1a"/>
<path d="M21.7 553.5H352.6V809.2H21.7Z M186.5 553.5V809.2 M21.7 679.2H352.6" stroke="#000" stroke-width="2.9" fill="none"/>
<path d="M29 575.1h0M43.1 579.9h0M42.2 574.7h0M43.7 576.6h0M27.5 575.2h0M30.3 569.8h0M29.9 573.1h0M38.2 583.7h0M43.1 577.3h0M35.8 578.6h0M38.2 585h0M39.4 580.2h0M43.2 576.1h0M32.2 577.7h0M37.6 573h0M36.6 581h0M40.4 571.2h0M41.8 581.1h0M37.3 575.9h0M38.8 569.2h0M40.9 582.9h0M30.6 572.4h0M39.7 578.9h0M42.6 577.3h0M28.3 570.1h0M37.5 580.2h0M30.4 573.9h0M41.8 578.3h0M40.6 575.6h0M38 579.9h0M30.2 571.2h0M27.8 569.1h0M34.8 576.8h0M36.4 573h0M35.9 570.1h0M38.8 571.2h0M29 570.4h0M34.7 571.4h0M31.8 571.6h0M27.5 572.1h0M40.2 578.4h0M33.6 579.3h0M35.7 580.4h0M33.6 581.8h0M41.5 576.1h0M29.6 573.7h0M35.8 570.5h0M38.1 571.6h0M39.8 578.6h0M28.8 577.6h0M38.7 570.7h0M34.6 575.2h0M41.6 582.9h0M27.7 567.3h0M29.2 568.4h0M42.8 577.6h0M42.3 573.7h0M43.3 573.1h0M37.1 576.9h0M37.2 570.3h0M44.9 577.7h0M38.7 570.9h0M28.4 572.2h0M30 568.1h0M33.4 581.1h0M39.6 584.4h0M32.8 570.3h0M31.7 579.2h0M35.7 580.9h0M37.9 585.1h0M35.3 573.7h0M30.1 569.9h0M31.7 570.6h0M26.3 571.5h0M33.6 569.7h0M39.6 573.5h0M43.1 576.4h0M43.5 573.2h0M38.8 577.4h0M41.9 571.9h0M34.7 572.6h0M33.4 581.3h0M39.6 571.1h0M36.9 568.3h0M30.5 567.9h0M33.2 579.7h0M39.1 575.5h0M41.2 583.5h0M41.4 576.2h0M37.8 580.8h0M43.6 578.5h0M38.2 583.2h0M27.7 575.8h0M40.4 578.5h0M37.6 572.9h0M37.1 574h0M38.4 582.5h0M43.5 580.8h0M41 575h0M35.2 575.1h0M41.9 571.9h0M30.2 575h0M40 576.6h0M45.4 575.5h0M30.3 578.7h0M34.7 568.5h0M40.1 583.7h0M36.4 569.7h0M32.7 576.5h0M34.4 573.9h0M41.7 579.4h0M35.3 573.7h0M40.8 571.5h0M37.4 569.5h0M39.6 584.4h0M42.6 573.4h0M32 574.5h0M32.2 576.8h0M40 581h0M41.7 579.3h0M35 574.8h0M42.8 573.3h0M37.5 574.1h0M30.4 569.5h0M37.6 582.1h0M42.5 577.4h0M37.4 584.3h0M32.2 578.8h0M29.2 572.4h0M35.7 576.1h0M31 571h0M29 575.4h0M28.9 573.2h0M39.7 570.8h0M38.3 577.7h0M38.7 572.9h0M43.5 578.4h0M38.3 575.7h0M32.1 574.2h0M42.2 580h0M35.3 577.5h0M28.4 575.4h0M30.2 567.6h0M41.7 577h0M35.9 578.7h0M32.6 574h0M33.2 578.8h0M36 577.5h0M38.1 577.3h0M42.4 577.4h0M42 582.8h0M32.3 578.1h0M29.8 567.4h0M37.9 576.9h0M42.8 580.7h0M36.5 579.2h0M31.4 570.9h0M29.9 573.9h0M38.5 572.4h0M27 572.8h0M41.7 577.6h0M39.6 580.7h0M38.8 572.8h0M26.9 573h0M39.1 580.4h0M42.6 580.6h0M45.2 577h0M36.2 582.8h0M28.3 567.1h0M40.7 580.1h0M37.6 577.1h0M43.1 582.2h0M40.3 580.5h0M37.2 569.6h0M29.5 577.4h0M32.5 575.8h0M33.8 580.2h0M42.3 575h0M29.3 574.7h0M35.7 574.6h0M39 579.4h0M34.1 570h0M47.5 576.8h0M41.1 576.4h0M33.1 570.1h0M39.3 583.5h0M36.8 576.3h0M40.6 575.7h0M46.1 577.3h0M32 579.1h0M35.7 578.5h0M30.1 567.6h0M29.1 568.4h0M44.3 580h0M35.8 582.7h0M44.2 578h0M35.5 579.6h0M32.4 579.6h0M34.5 581.9h0M29.8 573.2h0M44.1 577.4h0M31.6 574.1h0M33.9 576.2h0M36.7 578.8h0M29.7 569.1h0M29.7 567.6h0M37.3 580.7h0M34.3 576.5h0M39.8 570.4h0M35 569.6h0M33.9 581.8h0M31.1 572.7h0M39.3 570h0M32.5 572.5h0M35.9 575h0M34.8 574.4h0M30.1 567.6h0M42.5 575.7h0M37.9 576.8h0M37.3 580.2h0M40.6 580.6h0M37.3 581.5h0M40.6 582.4h0M35.7 579.3h0M41.8 574.9h0M39.1 583.4h0M30.7 571.6h0M32.5 569.2h0M39.2 577.6h0M47.9 576.6h0M31 568.4h0M28.7 575.3h0M31.8 567.4h0M41.7 579.2h0M38.2 574.3h0M46.7 578.8h0M40.2 587.1h0M42.7 586.1h0M44.1 579.2h0M45.4 588.5h0M40.9 591.2h0M46.5 580.5h0M42.6 587.4h0M47.1 580.5h0M39.3 590.7h0M45.8 582.6h0M39.8 585.1h0M47.1 581h0M46.9 587.7h0M39.6 585.7h0M44.5 591.6h0M43.9 580.8h0M43.5 590.8h0M46.1 590.6h0M39.6 588h0M48.7 588.8h0M41.7 590.1h0M48.3 584.7h0M39.6 583.4h0M46.3 580.8h0M47.3 588.8h0M39 590.2h0M40.1 589h0M39.3 588.7h0M42.6 588.8h0M40.6 581.7h0M46.8 579.6h0M41 589.7h0M40.3 582.5h0M45.2 586.2h0M42.4 585.3h0M38.4 587.1h0M38.5 584h0M38.2 583.5h0M37.7 587.2h0M44.5 593.8h0M41.9 590.2h0M40 588.5h0M38 587.4h0M46.8 586.1h0M40.3 587.2h0M46.4 586.7h0M40.9 581.2h0M40.3 592.7h0M39.4 587.5h0M43.5 580.8h0M40.6 587.3h0M46.3 585.9h0M40.8 591.5h0M40.7 590.6h0M46.8 591.1h0M39.8 585.9h0M48.4 582.2h0M45 585.8h0M44.2 584.7h0M48.3 589.3h0M44.6 581.1h0M41.7 583.6h0M44.2 581.6h0M43.4 581.9h0M44.3 587.9h0M46.3 590h0M46.3 578.8h0M42.9 584.1h0M47.1 581.2h0M40.8 582.2h0M40.8 593.7h0M41.2 585h0M37.2 588.3h0M42.5 583.7h0M45.6 590.4h0M45.8 591.4h0M44.2 593.8h0M39.1 588.6h0M43 582.8h0M45.8 578.1h0M41.2 590h0M46.6 584.4h0M41.6 586.1h0M43.3 588.1h0M44.1 580.2h0M47.1 589.1h0M45.6 592.5h0M40.7 583.3h0M44.8 582.4h0M47.6 580.8h0M43.7 589.7h0M44 586.5h0M46.7 578.1h0M39.3 586.9h0M46.3 586.7h0M46.5 590.8h0M42.4 584.9h0M38.7 587h0M44.9 582h0M49.2 585.8h0M46.6 588.5h0M48.6 582.7h0M52.6 579.8h0M57.9 581.6h0M60.8 581h0M64 576.2h0M59.4 578h0M58.7 577.4h0M64.8 575.9h0M52.5 578.9h0M56.1 575.2h0M63.2 579.9h0M56.3 584.5h0M59.4 581h0M55.3 582.5h0M53.1 577.8h0M49.3 588.4h0M62.5 575.1h0M52.1 585h0M59.5 575.2h0M57.4 581.1h0M54.4 584.8h0M59.6 574.7h0M55.5 585h0M52 579h0M54.1 585.5h0M53.7 582.1h0M51.8 586.4h0M55.1 584.6h0M64.7 574.6h0M51.9 576.2h0M51.7 585h0M53.2 581.6h0M50.5 581.2h0M53.4 584.6h0M56.7 577h0M60.9 573.6h0M55.3 578.4h0M52.3 582.1h0M59.3 582.1h0M63.1 579.4h0M62.6 574.8h0M64.4 576.2h0M57.8 578.5h0M60.8 580.7h0M48.8 576.9h0M58.6 574.8h0M57.9 578.9h0M53.8 576.2h0M60.2 573.7h0M57.6 579.2h0M56.8 576.2h0M51 579.4h0M49 578.7h0M63.9 579.4h0M57 575h0M51.4 579.7h0M49.1 577.4h0M59.2 577.9h0M62 578.5h0M49.9 577.7h0M61.3 580.8h0M61.6 579.1h0M55.5 576.3h0M52.5 577.6h0M59.5 574.1h0M62.8 577.7h0M62.1 579.2h0M49.7 586.9h0M51.7 587.3h0M62.6 573.9h0M56.6 583.4h0M57.1 582.1h0M59.1 575h0M49 578.7h0M56.3 576h0M59.5 582h0M44.9 598h0M46.3 601.4h0M46 601h0M45.6 598.8h0M44.9 601h0M45.8 595.1h0M45.5 598h0" stroke="#00BFC4" stroke-width="2.0" stroke-linecap="round"/>
<path d="M53.1 609.5h0M54.8 609.8h0M49.8 610.2h0M52.2 610.5h0M51.1 613.4h0M52.4 613.3h0M52 612.5h0M46.5 609h0M50.7 611.5h0M44.5 611.1h0M49.3 607.2h0M47.3 608h0M45.2 600.8h0M45.3 610.5h0M43.2 605h0M52 613.9h0M47.7 606.3h0M55.1 605.4h0M53.8 609.3h0M55.3 610.3h0M49.1 610.8h0M47.9 612.2h0M54.7 608.9h0M51.2 606.6h0M52.2 607.1h0M48.3 603.2h0M50.6 607.6h0M55 609.7h0M44.4 605.7h0M43.5 604.7h0M51.4 610.1h0M55.3 608.4h0M51.1 611.9h0M44 609.1h0M50.2 611.1h0M48.8 604.3h0M55.8 611.4h0M53.8 606.6h0M51.9 604.8h0M56 608.7h0M56.5 609.3h0M46 603.6h0M47.3 602.6h0M48.5 601.1h0M51.7 611.5h0M47.1 602.8h0M48.6 606.3h0M43.2 609.9h0M51.6 610.9h0M46.7 612.1h0M52.3 610.3h0M49.8 609h0M49.6 605h0M46.4 602.1h0M43.1 603.6h0M55.1 608.5h0M47.7 605h0M51.3 605.3h0M44.3 605.7h0M48 610.9h0M52.3 610.8h0M47.2 602.8h0M53.4 611.3h0M47.2 607.6h0M46.2 608.5h0M43.7 604.7h0M51.3 609.5h0M51.1 608h0M53.2 612.5h0M46.6 612.5h0M46.4 606h0M47.7 605.9h0M54.9 609.6h0M53.3 612.4h0M50.6 609.6h0M55.4 607.7h0M45.7 604.3h0M50 612.3h0M43.2 606.9h0M45.4 601.7h0M42.8 607.1h0M48.3 611.7h0M43.9 601.9h0M45.8 606.6h0M48.4 607.8h0M53.8 611.8h0M51.6 610h0M54.4 608.7h0M56.4 608.7h0M46 612.1h0M48.5 605.2h0M50.5 608.9h0M49.7 610.3h0M49 611.6h0M45.7 602.6h0M46.4 606h0M46.4 613.4h0M50.1 607.1h0M43.1 606.5h0M51.1 607.9h0M52.7 611.4h0M46 610.9h0M44.1 602.1h0M52.9 609.1h0M51.2 612.6h0M51.2 610.1h0M49.8 612.7h0M54.2 607.6h0M51.7 603.2h0M45.7 613.1h0M47 603h0M46.7 604.5h0M54.1 608.5h0M52.2 612.9h0M50.7 608.6h0M50 606.1h0M55.5 606.6h0M53.7 613.2h0M53.1 608.6h0M51.1 601.7h0M47.2 613.2h0M55.5 609.1h0M47.5 609.6h0M44.2 608.7h0M49.6 603.3h0M56.1 610.6h0M49 611.8h0M50.7 603.4h0M47.5 608.3h0M53.9 609.4h0M48.1 607.2h0M53.9 612.7h0M43.2 603.7h0M47.3 613h0M50.2 601.3h0M42.8 609.6h0M49.2 613.1h0M43 605.4h0M56.1 608.9h0M49.7 607.4h0M48.2 614h0M50.5 613.7h0M50.8 613.3h0M53.6 613.4h0M50.4 606.4h0M51.2 602.5h0M63.8 619.9h0M59.5 615.7h0M62 619.1h0M59.1 615.9h0M60.9 619.5h0M62.4 620.7h0M56 614.5h0M57.8 614.1h0M57.4 613.6h0M57.8 614.3h0M57.2 614.5h0M57.4 613.6h0M61 618.8h0M55.2 613.5h0M56 614.6h0M62.2 620.1h0M60.8 616.7h0M57.4 613.9h0M61 618.2h0M62.8 624.7h0M61.9 622.7h0M65 625.4h0M65.7 622.7h0M61.5 620.9h0M65.5 623.1h0M63.7 625.2h0M62.8 623.7h0M64.9 621.8h0M66.6 624.2h0M63.9 624.5h0M59.9 620.2h0M62.5 619.7h0M62.4 621.8h0M64.5 623h0M62.9 625.1h0M64 623.3h0M60.8 622.9h0M65.9 622.1h0M64.7 625h0M63.4 625h0M64.1 621.8h0M62.4 619.6h0M61.5 621.8h0" stroke="#619CFF" stroke-width="2.0" stroke-linecap="round"/>
<path d="M130.9 573.1h0M139.8 572.3h0M130.1 574.4h0M131.2 577.2h0M139.2 578.9h0M135.2 564.5h0M139.4 569.5h0M139.6 577.6h0M141.5 582.7h0M130.5 572.1h0M138.9 573.2h0M127.1 577h0M130 580.2h0M143.3 582.8h0M124 579.8h0M126.5 586.9h0M133.7 570.9h0M129.8 569.8h0M138.2 571.8h0M134.7 565.9h0M147.3 582.2h0M136.2 579.6h0M139.2 583.8h0M123.8 585.3h0M140.8 582.3h0M128.3 588.8h0M122 586.1h0M139.6 568.6h0M123.9 586.3h0M127.6 579.4h0M127.4 574.3h0M130.8 587.5h0M138.9 580.4h0M126.8 576.6h0M131.4 584.5h0M120 577.2h0M135.7 574.2h0M138.7 582.3h0M127 580.9h0M127.5 581.1h0M138.1 585.9h0M149.4 586h0M150 582.7h0M136.9 571.2h0M143 580.2h0M148.8 588.9h0M132.7 580h0M136.1 565.1h0M140 583h0M134.8 581.5h0M129.3 580.3h0M150.6 589.2h0M139.3 572h0M125.7 578.6h0M134.8 587.5h0M150.2 587.8h0M145.9 581.6h0M145.2 585h0M138.5 565.2h0M126.5 585h0M138.3 572.9h0M127.8 576.6h0M141.5 585.8h0M140.8 583.8h0M119.5 580.7h0M123.2 576.3h0M133.3 577.8h0M125.9 589.7h0M127 582.7h0M141.7 586.1h0M150.3 587.7h0M129.8 585.5h0M131.6 573.7h0M129.5 569h0M145.7 585.3h0M126.4 578h0M140.7 581.4h0M138.6 574h0M140.7 583.1h0M128.8 576.4h0M139.8 568.3h0M128 576.1h0M145.6 580.5h0M140.6 572.8h0M149.3 582.6h0M136.2 570.8h0M134.2 583.7h0M124.1 577.2h0M131 578.8h0M138.7 566.1h0M122.4 578.5h0M142.3 583.7h0M133.3 583.2h0M134.3 584.5h0M134.1 570.4h0M119.6 577.1h0M148.9 590.1h0M128.2 588.4h0M127.2 574.2h0M121.4 584.6h0M135.1 586.8h0M129.4 582.8h0M136.8 583.4h0M148.5 580.7h0M122.7 581.9h0M123 573.7h0M147.3 583.9h0M131.4 576.9h0M138.9 579.4h0M133.2 578.1h0M148 583.1h0M130.1 586h0M126.6 571.9h0M151.8 584.9h0M130.7 585.2h0M134.4 566.8h0M133.1 564.3h0M131.5 572.9h0M140 573h0M136.9 582.7h0M136.1 563.9h0M123.4 579h0M129.6 573h0M148.5 582.6h0M149.6 586.4h0M134.9 575.9h0M136.5 572.6h0M124 574.8h0M126.9 583.2h0M135 563.8h0M136.5 568.5h0M138.7 580.8h0M151.3 586.4h0M130.3 572.3h0M140.9 574.9h0M133 583.5h0M128.9 580h0M125.3 582.1h0M141.3 583.8h0M124.2 575.9h0M133.1 573.3h0M123.9 580.9h0M129 588.3h0M134.8 570.6h0M123.6 574.8h0M137.6 574.1h0M139.8 572.6h0M127.2 571h0M131.2 570.2h0M136.3 573.9h0M119.4 578.3h0M131.3 584.8h0M136.1 584.5h0M145.1 579.5h0M126.1 589.6h0M135.3 575.5h0M138.9 581h0M139.5 582.5h0M130.4 586h0M121.5 577.2h0M141.8 578.4h0M131.2 587.8h0M132.6 573.8h0M139.8 583.5h0M128.5 573.9h0M131 579.1h0M121.9 580.5h0M130.7 574.8h0M127.6 576.6h0M132.1 580h0M138.9 578h0M131.5 571h0M141.8 579.4h0M126.5 587.9h0M122.6 576.3h0M147.3 589.1h0M121.2 582.2h0M151.2 589.9h0M122.3 584h0M128.7 582.8h0M139.3 576.8h0M126.6 580.6h0M139.5 576h0M129.8 576.2h0M147.6 582.5h0M143 583.2h0M135.7 584.6h0M120.8 579.2h0M138.7 581.4h0M138.9 566.8h0M131.8 570.9h0M135.1 567.4h0M127.6 579.9h0M123.5 586h0M127.8 581.3h0M144.5 581h0M139.6 565.7h0M125.4 582h0M119.8 583.4h0M125.5 578.6h0M139.4 564.4h0M140.2 584.9h0M143 580.3h0M148.7 585.9h0M142.2 584.9h0M143.9 584.7h0M131.2 587.5h0M146.2 586.1h0M142.7 581.1h0M129.7 571.7h0M136.7 575.7h0M133.3 566.3h0M128.7 586.4h0M141.4 575.5h0M137.7 575h0M145.3 585h0M123.4 585.4h0M138.4 572.3h0M132.9 585.1h0M119.5 582.2h0M127.7 576.6h0M140.4 581.5h0M140.6 581.9h0M127 574.7h0M138.3 576.9h0M140.4 586.2h0M130.2 587.3h0M128.4 583.3h0M133.5 578.4h0M123.2 577.3h0M128.6 572.5h0M135.5 582.8h0M121.8 585.5h0M124.4 578.3h0M127.8 571h0M132.8 573.1h0M142.3 580h0M119.6 575.1h0M137.7 585.3h0M148.8 588.2h0M133.1 565.6h0M146.6 588.3h0M138 574.7h0M132.9 564.4h0M136.1 581.3h0M126.2 574.3h0M135.6 563.6h0M141.4 585.1h0M150.9 589h0M138.1 573.5h0M145.1 587.5h0M120.3 575.4h0M135.6 575.8h0M140.7 573.9h0M134.8 573.2h0M128.1 576.5h0M120.9 582.3h0M132.4 574.9h0M139.6 564.6h0M148.4 588.9h0M126.1 588.6h0M130.9 581.1h0M129 573.5h0M136.2 581.2h0M140 576.4h0M133.4 580.6h0M124.6 581.9h0M136.9 575.2h0M122.5 580.7h0M151.7 586.9h0M125 582.1h0M136.7 570.3h0M122.3 581.3h0M151.6 588.9h0M127.1 576.5h0M133.8 578.3h0M121.1 579.8h0M136.6 573h0M137.6 576.8h0M129.8 578.4h0M135.2 581.6h0M138.3 570.5h0M147.2 583.7h0M130.2 576h0M130.3 576.9h0M121.3 573.6h0M129.1 578.9h0M143.5 582.9h0M126 585.7h0M149.7 582.9h0M141.2 582.1h0M148.9 588.3h0M132.5 572h0M126.9 579.9h0M130.6 586.5h0M137.9 577h0M120.4 582.4h0M125.6 587.7h0M124 581h0M131.4 571h0M127.7 584.8h0M141.4 585h0M131.5 580.3h0M131.9 587.9h0M151.7 589h0M125 586.9h0M139.4 568.2h0M140.3 581.3h0M137 575.9h0M125.2 578.2h0M120 582.2h0M130.4 578.1h0M121 584.9h0M140.6 575.9h0M119.6 578h0M122.6 578.1h0M130.6 572.8h0M119.4 583.5h0M134.6 585.9h0M129 571.3h0M141.5 575.9h0M142.9 585.9h0M132.3 580h0M119.2 574.8h0M136.7 574h0M119.6 576.1h0M129.3 583.1h0M133.9 565h0M134.1 587.4h0M135.7 575h0M128.2 580.6h0M129.3 588h0M137.4 584.4h0M130.5 583.5h0M131.2 569.7h0M145.1 581.2h0M149.7 590.6h0M141.1 568.3h0M135.4 582.6h0M133.4 567.5h0M128.7 570.6h0M128.6 582h0M135.5 571.1h0M132.3 574.1h0M130.8 570.3h0M139 567.7h0M128.2 581.1h0M130 572.9h0M120.7 574.3h0M137.3 569.9h0M137 584.1h0M131 583.2h0M131.5 574.6h0M136.9 573.4h0M127.6 588.2h0M119.6 574.6h0M125.4 586.7h0M119.9 579.9h0M137.1 587.1h0M127.2 587.5h0M135.6 566.1h0M122.4 578.6h0M133.8 574h0M137 562.9h0M134.5 567.4h0M135.3 569.1h0M140.6 582.1h0M135 571.6h0M127.2 578.9h0M147.9 588.7h0M125.6 572.7h0M140.3 571.4h0M126.9 585.6h0M136.2 578h0M147.7 582.1h0M148.4 590.5h0M140.8 583.3h0M129.3 581.5h0M135.4 572h0M127.4 578.8h0M133.8 583h0M135.4 579.6h0M133.8 568.4h0M139.9 586.8h0M137.4 575.1h0M136.2 582.5h0M129.6 576.3h0M134.2 565.3h0M136.8 563.7h0M144 581.3h0M124 580.3h0M141.3 578h0M138.1 572.5h0M135.6 567.4h0M133.2 566.9h0M139.6 585h0M123.3 586.8h0M126 572.9h0M128.6 578.4h0M149.1 590.4h0M124.5 586.3h0M123.1 573.2h0M135.4 568.7h0M143.6 584.1h0M124.1 582.2h0M129.1 578.6h0M128.7 587.9h0M119.8 579.6h0M122.4 578.9h0M131 572.5h0M145.8 584.2h0M140.8 568.3h0M130.1 573.7h0M144.7 581.6h0M123.5 574.9h0M146.5 588.7h0M135.7 566h0M154.2 596h0M156.4 598.6h0M153.8 593.1h0M157.5 598.7h0M155.8 599h0M156.9 600.8h0M154.3 595.3h0M154.6 595.2h0M152.1 593.8h0M153.3 595.5h0M154.9 598.3h0M154.4 596.9h0M156.6 598.9h0M153.3 595.9h0M157.3 598.9h0M151.9 592.8h0M151.2 592.7h0M152.4 594.3h0M155.6 596.5h0M157.9 600h0M156.7 598.5h0M166.8 616.4h0M169 616.3h0M170.9 618.9h0M166.3 613.7h0M162.8 613.9h0M169.9 604.7h0M169.1 601.2h0M167.6 617.3h0M171.7 614.5h0M165.5 616.3h0M165 615.5h0M173.7 608.7h0M173.8 611h0M171.4 609.7h0M170.3 611.6h0M165.7 619.1h0M172.9 609.8h0M168.3 595h0M177.6 616.7h0M170 596.3h0M165.5 610.5h0M173.2 619.9h0M175.6 610.7h0M175.8 611.2h0M169.1 599.4h0M163.9 617.7h0M167.8 610h0M168.9 617.6h0M167 614.3h0M169.1 609.9h0M169.6 606.7h0M173.5 617.8h0M168.3 605.6h0M168.7 615.1h0M172.1 611.2h0M168.1 619.9h0M172.7 613h0M170.5 602.3h0M170.1 606.5h0M164.9 615.4h0M170.3 597h0M165.8 616.9h0M169.3 610.8h0M168.4 617.1h0M169.6 618.2h0M170.6 616.5h0M174.7 610.7h0M170.2 602h0M172 606.6h0M175 617h0M166.5 613.2h0M174.5 615.7h0M169.9 620h0M165.1 611.6h0M164.9 611.1h0M170.4 598.2h0M162.6 614.2h0M165.1 617.9h0M169.9 612.5h0M166.2 616.5h0M168.7 615.7h0M169.8 607.4h0M172.1 617.6h0M176.2 617.4h0M165.1 612.1h0M170.6 612.6h0M168.2 611.6h0M174.9 615.1h0M169.6 595.5h0M169.5 596.4h0M169.4 603.5h0M165.8 614.8h0M170.4 601.9h0M170.6 604.9h0M169.8 607.7h0M171.8 616.7h0M167.4 610.7h0M161.4 614.8h0M173.8 611.5h0M167.2 603h0M165.5 611.8h0M177.2 616.9h0M163.2 615.1h0M166.5 598.3h0M167.3 600.2h0M168.8 598.7h0M166.4 615.8h0M168.4 596h0M175 615.4h0M169.8 603.6h0M169.8 596.3h0M170.7 616.6h0M172.7 608.9h0M170 614h0M164 614.2h0M174.8 613.9h0M168.4 611.6h0M171.2 615.4h0M173.9 608.6h0M169 615.1h0M167.5 615.9h0M172.4 614.7h0M170.6 599.8h0M164.8 612.2h0M166.7 602.4h0M166.9 606.4h0M167.7 601.7h0M165.2 617.4h0M170.2 607.5h0M167.5 596.9h0M170.7 609.7h0M173.6 610.5h0M174.5 610.1h0M175 614.5h0M167.8 618.3h0M171.2 620.2h0M173.7 619.3h0M162.3 617.6h0M168.2 597.6h0M169.1 603.7h0M169.6 607.2h0M168.3 598.3h0M166.3 610.6h0M171.2 618.9h0M163.1 616.6h0M167.4 595.6h0M162.9 612.6h0M167.2 614.4h0M167.6 612.2h0M176.9 611.7h0M166.5 598.6h0M175.6 616.2h0M171.6 619.2h0M170.1 599.2h0M167.8 601.7h0M165.1 611.1h0M172.3 610.3h0M174.4 615.5h0M168.8 607.2h0M165.1 617.5h0M176.2 615.7h0M165.3 613.8h0M171.6 607h0M166.8 598.3h0M173.8 615.3h0M163.7 611.7h0M174.1 608.7h0M174.5 609.3h0M169.7 600.9h0M168.7 611.3h0M174.5 617.8h0M170.5 609.8h0M166.8 609.7h0M175.5 611.3h0M175.6 615.8h0M174.4 615h0M177.5 616.5h0M167.9 618.2h0M162.7 613.7h0M169.3 618h0M172.4 616.6h0M166.1 613.9h0M170.3 610.5h0M167.7 620.9h0M169.2 598.6h0M168.2 611.9h0M168.3 603.9h0M171.9 612.3h0M167.3 613.6h0M164.6 613h0M167.7 605h0M168.5 610.2h0M164.6 614.9h0M174.7 613.2h0M167.2 605h0M168.8 602.7h0M172.4 620.2h0M172.7 616.5h0M173.6 619.9h0M122 597.9h0M120.5 601.8h0M119.5 603.3h0M124.1 590.3h0M117.8 614.4h0M122 601.3h0M120 601.8h0M117.9 612.4h0M118.3 610.1h0M121.8 601.4h0M124.1 590h0M118.9 606.1h0M117.9 607.6h0M123.5 596h0M119.8 606.5h0M119.6 609h0M115.2 620.7h0M121.5 597.6h0M114.9 619.2h0M121.6 601.7h0M117.8 610.7h0M121.4 596.5h0M122.9 594.9h0M116.9 617.5h0M118.2 611.5h0M120.4 606.2h0M115.3 619.1h0M116.2 621h0M116.1 620.9h0M121 600.7h0M120.1 601.9h0M115 621.1h0M124.8 590.5h0M116 615.4h0M119.6 602.6h0M115.8 618.8h0M119.2 610.5h0M117.5 613.3h0M120.7 599.3h0M116.6 618.5h0M117.1 610.8h0M124.1 594.5h0M121.3 597.2h0M123.4 595.4h0M117.2 610h0M120.6 605h0M120.3 604.5h0M123.8 590.5h0M113.5 631.6h0M115 621.8h0M113.9 628.5h0M112.8 625.5h0M112.2 629.6h0M110.8 633.6h0M113.5 632.7h0M113.1 633.4h0M113.5 626h0M113.1 625.3h0M113.4 627.8h0M113.1 627.5h0M110.7 638.5h0M111.3 634.1h0M111.5 630.4h0M113.1 633.2h0M112.6 630.2h0M115.1 627.1h0M112.5 629h0M111.6 636.6h0M112.6 630.6h0M114.4 629.4h0M111 633.4h0M112.5 632.3h0M113.3 622.8h0M111.9 638.5h0M110.7 633.9h0M109.8 638.6h0M112.1 627.1h0M114.5 627.1h0M111.8 631.8h0M110.1 637.6h0M110.4 633.1h0M114.6 625.4h0M113.9 622.8h0M114.3 628.5h0" stroke="#F564E3" stroke-width="2.0" stroke-linecap="round"/>
<path d="M150.4 619.1h0M154.5 613.8h0M152.3 618.6h0M146.3 623.9h0M148.5 622.6h0M145.8 624.8h0M150.2 622.8h0M150.9 619.1h0M155.1 614.8h0M157.4 612.9h0M152.6 616.9h0M146.4 626h0M158.4 611.4h0M145.3 625.5h0M155.1 617h0M151.8 618.2h0M154.5 614.7h0M154.7 616h0M147.4 625.7h0M151.2 620.4h0M152.9 616.9h0M148.2 623.5h0M151.2 621.3h0M150 620.5h0M148.6 620.7h0M145.3 624.4h0M153.3 618.5h0M149 621.8h0M152.5 618.4h0M152.4 617.2h0M148.6 622h0M151.1 618.9h0M145.4 625.4h0M145.8 624.4h0M147 624.5h0M153.8 614.8h0M152 616.9h0M154 615.8h0M158.7 613.1h0M147.5 625.1h0M154.8 613.9h0M150.8 619h0M158 612.1h0M151.5 619h0M158.2 613h0M146.1 626.5h0M149.2 620.9h0M152.4 618.1h0M136 628.5h0M134 628h0M139.6 627.5h0M136.7 628.5h0M131.7 630.5h0M140.2 625.8h0M134.4 627.8h0M132.4 629.1h0M133.7 629.7h0M136.4 627.1h0M134.9 629h0M138.4 626.8h0M134.6 628.1h0M137.8 627.9h0M140.4 626.5h0M140.8 627h0M136 629.2h0M141.4 626.4h0M138.9 626.8h0M138.6 627.6h0M131.9 629.4h0M135.2 628.4h0M135.5 627.6h0M132.5 629.7h0M144.5 634.1h0M143.8 633.3h0M144.7 638.2h0M145.3 632.4h0M144.2 631.1h0M143.6 636.9h0M144.6 636.5h0M144.2 630.6h0M144.9 630.6h0M144.6 634.5h0M144.4 631.7h0M144.9 636.7h0M144 631.7h0M143.8 632.6h0M143.2 640.7h0M136.9 643.5h0M135.2 636.7h0M140.7 639.9h0M134.3 631.8h0M132.5 634h0M139 637.9h0M141.1 638.3h0M133.1 634h0M135.3 633.8h0M141.4 637.1h0M137.9 640.8h0M138.2 642.6h0M135.8 642.8h0M142.7 641h0M134.6 636h0M138.7 646.1h0M133.6 632.6h0M141.4 642.3h0M139.2 635.4h0M142 642.3h0M141.3 648.3h0M138.1 636.1h0M133.3 632.1h0M143.3 641.6h0M144.5 648h0M138.7 640h0M136.8 641.6h0M142.9 647.6h0M145.2 645.9h0M137.6 642.5h0M133.5 639.1h0M140.9 642h0M141.8 636.7h0M140.2 647h0M136.6 639.5h0M132.4 633.3h0M143.9 648.1h0M138.4 643h0M143.2 645.2h0M136.5 635.7h0M138.7 645.1h0M134.7 639.3h0M136.7 639.1h0M143.6 645.6h0M136.5 634.7h0M133.4 638.9h0M135.9 638.1h0M143 640.3h0M142 641.7h0M140.4 646.8h0M133.2 636.4h0M143.1 639.4h0M143.4 648.6h0M140.6 635.4h0M140.9 642.5h0M132.6 636.6h0M136.1 634.6h0M137.6 643.7h0M143.1 645.7h0M142.4 643.5h0M135.4 638.4h0M141.2 636.7h0M141.6 640.1h0M140.1 636.7h0M132.5 636.4h0M135.2 635.9h0M142.6 642.1h0M142.1 640.2h0M137.3 637.7h0M142.9 642.4h0M143.6 640h0M132.1 631.3h0M133 637.2h0M133.5 634.9h0M139.4 643.4h0M138.1 642.3h0M137.3 636.3h0M141.1 648.2h0M139.1 645.9h0M136.1 638.7h0M138.1 636.8h0M136.9 636h0M144.9 647.2h0M138.8 644.1h0M135.4 636.7h0M139.1 636.7h0M136.8 644.6h0M140.3 639.6h0M140 644.5h0M140.9 647.7h0M140.3 639.5h0M144.6 647h0M139.5 640.9h0M135 641.7h0M144.3 644.3h0M144.7 643.6h0M139 639.7h0M137.9 644h0M143.1 639.4h0M133.2 634.7h0M136.5 639.6h0M140.1 642.6h0M142.7 647.3h0M137.1 639.1h0M134 636.1h0M140.7 645.3h0M143.4 644.8h0M142.5 638.5h0M144.9 646h0M134.9 636.8h0M141.9 645.9h0M140.6 643.1h0M141.6 646.4h0M140.6 635h0M140.5 635.5h0M142.5 639.8h0M142.5 643.4h0M141.1 642.9h0M139.6 636.7h0M134.1 636.2h0M144.8 647.3h0M143.5 640.7h0M140.4 637.4h0M138 635.5h0M134.7 641.1h0M134.9 634.1h0M143.3 645.7h0M143 646.3h0M135.7 634.3h0M135.7 641.2h0M136.5 642.3h0M136.8 635.2h0M136.8 642h0" stroke="#B79F00" stroke-width="2.0" stroke-linecap="round"/>
<path d="M100.7 635.8h0M102.8 641.4h0M98.6 634.8h0M97.6 634.9h0M104.9 633.2h0M103.1 632.5h0M102 632.7h0M103.1 638.2h0M99.3 637.9h0M101.4 633.3h0M99.6 641.7h0M102.4 642.3h0M101.4 638.2h0M106.7 638.1h0M96.8 640.1h0M98.1 633.3h0M102.7 633h0M103.4 633.2h0M100.6 641.7h0M103.4 638.5h0M103.7 633.8h0M96.8 633.7h0M98.9 639.9h0M97.6 632.3h0M96.9 634.4h0M102 635.4h0M97.3 637.9h0M97.6 639.4h0M102.7 641.7h0M102.8 641.7h0M96.3 637.1h0M98.8 632.7h0M99.5 637.7h0M104.6 634.4h0M102 642.4h0M105 632.8h0M104.2 641.1h0M103 638.3h0M103.4 639.1h0M99.2 638h0M104.1 635.9h0M98.5 632.2h0M100.7 634.3h0M98.8 638.5h0M101.5 636.9h0M105.6 637.8h0M103.6 632.8h0M99.8 637.7h0M98.5 639.9h0M100.8 633.2h0M102.3 635.3h0M99.9 632.4h0M105.2 641.2h0M106 638.7h0M104.4 640.4h0M103.7 640.1h0M105.6 636.2h0M104.2 636.1h0M96.9 639.6h0M104.5 633.1h0M102.8 638.9h0M103.9 636.5h0M97.3 641.1h0M100.2 640.4h0M99.6 634.9h0M99.6 638h0M100.8 641.2h0M99.9 635.2h0M99.4 634.9h0M101.1 633.9h0M103.9 634.3h0M97.7 641.2h0M104 638.2h0M102 638.9h0M100.8 633.7h0M99 631.9h0M106.4 639.1h0M98.6 635.8h0M102.9 635h0M106.3 638.2h0M104 639.6h0M102.1 637.8h0M98.4 637.5h0M102.8 638.5h0M101.6 636h0M97.7 637.5h0M101.3 642h0M100.3 639.2h0M94.5 635.8h0M89.4 633.2h0M90.3 631h0M95.6 633.3h0M89.6 633.7h0M92 633.5h0M92.5 631.4h0M88.1 632.7h0M93.4 632.4h0M94.2 634.2h0M87.4 629h0M84.4 627h0M93.9 634.1h0M82.4 629.4h0M100.9 637.2h0M98.6 635.3h0M89 633.2h0M91.9 631.2h0M86.6 630.5h0M95.8 635.3h0M94.3 632.5h0M84.9 630.2h0M93.8 634.3h0M85.2 628.5h0M95.4 632.9h0M90.5 630.7h0M90.1 632.2h0M87 630.5h0M96.9 634.1h0M98.7 634.6h0M94.1 634.2h0M82.4 629.8h0M97.5 638.1h0M93.3 633.1h0M88.6 633.1h0M84.2 630.6h0M93 634.9h0M96.7 630.2h0M100.8 636.3h0M96.9 626.8h0M95.3 629.5h0M99.6 632.5h0M95.3 625.2h0M97 627.4h0M99.7 637.2h0M93.1 626.1h0M100.9 634.6h0M95.2 623.1h0M102.3 637.2h0M94.5 627.2h0M97.7 631.7h0M98.3 633.1h0M99 632.6h0M94.8 625.4h0M92.6 623.8h0M93.5 625.8h0M93.8 623.8h0M97.7 630.7h0M100.2 634.5h0M92.8 626.6h0M94.5 627.1h0M94.8 626.5h0M93.7 626.4h0M99.9 637.6h0M94.3 623.1h0M94.9 627.8h0M98.5 633.2h0M98.3 632.9h0M99.5 631h0M94.7 626.7h0M99.1 633.5h0M95.3 627.4h0M102.1 635h0M92.1 625.2h0M95 624.9h0M98.3 637h0M97.8 628.1h0M115.1 639.4h0M111.5 639.8h0M111 641.3h0M115.4 640.6h0M107.6 639.2h0M101.6 637.3h0M118.8 641.9h0M106.6 640.4h0M102.9 638h0M122.5 641.7h0M101.5 638.2h0M109.3 638.2h0M113 641.6h0M104.4 640.1h0M105.7 637.4h0M109 639.3h0M104.9 639.2h0M118.7 640.9h0M119.2 641.4h0M112.9 640.9h0M116.5 641.5h0M120.2 643h0M101.7 637.5h0M121.1 641.2h0M108.6 638.1h0M121.7 642.4h0M121.3 641.3h0M113.9 639.4h0M113 638.9h0M112.7 641h0M123.5 641.3h0M122.5 642.5h0M116.4 642.3h0M115.9 640.5h0M103.5 637.5h0M104.4 638.2h0M103.8 640h0M101.8 641.4h0M104.1 644.7h0M105.2 650.7h0M103.4 639.2h0M106.2 649.2h0M104.1 650.7h0M103.2 649.5h0M102.2 638.9h0M102.8 646h0M104.4 642.2h0M105.1 645h0M105.4 653.3h0M104.4 649.1h0M104.3 646.7h0M106.2 651.6h0M103.6 640.4h0M103.5 645.8h0M103.9 642.1h0M106 652.6h0M101.9 645.2h0M105.9 649h0M103.1 642.5h0M104.9 653.1h0M101.5 639.3h0M105.8 650.1h0M103 640.1h0M104.7 645.1h0M103.2 638.6h0M104.2 645.4h0M105.2 652.3h0M101.2 640.6h0M101.1 642.8h0M101.1 639.8h0M103 644.3h0M97.8 648.9h0M95.5 652.9h0M95.5 649.6h0M97.7 650.4h0M99.2 645.2h0M96.4 648.5h0M96.3 643.9h0M97.6 651.7h0M97.4 644.3h0M96.3 648h0M98.6 646h0M95.6 652.7h0M98.1 647.2h0M95.9 645.7h0M97.6 643.3h0M96.8 651.5h0M96.2 652.5h0M98.3 645.1h0M96.3 652.6h0M98 643h0M94.8 652.4h0M98.5 644.9h0M98.6 646.7h0M96.6 651.2h0M92.9 631.6h0M94.6 631.4h0M92.2 630.2h0M96.1 627.8h0M94.2 628.4h0M97 631.4h0M92.1 628.5h0M93.1 630.8h0M97.6 629.3h0M96.4 629.1h0M95.6 627.7h0M96.3 629.8h0M94.3 632.3h0M93.6 626.8h0M94.3 630.2h0M95.6 632.6h0M95.7 629.4h0M96.3 630h0M92.7 628.2h0M94.5 630.2h0M112.8 644.6h0M109.2 643h0M110.5 643.8h0M109.6 641.5h0M110.2 643.4h0M109.8 640.9h0M112.9 643h0M113.2 643.8h0M111.3 642.2h0M107.3 641.8h0M114 644.4h0M109.6 642.7h0M114.6 642.9h0M109 642.3h0M108.2 643.4h0M113.7 642.6h0M106.8 643.1h0M107.5 644.3h0M112.6 641.5h0M112.2 643.7h0" stroke="#F8766D" stroke-width="2.0" stroke-linecap="round"/>
<path d="M91.9 640.1h0M86 642.3h0M84 660.5h0M89.8 644.7h0M90.8 643.5h0M85.1 646.8h0M81.2 652.4h0M88 638.5h0M90.2 642.1h0M88.6 642h0M84.6 644.6h0M86.7 639.3h0M79.5 655.7h0M88.7 646.8h0M88.2 639.5h0M90.7 644.8h0M80.5 653.1h0M89.2 651.7h0M83.2 652.1h0M90.8 645.3h0M80.8 652.7h0M90.2 650.7h0M87.6 651.3h0M87.9 656.5h0M87.6 642h0M80.9 649.4h0M86.1 654.7h0M92.8 641.6h0M82.5 654.6h0M82.1 648.1h0M90.3 651.2h0M82.8 653.7h0M82 652.9h0M81.7 653.8h0M85.9 639.7h0M85.7 643.4h0M87.5 655.3h0M89.1 646.9h0M79.2 654.6h0M81.9 652.7h0M84.2 650.4h0M86.5 654.4h0M83.9 644h0M79.5 655.5h0M92.6 647.2h0M79.2 656.2h0M87.3 639.8h0M84.6 649h0M88 639.6h0M83.5 659.3h0M80.9 653.5h0M91.2 639.4h0M79.1 656.4h0M81.1 647.5h0M88.4 650.2h0M89 649.1h0M92.3 641.8h0M79.8 653.2h0M83.4 646.1h0M83.8 642h0M87 653.3h0M82.2 646.6h0M84.3 656.6h0M84.5 649.6h0M83.8 647.1h0M85.2 647.8h0M87.8 654.5h0M85.1 656.3h0M87.9 654.9h0M82 649.3h0M81.7 652.1h0M91.8 646.5h0M86.7 648.1h0M83.7 659.1h0M87.6 638.8h0M81.4 659.5h0M89.4 650.4h0M84.9 652.4h0M88 652.4h0M81.9 650.9h0M86.9 648.8h0M90.7 649h0M87.9 643.6h0M83.4 652.6h0M80 655h0M87.2 650.7h0M85.8 647h0M83.8 647.8h0M88.6 649.8h0M88.8 645.8h0M81.3 656.6h0M79.3 654.8h0M87.4 644.8h0M78.8 657.9h0M89.7 640.4h0M89.6 642.8h0M85.6 656.4h0M85.2 644.7h0M80.3 657.4h0M92.9 640h0M92.5 642.7h0M87.1 648.5h0M90.2 651.9h0M87.3 652.1h0M88.1 651.2h0M84.2 642.1h0M92.2 642.4h0M85.2 639.8h0M80.4 659h0M85.9 642.5h0M87.5 648.5h0M88.5 641.5h0M91.8 637.9h0M79.9 658.5h0M90.9 651.5h0M89.2 644.2h0M91.6 640.4h0M87.1 657.1h0M85.5 640.6h0M81.9 661.3h0M88.9 639.3h0M81.2 647.3h0M82.6 650.3h0M84.9 648.1h0M86.4 654.1h0M90.5 646.8h0M81.4 654h0M85 653.4h0M88.4 639.4h0M82.7 657.4h0M86.6 657.8h0M80.7 657h0M87.5 656.4h0M88.3 639.8h0M91.2 648.9h0M86.8 640h0M90.7 649.1h0M86 644.9h0M88.4 649.6h0M89.2 650.8h0M88.5 645.5h0M83.6 652.9h0M92 644.1h0M81.6 658.8h0M83.7 642.4h0M83 647.2h0M89 654.9h0M83.2 656.6h0M85.5 657.9h0M87.3 651.8h0M82.6 657h0M86 657.2h0M86.7 658.2h0M89.3 643h0M79.2 657.8h0M87.4 651.9h0M91 648.1h0M83.6 644.5h0M87.7 643.1h0M83.8 655h0M84 659.2h0M91.3 639.8h0M83.3 656.2h0M79.6 659.5h0M80 654.8h0M83.4 652.6h0M80.7 661.4h0M87.3 640.1h0M94 639.7h0M86.9 651.5h0M89.2 644h0M92.2 638.8h0M81.9 646.4h0M80.2 657.5h0M85.2 649.4h0M92.1 643.7h0M91.1 647.1h0M82.4 653.5h0M85.7 642h0M81.1 648.7h0M92.4 638.5h0M90 638.4h0M85.1 645.3h0M79.7 658.9h0M91.2 640.7h0M81.6 652.1h0M85 643.3h0M82.3 660.7h0M92.1 643.4h0M85.7 648.7h0M88.6 654.6h0M87.5 642.5h0M92.3 645.3h0M86.9 639.5h0M89.5 650.3h0M89 648.4h0M80.2 655.6h0M84.4 656.6h0M82.1 648.4h0M82.8 657.5h0M90 651.2h0M85.3 655.3h0M88.2 639.6h0M85.7 645h0M89.7 642.9h0M82.2 652.5h0M79.1 658.8h0M89.7 638.1h0M82.9 649.7h0M90 649.3h0M82.4 657.8h0M85.7 651.1h0M81.9 647.3h0M82.4 649.5h0M84.4 652h0M83.6 655h0M93.4 641.3h0M92.5 642.3h0M86.1 657h0M83.1 659h0M88.6 653.5h0M85.6 641.7h0M90.5 646.1h0M90.3 640.7h0M84.3 648.9h0M86.3 653.5h0M90.8 647h0M83.9 642.5h0M85.3 646.6h0M89.9 638.4h0M87.7 641.3h0M89.7 638.7h0M88.8 654.5h0M84.9 640.9h0M89.1 639.5h0M85.3 657.8h0M85.6 649.2h0M90.3 649.7h0M90.5 642.6h0M81.6 654.1h0M81.5 658h0M89.3 651.9h0M90.2 644.6h0M88 648.8h0M89.3 639h0M92.7 646.3h0M83.6 651h0M84.5 648.8h0M86.1 643.5h0M88.9 643.2h0M89.3 640.8h0M84.9 645h0M84.1 644h0M81.9 651.5h0M90 639.8h0M90.1 638.1h0M80.9 661h0M79.7 656.8h0M89.1 651h0M81.9 650.5h0M79.9 659.4h0M80.7 657.3h0M86 659h0M83.7 658.4h0M88.5 648.4h0M93 639.2h0M81.1 655.7h0M81.1 656.5h0M84.8 645.6h0M89.2 640.3h0M83.2 657.6h0M87.2 641.4h0M88.6 648h0M80.9 656.5h0M88.2 642.8h0M79.8 657.7h0M85.9 640.4h0M80 652.4h0M83.5 652.8h0M86.9 639.5h0M85.3 648.9h0M82.3 651.4h0M85.3 639.4h0M92 642.9h0M85.5 644.7h0M82.6 645.4h0M80.2 659.1h0M85.1 649h0M93.4 640.5h0M87.7 643.2h0M90.4 649.2h0M87.5 650.6h0M92.8 641.5h0M89.5 645.1h0M88.5 651.9h0M90.5 643.4h0M84.2 646.8h0M80.1 655.6h0M80.8 655h0M83 659.6h0" stroke="#00BA38" stroke-width="2.0" stroke-linecap="round"/>
<text x="102.4" y="568" text-anchor="middle">E9.5</text>
<text x="181.4" y="673" text-anchor="end">n=1989 cells</text>
<text x="52" y="570.7" font-size="10.5" fill="#19b9b9" font-weight="bold">EC</text>
<text x="148.6" y="576" font-size="10.5" fill="#e8178a" font-weight="bold">CM</text>
<text x="89" y="620" font-size="10.5" fill="#f2703a" font-weight="bold">MP</text>
<text x="38.6" y="632" font-size="10.5" fill="#27a2ee" font-weight="bold">FM</text>
<text x="56.6" y="656" font-size="10.5" fill="#1a9a4a" font-weight="bold">NC</text>
<text x="149" y="641.6" font-size="10.5" fill="#b8a22a" font-weight="bold">EP</text>
<path d="M205.8 570.1h0M203.2 579.1h0M197.5 570.7h0M199.2 579.7h0M194.3 570.1h0M201 575.5h0M200 578.6h0M201.8 570.4h0M202.4 572.2h0M208 579.2h0M201.2 574.5h0M201.8 579.2h0M204.7 573h0M196.2 567.1h0M196.8 567.7h0M209.1 573.4h0M207.4 575.5h0M203.9 583.2h0M208.3 579.5h0M208.6 581.3h0M195.9 569.8h0M210.5 580.6h0M212.8 575h0M200.3 567.7h0M205.1 579.6h0M200.6 567.5h0M198.3 570.3h0M207 582.9h0M203 577.3h0M198.9 579.1h0M205.1 576.7h0M199.2 579.4h0M193.9 570.6h0M194.2 569.2h0M195.4 573h0M201 575h0M207.7 579.4h0M208.2 573.4h0M207.6 577h0M195.6 576.9h0M199.9 579.4h0M202.5 575.1h0M199.4 567.2h0M209.4 574.8h0M207.7 571.6h0M210.1 575.3h0M202.9 571.7h0M209.5 582.9h0M198.7 578.7h0M210.7 572.9h0M208.8 574.4h0M198.7 571h0M194.9 570.9h0M197 569.4h0M209.1 577.7h0M207.7 583.7h0M197 576.3h0M204.2 570.8h0M206 584.4h0M213.1 577.5h0M203.5 568.9h0M195.2 567.2h0M206.5 580.1h0M195.7 567.5h0M199.2 576.6h0M201.4 577.1h0M212.9 575.4h0M197.2 569.3h0M196.4 574.8h0M209.8 580.9h0M197.7 576.5h0M207.6 578.8h0M208.1 573.5h0M207.6 573.5h0M210.6 580.4h0M209.1 579.5h0M199.1 574h0M209.8 576.3h0M203.7 584.1h0M202.2 582.9h0M208.4 571.9h0M206.8 578.4h0M198.2 569h0M212.6 575.1h0M196.4 567.9h0M211.9 580.1h0M209.4 581.1h0M209.4 577.6h0M208.8 576.6h0M205.4 571.9h0M205.5 583.3h0M195.9 577.1h0M196 576h0M199.6 569.1h0M196.3 574.6h0M198.3 579.2h0M196.2 570.8h0M205.8 573.1h0M199.9 577.4h0M199.3 571.9h0M195.1 574.8h0M198.3 575h0M195.1 574.4h0M208 583.2h0M196.7 568.9h0M206.1 574.2h0M213.5 578.2h0M206.5 579.6h0M208.4 575.7h0M196.6 575.9h0M209.8 578.6h0M199.9 574.5h0M209.4 589.6h0M210 591.3h0M208.4 587.3h0M214.1 585.5h0M207.5 582.1h0M206.4 592h0M210.4 582.3h0M214 587.4h0M215.3 579.8h0M206 584.5h0M207.7 582.2h0M211.1 590.4h0M209.1 586.2h0M214 581.2h0M208.5 591.7h0M206.7 583.1h0M215.2 578.7h0M210.7 579.9h0M212.9 586.5h0M207.4 587.4h0M204.6 583.3h0M208.6 589.8h0M208 584.5h0M211.2 581.8h0M210.8 590.8h0M203.8 585.8h0M205 586.4h0M205.7 586.5h0M207.3 590.4h0M209.7 592.9h0M215 583.1h0M205.6 590.4h0M212.7 588.1h0M213 582.1h0M214.7 589.9h0M213.3 578.2h0M212.4 589.9h0M204.7 584.1h0M209.2 583.9h0M214.5 588h0M213.8 586.3h0M209 586.7h0M209.7 589h0M214.9 589.1h0M206.9 587.2h0M205 585.2h0M213.2 587.8h0M208 585.7h0M205.2 588.3h0M223.9 581.9h0M217.2 586.2h0M228.7 576.9h0M229.3 574h0M217.1 580h0M220 585.9h0M228.8 578.3h0M217.9 578.5h0M222.9 582.7h0M217.8 583h0M222.7 584.8h0M226.8 581.8h0M229.5 576.2h0M228.9 576h0M223.6 581.9h0M224.7 574.9h0M223.3 577.5h0M220.1 579.8h0M222.5 576.4h0M231.8 575.9h0M219.3 579.5h0M225.5 580.9h0M229.3 577.1h0M228.7 573.7h0M227.7 577.1h0M231.4 575.9h0M226.9 581.6h0M218.4 581h0M219.9 577.3h0M223.3 583h0M220 582.3h0M222.4 582h0M227 577h0M216.9 577.4h0M228.9 575.2h0M224.8 579.7h0M211.7 599.8h0M212.1 596.3h0M212.7 594.8h0" stroke="#00BFC4" stroke-width="2.0" stroke-linecap="round"/>
<path d="M212.7 606.7h0M221.9 611.6h0M215.9 611.5h0M217 606.7h0M220.7 613h0M219.4 603.6h0M217.7 608.7h0M223 604.5h0M216.4 604.6h0M220.2 606.9h0M217 608.1h0M224.2 609.1h0M223.9 607h0M219.6 606.2h0M222.2 612.7h0M215.8 608.9h0M226.4 607.4h0M221.2 610.8h0M219.9 611.3h0M234.8 625h0M238.1 624.6h0M235.9 622.1h0M235 626.5h0M237.8 625.4h0M234.3 622.7h0" stroke="#619CFF" stroke-width="2.0" stroke-linecap="round"/>
<path d="M302.1 580.2h0M290.3 575.8h0M297.7 588h0M295.3 586.8h0M294.7 570.5h0M301.8 570.2h0M303.3 568.3h0M287 580.8h0M297.7 585.6h0M306.5 572.3h0M317.9 590.9h0M305.9 572.5h0M292.4 585.8h0M306.6 577.5h0M302.2 576.4h0M312.2 586.9h0M307.6 567.3h0M289.6 573.2h0M290.1 581h0M289 576.6h0M297.2 573.6h0M306 575.7h0M291.1 582.8h0M286.6 580.3h0M288.8 573.8h0M312.7 585.7h0M311.5 587.4h0M313.1 584.6h0M287.9 583h0M289.2 585.8h0M299.3 584.4h0M288.8 578.5h0M309.6 583.9h0M314.1 585.4h0M302.5 563.3h0M309.6 584.4h0M306.7 586.2h0M288.8 580.6h0M308.5 580.3h0M298.4 572.9h0M288.2 584.2h0M304.2 582.2h0M293.9 581h0M307.5 586.3h0M298.7 583.6h0M295.1 580.8h0M293.4 571.8h0M294.1 580.2h0M297.1 586.3h0M298.1 585.1h0M295.9 578h0M305.2 572.8h0M311.9 580.7h0M304.1 581.8h0M293 571.9h0M315 582.6h0M317.3 583.1h0M289.3 574h0M298.6 578.8h0M295.3 576.1h0M288.2 578h0M293.7 584.9h0M291.5 577.8h0M314.8 582.1h0M298.5 568.2h0M317.4 584.8h0M293.4 587.8h0M313.5 586.6h0M295.5 583.3h0M286.9 576.2h0M290.7 574.6h0M303.6 577.4h0M318 589.4h0M302.6 566.1h0M300.2 587.3h0M302.1 585.1h0M303.2 583.5h0M302.9 583.7h0M297.3 570.4h0M312.3 585.3h0M312.1 582.1h0M307.8 582.6h0M314.7 588.1h0M296.2 575.1h0M287.8 575.2h0M308.9 584.9h0M304.8 582.5h0M301.3 564.8h0M306.9 580.1h0M309.7 586.5h0M300.3 577.7h0M301.8 582.2h0M316.2 583.9h0M305.6 583.6h0M291.8 580h0M292.3 579.7h0M318.6 587.8h0M293.5 578.1h0M296.8 575.5h0M297.2 574.4h0M296.1 578.6h0M290.6 577.5h0M302.8 585.7h0M296.6 576.4h0M309.8 582.8h0M314.4 584.9h0M294.1 583.8h0M301.2 567.5h0M306.9 579.1h0M303.5 570.8h0M291.6 583.2h0M288.3 585.8h0M288.4 584.3h0M295 577.2h0M301.1 587.7h0M294.3 573.5h0M295.6 572.2h0M294.8 587.2h0M300.5 587.3h0M298.5 584.2h0M291.4 588h0M318.1 588.3h0M300.7 572.1h0M289.1 584.4h0M308.6 580h0M318.3 583.2h0M299.5 572.1h0M292.9 585.5h0M295.5 577.6h0M297.5 581h0M291.2 573.1h0M294.6 579.4h0M304.7 587.5h0M310.7 587h0M305.1 568h0M306.4 583.7h0M304.3 571.2h0M288.5 574.9h0M291.4 582.4h0M293.3 573.7h0M302.4 584h0M317.3 581.2h0M314.2 587h0M312 583.3h0M301.2 577.2h0M300 584.5h0M295.1 573.6h0M291.2 576.7h0M290.2 580.4h0M300.4 568.2h0M294.1 579.7h0M291.1 585.2h0M295.6 580.8h0M301.9 575.3h0M294.4 576.9h0M294.7 574.4h0M311.8 579.6h0M300.1 575.8h0M318.1 590.6h0M315 584.4h0M299.8 577.6h0M306.5 565.8h0M310.3 578.5h0M289.8 577.6h0M289.7 573.4h0M305.3 574.4h0M299 581.9h0M293 577.7h0M303.3 569.5h0M296.6 587.9h0M307.1 582.7h0M293.2 573.3h0M301.6 569.2h0M297.3 576.8h0M307.5 587.4h0M293.1 584.6h0M300.1 569.8h0M307.1 565.7h0M290 585h0M314.6 585.6h0M300.3 586.5h0M294.7 575h0M298.8 573h0M302.8 576.6h0M309.6 584.7h0M298 575.1h0M304.2 567.1h0M288.8 584.3h0M308 575.4h0M318.2 588.4h0M300.2 584.8h0M290.5 582.1h0M303.8 585.3h0M298.2 573h0M309.3 582h0M308.3 577.2h0M315.1 585h0M303.8 583.8h0M313.2 582.4h0M317 587.7h0M296.9 573.5h0M290.6 585.7h0M307.2 576.9h0M308.1 578.4h0M297.5 577.1h0M304.1 586.5h0M309.6 586.1h0M307.1 584.8h0M290 579.9h0M303.6 579.6h0M292.9 587.1h0M288 581.9h0M305 566.2h0M292.5 573.6h0M300.7 575.7h0M292.6 573.2h0M304 582.9h0M293.6 587.3h0M303.6 569h0M316.6 581.8h0M298.3 579h0M293.3 571.9h0M290.8 587.6h0M307.3 572.1h0M310.5 584.7h0M295.8 584.5h0M310.5 585.3h0M299 574.9h0M299 574.7h0M294.9 581.2h0M313 583.3h0M312.1 586.8h0M295.8 585.5h0M304.1 566h0M315.1 583.6h0M303 587.5h0M304.8 584.9h0M316 588.9h0M309.7 586.7h0M296 584.7h0M316.3 586.8h0M305.7 571.5h0M290.1 583.2h0M294.3 585h0M300.1 582.9h0M286.6 576.1h0M293.5 572.3h0M305.9 583h0M306.8 582.5h0M298.8 587.5h0M305.9 564.6h0M304.6 575.9h0M287.3 582.2h0M301.4 574.4h0M306.8 586h0M300.4 577.6h0M304.7 582.4h0M293 572.5h0M303.4 587.3h0M301.4 571.5h0M301.8 575.3h0M301.4 582.3h0M292.2 584.1h0M299.4 567.4h0M293 582.9h0M303.3 569.1h0M299 576.3h0M306.8 575.2h0M306.8 574.7h0M312.6 587.2h0M293.4 582.6h0M313.7 582.1h0M291.9 575.4h0M285.7 578.2h0M305.9 571.4h0M312.4 581.6h0M306.3 572.4h0M317.4 587.6h0M302.2 570.8h0M311.5 582.6h0M291.2 585.8h0M288.3 579.8h0M298.9 588h0M308.5 587.3h0M305 567.7h0M303.4 569.3h0M287.8 583.8h0M288.9 579h0M315.4 586.5h0M293.3 574.5h0M294 580.1h0M305.1 580.8h0M285.6 577.3h0M305.8 578.6h0M298.2 573.6h0M288.3 582.3h0M289.4 586.9h0M297.2 576.5h0M311.8 584h0M317.1 589.5h0M293 573.5h0M291.5 587.6h0M286.6 582.8h0M303.9 585.7h0M291.3 579.3h0M306.4 568.4h0M295.1 572.2h0M300 582.5h0M293.7 571.9h0M300 564.3h0M308.6 581.6h0M299.4 567.6h0M317.6 581.6h0M313.6 588.6h0M295.6 578.2h0M306.5 569.4h0M295.7 585.1h0M289.8 573.8h0M298.9 581.6h0M297.2 585.3h0M292.5 582.6h0M303.5 568.7h0M299.4 576.9h0M305.5 563.7h0M293.1 582.5h0M307.7 580.2h0M294.3 583.7h0M298 569.3h0M292.8 573.4h0M311.7 581.1h0M316.8 586.2h0M298.9 568.1h0M295.1 579.5h0M294.8 577.9h0M316.9 585.7h0M297.7 570.3h0M299 566.2h0M306.7 572.1h0M294.9 572.8h0M307.8 577.2h0M304.1 585.3h0M304.5 585.9h0M297 583.9h0M300.8 586.5h0M302.8 568.5h0M314.6 589.2h0M304 574.3h0M286.8 578.1h0M295.6 580.2h0M306 581.6h0M304.1 575.1h0M306.2 568h0M317.1 587h0M309.1 583.3h0M304.6 565.1h0M307.6 573.5h0M294.9 585.9h0M285.7 578.8h0M295.1 575.3h0M302.6 568.4h0M295.9 588h0M309.9 580.3h0M301.9 572h0M295.4 585.9h0M308.3 582.2h0M298.6 586.4h0M295.4 585.4h0M295.3 585.7h0M307.4 578.1h0M295.4 584.6h0M309.5 580.1h0M306 580.8h0M289.1 583.8h0M304.9 576.9h0M292.4 589.4h0M316.3 583.9h0M294.1 574.4h0M312.3 584.4h0M296.5 573.7h0M295.8 583.9h0M308 570h0M306.6 567.8h0M301.8 568.6h0M293.9 582.1h0M298.7 583.4h0M302.2 587.6h0M300.4 569.6h0M311.7 583.5h0M294.4 584.2h0M301.3 577.2h0M293 572.2h0M314.8 585.2h0M285.6 578.2h0M318.6 588.7h0M291.9 584h0M289.3 574.1h0M298 580.9h0M318.6 587.9h0M315.4 586.1h0M295 588.2h0M290.9 572.9h0M308.4 583.2h0M309.7 580.1h0M305.8 573.8h0M297 570.3h0M300.3 568.7h0M294.5 571.5h0M307 578.4h0M305.2 580.1h0M307.9 576.3h0M303.2 585.7h0M298.2 586.5h0M300.8 572.1h0M299.1 576.5h0M296 580.8h0M309.3 587h0M303.1 573.7h0M297.7 582.4h0M295.1 583.6h0M307.4 585.6h0M290.6 573.2h0M296.2 578.7h0M289.8 584.6h0M305.8 583.9h0M304.9 563.5h0M293.8 579.2h0M301.6 583.9h0M300.3 568.5h0M291.7 582.6h0M296.1 572.5h0M302.5 578.6h0M295.6 575.2h0M306.4 566.4h0M292.4 589.3h0M303.1 578.1h0M289.9 585.5h0M297.9 582.3h0M318.3 586.3h0M299.5 579.2h0M285.4 579.7h0M306.8 567.1h0M306 570.1h0M290.3 584.1h0M290.8 581.5h0M299.4 569.1h0M307.5 583h0M296.4 585.8h0M316.9 584.8h0M289.4 578.2h0M305.7 565.2h0M302.7 577.3h0M295.7 587.2h0M296.1 588.5h0M303.2 584.8h0M303.6 584.6h0M289.6 574.9h0M297.6 582.9h0M299.9 587.2h0M298.5 570.3h0M300.8 582.3h0M285.8 579.6h0M287.8 583.7h0M302.8 584.4h0M298.6 574.2h0M286.4 577.9h0M288.2 577.9h0M302.6 584.1h0M300.2 580.1h0M310.6 579.8h0M289.2 574.6h0M306.2 571h0M311.8 583.1h0M302.5 576h0M311.2 587.8h0M317.7 582.3h0M318.5 588.7h0M294.2 575.8h0M323.7 600.2h0M324.9 600.1h0M318.8 592h0M320.6 596.5h0M322.3 597.5h0M319.9 592.6h0M324 598.9h0M324 601h0M320.7 594.8h0M322 596.7h0M320.8 596.7h0M323 598.5h0M317.9 592.4h0M321.9 598.3h0M322.9 599.1h0M323.5 597.9h0M321.4 596.8h0M318.8 592.5h0M321.8 594.6h0M323.1 598h0M322.8 599.4h0M319.9 592.1h0M320.4 595.5h0M322.3 598.8h0M329.8 617.5h0M340.8 617.4h0M336.8 605.1h0M342.4 612.5h0M342.7 615.2h0M338.6 606.8h0M334.9 606.7h0M330.3 612.8h0M334.4 612.1h0M333.9 614.6h0M334 602.5h0M335.1 615.4h0M335.1 616.5h0M335 603.1h0M335.6 618.3h0M335.1 606.4h0M342.8 613.6h0M334.9 614.1h0M341.7 612.2h0M336.5 607.5h0M344.3 615.5h0M332.1 616h0M342.4 618.8h0M335.1 600.4h0M341.5 619.6h0M334.2 603.7h0M336.5 602.4h0M338.4 600.6h0M337.8 604.6h0M341.1 617.7h0M331.8 614.3h0M339.9 613.1h0M334.1 617.5h0M333.9 616.1h0M337.4 607.3h0M338.2 601.7h0M336.6 607.2h0M335.1 600.7h0M336.5 615.4h0M328.6 615.8h0M338.8 613h0M329.4 615.3h0M328.7 615.8h0M334.5 613h0M342.4 618.4h0M335 611.7h0M330.9 614.3h0M342.3 613.7h0M334.9 612.1h0M331.3 615.2h0M337.4 603.5h0M340.8 619.6h0M340.9 618.7h0M331.6 612.9h0M338.1 599.5h0M335.4 616.4h0M331.2 615.3h0M333.5 601.1h0M333.5 611.8h0M330.4 618.1h0M338.8 616.3h0M335.3 615.5h0M341.5 611.9h0M334.2 606.6h0M334.3 614.1h0M333.7 609.4h0M335.8 606.9h0M329.3 616.5h0M331.1 613.3h0M333.8 615.1h0M340.1 614.4h0M334.8 603.3h0M338.8 611h0M335 603.8h0M332.7 619.2h0M335.6 606h0M330.4 615.3h0M336.1 608.1h0M335.1 616.6h0M337.8 612.8h0M343.6 617.1h0M342.6 618.1h0M337.9 619.7h0M332.9 616.3h0M343.1 611.5h0M333.1 612.9h0M341.3 614.7h0M339.6 618.6h0M338 606.7h0M331.2 618.6h0M335.1 604.7h0M335.3 600.9h0M335.3 613.6h0M335.5 596.6h0M339.2 611.9h0M337.7 603.3h0M333 614.6h0M333.7 610.6h0M337.4 617.8h0M332.1 615h0M341.9 610.8h0M338.5 612.8h0M334.1 612.7h0M333.9 602.4h0M341.6 609.8h0M335.3 618h0M337.6 611.6h0M335.4 607.4h0M337.6 619h0M338.7 608.8h0M337.9 598.8h0M342.1 615.9h0M331.1 615.5h0M332.6 610.9h0M336.6 597.3h0M331.9 615.6h0M329.9 615.2h0M339.6 619.1h0M344.5 612.2h0M335.4 597.7h0M340.9 617.3h0M339.8 614h0M333.9 611.1h0M338.3 619.7h0M344.5 612.5h0M336.7 620.2h0M343.7 614.4h0M338.5 611.1h0M335.1 598h0M334.6 616.9h0M341.7 609.5h0M327.9 614.9h0M338.9 616.3h0M333.5 620.1h0M328.2 616h0M340.2 612.9h0M337.3 604.8h0M337.8 605.2h0M338.5 610h0M327.4 615h0M337.9 615.6h0M342.6 617.9h0M331 614.2h0M337.3 608h0M332.9 617.5h0M333.9 601.1h0M332.6 619.2h0M342.1 614.6h0M339.7 613.8h0M329.7 611.5h0M335.1 599.6h0M336.7 615.5h0M341 613.8h0M334.3 605.1h0M339.7 607.8h0M337.7 609.5h0M339.8 608.3h0M333.4 611.4h0M337.4 619.3h0M336.9 613.6h0M334.7 594.9h0M338 615.8h0M333.9 598.7h0M338.8 620.3h0M331.9 617.6h0M344.6 614.2h0M335.8 597h0M334.2 616.2h0M338.8 612.6h0M338.1 613.5h0M344.6 615.4h0M338.9 616.8h0M329.1 614.9h0M337.7 601.4h0M334.5 610.8h0M340.3 608.3h0M336.1 603.4h0M343.7 611.3h0M332.4 610.5h0M334.3 613.7h0M330.2 618.4h0M339.1 618.5h0M331.9 610.7h0M337.7 607.9h0M329.5 617.7h0M333.4 599.9h0M339.4 613.4h0M332 618.9h0M337.5 596.8h0M335.8 596.5h0M336.1 615.8h0M338.5 607.8h0M333.4 618.1h0M338.7 615.9h0M333.3 599.1h0M337.5 615.8h0M337.5 600.1h0M342.8 617.3h0M335.9 613.2h0M337.1 608.6h0M336.9 616.2h0M331 614.5h0M338.2 615.4h0M337.7 603.5h0M287.9 605h0M284.6 612.3h0M283.3 617.9h0M284.2 616.2h0M291.1 591.9h0M283.3 613.2h0M285 614.2h0M287.2 606.1h0M287.4 601.2h0M284.1 615.5h0M286 605.2h0M287.9 601.6h0M286.5 608.8h0M289.5 596h0M283.7 613.4h0M287.6 603h0M281.4 620h0M288.1 604.5h0M289.9 598.3h0M287.2 601.9h0M290.7 590.1h0M288.5 603.2h0M283.3 617.6h0M284.9 613.8h0M290.1 593.4h0M286.8 604h0M290.1 590.8h0M288.2 599.5h0M289 601.1h0M289.7 598.5h0M285.4 613.2h0M286.6 605.8h0M285.5 606.2h0M285.4 607.1h0M283.3 614.1h0M291.2 593.4h0M281.5 620.9h0M286.9 602.7h0M283.1 619.4h0M289 599.2h0M289.8 598.9h0M290.9 593.7h0M287.2 607.1h0M290.9 592.5h0M288.9 599h0M284.1 611.2h0M289.3 596.2h0M283 621.1h0M288.1 598.6h0M283.7 618.1h0M291 591.7h0M290.7 595.6h0M291.2 593h0M287.5 603.3h0M278.4 632.4h0M281.1 622.2h0M278.6 637.1h0M279.7 637.9h0M283.3 622.9h0M279.3 635.4h0M279.6 637.4h0M279.1 628.3h0M280.4 633.3h0M281 621.9h0M280.1 628.7h0M277.2 635.8h0M280.9 632h0M279.6 638.6h0M279 626.2h0M280.9 630.7h0M278.6 631h0M279.9 622.5h0M282.2 622.3h0M279.6 623.8h0M279 634.2h0M281.7 626.6h0M278.8 635h0M278.2 635.8h0M277.7 637.9h0M277.7 636.7h0M277.6 636h0M280.3 632.9h0M279.5 628.1h0M280.4 625.1h0M279.8 636.2h0M278.6 630.6h0M280.2 622.5h0M281.4 625h0M281.2 625.5h0M277.7 631.1h0M282.7 625.1h0M281 631.9h0M280.1 625.5h0M277.5 632.7h0M277.2 637.3h0" stroke="#F564E3" stroke-width="2.0" stroke-linecap="round"/>
<path d="M325.5 610.7h0M324.8 613.2h0M316.4 621.7h0M312.9 623.8h0M321.1 616.6h0M314.7 621.9h0M313.4 623.9h0M325.2 612.9h0M320 616.8h0M318 619.6h0M318.8 618.8h0M308.7 628.2h0M311.1 626.4h0M304.3 627.8h0M309.6 627.7h0M302.8 629.3h0M310.3 627.4h0M308.3 628.5h0M306.6 628.5h0M309.9 627.3h0M300.9 633.9h0M300.6 633.2h0M300.2 638.4h0M300.2 630.1h0M301 633.8h0M300.7 634.9h0M300.2 631.1h0M312.9 632.3h0M312.9 634.8h0M312 634.9h0M313.3 634.7h0M312.2 635.6h0M311.9 631.8h0M311.6 634.9h0M302.9 638.6h0M304.8 643.7h0M301.3 641.2h0M311.2 635h0M307.5 636.2h0M307.7 637.4h0M301.5 641.6h0M309.2 635.5h0M311.6 635h0M311 634.7h0M306.1 636.7h0M301.2 637.7h0M307.1 638.8h0M306 637.3h0M306.2 637.1h0M305.1 636.3h0M304.4 642.8h0M301.7 644.8h0M311.9 644.4h0M307.5 639h0M304.2 635.5h0M305.9 644.1h0M307.7 645.6h0M308.4 635h0M302.6 644.2h0M310.3 646h0M302.3 645.7h0M304.2 637h0M304.5 643.5h0M304.8 643.2h0M307.9 640.5h0M311.2 643.4h0M310.1 639.1h0M308.3 640.7h0M311.6 643.1h0M312.7 644.1h0M305.9 640.8h0M306.1 637.6h0M306.7 640.4h0M305.5 644.1h0M309.3 647.4h0M307.1 643.2h0M305.6 645.2h0M310.1 641.8h0M311.2 634.9h0M307.5 640.8h0M305.2 645.9h0M304.9 638.7h0M312 634.8h0M307.7 640.3h0M309.8 646.6h0M307.4 635.5h0M310.4 639.8h0M300.7 641.1h0M309.2 645h0M311.4 636.8h0" stroke="#B79F00" stroke-width="2.0" stroke-linecap="round"/>
<path d="M269.1 636.2h0M271 635h0M267 641h0M270.8 635.3h0M273.5 637.1h0M272.3 638.9h0M264 640.7h0M266.8 634.7h0M264.5 638.3h0M269.5 642.5h0M268 631.7h0M267.5 640.8h0M270.4 637.7h0M273.2 639.3h0M267.8 638.4h0M264.3 634.2h0M270.6 639.1h0M271.1 638.3h0M269.5 639.8h0M266.9 641.9h0M269.7 636.5h0M267.1 634.8h0M267 631.9h0M262.7 635.6h0M270.4 635.9h0M272.4 635.3h0M269 636.9h0M268.1 637.9h0M269.7 634.7h0M263.2 636.2h0M262.9 637.2h0M264.7 634.3h0M262.4 636.1h0M269.9 638.8h0M272.9 636.9h0M271.8 641.4h0M266.4 635.2h0M272.6 637.9h0M269.1 633.9h0M272 638.6h0M268.3 640.9h0M264.1 641h0M273.7 635.8h0M271.5 637.8h0M270.9 637.2h0M267.8 641h0M268.4 640.2h0M267.9 635.6h0M271.9 640h0M270.5 634.4h0M267.9 640.2h0M266.2 633.1h0M265.9 632.9h0M268.1 631.7h0M268.3 632.5h0M267.3 635h0M272.1 637h0M272.4 633.8h0M266.3 641h0M262.8 635.4h0M269.3 638.7h0M271 635h0M266.7 635h0M271.6 635.4h0M265.4 640.8h0M269.5 633.5h0M268.3 639.8h0M266.5 641.5h0M269.2 639.2h0M271.7 635.7h0M262.6 637.1h0M267.1 637.2h0M264 638h0M269.4 636.4h0M262.5 637.2h0M269.7 640.3h0M261.7 636h0M265.5 637.1h0M251.8 630.4h0M251.5 629.3h0M251.6 630.1h0M265.8 637h0M260.7 633.6h0M262.4 636.5h0M258.6 633h0M250.9 628h0M253.4 630.1h0M254.1 632.4h0M262.8 633.7h0M262.1 635.5h0M256.4 630.1h0M261.1 633.9h0M264.9 634.9h0M255.5 631.9h0M257.6 633.4h0M251.6 629.1h0M262 632.8h0M251.8 630.6h0M264 634.1h0M265.3 637.8h0M262.5 633.4h0M267.8 637h0M267 639.1h0M253.1 630.3h0M256.7 632.9h0M265.3 638.1h0M254.6 629.2h0M254.2 631.6h0M260.8 623.3h0M266.9 631h0M265.1 629.3h0M267 634.4h0M262.3 624h0M263.9 632.1h0M268.4 635.1h0M262 629.3h0M267.7 633.1h0M267.2 633.4h0M262.1 627.5h0M262.7 622.9h0M262.3 622.5h0M264.1 633.3h0M264.1 633.2h0M266.3 630.2h0M264.5 635.2h0M261.5 628.6h0M263.5 631.7h0M266.7 632.7h0M265.2 633.4h0M260.5 625.7h0M266.6 631.9h0M262.1 629.9h0M262.6 623.1h0M267.1 635.6h0M263.3 629h0M263.1 629.4h0M259.4 625.4h0M267.3 637.2h0M267.9 637.9h0M261 629.3h0M264.8 632.9h0M261 629.4h0M262.5 624.6h0M277.3 640h0M287.7 642.7h0M270.7 638.6h0M270.1 639.5h0M270 638.3h0M272.2 640.3h0M276.8 638.3h0M289.3 641.5h0M270.1 637.9h0M268.3 638.3h0M279.3 641.4h0M286.1 641.5h0M287.6 642.4h0M289.1 640.7h0M273.2 640.1h0M275.8 638.6h0M275.4 640.3h0M276.2 638.8h0M284.1 641.9h0M285.5 641.8h0M270.4 636.9h0M289.9 642.8h0M286.1 641.8h0M288 641.4h0M269.2 637.9h0M286.3 640.3h0M280 640.7h0M285.6 641.8h0M288.2 640.6h0M281.6 640.7h0M284.6 640.4h0M270.1 638.8h0M270.6 646.5h0M271.4 644.5h0M271.6 650.9h0M270.2 644.3h0M268.3 638.6h0M269.7 643.3h0M272.1 645.5h0M272.6 652.5h0M270.1 640.2h0M269.1 646.6h0M271.7 650.5h0M270.3 644.1h0M270.5 642h0M271.6 646.9h0M272.4 651.5h0M271.7 648.6h0M269.6 644.8h0M273 650.3h0M272.8 649.9h0M268.3 640.4h0M271.5 648.6h0M272.5 654h0M274.5 652.2h0M269.2 641.7h0M270.7 641h0M272.6 648.8h0M269 643.6h0M272.1 652.7h0M273.2 647.5h0M264.7 648.1h0M264.6 647.7h0M262.2 652.3h0M262.3 647.9h0M263.4 643.5h0M263.3 645h0M266.2 645.1h0M263.5 652h0M262.4 648h0M265.8 645.7h0M264.4 653.4h0M262 652.3h0M262.4 652h0M263.3 651.7h0M263.6 651h0M265.6 645.2h0M264.9 642.8h0M264 647h0M264.8 643.9h0M263.4 645.2h0M261.9 627.1h0M264.8 630h0M262.3 631.1h0M262.9 628h0M263.5 629.5h0M262.3 629.7h0M261.6 627.4h0M261 631.8h0M260.3 628.5h0M261 630.3h0M262.2 628h0M261.4 632.8h0M258.6 629.9h0M260.5 631.1h0M263.1 627.2h0M260.9 633h0M262.2 632.4h0M261.6 627.6h0M281.6 643.9h0M274.8 641.5h0M277.5 642.6h0M279.7 642.3h0M275 641.6h0M279.4 642.3h0M281.6 642.4h0M281.1 644.6h0M276.2 644.7h0M274.7 643.5h0M280.8 643.6h0M279.5 641.6h0M278.7 643.8h0M278.4 643h0M278 643.5h0M273.9 642.8h0M277.9 643.5h0M278.3 644.4h0" stroke="#F8766D" stroke-width="2.0" stroke-linecap="round"/>
<path d="M252.1 643.2h0M262.8 642.4h0M254 659.5h0M263.5 643.3h0M253.3 650.7h0M256.7 650.6h0M259.7 650.2h0M262.7 641.4h0M264.4 651.9h0M258.2 641.6h0M247.6 656.2h0M252.8 654.4h0M252.4 643.3h0M261.7 660.2h0M248.5 665.2h0M262.8 646.9h0M255.6 668h0M248.5 651.9h0M254.1 642h0M255.6 648.5h0M256.9 648h0M255.2 653.8h0M252.1 665.3h0M259.1 665h0M261.1 656.9h0M257.5 660.9h0M264.6 649.7h0M258.3 653.9h0M258.8 652.7h0M261 646.8h0M260 644.1h0M251.5 643.9h0M262.7 641.8h0M250.9 649h0M253.6 660.9h0M257.8 666.2h0M259.9 649.4h0M258.3 656.3h0M254.2 642.3h0M254.8 659h0M261.2 645.1h0M247 664.2h0M264.2 643.8h0M257.4 658.6h0M256.7 641.1h0M250.9 657.3h0M255.8 662.5h0M261.2 650.5h0M264.7 652.1h0M260.9 648.4h0M256.6 660.6h0M263.9 647h0M259.2 655h0M261.2 656.3h0M253.5 653.1h0M248.2 654.5h0M254.8 641.1h0M256.3 651.9h0M250 648.6h0M246.9 662.1h0M252.1 652.7h0M258 666.6h0M261.7 639.8h0M253.7 667.7h0M256.6 640.7h0M249.8 649.6h0M250.4 660.9h0M248.5 662.5h0M262.9 660.1h0M255 668.7h0M256.7 655.6h0M254.1 643.3h0M254.8 640.7h0M254.9 668.2h0M264.8 651.9h0M246.6 657.8h0M249.7 659.2h0M259.4 658.9h0M248.2 654.9h0M258.5 642.5h0M248.6 658.1h0M254.3 648h0M257.8 641.2h0M248.6 663.9h0M256.7 663.7h0M261.4 640.8h0M261.7 658.6h0M262.4 654.4h0M259.7 663.2h0M255 641.7h0M251.7 647.5h0M256.2 664.2h0M261 653h0M259.4 655.9h0M257.3 651.3h0M250 654.1h0M264.8 650.4h0M255 668h0M262.9 650h0M251.2 651h0M253.7 661.4h0M253.5 644h0M252.2 644.6h0M252.8 644.5h0M258.1 653.3h0M263.5 640.9h0M256.2 644.3h0M251.4 643.8h0M260.8 639.6h0M246.9 655.4h0M254.6 668.7h0M259.1 652.9h0M262.1 640h0M257.8 662.2h0M252 665.4h0M248.3 663.4h0M255.2 644.8h0M253.6 663.6h0M259.8 664.1h0M257.5 641.6h0M251.3 648.2h0M260.8 643.4h0M251.9 657.4h0M263.6 648.3h0M262.1 642.6h0M261.1 656.2h0M254.7 642.8h0M258.1 648.1h0M259.1 655.2h0M259.3 659.8h0M259.6 664.3h0M254.5 650.6h0M264.7 645.6h0M259.7 653.1h0M254.1 657.4h0M263.7 656.4h0M251.2 656h0M247.8 655.5h0M251.7 666.5h0M261.2 641.7h0M255.8 663.9h0M254.5 648.2h0M260.8 651.7h0M251.6 661.6h0M262.9 653.7h0M255.2 667.9h0M258.4 652.5h0M265 653.7h0M258.5 644.6h0M252.5 651.5h0M259 653.4h0M252.9 655.9h0M259.2 662.5h0M255.7 641.8h0M255.7 658.8h0M249.3 649.5h0M255.9 648.9h0M248.8 659.7h0M263.8 644.3h0M254.2 642.3h0M254.9 649.7h0M249.4 652h0M259.1 642h0M263.6 643h0M257.9 653.1h0M250.4 653.6h0M256.6 639.5h0M249.8 665.3h0M257.1 648.9h0M252.8 657h0M260.2 646.9h0M259.3 650.6h0M256.1 655.9h0M260.9 660.9h0M258 639.4h0M257 648.1h0M263.8 652.6h0M252.4 666.4h0M249.8 658.6h0M249.9 648.2h0M262.5 640.8h0M248.4 650.7h0M252.1 650.7h0M247.3 657.7h0M256.1 664.9h0M252.1 648.1h0M257.9 661.8h0M260.1 639.6h0M258.6 644.9h0M258.8 659.4h0M248.2 661.3h0M251.9 647.9h0M261 651.7h0M255.7 642.8h0M256.5 650.6h0M262.8 652.6h0M261.1 661h0M254.8 642.4h0M253.9 667.2h0M248.8 649.5h0M254.9 658.7h0M260.4 642.5h0M248.2 651.5h0M252.1 667.4h0M251.1 646.4h0M258.4 656.3h0M257.7 648h0M263 646.6h0M260 646.8h0M256.5 658.3h0M261.1 654.2h0M262 661.1h0M255.9 666.1h0M263.3 652.7h0M250.8 658h0M251.8 653h0M261.4 646.4h0M256.4 644.6h0M263.2 643.4h0M254.1 665.3h0M252.8 668.7h0M260.1 655.9h0M255.4 663.2h0M259.9 640.7h0M259.7 645.8h0M260.2 646h0M258.1 648.2h0M259.6 641.3h0M256 647.5h0M261.5 660.6h0M255.9 658.6h0M254.9 647.2h0M257.9 665.3h0M253.3 655.2h0M251.5 651.2h0M249.5 668h0M254.7 659.9h0M252.2 644.7h0M257.5 653h0M250.4 662.4h0M261.7 651.1h0M262.3 650.8h0M252.5 665h0M248 661.3h0M250.4 661.6h0M251.7 644.7h0M263.2 652.9h0M256.6 646h0M254.1 650.4h0M253.7 646.7h0M254.5 667.8h0M258.5 646.1h0M264.5 649.4h0M257.7 644.3h0M260.9 642.1h0M258.5 664.4h0M259 658.3h0M262 643.1h0M256.4 663.8h0M261.9 642.6h0M262.6 644.4h0M255 647.2h0M251.1 668.9h0M259 664.2h0M253.7 664.1h0M253.4 654h0M256 656.3h0M256 639.8h0M252.6 660.4h0M265.1 649.3h0M255.9 667.9h0M264.8 647.1h0M251.6 647.4h0M253.1 662.5h0M261.5 642.5h0M262.5 653.9h0M252.9 664.2h0M257.7 645.4h0M251.6 645.5h0M255.3 658.8h0M250.2 668.4h0M260.6 638.9h0M260.3 657.5h0M258 662h0M255.8 663.2h0M259.1 646.8h0M248.9 662.6h0M262 656.9h0M253.8 648.5h0M257.3 653.2h0M261.9 650h0M254.5 662.1h0M249.2 658.9h0M256.3 641.5h0M256.2 654.3h0M250 668.5h0M255.7 645.5h0M258.5 639.2h0M265.3 651.4h0M253.5 660.2h0M260.6 644.2h0M250.5 652h0M258.5 661.4h0M252.1 664.5h0M259 663.8h0M252.6 648.6h0M255.2 644h0M264.3 655.5h0M261.7 652.1h0M250.4 665.4h0M250.7 660.3h0M251.8 660.1h0M254.7 667.8h0M259.5 655.6h0M250.3 655.9h0M248.7 660.2h0M256.8 651.9h0M258.2 665.6h0M257.4 662.4h0M248 651.1h0M251.6 660.2h0M247.2 664.5h0M255.2 650.3h0M252.4 653.3h0M253 663.2h0M265.1 651.5h0M254.5 663.7h0M254.7 644.7h0M262.6 643.9h0M254.7 647.3h0M255.9 640.4h0M264.6 655.8h0M261.2 656.8h0M254.8 640.7h0M252.4 660h0M248.7 652.7h0M248.8 655.1h0M254.1 650h0M252.4 657.8h0M252.8 663.9h0M255.6 639.9h0M259.6 654.3h0M257.3 660.8h0M260.7 642.9h0M252.4 669h0M251 648.5h0M249 650.8h0M264.2 645.1h0M256 645.1h0M252.5 647.3h0M264.3 652.7h0M257.8 654.2h0M261.9 659.5h0M260.3 662.4h0M260.8 653.7h0M256.1 660.1h0M257.3 644.2h0M259.5 652.8h0M253.1 660.8h0M255.8 641.9h0M253.5 664.7h0M261.4 640.7h0M249.2 663.3h0M253.4 660.2h0M252.9 647.2h0M264.6 654.6h0M249.9 664.9h0M262 654.4h0M257.1 651h0M251.8 664.8h0M257.8 647.9h0M256.3 639.6h0M259.8 658h0M254.7 646.9h0M252.5 666.8h0M256.7 662.8h0M251.2 664.6h0M252.4 663.7h0M257.6 640.3h0M258.9 643.8h0M253.4 663.8h0M261.6 658.2h0M254.6 664.4h0M251 662.6h0M259.8 645.9h0M261.9 643.4h0M255.8 643.1h0M252.3 644.7h0M263.8 658h0M251 652.7h0M259.3 662.5h0M250.6 646.6h0M250 651.1h0M259.4 664.2h0M248 657.9h0M252.2 643h0M253.3 659.4h0M253.5 645.1h0M259 655.3h0M256.6 657.5h0M262.3 656.1h0M257.6 651h0M259.3 647.3h0M258.7 663.9h0M256.8 661.6h0M257.9 656.9h0M248.8 650.7h0M251.8 650.8h0M256.1 653.6h0M255 650.3h0M252.9 653.6h0M256.1 643.9h0M252.2 646.5h0M261.5 643.9h0M258.1 666.3h0M255.5 641.8h0M256.5 652.5h0M254.4 661.6h0M249.9 648.6h0M256.5 662.4h0M255.8 654.5h0M260.1 655.4h0M263.5 651.9h0M252.2 652.5h0M264.2 652.6h0M255.3 653.2h0M247.8 666.1h0M248.9 661h0M254.5 648.2h0M261 640h0M256.3 663.2h0M254.7 658h0M260.4 658.5h0M252 651.7h0M250.2 664h0M259.6 651.7h0M261 641.6h0M256.2 661.1h0M263.5 641.5h0M253.1 645.1h0M249.5 665.1h0M261.4 649.1h0M252.6 648.5h0M248.3 660.1h0M261.8 649h0M252.6 656.3h0M252.7 645.3h0M257.6 643.1h0M247.8 660.8h0M264.3 644.2h0M253 646.9h0M258.2 657.2h0M248.2 664.8h0M250 652.9h0M260.2 655.2h0M256.2 640.1h0M260.3 647.6h0M252.3 650.8h0M251.5 646.5h0M261.4 644.2h0M259 647.2h0M257.1 658.4h0M261.6 647.4h0M255.3 652.1h0M261.2 647.2h0M249.7 655.4h0M256.2 662.4h0M261.8 648h0M256.3 662.9h0M257.7 644.4h0M263.4 657.4h0M255.8 659.6h0M257.2 641.4h0M248.3 663.8h0M256.6 665.8h0M252.9 662.2h0M260.9 655.9h0M259.9 648.1h0M253 665.9h0M257 640h0M247.8 652.2h0M259.6 649.7h0M256 654h0M247.5 656.9h0M258.9 641.8h0M261.3 663.1h0M250.5 660.7h0M256.8 656.8h0M257.2 663.6h0M249.7 650.3h0M257.6 657h0M256.5 667.4h0M247.7 664.3h0M265.1 646.1h0M258.2 649.8h0M249.2 665.5h0M249.6 653.9h0M251.6 667.8h0M259.1 648.4h0M252 656.7h0M256.5 653.3h0M247.5 664.4h0M252 669.2h0M247.8 655.6h0M250.3 655.4h0M257.7 646.5h0M255.6 651.7h0M259.8 643.6h0M249.9 656.9h0M253.9 644.8h0M254.9 656h0M258.2 640.8h0M255.9 661.6h0M254.2 649.6h0M264.5 643.6h0M262 644.8h0M262 647.9h0M255 645.1h0M260.5 640.9h0M250.5 653.6h0M253.6 654.1h0M254.8 652.7h0M260 650.7h0M263.1 644.9h0M259.4 662.7h0M248.7 664.8h0M252.3 646.1h0M261.9 641.3h0M261.8 644.1h0M256.6 643.6h0M252.6 647.1h0M265.1 649.1h0M255.5 661.7h0M247.6 658.2h0M254.6 666.8h0M254.2 668h0M251.6 657.6h0M263.4 645.5h0M254.3 658h0M262.4 657.3h0M255.6 659.8h0M255.3 649.6h0M255 661.1h0M257.8 652.3h0M255 661.2h0M260.7 654.3h0M262.2 659.7h0M254.2 646.9h0M261.6 647.6h0M247.1 658.3h0M253.6 648h0M251.7 645.7h0M248.1 660.9h0M246.8 662.3h0M263.6 642h0M251.5 656.9h0M247.8 651.1h0M253.1 663.5h0M255.4 661.2h0M257 654h0M256.3 666.7h0M260.1 663.4h0M257 643.9h0M256.4 666.9h0M254.6 667.6h0M262.6 659.8h0M253.4 648.1h0M262.9 658.4h0M263.3 642.1h0M262.9 653.8h0M248.4 665.7h0M261.6 657.8h0M250.4 657.2h0M261.4 651.9h0M255.9 658h0M255.5 644.2h0M251.4 650.6h0M255.1 655.7h0M252.7 658.5h0M251.4 648.6h0M255.9 644.6h0M256.6 647.2h0M254.3 655.8h0M262.4 659.7h0M254.5 642.8h0M253.2 645.6h0M263.4 652.6h0M247.2 655.1h0M251.9 652.3h0M263.1 657h0M254 647.5h0M251.3 661.5h0M254.2 666.2h0M259.9 652.3h0M263.4 651h0M258.7 640.7h0M255.5 650.8h0M259.9 649.3h0M258.6 639.7h0M250.7 653.1h0M261.5 647.1h0M251.4 664.9h0M264.7 646h0M250.8 646.5h0M265.4 651.8h0M257.5 650h0M262.2 648.7h0M250.8 663.1h0M262.8 644h0M263.5 651.8h0M252.9 647.2h0M256.6 653h0M263.1 640.6h0M263.1 648.7h0M264 652.9h0M258.4 644.8h0M258.4 656.8h0M262.8 652.1h0M248.6 654.6h0M259.7 661.3h0M254.4 661.7h0M259.6 664.6h0M252.5 664.2h0M251.7 644.7h0M256.6 659.4h0M255.9 667.4h0M251.8 650.7h0M250.9 668.9h0M256.6 647.1h0M253.3 661h0M264.4 644.9h0M250.4 667.8h0M255.2 641.4h0M253.8 650.2h0M258.5 657h0M255.3 641.6h0M262.5 642.4h0M261.3 657.2h0M255.5 663.7h0M246.8 660.4h0M257.3 651.8h0M262.3 647.1h0M258 665.6h0M259.7 642.3h0M260.8 654.3h0M254.1 667.8h0M248 658.5h0M252.6 661.7h0M262.4 641.8h0M258.6 639h0M263.7 648.7h0M253.5 643.4h0M255.5 642h0M262.9 651.7h0M248.8 648.7h0M258 653.7h0M249.8 647.8h0M258.4 664.7h0M262.9 651.8h0M259 649.2h0M255.3 660.5h0M262.9 647.5h0M249.8 648.9h0M258.5 652.6h0M251.4 665h0M259.2 652.1h0M253.6 658.9h0M250.7 666.6h0M255.8 651.3h0M258.2 649.2h0M263.9 651.4h0M253.7 664.7h0M256.5 641.6h0M252.1 661.7h0M252.7 652.7h0M252.5 651.1h0M252.2 650h0M257.8 640h0M257.9 655.7h0M264.4 652.5h0M257.3 645.6h0M254.7 668.4h0M250.1 660.6h0M256.9 665.4h0M263.7 648.4h0M253.2 660.6h0M261.3 646.5h0M257.8 644.5h0M261.1 658.2h0M249.8 649.8h0M248.6 658.9h0M255.2 666.5h0M260.5 664.1h0M255.3 664.4h0M258.5 648h0M253.7 648h0M252.5 662.1h0M258.3 643.3h0M249.9 648.8h0M257.7 650h0" stroke="#00BA38" stroke-width="2.0" stroke-linecap="round"/>
<text x="272.2" y="568" text-anchor="middle">E9.5</text>
<text x="347.7" y="673.5" text-anchor="end">n=2304 cells</text>
<text x="222" y="573" font-size="10.5" fill="#19b9b9" font-weight="bold">EC</text>
<text x="208" y="634.5" font-size="10.5" fill="#27a2ee" font-weight="bold">FM</text>
<text x="319" y="578.4" font-size="10.5" fill="#e8178a" font-weight="bold">CM</text>
<text x="259.7" y="622" font-size="10.5" fill="#f2703a" font-weight="bold">MP</text>
<text x="227.6" y="658" font-size="10.5" fill="#1a9a4a" font-weight="bold">NC</text>
<text x="319" y="644" font-size="10.5" fill="#b8a22a" font-weight="bold">EP</text>
<path d="M39.4 711.3h0M39.6 714.8h0M39.7 713.9h0M34.2 708.3h0M41.2 715.6h0M35.6 713.5h0M30.7 714.1h0M39.9 716.8h0M31.2 705.7h0M33.2 717.1h0M37.2 718.3h0M35.4 711.6h0M30.4 715.2h0M39.9 712.2h0M38.3 712.4h0M40.8 721h0M44.3 716.2h0M35.8 715.9h0M45.3 717h0M34.5 718.2h0M39.2 721.5h0M39.7 714.1h0M47.6 714h0M31.4 717h0M35.8 716.6h0M30.7 711.9h0M28.9 713.1h0M30.9 705.4h0M34.5 706.8h0M28.4 706.8h0M35.1 710h0M42.1 711.9h0M31.2 707.5h0M32.4 718.2h0M30.2 712.8h0M36.1 720.1h0M40.2 708.3h0M27.8 707.2h0M43.5 711.4h0M46.4 712.9h0M30.6 716.4h0M40.1 713h0M43.2 717.9h0M28.9 712.6h0M39.3 713.2h0M33.4 706.5h0M46.3 712.6h0M31.3 706.6h0M32 714.6h0M46.5 713.2h0M42.8 718.4h0M37.1 714.6h0M39.2 712.9h0M47.3 714.5h0M40.3 707.9h0M29.1 705.2h0M28.7 710.4h0M36.3 710.8h0M36.6 707.8h0M33.3 713.3h0M37.6 722.6h0M44.8 711.4h0M35.6 712.5h0M34.3 719.5h0M42.5 719.5h0M41.1 721.5h0M44.7 716.1h0M32.1 705.5h0M30.4 704.4h0M29.6 708.1h0M41 719.7h0M44.1 717.1h0M38.9 707.2h0M34.7 719.5h0M35.5 709.3h0M33.2 705.8h0M34.7 716.9h0M32.3 710.1h0M44.3 713.7h0M40 717.8h0M30 711.3h0M32.1 715.3h0M36.9 711.1h0M33.5 715.8h0M38 711h0M32.2 716.4h0M33.7 706.9h0M33.9 711.4h0M34.8 710.2h0M38.3 707.4h0M42.6 715.4h0M30.1 708.5h0M42.9 711.9h0M37.4 707h0M39.5 715.5h0M38.8 718.9h0M36.5 721h0M39.1 707h0M30.1 707.8h0M41.5 712.7h0M34.1 718.3h0M33.3 706.4h0M38.1 720.7h0M42.5 710.1h0M28 710.3h0M37.3 707.3h0M43 710.2h0M36.8 716.6h0M30.4 709.5h0M44.6 711.5h0M33.5 715.8h0M41.3 720.5h0M38.4 720.3h0M41.4 711.4h0M35 710.4h0M38.1 718.4h0M38.6 721h0M39 720.2h0M36.1 712.5h0M31.8 706.2h0M35.1 719.1h0M42.5 718.7h0M30 713.1h0M45.7 715.8h0M43.7 714.7h0M30.5 704.5h0M39.5 716.6h0M41.7 717.7h0M29.7 712h0M39 720.5h0M40.2 713.3h0M31.3 707.4h0M30.5 715h0M37.5 716.5h0M29.6 712.2h0M29.9 711.2h0M42.4 716.4h0M39.8 720.5h0M41.5 716.3h0M34.7 716.8h0M30.9 712h0M42.1 715h0M41.4 712.5h0M42.3 711.6h0M37.9 712.3h0M41.6 713.9h0M35.9 712h0M31.2 711.5h0M39.2 716h0M30.2 714.8h0M42.5 712.4h0M34.9 712.2h0M39.2 708.1h0M43.1 714h0M31.3 708.7h0M31.8 707h0M30.9 715.1h0M33 712.7h0M34.2 710.9h0M41.6 714.9h0M45.4 712.2h0M40 713.7h0M39.3 713.3h0M29.4 706.3h0M37.2 713.5h0M35.8 718.8h0M33.7 711.4h0M33.3 714.9h0M36.5 715.5h0M42.4 720.1h0M40 710.5h0M33.7 706.4h0M45.1 712.3h0M39.6 719.3h0M39.7 716.4h0M34.1 706h0M45.4 713.6h0M44.6 712.5h0M28.8 714.7h0M38.8 720.3h0M28.8 704.4h0M36.8 711.3h0M34.6 716.1h0M36.4 708h0M37.5 711.8h0M35.4 720.1h0M42.8 719.8h0M38.4 714.9h0M39.6 718.2h0M42.9 716.4h0M39.3 714.3h0M28.9 709.1h0M39.3 708.2h0M29.2 714.2h0M37.2 712.9h0M38.3 713.5h0M36.3 709h0M41.1 717.5h0M27.1 711.2h0M32.7 716.4h0M38.5 720.4h0M31 704.8h0M44.8 718.1h0M40.8 720.7h0M42.3 712.4h0M35.2 717.2h0M35.5 706.6h0M29.9 705.9h0M38.8 714.5h0M28.7 714.3h0M27.1 706h0M42 716.8h0M29.6 706.4h0M35.2 710.4h0M27.4 707.1h0M35.8 718.7h0M42.9 720h0M28.5 714.6h0M34.3 705.3h0M32 711.2h0M46.8 714.3h0M34.7 713.2h0M32.7 713.5h0M27.9 712.1h0M39.1 720.2h0M31.9 717.4h0M38.1 710.9h0M33.8 713.3h0M43.3 718.5h0M35.6 711.2h0M39.5 707.5h0M36.7 710.5h0M27.7 709.6h0M39.2 720.5h0M42.3 717.5h0M36.1 720.7h0M29.2 709.4h0M38.9 707.2h0M29.5 714.5h0M43.3 711.4h0M40.8 713.9h0M29.5 713.6h0M44.6 713.5h0M35.8 717.2h0M33.7 704.3h0M45.7 716.2h0M37.3 708.3h0M40.3 717.8h0M32.5 713.7h0M28 710.2h0M40.5 709.8h0M38.7 707.6h0M45.1 712h0M38.4 719.2h0M43.3 712.4h0M30.3 705.3h0M45.3 715.1h0M30.9 709.1h0M40.7 710.5h0M38.7 720.6h0M43.7 711.3h0M39.4 712.1h0M26.7 706.1h0M31.7 704.5h0M45.3 713.6h0M31.3 705.6h0M41 712h0M45.1 715.9h0M43.6 716.1h0M28 708.5h0M32.9 714.7h0M37 714.8h0M28.7 711.3h0M34.3 705.5h0M44.3 716.3h0M37.2 714.7h0M29.8 704.3h0M32 714h0M39.1 719.4h0M40.7 713.7h0M37.8 718.6h0M42.6 716.7h0M33.2 711.6h0M31.6 717.6h0M46.3 713.5h0M31 713.3h0M39.5 717.3h0M30.6 710.6h0M34.3 709.3h0M35.5 706.4h0M40.8 712.6h0M28.6 710.4h0M41.8 713h0M42.8 717.2h0M36.9 717.2h0M37 710.5h0M36.2 710.3h0M38.3 719.7h0M44.5 712h0M37.6 710.5h0M36.2 719h0M28 706.6h0M42.3 717.9h0M38.3 713.5h0M41.8 711.7h0M45.3 714.9h0M43.1 712.1h0M42.1 720.7h0M39 730h0M44.4 731h0M45 728.1h0M44.2 723.5h0M47.9 716.9h0M49.6 717.4h0M46.1 725.5h0M38.8 726.8h0M38.5 726h0M45.7 718.7h0M49.5 717.5h0M42.9 725.1h0M38.5 726.9h0M40.1 728.8h0M38 723.3h0M45.8 715.4h0M45.9 718.2h0M46.4 728.9h0M40.4 724.5h0M46.8 715.8h0M41.7 719.9h0M47 718.8h0M40 725.5h0M41.9 731h0M38.4 720.9h0M48.4 720.1h0M46.2 723.8h0M49.2 717.4h0M43.3 720.4h0M47.8 722.9h0M41.6 720.7h0M43.5 718.2h0M47.7 721.1h0M45.5 726.5h0M45.2 716.5h0M37.9 727.7h0M42.8 726.2h0M48.5 720.5h0M41.6 727.5h0M39 723.8h0M37.7 728.1h0M42.9 728.4h0M45 722h0M38 722.4h0M37.9 726.6h0M48.2 721.1h0M42.5 724.4h0M47.2 727.8h0M48.6 721.1h0M45.3 722.6h0M41.2 722.7h0M49.5 720.9h0M44.2 716.5h0M48.4 727.2h0M40.9 729.7h0M41.9 731.1h0M43.1 729.8h0M39.4 727.2h0M43.4 721.7h0M47.9 726.3h0M45.3 726.3h0M44.2 727.7h0M46.5 727.3h0M44.1 716.8h0M43.3 722.4h0M38.9 720.1h0M43 728.8h0M44.8 731.1h0M48.7 725.9h0M45.4 729.7h0M41.2 719.3h0M42.3 720.8h0M44.1 726.6h0M42.2 725.3h0M41.1 725.4h0M43 720.1h0M45.8 729.8h0M46.2 727.9h0M40.1 720.4h0M43.4 729.6h0M46.5 721.8h0M43.2 726.3h0M40.7 721h0M39.9 720.7h0M41.2 723.4h0M46.9 725.3h0M46.7 724.8h0M43.2 730.5h0M41.3 728.3h0M41.3 722.5h0M41.8 728.8h0M48.7 725.2h0M48.8 719.3h0M43 720.5h0M49.4 718.8h0M44.9 718.7h0M45.2 725.8h0M48.8 721h0M38.8 727.7h0M39.7 722.2h0M41.3 721.1h0M43.1 720.5h0M42.4 722.7h0M49 716.9h0M44.3 720.6h0M49 719.6h0M42.7 722.4h0M46.4 718.9h0M39.6 726.4h0M45.9 724.6h0M45.2 719.8h0M48.1 719.1h0M49 720.5h0M45.1 723.3h0M43.4 732h0M42.8 728.2h0M48.5 719.7h0M43.8 716.9h0M46.3 725h0M44.4 724.2h0M47.2 721.8h0M41.3 721h0M42 719.4h0M48.1 717.3h0M46.8 725.8h0M47.4 725.3h0M42.9 726.6h0M41.2 718.6h0M46.1 724.3h0M40.6 730.2h0M48.8 716.6h0M37.8 727.3h0M47.9 727h0M41.7 723h0M64.6 712.2h0M63.7 715.1h0M51.6 722.4h0M56.2 713.9h0M54.6 718.2h0M61.1 710.9h0M52.8 715.4h0M60.1 715h0M57.3 713.4h0M63.8 714.4h0M58.2 719.5h0M60.9 718.5h0M58.5 720.2h0M49.3 724.9h0M49.3 714.6h0M55.8 717h0M63.4 713h0M53.2 716.8h0M54.8 719.8h0M62.2 715.2h0M59.8 712.4h0M59 718.3h0M55.8 719.5h0M50 721.7h0M48.6 714.4h0M56.9 712.9h0M50.4 713.7h0M50.3 720.1h0M63.6 714.1h0M58.6 719.9h0M56.4 719.4h0M58.9 715.6h0M52.3 714h0M64.1 714h0M50.2 715.5h0M63 711.7h0M55.8 716.2h0M57.8 718.7h0M63.9 716.3h0M61.1 717.9h0M53.8 717.3h0M58.7 720h0M53.5 722h0M53.7 719.4h0M54.8 720.2h0M54.6 713.9h0M49.3 716.3h0M60.8 713.2h0M51.2 719h0M61.3 712.5h0M52.6 720.1h0M58 716h0M59 714.5h0M62.4 717.6h0M55.9 720.1h0M58.4 719h0M58.3 716.5h0M57.4 718.8h0M63 717h0M54.3 716.8h0M54.9 716.9h0M53.4 720.5h0M61.2 715.1h0M60.3 719h0M57.7 713.3h0M55.9 716.7h0M55.6 721.6h0M54.9 715.5h0M54.7 721.2h0M61.8 713.4h0M55 718.9h0M56.4 718.1h0M53.8 714.7h0M58.9 718.3h0M51.3 722.2h0M58.8 717.6h0M54.9 715.9h0M52.1 715.2h0M52.3 716h0M62.3 717.4h0M51.4 723.9h0M49.6 714.1h0M51.6 717.5h0M53.7 714.9h0M59.5 716h0M53.9 716.6h0M61.8 711h0M53.9 713.9h0M54.8 717.7h0M63 716h0M50 719.9h0M56.1 721h0M58.5 719.2h0M56.3 713.2h0M49.5 717.4h0M59.2 716.3h0M53.9 722h0M54 715h0M46.4 738.7h0M44.9 733.6h0M44.4 733.5h0M45.6 733.5h0M45.3 734.7h0M44.9 732.4h0M44.8 733.5h0M46.2 738.7h0M44.6 734.1h0" stroke="#00BFC4" stroke-width="2.0" stroke-linecap="round"/>
<path d="M46.7 744.2h0M46.2 742.7h0M45.2 744.3h0M43.6 746.4h0M46.9 738.6h0M45.5 740.4h0M46.8 739.5h0M47.6 742.5h0M44.8 745.7h0M44.2 741.1h0M55 748.7h0M51.9 744.8h0M46.7 738.7h0M51.1 745.5h0M52.5 742.6h0M52.3 749.7h0M53.2 747.8h0M53.1 743.2h0M47.3 747.6h0M44.2 744.5h0M54.4 744.9h0M44.4 742.4h0M47.7 749.3h0M43.7 745.7h0M45 745.5h0M55 744.9h0M45.7 741.3h0M50.3 740.5h0M44.9 742.8h0M44.3 741.9h0M48 743.6h0M47.1 747h0M52 740h0M45.2 748.7h0M51.3 739.1h0M48.9 742h0M53.8 748.6h0M46.9 743.5h0M45.7 742.1h0M44.3 742h0M53.4 748h0M48.5 739.9h0M44.5 748.5h0M47.6 738.3h0M47.1 749h0M52.4 746.2h0M43.1 741.7h0M53 740.7h0M49.3 750.7h0M48.4 749.6h0M44.2 741.8h0M51 742.8h0M46.8 742.8h0M49.8 741.9h0M50.7 743.7h0M44.3 739.5h0M51.6 741.5h0M52.7 743.9h0M49.2 747.4h0M56 744.2h0M51.3 751.3h0M46.3 745.7h0M50.5 741.8h0M51.9 740.9h0M57 747.2h0M45 747.5h0M55.8 746.6h0M47.3 747h0M43.5 742.4h0M47.4 750.8h0M44.4 740.7h0M46.8 751.2h0M54.6 748.6h0M48.4 750.1h0M47.9 741.1h0M44 742.2h0M52.4 747.8h0M48.6 742.5h0M46 749.1h0M56 748.8h0M47.5 747.1h0M51.7 749.3h0M49.5 738.7h0M43.2 744.4h0M55.9 747h0M55.3 749.4h0M47.7 744.2h0M50.7 745.2h0M49.8 738.6h0M52.3 740.9h0M46.7 740.9h0M55.1 750h0M44.9 744h0M44.8 745.4h0M50.4 743.7h0M56.1 749.9h0M52.3 742.8h0M44.4 748.4h0M46.2 745.2h0M48.6 744.9h0M50.6 740.8h0M47 749.8h0M54.7 747.7h0M50.8 748.8h0M51.3 740h0M51.5 742.9h0M47.2 738.4h0M48.1 748.8h0M45.8 744.2h0M46.5 745.3h0M52.4 748.5h0M51.2 749.2h0M45.7 750.2h0M47.2 750.9h0M51.7 746.4h0M52.1 741.1h0M56.9 749.1h0M47.2 743.4h0M51.7 747h0M47.5 749.5h0M43.4 742.8h0M55.9 749.8h0M57.1 747.7h0M49.2 749.1h0M51.8 748.8h0M44.8 749.4h0M51.8 747.3h0M48.5 745.3h0M43.8 741.6h0M54.1 745.4h0M51.9 745h0M50.1 745.1h0M52.7 744.4h0M47.8 746.9h0M55.6 743.2h0M46.8 743.6h0M51.3 743.9h0M50.1 747.5h0M44.4 743.1h0M50.7 740h0M55.4 747.6h0M46.3 747h0M51 748.2h0M51.1 750.3h0M51 744.4h0M46 742.1h0M48.5 738.1h0M50 745h0M43.7 748.4h0M44.9 748.3h0M56.3 747.9h0M48.2 738.1h0M51.4 747.2h0M46.9 746.9h0M56.2 745.1h0M47.2 750.9h0M50.3 741.3h0M50.8 742.5h0M48.5 744h0M43.5 743h0M54.1 742.2h0M51.9 741.1h0M42.6 745.7h0M54.7 750.1h0M49.5 747.3h0M47.2 738.5h0M50.8 747.9h0M47.9 740.3h0M48.5 745.9h0M45.9 745.1h0M47.3 751h0M54.8 748.7h0M54 745.9h0M47 750.8h0M55.3 747.7h0M48.7 741.9h0M54.3 743.9h0M46.3 739.1h0M44.6 745.7h0M55.1 746.9h0M52 740.2h0M55.1 745.4h0M51.2 742.3h0M44.3 740.6h0M48.2 744.2h0M49.3 740.1h0M44.9 741.5h0M46 740.1h0M48.5 744.6h0M46.9 747.6h0M45.2 742h0M53.5 744.7h0M46.8 751h0M47.8 739.9h0M50.9 750.5h0M50.1 746.7h0M45.7 737.4h0M56.7 747.4h0M53.8 743.5h0M48.4 743.7h0M46.5 740.8h0M46.8 738.4h0M51.4 749.6h0M47.6 738.9h0M48 751.1h0M50.1 743.2h0M48.9 743.9h0M50.8 741.9h0M48.2 745.7h0M45.7 737.9h0M47.4 747.9h0M52.7 745.6h0M43.9 746.5h0M56.2 745.3h0M48.9 739.5h0M43.5 742.8h0M53.5 741.6h0M55.1 745.1h0M50.7 743h0M52.1 745.1h0M53.6 748.6h0M49.5 744.3h0M46.8 744.3h0M45.7 742.5h0M47.1 742.3h0M48.4 742.2h0M45.7 745.7h0M55.1 748.2h0M52.7 741.1h0M46.6 738.8h0M47.4 741.1h0M62 757.6h0M58.1 753.7h0M56.5 751.8h0M54.5 750.4h0M61.6 756.1h0M59.9 753.8h0M58.3 754.2h0M55.9 751.4h0M61.1 755.7h0M62.5 757.4h0M61 754.5h0M61 755.9h0M56.3 751.7h0M56.3 750.4h0M58.6 752.9h0M62.6 756.2h0M55.6 749.6h0M60.9 755.7h0M58.7 753.9h0M61.4 756.6h0M56.6 750.9h0M59.6 754.6h0M60.9 754.8h0M56 751.3h0M60.8 756.9h0M61.2 755.3h0M59.4 755.7h0M59.7 754.7h0M61.4 756.3h0M58.7 753.2h0M56.4 750.7h0M64.5 759.5h0M63.3 759.2h0M60.4 757.5h0M64 760.4h0M66.1 761.6h0M64.9 758.9h0M65.9 759.7h0M64.3 761.4h0M60 757.2h0M60.2 757.7h0M61.5 761.2h0M64.3 759.1h0M65.2 761.3h0M64.3 758.7h0M60.3 757.9h0M66.1 761h0M65.9 761.4h0M62.7 758.5h0M65.2 762h0M63.7 761h0M65.5 759h0M65.4 761.5h0M60.8 761h0M63.8 757.6h0M63.8 761.8h0M66.2 761.2h0M62.4 761h0M63.4 759.9h0M62.6 759.4h0M62.2 759.9h0M62.4 757.9h0M65.9 762.6h0M63.4 758.9h0M63.3 757.6h0M65.5 759.5h0M63.2 758.3h0M66.4 760.6h0M62.3 757.5h0" stroke="#619CFF" stroke-width="2.0" stroke-linecap="round"/>
<path d="M149.2 718.4h0M143.6 722.8h0M145.7 717.7h0M132.3 713.5h0M132.5 722.4h0M137.1 705.7h0M134.2 714.6h0M139.1 717.2h0M146.3 721h0M136 710.6h0M126.1 721h0M133.7 712h0M128 718.3h0M120.5 717h0M142.2 725.1h0M138.2 704.7h0M120.2 722h0M128.8 710.3h0M143.7 720.5h0M148.9 721.4h0M139.8 714.6h0M124.4 720.5h0M123.5 711.5h0M126.9 713h0M132.6 707.7h0M128.6 724h0M144.7 722.7h0M143 719.4h0M129.7 708h0M124.3 711.5h0M138.2 712.8h0M121.2 719.7h0M138.3 704h0M144 722.7h0M130.1 718.9h0M137.6 710h0M132.9 722.5h0M121.3 715.3h0M125 722.6h0M136.1 713.6h0M138.6 701.9h0M136.9 723.6h0M125.3 718.5h0M136.8 722.5h0M150.2 725.5h0M143.1 720.4h0M147 719.7h0M127.3 711.4h0M125.4 722.1h0M132.8 706h0M139.9 710.2h0M141.4 722.1h0M137.5 714.3h0M139.6 715.8h0M131.6 722.9h0M138.4 706.9h0M127.9 713.4h0M137.1 705.5h0M138.8 720h0M133.3 723.8h0M143.5 717.6h0M139.2 717.1h0M148 720.4h0M138 702h0M138.9 716.3h0M147.6 725.2h0M133.5 702.4h0M140.3 717.2h0M138.2 707.1h0M130.8 708.7h0M128.6 711.3h0M139.1 714.4h0M134 725.1h0M125.1 710.7h0M136.1 725h0M130 709.2h0M123.4 712.9h0M136 717.8h0M122.6 712.4h0M141.9 716.7h0M128.7 708.3h0M128 719.8h0M128.4 723.2h0M145.8 725.1h0M119.8 720.8h0M137.8 710.2h0M140 723.9h0M143.1 720.6h0M135.3 725.1h0M131.9 720h0M125.7 720h0M126.8 709.9h0M126.5 711.2h0M132.9 717.5h0M144.4 724.7h0M129 717.9h0M142.5 720.5h0M140.3 703.1h0M138.5 719.9h0M127.5 711.3h0M140.9 724.1h0M141.3 720.5h0M139.1 718.6h0M138.5 705.8h0M128.1 709h0M127.6 725.2h0M129.2 710.7h0M125.4 721.7h0M136.1 716.4h0M132.8 714.8h0M145.9 721.8h0M138.4 704.7h0M130.8 716.5h0M128.5 709.2h0M139.2 703.8h0M137.8 705.9h0M126.9 713.9h0M143.8 719.3h0M130.4 717.1h0M131 722.4h0M120.2 712.3h0M140 707.4h0M139.7 713.9h0M127.8 717.2h0M120.3 721.6h0M122.4 717.2h0M119.6 713.4h0M127.3 720.4h0M143.3 722h0M131.8 715.8h0M122.8 724.1h0M132 719.3h0M135.4 722.2h0M144.3 722.7h0M133.8 722.7h0M123 712.4h0M133.7 708.5h0M138.5 708.5h0M133 725.5h0M127.6 717.6h0M126.9 718.5h0M136.3 704.3h0M122.3 714.6h0M146.3 718.4h0M127.1 712.8h0M132.8 708.2h0M127.1 725.2h0M145.5 720.8h0M140.7 716.1h0M132.7 704.5h0M122.1 713.5h0M140.9 717.7h0M131.5 721.2h0M148.5 727.6h0M127.9 711.9h0M129.8 712.8h0M131.3 714.7h0M138.5 705.4h0M121.3 715.8h0M136.6 711.8h0M140.4 718.1h0M133.5 702.7h0M134.9 709.9h0M123.9 713.9h0M129.6 722h0M133.3 709h0M127.2 724.3h0M131.6 709.2h0M136.5 710.3h0M138.4 701.9h0M144.8 724.7h0M120.9 719.4h0M151 725.8h0M127.5 712.1h0M137.3 723.5h0M127 721.3h0M146.3 717.8h0M129.8 719.6h0M123.9 721.5h0M131.3 708.9h0M122.2 712h0M137.9 707.4h0M136.2 701.1h0M124.8 722.7h0M139.5 706.7h0M141.2 722.8h0M129.7 711.5h0M134.8 720.7h0M142.9 721.8h0M118.3 717.4h0M138.8 708.1h0M134.6 724.5h0M139.2 711.8h0M134.6 708.9h0M147.2 718.6h0M141.2 706.4h0M128.4 726.3h0M136.9 707.5h0M136.5 702.6h0M130.3 722.9h0M136.3 712.3h0M137.7 710.3h0M148.2 719.2h0M128.3 707.7h0M149.9 721.5h0M136.6 702.4h0M118.3 717.5h0M122.9 714.4h0M134.4 708.9h0M124.1 716.4h0M135.7 725.2h0M131.5 705h0M130.7 720.4h0M134 703.7h0M121.3 719.4h0M141.2 718.8h0M150.5 728.2h0M141.1 723.5h0M127.2 713h0M140.3 719.5h0M140.4 710h0M133.8 721.6h0M128.4 708h0M135.6 717.7h0M133.9 708.6h0M137.5 702.9h0M142 718.9h0M149.5 727.4h0M121.2 711.8h0M134.5 704.2h0M150.7 722.3h0M150.1 720.4h0M131.4 720h0M147.4 719.4h0M127.2 726.2h0M126.6 726.4h0M123.7 720.7h0M132.5 711.5h0M125.3 710.1h0M146.4 721.9h0M123.5 714.9h0M148.5 722.6h0M148 719.7h0M123.6 714.1h0M134.2 716.1h0M129.1 723.2h0M125.6 720.2h0M138.2 702.3h0M128.7 714.2h0M122.8 721.7h0M131 722.1h0M119.7 719.2h0M129.1 724.5h0M130 711.1h0M135.7 709.7h0M141.7 715.1h0M134.4 709.9h0M140.5 712.8h0M134.9 706.3h0M125.5 725.9h0M144.6 724.6h0M121.6 716.9h0M120.1 711.5h0M142.8 722.7h0M139.6 723.5h0M133.7 719.1h0M132.2 720.9h0M132.1 707.4h0M132.5 724.7h0M126.6 714.1h0M121.2 723.1h0M125.4 718.8h0M138.5 718.7h0M141 707.6h0M124.5 711.7h0M138.3 708h0M126.5 712.3h0M129.9 707.4h0M138.4 706.4h0M127 709.7h0M133.9 701.4h0M138.7 706.9h0M132.5 704.4h0M133 722.6h0M136.2 721.8h0M144 718.9h0M121.9 719.4h0M125.2 716.1h0M138.9 717.7h0M139.4 715.4h0M134.6 723.2h0M130.1 713.6h0M127.5 719.8h0M142.4 719.5h0M126.3 719.9h0M137.6 721h0M125.1 726.2h0M133 702.1h0M137.8 711h0M126.5 710.6h0M128.5 712.7h0M141.9 723.5h0M147.4 721.3h0M140.8 723.8h0M127.3 709.1h0M132.7 725.6h0M118.5 717.8h0M139.1 721.5h0M137.2 707.1h0M131.2 705.1h0M145.5 719.4h0M133.4 719.9h0M135.7 720.4h0M121.6 713.7h0M122.9 716.3h0M134.2 703.1h0M134.7 714.9h0M138.6 712.2h0M121 722.2h0M125.2 720.3h0M139.6 711.1h0M126.9 710h0M135.3 704.2h0M133.6 709.7h0M123.9 711h0M137.9 712.5h0M149.4 727h0M137 710.1h0M142 721.7h0M127.3 712.7h0M127.6 711.5h0M119.6 717h0M140.5 724.1h0M136.1 704.7h0M118.8 717.2h0M125.8 709.5h0M133 704h0M139.1 714.8h0M139.4 721.1h0M142.1 718h0M123.9 714.7h0M121.4 720.2h0M139.1 714.6h0M150.5 727.1h0M130.3 709.9h0M133.3 720.7h0M132.3 713.8h0M124.8 719.7h0M123.1 711.3h0M131.1 719.4h0M134.1 707.1h0M138.5 719.6h0M139.6 721.4h0M124.9 718.8h0M143.3 723.3h0M133.4 701.6h0M143.9 724h0M122.1 724h0M132.3 716.6h0M121.6 722.1h0M122.5 718.1h0M134.9 716h0M144.8 725.6h0M131.5 710.2h0M124 713.4h0M135.9 723.9h0M139 720.7h0M120 711.8h0M138.6 713.5h0M140.1 707.9h0M139.3 718.5h0M139.4 721.4h0M135.4 701.6h0M146.8 724.2h0M127 718.5h0M126.8 712.5h0M144.8 720.3h0M132.4 706.6h0M137.5 723.4h0M136.3 713.2h0M128.6 724.6h0M150 727.3h0M143.9 719.8h0M132.1 713h0M126.5 727h0M122.5 710.8h0M143.5 719.3h0M140.1 716.4h0M136.9 710.3h0M139.2 702.3h0M136.7 722.1h0M133.2 716.1h0M128.7 716.2h0M141.4 712.7h0M122.3 717.3h0M130.5 708.5h0M121.1 711.2h0M128.3 710.5h0M118.3 716.7h0M148.2 718.2h0M139.6 719.3h0M131.7 706.8h0M132.2 721.2h0M132.4 704.4h0M138.4 706h0M149.4 725.3h0M133.6 721h0M126.7 726.2h0M140.4 717.1h0M128.3 714.7h0M119.7 713.6h0M139.6 708.9h0M119.3 719.2h0M133.1 724.8h0M148.4 719.1h0M133.3 708.5h0M149.3 726.9h0M157.5 737.8h0M153.2 732.7h0M153 730.8h0M155.5 735.7h0M153 732.3h0M151.2 729.4h0M154.4 733.9h0M151.8 729.2h0M157.1 738.4h0M152.2 731h0M154.5 732.6h0M152.1 729.3h0M152.5 729.1h0M155.5 735.8h0M156.6 734.9h0M152.5 729.4h0M156.2 735.5h0M156.7 737.2h0M155.8 735.5h0M153.1 731.4h0M155 735.2h0M167.1 755.7h0M172.4 745.6h0M170.7 756.9h0M171.5 751.5h0M169.9 741.6h0M172.3 748.1h0M166.6 735.3h0M169.6 743.6h0M167.3 751.6h0M167.1 752.9h0M167.9 757.2h0M177.1 748.9h0M168.5 758h0M169 734.4h0M168 738.7h0M165.3 752.1h0M165.2 752.7h0M176.5 749.4h0M167.5 746.4h0M173.9 757.5h0M163.1 751.7h0M161.5 750.2h0M166.8 751.8h0M171 755.5h0M168.8 751.6h0M167.6 733.5h0M169.4 741.4h0M168.5 735.4h0M166.9 750.2h0M173.4 756.1h0M177.3 750.3h0M164.9 755.2h0M167.3 738.9h0M171.7 756h0M167.8 755h0M173.2 749.7h0M169.2 740.7h0M167.7 755.2h0M173.1 756.9h0M164.8 755.1h0M165.7 757.2h0M169 733h0M167.6 757.6h0M164.9 756.8h0M163.8 753.2h0M173 752.6h0M172.3 750.7h0M170.7 754.4h0M168.6 741.3h0M171.1 741h0M176.9 751.8h0M169 738.4h0M172 750.8h0M168.6 742.5h0M171.5 743.9h0M166.9 757.3h0M167.4 752.2h0M167.9 753.2h0M177.7 751.8h0M171.3 750.5h0M175.3 752.5h0M171.1 739.3h0M171.7 754.9h0M171 737.1h0M174.6 752.7h0M170.3 743h0M167.3 734.4h0M174.6 756.9h0M169.6 746.5h0M166.9 756.9h0M174.3 754.3h0M161.3 752.9h0M167 740.4h0M170 732.8h0M173.5 745.9h0M170.2 755.2h0M169.4 734.7h0M168.9 745.4h0M167.5 741.3h0M169.8 749h0M161 753.3h0M169.4 754.4h0M168.2 734.5h0M169.8 756.1h0M161.3 753h0M171.4 746.6h0M168.1 754.3h0M166.4 732.4h0M166.7 753.1h0M168.6 753.2h0M170.3 735.5h0M167.6 733.6h0M170.2 757.4h0M172 746h0M174.5 747.9h0M167.1 748.1h0M175.9 754.7h0M165.3 755.7h0M167.9 735.5h0M169.2 755.9h0M169 744.8h0M174.3 746.5h0M160.3 751.9h0M167.1 755.7h0M167.6 748.4h0M175.8 754.2h0M170.6 737.5h0M165.4 748.6h0M169.1 755.5h0M160.6 752.5h0M174.6 751.5h0M167 756.3h0M163.3 755.5h0M172.8 750.6h0M166.9 740h0M163.7 751.2h0M176.5 748.7h0M171.4 748.4h0M168.4 756.5h0M171.2 737.5h0M171.7 756.2h0M168.2 741.1h0M167.9 737.1h0M168.6 732.6h0M164.1 753.8h0M162.8 750.9h0M170 754.7h0M168.6 744.4h0M167 757.5h0M169.3 745.7h0M169.7 749.3h0M170.5 747h0M168.7 752.7h0M163.2 751h0M172.5 755.4h0M167.6 746.7h0M171.5 755h0M169.1 750.8h0M173.8 750.2h0M167.3 741h0M170.9 754.6h0M168.4 733.9h0M170.6 735.2h0M167.4 734.9h0M171 740.8h0M164.5 756.2h0M166.7 748.5h0M168.5 735.9h0M167.5 739.5h0M171.3 738h0M169.8 737h0M170.1 742.5h0M171.3 755.5h0M167.9 752.8h0M173.4 750.4h0M173.7 756.2h0M165.4 748h0M171.5 738.6h0M163 751.7h0M164.5 751.7h0M168.5 756.4h0M161.9 751h0M162.1 754.1h0M172.1 757.6h0M164.3 755.6h0M167.4 734h0M175.5 753.6h0M168.3 751.9h0M168.1 751.5h0M173.2 757.6h0M170.8 744.3h0M167.2 736.3h0M171.4 754.2h0M166.6 750.5h0M166.8 733.5h0M168.6 746.4h0M171.7 753.8h0M166.6 750.2h0M167.9 753.3h0M122.8 731.9h0M122.6 734h0M117.1 749.5h0M122.9 735.5h0M116 755h0M116.9 749.8h0M116.8 751.5h0M122.1 737.3h0M119.5 745.1h0M114.5 756.8h0M121 741.4h0M121.3 739.4h0M123.6 732.5h0M123.7 730.2h0M115.9 752.6h0M118.2 749.8h0M117.1 750.8h0M117.3 747.9h0M116.4 757.7h0M123.2 731.9h0M123.8 731.7h0M122.4 730.4h0M123.1 729.3h0M122.7 731.6h0M117.1 753.7h0M120.1 743.9h0M118.9 747.1h0M123.2 731.8h0M117.2 755.2h0M122.1 732.6h0M121.2 738.8h0M119.8 743.1h0M115.7 758.1h0M124.8 728h0M123.5 732h0M121.8 734.5h0M119.6 745.4h0M123.7 731.3h0M122.9 735.7h0M115.8 754.8h0M122.1 733.9h0M118.2 744.7h0M116.8 750h0M121.5 734.5h0M116.7 754.5h0M123.9 727.6h0M117 751.8h0M123.4 730.2h0M113.4 773.6h0M115.7 762.4h0M112.7 770.9h0M113.6 769.1h0M113.5 761.5h0M114.6 762.4h0M112.8 772.3h0M116 762h0M112.5 776.9h0M114.8 760.3h0M115.5 763.2h0M115 762h0M113.6 759.8h0M113.9 769.1h0M114.5 763.7h0M115.8 760.1h0M114 758.9h0M111 768.2h0M111.7 775.8h0M113.3 769.6h0M113.3 764.1h0M111.3 775.4h0M110 773.9h0M113.4 767.2h0M112.7 763.2h0M113.7 772.3h0M112.9 769.5h0M111.7 775.8h0M112 774.5h0M113.3 766.2h0M113.9 765.4h0M114.1 760.1h0M114 759.5h0M113.5 764h0M112.6 767.3h0M113.9 767.5h0" stroke="#F564E3" stroke-width="2.0" stroke-linecap="round"/>
<path d="M150.4 756.9h0M154.8 751.9h0M152.4 755.3h0M148 757h0M152.3 754.2h0M148.1 757.4h0M155.2 751.4h0M152.2 756h0M150.2 756.2h0M155.5 751.4h0M151.9 754.2h0M155.2 750.6h0M151.7 756.3h0M148.8 756.3h0M155.3 752.3h0M150.6 755.7h0M149.3 755.6h0M156.2 750.8h0M147.2 758.5h0M154.6 750.1h0M151.9 756h0M154.6 753.4h0M153.3 754h0M152.8 754.6h0M150.5 757.2h0M154.7 751.7h0M154.5 753.4h0M153.5 753h0M147.5 758.8h0M155.6 750.6h0M149.6 756.8h0M156.8 749.2h0M156.2 749.9h0M155.5 750.7h0M151.3 755.1h0M154.7 752.2h0M154.1 750.7h0M155.7 749.7h0M152.7 754.4h0M155.2 752.7h0M152.2 753.8h0M148.6 758.7h0M149.4 758.7h0M154.5 751.1h0M151.3 756.4h0M156.1 750.5h0M154.1 752.9h0M151.5 756.4h0M152.9 754.3h0M154.1 750.8h0M152.7 755.5h0M148.3 756.7h0M149.4 758.3h0M149.5 755.6h0M151.3 754.9h0M153.9 751h0M156.7 749.6h0M154.3 753h0M149.1 757.7h0M151.7 754.5h0M154.3 752h0M153 752.8h0M147.5 758.5h0M149.7 757.4h0M149.1 759.3h0M154 751.9h0M151.5 754.8h0M155.1 752.7h0M142.8 764.6h0M136.4 764.9h0M144.3 769.6h0M135.8 762.4h0M139.9 765.1h0M145.3 764.9h0M138.8 767.4h0M137.3 767.2h0M136.5 763h0M138.1 769.6h0M142.3 765.4h0M137.6 764.9h0M136.4 762.2h0M138.2 763.7h0M143.6 767.3h0M134.8 767.5h0M135.7 764.3h0M143.7 766h0M136.4 766.9h0M134.3 763.4h0M145.8 764.2h0M140.7 761.7h0M145.9 766h0M135.8 766.8h0M141.1 763.2h0M137.1 762.7h0M137.1 769.6h0M135.2 767.6h0M140.2 763.8h0M144 767.8h0M141.6 770.1h0M144.5 769.6h0M134.2 764.2h0M136.3 770.2h0M145.4 768.7h0M143.1 763.9h0M143.7 764.8h0M145.6 767.8h0M137.3 765.8h0M144.5 770.6h0M135.1 767.5h0M139.5 761.6h0M144 761.7h0M144.9 763.4h0M139.5 765.6h0M139.5 770.6h0M142.3 765.5h0M134.4 769.3h0M137.7 763.4h0M138.3 767.2h0M145.7 770.5h0M139.2 764.9h0M145 762.8h0M137.4 769.6h0M141.8 768.7h0M139.7 765.2h0M140.2 768.9h0M138.8 763.2h0M146.2 768.3h0M138.1 764.6h0M136.1 770.6h0M135.5 770h0M134.3 768.3h0M143.3 765.3h0M134.4 769.8h0M139 769.7h0M135.1 762.9h0M143.3 766.8h0M140.5 761.7h0M139.7 765h0M142.6 763.9h0M139.8 767.3h0M134.2 764.5h0M135.5 769h0M136.9 767.4h0M142.7 765.8h0M139.6 781.4h0M134.4 781.6h0M136.5 785.2h0M142.7 782.9h0M129.8 776.3h0M137.5 783.1h0M133.7 774h0M139.2 786.2h0M142.4 778.3h0M144.8 776h0M132.9 782.6h0M135.2 771.8h0M135.2 779.4h0M130.3 776.9h0M131.1 774.7h0M145.1 781.7h0M134.6 773.8h0M142.7 778.4h0M134.5 774.4h0M133.9 784.3h0M129.2 773.2h0M141.4 771.6h0M133.3 784.8h0M135.7 779.6h0M138.2 775.2h0M138 772.7h0M145.4 775.7h0M134.2 782.9h0M136.2 772.5h0M130.8 778.8h0M134.7 786.5h0M141.7 777h0M144.3 775.6h0M131.4 774.6h0M136.9 777.7h0M144.1 778.2h0M137.8 782.6h0M132.1 781.3h0M136.5 779.3h0M129.5 775.3h0M140.6 774.7h0M139.4 778h0M139.2 779.4h0M139.5 775.5h0M131.6 773.5h0M143.8 778.2h0M130.4 775.4h0M142 778h0M143.3 777.9h0M140.2 775.8h0M137.3 777.6h0M136.2 771.5h0M144.1 779.7h0M141 781.7h0M134.2 779.5h0M137 777.5h0M134 783.2h0M136 772.4h0M140.9 780.6h0M144.2 779h0M132.4 774.6h0M137.2 784.4h0M133.6 777.4h0M134.9 786.2h0M143.2 779.3h0M143.3 785.5h0M138 776.1h0M131.4 780.8h0M144.3 776.7h0M139.4 785.6h0M134.4 771.3h0M135.4 778.6h0M141.4 781.7h0M142.4 782.6h0M137 772.7h0M145.3 780.9h0M134.6 777.8h0M132.4 772.7h0M131.6 777.3h0M132.9 786.2h0M138 782.3h0M137.7 781.8h0M140.9 786.3h0M137.2 785.3h0M135.4 771.7h0M138.5 785.3h0M139.7 776.4h0M142.9 775.5h0M130.6 774.8h0M142.2 780.2h0M142.1 785.2h0M134.4 776.5h0M135.2 783.1h0M130.9 774.6h0M138.6 772.5h0M134.3 780.8h0M138.5 772.1h0M130.6 783.2h0M129.4 780.6h0M141.7 780h0M132.8 781.7h0M135.3 778.9h0M132.4 776.1h0M141.7 781h0M134.8 782.8h0M132.4 772h0M143.1 778.9h0M134.7 774h0M133.4 783.8h0M129.1 780.4h0M138.6 782.9h0M136.1 785h0M142.2 784.8h0M133.3 773.2h0M136.2 773.9h0M134.5 776.7h0M138.5 774.9h0M133 773.6h0M133.3 778.7h0M140.2 777.7h0M143.3 780.5h0M131.2 773.8h0M137.3 775h0M144.6 773.5h0M141.4 786.3h0M139 776.1h0M131.8 785.7h0M142 786.1h0M129.5 772.2h0M136.7 779.8h0M130.2 782.4h0M135.1 775.5h0M138.5 783.5h0M141.1 774.3h0M137.8 778.2h0M132.7 784.8h0M134.8 781.5h0M131.8 785.5h0M137.7 780.6h0M143.9 779.3h0M139.7 781h0M132.7 785.3h0M132.6 778.4h0M135.7 779.2h0M142.9 777.2h0M141.9 782.6h0M138.4 773.9h0M142.9 776.1h0M140.1 775.2h0M140.3 782.3h0M139.4 776.5h0M134.3 780.8h0M132.9 784.8h0M137.3 778.9h0M136.6 779.4h0M133.1 774.1h0M143.8 784.2h0M143.9 778.3h0M143.9 783.3h0M140.7 774.8h0M143.2 778h0M134.5 785.8h0M134.5 776.2h0M144.8 775h0M137 775.3h0M144.7 780.5h0M134.7 785.3h0M144.4 781.5h0M138.1 781.1h0M129.2 773.9h0M143.4 784.1h0M134.3 781.6h0M141.8 781.3h0M137.2 779.6h0M145.1 781.1h0M130.9 784.9h0M137.5 779.5h0M138 785.5h0M144.4 775.1h0M143.8 784.7h0M142.7 785.4h0M135.4 782.5h0M130.5 773.2h0M131.6 785.1h0M139.3 779.5h0M135.5 784.6h0M134.8 772.9h0M135.1 785.1h0M135.8 785.6h0M132 773.8h0M136.6 774.8h0M142.2 779.9h0M143.3 779.6h0M130.5 774.6h0M140.8 777.3h0M137 773.4h0" stroke="#B79F00" stroke-width="2.0" stroke-linecap="round"/>
<path d="M104.2 771.5h0M96.1 772.9h0M104.5 775.5h0M100.5 777.3h0M95.6 774.1h0M98.7 777h0M101.6 778.1h0M98 771.1h0M96 773.5h0M100.1 776.7h0M99.3 779.3h0M105.4 775.6h0M99.6 776h0M103.1 770.1h0M96.9 771h0M100.7 777.6h0M104.4 775h0M105.2 775.1h0M106.6 775.9h0M104.7 773.1h0M104.6 772.7h0M104.2 777.9h0M101.6 772.9h0M99.9 776.2h0M99 774.3h0M100.5 771.9h0M102.1 776.8h0M100.6 775.7h0M101.7 773.6h0M99.1 770.9h0M104.7 772.3h0M96.9 777.5h0M104.1 779.2h0M102 768.8h0M103.4 777.3h0M101.9 774.2h0M104.1 770.1h0M98.8 771.7h0M104.5 771.9h0M101.9 778.9h0M105.2 770.5h0M104.1 772.9h0M97.8 774.7h0M104.4 770.9h0M101.7 780h0M104.9 772h0M103.7 777.3h0M96.7 774.2h0M97.2 777.3h0M97.8 777h0M97.3 774.1h0M96.6 777.6h0M97.5 776.2h0M103.9 779.1h0M106.6 776h0M105.2 774.1h0M106.1 772.5h0M96.1 774h0M98.3 776.2h0M100.1 773.6h0M102.6 777h0M102.1 768.9h0M102.9 772.7h0M97.2 770.7h0M98.7 774h0M106.6 776.4h0M95.5 775h0M105 771.2h0M103.4 778.5h0M102.3 772.6h0M99.1 771h0M104.3 772.8h0M100.6 777.9h0M101.5 771.9h0M100.4 779.6h0M98.7 772.3h0M84.1 765.7h0M97.4 772.3h0M81.3 764.4h0M93.7 770.6h0M87.6 769.1h0M95.6 772.9h0M86.6 769.2h0M89.8 769.8h0M83.9 768.1h0M97.5 775.3h0M100.4 776.2h0M88.9 768.7h0M85.2 765.8h0M87.1 766.1h0M85.7 767.5h0M89.2 770.4h0M89.6 767.8h0M96.7 771h0M97.7 771.8h0M81.2 764.6h0M92.9 769.1h0M87.4 768.1h0M84.5 766.3h0M96.5 774.6h0M87 769.3h0M94.1 771.9h0M92.9 771.6h0M84.4 764.4h0M96.4 774.1h0M97.7 774.8h0M94.1 773.3h0M98.9 775.2h0M94.2 761.6h0M98.7 770.2h0M94.6 763.8h0M96.6 771.3h0M94.9 763.1h0M100 771.2h0M93.4 761h0M97.7 772.8h0M94.4 765.9h0M102.8 774.2h0M93.2 761.8h0M93.9 763.6h0M94.2 766h0M99.1 774.7h0M101.8 773h0M93.6 762.1h0M96.9 766.7h0M95.6 763.3h0M93.1 764.4h0M100.9 772.6h0M99.7 773.8h0M97.7 768.2h0M96 767.4h0M94.7 763.6h0M97.9 773.1h0M95.8 763.6h0M100.6 774.4h0M97 766.8h0M100.4 769.5h0M98 772.8h0M94.9 760h0M95.2 765.9h0M93.6 762.4h0M98.3 771.1h0M93.8 764.6h0M111 778.9h0M111.1 779h0M104.2 776h0M106.7 777.1h0M121.9 778.6h0M113.9 776.8h0M116.4 779.8h0M121.9 780.7h0M106.3 777.1h0M105.7 776.4h0M123.7 780.6h0M118 778.9h0M108.2 778.1h0M114.1 777h0M122.5 780.1h0M110.7 778.1h0M113.2 778.6h0M111.4 776.1h0M110.4 777.3h0M121.2 778.5h0M106.1 776.8h0M113.5 777.1h0M122.1 780.5h0M103.5 777h0M113.4 776.7h0M123.3 780.2h0M109.2 775.7h0M123.3 778.5h0M106.6 776.8h0M111.3 778.6h0M110.4 776.9h0M115 779.2h0M102.4 778.6h0M105.4 792.1h0M107.7 789.8h0M104.5 788.3h0M104.2 780.5h0M103.2 783.7h0M103.2 787.6h0M104.5 790.7h0M103.8 787.5h0M105.5 791.6h0M102.8 775.2h0M107 789h0M103 780.9h0M104.2 790.5h0M102.1 779.7h0M103 785.6h0M102.8 776.6h0M103.8 782.1h0M100.2 778.6h0M105.6 786.3h0M101.8 780.3h0M104.7 791.2h0M103.5 781.6h0M105.6 789.3h0M104.3 783.8h0M104 778.3h0M103.3 779.6h0M107.8 790.2h0M104.6 787.6h0M95.2 787.9h0M96.8 786.2h0M96.7 786.4h0M98.3 780h0M96.3 783.7h0M98.4 786.7h0M98.2 785h0M95.4 785.2h0M96.8 783.2h0M97.9 780.3h0M96.3 790.8h0M96.2 787.1h0M96.2 782.5h0M96.3 788.1h0M95.7 788.3h0M96.3 788.2h0M97.5 784.1h0M96.7 790.9h0M94.9 788h0M97.1 789.7h0M95 769.2h0M98.2 767.9h0M93.8 766.1h0M97 769.2h0M95.6 764.8h0M91.9 766.1h0M97.6 765.6h0M97.1 767.3h0M97.5 765.3h0M94.9 768.9h0M97.4 767.1h0M96.9 768.5h0M96.1 766.4h0M94.6 764.9h0M94.8 766.8h0M92.2 766.7h0M97.3 768.4h0M93.4 768h0M112.5 779.4h0M110.9 780.4h0M108.1 779.4h0M109.5 779.2h0M113.3 780.4h0M111.6 781.4h0M109.1 781.2h0M112.2 781.1h0M111 779.4h0M111.9 780.6h0M108.3 778.9h0M113.9 781.9h0M109.9 780.2h0M110.5 778.9h0M111.7 781.9h0M114.2 781h0M107.2 780h0M112.4 779h0" stroke="#F8766D" stroke-width="2.0" stroke-linecap="round"/>
<path d="M92.6 770.4h0M97.9 772.5h0M93.1 770.9h0M91.5 769.2h0M97.8 770.9h0M93.9 768.2h0M94 774.3h0M94.5 769.5h0M92.7 769h0M93.1 774.7h0M97.8 773.2h0M96.3 772.9h0M92.4 776h0M91 773.1h0M92.4 768.9h0M91 773.2h0M92.4 773.3h0M98.1 772.5h0M97.7 774h0M92.2 771.5h0M96 776.6h0M88.8 784.7h0M82.4 798.1h0M85.7 789.9h0M80.5 795.6h0M85.2 793h0M83.1 789.6h0M90.6 781.2h0M78.3 797.8h0M93.1 780.6h0M90.3 784.3h0M80.9 799.4h0M90.7 784.4h0M80.9 797.5h0M90.9 779.7h0M85.3 791.9h0M82.2 796.7h0M85.9 793h0M87.4 780.8h0M89.4 783h0M83.4 795.8h0M79.4 796.5h0M80.7 795.9h0M78.8 798.8h0M80.5 799.3h0M91.6 778.4h0M90.9 782h0M83 797.9h0M83.8 796h0M85.4 794.5h0M86.3 785.2h0M88.1 782.2h0M81.1 796.7h0M82.4 791.9h0M83.4 792.7h0" stroke="#00BA38" stroke-width="2.0" stroke-linecap="round"/>
<text x="109.4" y="699.4" text-anchor="middle">E11.5</text>
<text x="180.6" y="805.5" text-anchor="end">n=2271 cells</text>
<text x="51" y="709.4" font-size="10.5" fill="#19b9b9" font-weight="bold">EC</text>
<text x="37" y="770" font-size="10.5" fill="#27a2ee" font-weight="bold">FM</text>
<text x="147" y="715" font-size="10.5" fill="#e8178a" font-weight="bold">CM</text>
<text x="87" y="758" font-size="10.5" fill="#f2703a" font-weight="bold">MP</text>
<text x="55.7" y="794" font-size="10.5" fill="#1a9a4a" font-weight="bold">NC</text>
<text x="147" y="780" font-size="10.5" fill="#b8a22a" font-weight="bold">EP</text>
<path d="M208.9 718h0M197.5 705.4h0M194.6 708.2h0M197.8 706h0M195.6 714h0M196.8 711.8h0M209.2 717.8h0M202 719h0M205.6 719.8h0M198.3 711h0M205.8 722.1h0M206.6 713h0M198.4 709.3h0M204.6 717.5h0M199.4 713.1h0M196 712h0M198.4 705.8h0M211 717.3h0M194.7 713.2h0M205.4 718.7h0M208.7 709.5h0M205.1 715.4h0M201.6 719.6h0M202.7 718.3h0M212.4 714.3h0M205.4 715.9h0M197.9 711.3h0M205.7 716.3h0M201.3 713.1h0M200.1 714.5h0M207.9 710.2h0M208.1 720.2h0M204.8 722.7h0M196.8 710.9h0M206.5 720.6h0M200.5 710.3h0M202.4 709.5h0M209 718.2h0M199.9 708.7h0M204.4 711.6h0M206.1 710.2h0M210.6 712h0M205 720.6h0M200.2 708.5h0M203.1 716.9h0M210.3 714.5h0M195.2 704.9h0M213.7 714.1h0M209.6 719.4h0M198.4 708.6h0M202.5 718.6h0M210.6 718.4h0M205.7 713.1h0M207.4 713.8h0M199.2 715.7h0M208.2 709.4h0M213.7 712.8h0M199 704.3h0M210.5 713.9h0M200 710.7h0M201.1 707.7h0M199.8 712.6h0M208.7 709.2h0M202.6 710.1h0M200 716.7h0M194.9 711.6h0M203.6 716.6h0M204.5 719.6h0M208.5 716.2h0M193.4 706.6h0M209.6 711.8h0M211.2 718.2h0M198.7 706h0M205 710.8h0M197.5 709.5h0M208.2 715.2h0M211.9 712.8h0M199.4 708.4h0M204.8 712.5h0M210.5 716.4h0M209.4 715.5h0M195.4 712.5h0M206.1 717.9h0M203.4 714.3h0M194.7 704.8h0M195.4 710h0M198.2 706.6h0M200.3 710.4h0M198.1 705.8h0M204.5 710.9h0M203.3 706.6h0M202.5 711h0M206.9 711.6h0M199.4 713.6h0M201 715h0M202 711.1h0M209.2 709.8h0M211.4 718.2h0M212.1 717.6h0M204 707.3h0M208.4 716.1h0M209.2 720.1h0M202.4 717.9h0M209.6 711.7h0M211.2 717.7h0M196.3 715.2h0M203.6 715.3h0M201.6 718.1h0M198.1 704.3h0M203.2 716.2h0M210.2 714.3h0M195.5 711.6h0M207.5 718.6h0M200.6 714h0M194.9 707h0M207 710.4h0M214.7 713.6h0M200.6 707.5h0M204.6 713.7h0M204.2 718.7h0M208.1 719.9h0M206.2 707.1h0M202.2 705.8h0M206.6 715.5h0M204.4 714.4h0M208 710.4h0M210.6 713.1h0M209.1 714.5h0M212.1 713.6h0M197.9 714.9h0M198.4 712.8h0M211.8 716.2h0M201.7 719.5h0M212 713h0M195.2 712.5h0M195.9 713.9h0M201.9 710.1h0M205.8 714.2h0M212.6 712.5h0M205.6 717.9h0M196.4 714.2h0M196.8 713.4h0M204.2 721.3h0M198.3 715.4h0M205.3 706.9h0M200.5 713.6h0M210.8 711.7h0M199.2 712.9h0M204.8 711.6h0M197.3 707.5h0M205.6 708.3h0M195.3 704.4h0M206.6 716.5h0M195.8 710.2h0M210.2 717.3h0M209.8 711.1h0M198.9 712.9h0M194.8 709.1h0M214.6 713.8h0M200.2 712.1h0M205.3 716.1h0M213.3 715.8h0M193.7 706.6h0M197.1 711.2h0M205.7 719.8h0M211 714.8h0M202.9 706.9h0M201.3 708.2h0M200.8 705.2h0M194.8 706.3h0M202.8 705.4h0M207.8 709.8h0M207.1 710.4h0M207.9 718.3h0M209.2 714.7h0M199.8 717h0M193.5 708.7h0M202.8 708h0M213.4 715h0M209.1 718.1h0M203.3 709.7h0M208.3 717.9h0M210.5 713h0M208.1 715.5h0M198.6 704.3h0M208 719h0M199.1 706.5h0M199.1 705.6h0M197.6 707.1h0M195.3 703.9h0M202 718.8h0M196 710.9h0M211.5 716.1h0M195.8 713.9h0M211.5 714.3h0M198.8 708h0M197.1 709.2h0M206.1 720.3h0M207.6 715.6h0M200.6 708.4h0M207.9 710.8h0M199.4 718.2h0M210.9 714.3h0M205.2 713.1h0M209.6 719.5h0M212.7 715.2h0M207.6 718.6h0M198.5 708.3h0M207.4 713.5h0M204.7 707.6h0M209.2 714.5h0M195 712.3h0M209 717.7h0M203 705.5h0M201.3 710.1h0M206.6 716h0M195.8 715h0M210.3 711.1h0M198.8 716.6h0M201.7 713.4h0M195.6 708.5h0M196.7 704.5h0M195.9 715.2h0M207.3 718.7h0M211.5 717.4h0M209.8 715.4h0M210 716.7h0M196.2 714.2h0M209.4 709.7h0M200 710.2h0M195.4 714.3h0M208.5 710.5h0M202.4 720.5h0M203.3 711h0M206.4 720.3h0M198.2 705.8h0M198.8 716.4h0M207.6 713.8h0M196.5 707.1h0M208.7 716.4h0M208 716.1h0M198.4 708.8h0M195.5 711.5h0M210 710.5h0M210.4 710.9h0M208.1 710.4h0M206.4 716.3h0M203.8 709.3h0M194.6 707.1h0M205.8 713.8h0M194.5 706.7h0M212.6 711.9h0M201.9 716.3h0M203.7 710.1h0M203.9 712.3h0M205.8 719.6h0M201.5 708.3h0M206.1 716.4h0M199.7 711.1h0M197.1 714.1h0M200.5 712.5h0M213 714.8h0M199.2 715.8h0M201.3 711.1h0M203.5 706.4h0M201 710.6h0M197.4 706.6h0M196.5 712.4h0M212.3 730.7h0M210.1 717.4h0M204.6 725h0M212.9 729.3h0M205 723.6h0M214.2 720.8h0M210.1 719.5h0M212.2 722.9h0M212.1 717.5h0M211.1 723.8h0M212.6 719.5h0M212 730.2h0M210.8 724.2h0M210.3 731.2h0M208.3 719.9h0M206.2 720.9h0M206.6 727.9h0M207.5 720.2h0M211 717.9h0M207.2 729.7h0M210.4 725.9h0M214.6 723.3h0M207.9 725h0M214 727.5h0M206.8 730.6h0M208.9 720.6h0M210.9 724.4h0M215.9 723.7h0M215.8 720.1h0M212 726.2h0M216 719.8h0M212.3 728.6h0M214.2 715.4h0M209.2 719.9h0M209.4 730.3h0M211.4 724.3h0M212.4 722.3h0M214.1 715.7h0M209.9 724.3h0M214.5 716.6h0M210.2 717.3h0M215 724.1h0M214.2 718.7h0M209.9 725.3h0M215 720.8h0M206.3 730h0M209.2 720.6h0M207.7 725h0M210.2 726.3h0M208.4 723.7h0M214.5 727.8h0M205.4 723.8h0M208.7 725.6h0M207 725.8h0M210.9 725.7h0M212.6 720.8h0M212.3 730.1h0M206.4 721.2h0M210 719.4h0M210.4 720.5h0M208.5 728h0M210.7 718.1h0M208 729h0M211.7 729.8h0M214.1 715.5h0M207.7 727h0M208.5 722.7h0M213.2 719.3h0M208.8 724.8h0M212.7 727.9h0M211.6 726.7h0M208.9 730.6h0M205.4 728.7h0M213.1 728.1h0M216.5 719.7h0M208.2 723.1h0M206.3 722.5h0M210.2 720.9h0M214.5 718.6h0M213 727.1h0M208.6 730.6h0M215.1 716.3h0M207.4 724.6h0M214.7 727.7h0M212.5 727.3h0M210.4 730.6h0M204.6 726.2h0M210.7 723.8h0M212.9 725.3h0M210.5 724.2h0M215.7 723.4h0M211.1 729.4h0M207 726.2h0M210.9 720.2h0M205.1 726.7h0M206.4 721.6h0M214.5 724.7h0M206 727.1h0M211.2 728h0M214.3 728.4h0M214.5 718h0M211.5 722.1h0M205.7 725.7h0M214.5 727.1h0M215.8 716.6h0M209.4 718.9h0M205.8 728.7h0M208.5 725.7h0M207.2 727.7h0M209.9 728.4h0M211.4 730.3h0M209.2 718.4h0M204.1 725h0M212.4 725.2h0M215.8 722.8h0M216.4 720.9h0M206.8 726.6h0M206.7 721.1h0M226.3 717.9h0M217.3 715.2h0M219.5 718.9h0M218.2 714.6h0M219.7 718.6h0M231.4 715.5h0M220.4 719.8h0M217.6 724.5h0M223.7 719.6h0M227.6 718.5h0M224.2 716.6h0M228.1 717.5h0M224.4 716.4h0M229.3 715.8h0M229.6 716.3h0M217.9 715.3h0M222.8 718h0M224.6 719.5h0M229.1 717.4h0M217.3 722.1h0M226.1 716.2h0M223.6 712.6h0M216.3 716.3h0M223.3 721.5h0M219 713.8h0M225.3 720.5h0M221.2 713.6h0M230.2 713.8h0M220.4 722.4h0M226.7 716.4h0M218 725.5h0M228 718.7h0M222.4 714.1h0M218.3 722.8h0M231.6 712.7h0M217.6 723.4h0M217.1 720.2h0M217 723.2h0M218.8 717.1h0M232 714.5h0M217.7 720.5h0M224.4 718.6h0M217.1 721.2h0M221 714.3h0M222.8 714.5h0M231 714.6h0M223.4 716h0M228.2 715.1h0M220.3 720.2h0M231.8 714.5h0M218.4 723.6h0M224.4 720.3h0M229.4 714.8h0M218.8 718.1h0M218 724.4h0M216.4 725.9h0M216.7 715h0M230.7 712.5h0M218.4 714.2h0M227.9 715.1h0M221 720.2h0M227.1 711.9h0M220.2 717.8h0M229.7 712.6h0M223.8 718.4h0M222.4 718.8h0M224.5 716.5h0M220.9 718.4h0M219.2 719.3h0M218 715.8h0M227 719.3h0M221.4 715.7h0M217 719.5h0M225.2 717h0M219.6 719.6h0M222.3 722.2h0M221.3 716.3h0M230.6 715.9h0M226.6 718.9h0M218 724.3h0M219.6 719.9h0M222.8 720h0M222.3 716h0M217.6 718.7h0M225.1 712.1h0M222.9 714.7h0M211.5 734.2h0M211.9 734.9h0M211.4 731.8h0M212 734.5h0M213.1 736.9h0M212.6 736.4h0M212.5 734.5h0M213.4 737.9h0" stroke="#00BFC4" stroke-width="2.0" stroke-linecap="round"/>
<path d="M215.7 738.5h0M217.2 739.8h0M217.1 750.7h0M215.7 738.6h0M212.5 748.1h0M217.6 740.3h0M217.3 749.8h0M212.7 744.6h0M212.4 739.5h0M220.1 746.4h0M211.9 738.2h0M217.1 740h0M211.7 741.7h0M218.1 749.8h0M222.5 744.9h0M214.8 744.7h0M210.7 746.7h0M216.6 743.1h0M218.6 749h0M210.7 747.1h0M218 749h0M212.7 744.2h0M221.8 743.2h0M217 751h0M217.5 748.4h0M211.5 747.5h0M222.3 748.3h0M211.2 743.1h0M223.9 747.7h0M218.2 743.9h0M217.7 742h0M221.9 743.8h0M220.9 743h0M213.1 738.6h0M217.4 750.7h0M219.8 750.2h0M215.4 750.1h0M210.8 742h0M217 744.5h0M220 745.7h0M221.6 751h0M213.5 739.6h0M219.2 749.2h0M221.6 748.7h0M211.3 745.7h0M210.7 746.8h0M212.5 747.9h0M215.4 745.8h0M219 746h0M218.5 743.2h0M213.7 743.9h0M220.2 741.4h0M215.9 739.5h0M218.9 742.8h0M210.5 740.7h0M222.5 748.3h0M215.9 743.7h0M223.3 744.1h0M210 746.5h0M222.4 746.3h0M223.5 746.4h0M219.8 741.7h0M221.8 742.5h0M218.7 742.6h0M214.5 745.1h0M213.6 746.9h0M224.1 748.6h0M213.6 740.6h0M210.5 741.4h0M216 745.2h0M220.7 742.1h0M217.1 749.6h0M215.7 746.8h0M221.4 745.4h0M215.9 746.1h0M220.1 740.7h0M212.6 741.7h0M220.6 748.5h0M215.8 742.2h0M220.8 742.1h0M219.6 750.7h0M221.6 750.1h0M211.7 740.3h0M222.1 742.8h0M215.7 742.3h0M230.6 757.2h0M229.2 757.3h0M223.2 750.9h0M227.5 756.4h0M223.2 750.4h0M226.4 755.2h0M226.4 755h0M229.8 756.3h0M230.5 757.1h0M226.4 754.2h0M225 753.6h0M230.3 759.7h0M232.5 761.8h0M230 761.4h0M228.9 761.3h0M230 757.6h0M232.4 761.9h0M232.8 760.8h0M230 761.9h0M228.2 756.8h0M230.3 757.6h0M231.8 759.8h0M233.3 760.7h0M229.1 758.9h0M229.2 757.5h0" stroke="#619CFF" stroke-width="2.0" stroke-linecap="round"/>
<path d="M295.5 721.2h0M303.3 719h0M300 723.6h0M308.2 724.3h0M287 711.5h0M307 716.1h0M294.1 710.2h0M295.9 725.4h0M299.2 714h0M300.4 707.9h0M297.2 724.9h0M294.6 708.4h0M296.8 723.2h0M317.9 727.8h0M290.8 710.8h0M292 713.6h0M304.9 712.8h0M303.7 703.6h0M296.7 719.3h0M292.8 724.7h0M316.7 727.6h0M287.1 714.4h0M287.9 721.3h0M307.5 722.5h0M306.4 722.1h0M317.8 725.9h0M302.1 717.8h0M295.1 720.6h0M318.2 727.5h0M293.6 721.5h0M306.4 725h0M305.2 706.1h0M317.6 727.1h0M292.5 725h0M301.8 723.3h0M298.5 720h0M307.8 722.6h0M314.7 726.1h0M306.1 724.1h0M290.1 716.7h0M302.4 717.3h0M316.7 720.8h0M286.2 717.7h0M301.7 720.8h0M292.5 709.8h0M297 724.9h0M306.2 722.5h0M314.2 724h0M303.8 716h0M302.9 708.6h0M292.7 717.7h0M299.7 712.4h0M299.4 718.7h0M286.4 716.4h0M314 719.4h0M295.1 710.4h0M287.4 716.2h0M294.9 723.3h0M299.2 712h0M308 716.8h0M291.7 719.5h0M289.7 720.7h0M285.2 715.2h0M300.5 703.1h0M307.7 711.2h0M308.3 724.4h0M298.4 718.8h0M316.4 727.6h0M300.6 714.7h0M316.5 721.5h0M306.8 725h0M291.6 721.7h0M292.7 726.1h0M293.9 725.1h0M290.9 716.6h0M295.6 726.4h0M294.6 725.5h0M317.3 726.3h0M290.4 714h0M295.8 723.9h0M297.5 719.2h0M306 715.7h0M290.7 713.1h0M293.6 710.9h0M290.3 715.7h0M294 712.6h0M292.2 722.5h0M301.3 711.3h0M314.4 718.7h0M312.6 720.3h0M305.5 710.7h0M291.3 723.6h0M288 711h0M303.6 717.5h0M298.8 706h0M302.1 703.3h0M292.2 719h0M299.2 713.3h0M294.5 716.2h0M291.1 714.7h0M301.4 707.8h0M297.8 719.8h0M289.8 713.1h0M295.8 718.9h0M286.8 719.8h0M301.9 717h0M291.8 719.7h0M288.7 717.6h0M294.5 725.3h0M302.7 717.1h0M309.8 723.7h0M291.7 724h0M285.7 718.8h0M318.6 725.4h0M307.7 714.7h0M301.8 722h0M316.5 721.1h0M304.1 700.6h0M315.5 723.6h0M303.1 713.1h0M309.5 716.1h0M301.3 720.4h0M316.5 722.2h0M311 722.8h0M296.7 723.4h0M288.4 716.3h0M301.3 723.9h0M289.4 715.5h0M309.5 716.6h0M301.7 706h0M310.5 724.8h0M305.5 716.8h0M306.8 709.1h0M292.3 715h0M288.1 717.1h0M292.4 725.4h0M304 714h0M294.3 724.6h0M313 721.3h0M306.2 704.9h0M292.9 710.5h0M288.9 712.8h0M289.8 713.2h0M308 723.5h0M291.6 712.8h0M310.1 718.6h0M289.2 719.6h0M292.3 712.3h0M297.3 719.3h0M314.2 725.3h0M303.7 724.5h0M311.1 720.8h0M314.8 727.1h0M297.8 712.4h0M305.6 722.8h0M295.2 708.3h0M299.6 721.5h0M293.2 727.1h0M310.2 716.1h0M298.3 725.4h0M302.6 714.8h0M301.8 724.9h0M311.4 724.7h0M292.5 723.5h0M300.4 722h0M299.5 711h0M301.1 716.1h0M304.8 708.9h0M304.2 702.4h0M313.5 723.7h0M286.8 721.5h0M296.1 707.3h0M299.6 709.3h0M311.5 724.2h0M302.5 705.9h0M307.7 706.7h0M318.1 725.8h0M306.6 703.4h0M316.7 719.5h0M297.7 722.3h0M297 711.8h0M312.5 724.6h0M315.3 718.2h0M316.3 723.2h0M305.8 713.1h0M300.1 702.3h0M308.8 720.2h0M305.8 707.9h0M292.9 721.2h0M303.6 724.5h0M317.4 722.2h0M296.8 722.5h0M315.2 725.8h0M307.9 718.7h0M313.1 719.2h0M288.6 717.3h0M315 720.3h0M301.1 705.8h0M306.5 713.2h0M299.1 722.9h0M314.7 727.4h0M291.7 719.7h0M294.5 716h0M285.4 717.6h0M292.4 719.2h0M308 721.2h0M301.8 702.1h0M298.5 708.4h0M314 719.2h0M298.1 706.5h0M296.5 709.2h0M289.5 718.5h0M313.7 721h0M299.2 706.7h0M288.3 715.6h0M285.5 716h0M308.9 718.5h0M301.2 709.7h0M294.2 723.3h0M286.3 713.5h0M294.4 721.3h0M310.6 719.2h0M286.7 718.8h0M303.9 705.2h0M288 713.4h0M303.2 702.4h0M302.1 710.9h0M297 720.7h0M299.6 715.4h0M294.7 722.5h0M312.1 720.9h0M306 708.5h0M306.8 717.1h0M304.7 701h0M293.7 723.6h0M289.1 723h0M304.4 713.4h0M299.4 706.5h0M302.1 707.2h0M298.6 705.1h0M315.9 721.1h0M297.3 713h0M299 714.3h0M300.4 713.2h0M298.7 704.4h0M308.6 723.6h0M294.4 708.4h0M292.6 714.8h0M306.4 717.7h0M318.4 727.1h0M287.7 718.5h0M299.2 703.7h0M298.2 724.4h0M295.3 719.8h0M309.4 718.4h0M318.7 726.9h0M316.1 727.7h0M303.6 712.6h0M289.5 710.8h0M315.8 719.9h0M317.9 721.6h0M303.5 710.2h0M305.9 701.6h0M305.1 721.3h0M304.9 706.6h0M303.4 720.7h0M307 719.4h0M300.7 702.2h0M298.2 721.6h0M309.5 717.9h0M289.9 719.5h0M295.3 709.7h0M291 719.5h0M303 703.3h0M309 720.5h0M304.8 708.3h0M316.2 727.9h0M297.1 715.5h0M299.1 715.1h0M294.5 709.9h0M295.1 720.9h0M306.5 717.2h0M296.2 709.4h0M306 708.5h0M299.7 704h0M293.6 723.6h0M316 720.6h0M315.7 721.1h0M291.1 716.7h0M311.8 725.6h0M298.5 714.3h0M295.8 722h0M306.6 710.5h0M302.9 701.1h0M298.2 716.7h0M316.2 719.9h0M303.7 708.9h0M307.5 717.4h0M313.1 720.2h0M289 716.3h0M293.6 712.5h0M306.8 720.3h0M302.7 715.5h0M304.7 724.9h0M307 722.1h0M308.7 718.2h0M301.9 715.9h0M299.8 711.2h0M305.5 722h0M309.1 724.6h0M299.1 712.8h0M305.1 713.7h0M308.3 723.4h0M290.4 725h0M312.5 724h0M299 713.8h0M291.5 722h0M310.3 718.6h0M305.9 714.4h0M292.8 718.8h0M299.7 707.5h0M301.1 713.5h0M306.1 720.2h0M289.7 718.2h0M303.1 708.8h0M305.9 714.2h0M298.1 719.1h0M308 705.7h0M301.6 709.6h0M300 706.4h0M307.6 720h0M296.6 707.4h0M298.2 715.3h0M297.8 717h0M286 717.3h0M309.3 721.4h0M304.8 715.8h0M313.2 719.8h0M315 718.1h0M288 714.6h0M302.2 715.1h0M300.9 706.1h0M314.8 724h0M290.5 716.3h0M297.6 721h0M309 719.7h0M291.1 715.4h0M306.4 718.4h0M304.6 720.4h0M315.3 727.8h0M301.6 709.4h0M303.5 707.8h0M317.6 723h0M301.8 716h0M301.1 717h0M305.4 721.9h0M315.6 723.5h0M290.1 712.3h0M295.4 725.3h0M310.3 716.4h0M306.3 719.5h0M306.7 715h0M287.3 714.3h0M305.6 706.8h0M306 706.9h0M292 711.4h0M309.4 717.6h0M289.4 712.8h0M302.6 701.9h0M301.6 724.8h0M304.2 700.7h0M293.5 711.1h0M289.6 711h0M294.7 722h0M302 716h0M295.3 716.6h0M293.3 717.6h0M297.2 707.3h0M305.6 716.5h0M295.6 724.9h0M312 725.6h0M300.6 705.7h0M306.6 716.7h0M296.1 722.5h0M290.6 723.2h0M301.4 714.2h0M301.5 721.7h0M316.5 725.5h0M294.6 711.6h0M309.6 720.5h0M288.5 723.6h0M303.1 724.4h0M302 706.8h0M297.5 710.2h0M302.4 721.6h0M300.8 720.9h0M295.6 715.4h0M293.4 723.9h0M306.7 704.6h0M316.3 719.6h0M293.6 718h0M300.5 708.3h0M303.1 713.8h0M300.9 707.1h0M304.9 707.9h0M308.7 723.5h0M310.7 719.1h0M302.1 713.9h0M294.5 712.6h0M311.9 717.5h0M290.6 720h0M306.5 723.4h0M307.7 721.3h0M303.4 706.6h0M318.6 724h0M317.8 719.8h0M300.4 716h0M301.6 719.1h0M299.1 717.7h0M300.1 721.1h0M302.4 714.4h0M309.8 723.5h0M289.3 720.5h0M295.4 718.7h0M299.9 707.1h0M316.8 724.7h0M297.4 709h0M303.8 704.4h0M317 723.7h0M286.8 712.2h0M311.4 724.9h0M302.4 722.9h0M306.3 711.9h0M291.3 720.4h0M301.2 724.6h0M297.4 709.5h0M299.8 707.5h0M298.7 712.3h0M313.1 720.7h0M300.5 702.7h0M298.5 705.1h0M317.6 720.7h0M295.3 718.1h0M307 714.3h0M301.9 724.1h0M296.9 724.6h0M292.6 718.7h0M315.9 718.3h0M306.3 724.9h0M315.2 721.7h0M296.5 724h0M298.7 718.5h0M291.5 719.8h0M298.5 709.7h0M299.8 709.2h0M303.2 711.4h0M295.1 723h0M291.5 722.2h0M303.8 724.5h0M292.6 711.2h0M315.3 727.7h0M299.5 716.7h0M313.6 719.1h0M303.1 707.3h0M303.4 724.2h0M309.3 724.4h0M290.4 722.8h0M300.3 703.1h0M310.9 724.8h0M289 720.2h0M309.5 719.3h0M316.1 721.6h0M311 716.8h0M303.1 715.7h0M290.1 711.3h0M294.6 710.2h0M317 718.7h0M307.3 721.8h0M294.5 714.4h0M304.4 719.9h0M316.6 721.4h0M288.8 719.7h0M299.4 711.3h0M288.6 714.5h0M297.1 722.8h0M299.2 725.2h0M286.3 715.3h0M311.7 723.8h0M300.9 714.5h0M322.4 735h0M320.1 731.2h0M317.9 729.4h0M320.6 732.3h0M319.9 731.2h0M321.7 733.1h0M322 734h0M325.1 737.1h0M318.6 729.9h0M323.7 735.1h0M319.3 731.9h0M322.5 735.3h0M323.5 737.6h0M323.4 736h0M320.4 733h0M321.8 735.4h0M323.3 737.9h0M324.9 737.8h0M322.9 737.5h0M321.2 733.6h0M318.6 730.3h0M322.4 735.5h0M323.9 737.1h0M323.4 735.7h0M338.9 745.9h0M341.1 749h0M336.1 744h0M334.3 748.8h0M338.7 751.6h0M333.8 749.9h0M343.4 749.8h0M334.7 753.6h0M337.4 748.8h0M337.4 750.2h0M342.3 755.1h0M334.7 733.7h0M337.3 738.1h0M336.9 735.7h0M341.7 753.9h0M336.9 755.1h0M335.5 746.1h0M338.9 744.2h0M344 749.8h0M340.2 747.7h0M330.7 753.4h0M337.4 743h0M338.7 756.3h0M340.2 746.8h0M336.4 740.2h0M336.3 744.3h0M337.4 755.8h0M335.9 737.9h0M345.2 751.2h0M337.3 741.4h0M341.3 750.6h0M337.4 748.3h0M335 755.1h0M331.4 750.3h0M337.5 735.3h0M335.2 738.6h0M338.1 754h0M336.9 752.7h0M337.5 754.8h0M335.9 754.4h0M342.8 753.7h0M337.3 744.8h0M338.1 736.6h0M337.4 749h0M335 735.2h0M330.5 749.2h0M335.1 752.9h0M342.6 748.6h0M340.8 757.2h0M331.3 748.8h0M336.5 748.3h0M336.3 754.1h0M334.6 754.6h0M334.6 750.7h0M339.9 753.9h0M339.9 753h0M336.2 734h0M330.1 749.6h0M335.2 739.8h0M338 739.5h0M333.8 748.2h0M337.5 749.3h0M339 746.1h0M333.3 756.1h0M341.8 756.7h0M334.5 740.2h0M333.8 744.5h0M334.9 733.2h0M335.2 734.1h0M339.9 745.8h0M331.7 748.6h0M337.3 750.2h0M339.4 749h0M343.3 753.7h0M336.4 751.4h0M337.7 755.5h0M336 754.8h0M338.4 753.1h0M337.2 750.2h0M335 742h0M333.9 742.4h0M336 736.3h0M336.1 744.6h0M337.7 749h0M336.6 734.9h0M330.4 754.5h0M341.3 748.3h0M332.4 748.9h0M330.7 750.6h0M333.3 736.6h0M335.7 748.5h0M334.2 752.2h0M330.8 754.2h0M337.4 739.5h0M337.1 736.7h0M343.9 749.2h0M336.5 746.4h0M331.5 754.5h0M329.9 751.8h0M342.6 752.8h0M334.9 752.2h0M335.5 732.6h0M336.1 754.2h0M333.4 755.1h0M331.2 750.3h0M336.8 737h0M333.8 733h0M341.4 748.8h0M339.7 757.3h0M337.5 740.3h0M333.9 741.9h0M335.6 752h0M329.9 754.5h0M336.8 755.1h0M337.1 755.3h0M330.8 749.7h0M335 743.6h0M340.5 756.8h0M342.8 753.2h0M336.7 734h0M337.3 753h0M335.9 744.7h0M335.4 732.6h0M335.6 752.5h0M337.5 742.2h0M345 749.7h0M336.9 738.2h0M330.8 749.7h0M335.6 733h0M338.5 751.4h0M334.7 742.5h0M336 740.5h0M341.7 748.8h0M340.6 753.5h0M333.9 748.9h0M334.9 757.2h0M334.9 753.2h0M343.8 751.6h0M335.2 754.8h0M340.6 749.7h0M345.2 751.8h0M341.5 749.1h0M338.3 748.3h0M341.5 753.6h0M335.2 758.3h0M335.2 751.4h0M338.6 757.3h0M334.1 741.2h0M331.5 751.2h0M342.1 754.8h0M342 754.1h0M333.2 756.3h0M336 743.6h0M339.5 744.9h0M345.1 751.9h0M330.1 752h0M332.9 751.8h0M336.1 741.7h0M332.5 751.7h0M336.2 754.6h0M343.7 749.1h0M340.8 749.5h0M328.4 750.9h0M333.3 756.7h0M340.7 746.8h0M337.9 751.9h0M333.7 746.2h0M335.2 752h0M336.8 749.4h0M339.7 749.2h0M336.9 753.2h0M336 751.2h0M333.3 755.5h0M336.9 757h0M335.7 756.9h0M331.9 748.3h0M334.9 733h0M339.9 757.3h0M333.8 754.1h0M341.2 753.1h0M334.8 750.4h0M335.9 755.9h0M335.1 749.8h0M333.2 733.8h0M331.8 754.6h0M340.9 756.9h0M330.1 751.3h0M341.4 755.2h0M334.4 733.3h0M334.6 752.7h0M337.8 752.6h0M331.3 751.2h0M336.8 733.4h0M335.9 742.2h0M341.3 750.9h0M342.4 751h0M337.9 739.1h0M336.6 748.7h0M330.7 750.1h0M333.5 753.3h0M339.4 745.1h0M340 752.9h0M332.1 755.5h0M336.4 736.2h0M341.3 748.5h0M337.6 752.4h0M330.1 753.3h0M334.2 748.9h0M328.5 753.1h0M282.3 756.5h0M291 731.9h0M282.4 754h0M290.1 733.8h0M288.4 733.9h0M289.2 735.5h0M284.2 753.1h0M283.7 756.7h0M285.2 745.5h0M290.8 728.9h0M285.3 744.5h0M288.5 733.2h0M283.8 754.1h0M285.1 745.7h0M285.4 749h0M283.5 756.6h0M286 747h0M286.7 739.4h0M289.1 732.1h0M288.1 735.2h0M288.4 738.2h0M286.3 745.6h0M284.4 751.1h0M284.7 747.6h0M285.5 749.8h0M286.8 744.7h0M281.8 756h0M290.5 730.9h0M288.2 739.1h0M287 745.3h0M282.8 755.8h0M290 735.7h0M290.5 733.1h0M281.9 755.4h0M285.5 746.3h0M290.2 729.6h0M282.7 754.5h0M291.1 729.5h0M283.7 756.6h0M286.9 745.6h0M284.3 750.6h0M288.4 736h0M287 745h0M285.3 748.7h0M284.7 752h0M288.8 739.6h0M286.4 742.1h0M288 741.8h0M281.9 756.1h0M283.5 755h0M285.3 744.7h0M288.2 736.4h0M287.9 742.2h0M282.8 755h0M281.9 756.3h0M286.6 740.3h0M281.8 767h0M278.1 767.5h0M280.2 769.3h0M281.5 762.4h0M279.6 768.5h0M277.9 772.9h0M280.6 763.2h0M283.5 760.5h0M283.7 759.7h0M281 759h0M282.9 760.7h0M279.9 766h0M279.8 764h0M277.6 771.7h0M281.7 762.4h0M280.6 759.3h0M279.6 762.4h0M281 759.2h0M279.4 766.7h0M280.5 770.3h0M277.4 775.4h0M281.1 764.5h0M280.7 760.5h0M281.5 759.2h0M281.5 760h0M283.1 760.9h0M279.2 767.4h0M281.5 765.5h0M279 766.4h0M281 759.8h0M278 775.4h0M281.1 764.7h0M280.3 773.9h0M281.5 760.5h0M280.6 768.6h0M278.1 776.1h0M280.5 772.1h0M277.3 775.7h0M281.4 767.9h0M281.2 759.6h0M278.1 769.7h0M280.4 764.1h0" stroke="#F564E3" stroke-width="2.0" stroke-linecap="round"/>
<path d="M312.8 761.6h0M309.3 763.1h0M316.4 757.6h0M320.9 755.8h0M320.8 754.1h0M310.7 762.4h0M322.3 755.1h0M309.1 765.3h0M323.2 752.2h0M308.2 766.8h0M323.3 753.6h0M318.2 758.8h0M326.7 748.6h0M317.8 756.6h0M324.4 753.1h0M323.2 753.7h0M310.9 763.4h0M312.4 762.1h0M326.8 750.3h0M313.5 762.4h0M310.9 763.1h0M315.1 759.1h0M325.2 753h0M323.6 754h0M311.5 763.8h0M311.1 762.8h0M314.5 759.4h0M326.9 749.5h0M322.5 754.3h0M324.2 751.9h0M318 758.7h0M316.2 759.5h0M308.9 765.7h0M306.5 766.4h0M322.8 753.8h0M322.2 753.9h0M322.1 755.6h0M318 755.9h0M325.3 751h0M327.1 751.1h0M325 750.5h0M321.7 753.4h0M314.3 759.7h0M306.3 767.5h0M317.9 758.2h0M319.3 754.6h0M310.8 764.2h0M311.7 764.2h0M317.1 756.6h0M317 757.4h0M326.7 751.5h0M311.4 763.1h0M327.8 748.7h0M315.9 760.4h0M313.1 761.5h0M324.6 751.2h0M319.7 756.5h0M325.6 751.5h0M329 748.7h0M322.3 754.6h0M328 748h0M325.3 752.4h0M315.6 758h0M308.8 766.6h0M321.5 754.9h0M308 764.5h0M315.2 761.1h0M324.4 753.6h0M324 751.9h0M305.9 766.4h0M321.3 755.9h0M320.9 756.3h0M327.4 751h0M318.1 758.7h0M324.7 750.5h0M317.3 759.7h0M327.9 749.5h0M326.3 749.5h0M315.1 759.1h0M304.8 783.7h0M303.2 780.8h0M309.2 774.7h0M306.7 774.1h0M308.1 773.9h0M302 776.1h0M310.7 780.7h0M313.7 778.7h0M315.4 778h0M304.8 778.3h0M312.7 777.7h0M312.3 780.6h0M313.1 782.9h0M312.1 778.7h0M301.6 778.4h0M309.1 781.4h0M315.1 781.6h0M304.7 775.2h0M303.5 781.7h0M313.7 779.8h0M303.5 775.4h0M308.7 775.1h0M302.9 774.8h0M304.7 781.6h0M302.2 776h0M313 780.7h0M316 776.8h0M310.6 772.1h0M301.9 780.8h0M308.3 782.2h0M306.3 778.8h0M313.2 781.4h0M313.4 776.3h0M315 779.5h0M309.1 779.2h0M304.8 780h0M307.3 783.1h0M310.3 776.2h0M302.8 777.3h0M302.7 781.2h0M307.8 776.1h0M311.3 777.6h0M306.9 775h0M306.9 776.1h0M309.2 784.2h0M306.3 779.5h0M307.5 783.1h0M309.6 771.6h0M311.2 781.7h0M301.5 780.9h0M312.9 778.2h0M310.9 781.1h0M309.4 783.6h0M304.6 779.9h0M307 777.6h0M312.5 778h0M304.5 773.6h0M308.2 781h0M308.9 773.9h0M310.5 779.6h0M305.5 779.5h0M307.2 782.3h0M312.7 780.7h0M310.7 774.8h0M313.9 784.1h0M302.3 772.7h0M310.4 784h0M303.9 784.4h0M314.5 774.2h0M310.6 784.5h0M316.2 779.3h0M309.1 783.8h0M303.1 781.3h0M315.2 772.1h0M310.6 782.1h0M303.5 782.9h0M309.9 778.9h0M304.8 782.8h0M304.5 774.7h0M308.9 775.1h0M308.2 774.9h0M304.3 783.2h0M311.8 781.2h0M305.6 782.8h0M310.6 782.2h0M312.8 773.9h0M310.4 777.1h0M307.7 776h0M302.7 780.8h0M306.5 776.4h0M303.4 780.3h0M312.8 775.7h0M306.2 773.3h0M308.9 777h0M310.7 773.1h0M303.2 775.9h0M306.3 775.7h0M310.2 771.3h0M309 783h0M304.8 782.6h0M305.6 778.8h0M307 772.4h0M305.1 779.3h0M305 772.1h0M305.4 782.8h0M308.2 771.1h0M314.8 783h0M311.3 771.5h0M314.5 774.8h0M309.6 782.2h0M308.6 774.2h0M310.9 776.6h0M306.7 776.6h0M304.5 777.8h0M314.8 781.2h0M308 776.6h0M313.6 775.8h0M310.3 776.1h0M314.2 778.7h0M312.1 771.8h0M309.6 771.3h0M311.7 778.7h0M306 779.5h0M308.6 784h0M302.2 777.1h0M311.3 772.3h0M301.7 778.5h0M304.8 782.5h0M312.1 781.5h0M303 772.6h0M311.1 771.6h0M304.3 773.7h0M315.1 775.8h0M315.2 777.7h0M310.7 773.9h0M310.8 773.6h0M314.9 778.8h0M306.3 779.2h0M306.1 776.1h0M309.3 773.4h0M308 774.6h0M314.7 782.8h0M308.8 783.9h0M308.5 780.5h0M311.7 772.3h0M301.4 775.3h0M305.4 772.9h0M306.6 779.8h0M306.2 778.9h0M313.7 778h0M314.1 781.5h0M314.3 782.5h0M312.5 783.8h0M310.5 783.6h0M305.6 778.9h0M314 782h0M311.6 782.5h0M309.9 783.5h0M304.8 773.2h0M303.7 775.8h0M315.3 779.2h0M313.4 776.8h0M310.1 780h0M304.6 780.9h0M304 778.4h0M301.2 777.9h0M313.5 774h0M301.7 777.7h0M305.3 778.6h0M308.1 772.6h0M312.7 771.9h0M301.9 773.2h0M311.5 782.8h0M305.6 783.8h0M315.4 777.9h0M312.6 780.3h0M304.1 777.6h0M311.8 775.3h0M312.7 776.9h0M304.6 773.8h0M312.7 780h0M304 774.7h0M315.6 777.4h0M312.3 784.4h0M313 772.7h0M308.3 776.1h0M312.4 777.9h0M313 777.5h0M303.6 778.5h0M312.5 773.5h0M313.8 776.1h0M315 773.1h0M304.8 782.8h0M316.2 776.8h0M309.1 771.9h0M314.7 773.6h0M313.4 776.9h0M314.8 782.9h0M308 781.9h0M313.9 780.6h0M304.5 782.4h0" stroke="#B79F00" stroke-width="2.0" stroke-linecap="round"/>
<path d="M270.6 772.9h0M268 773h0M268.5 775.1h0M270.9 777.5h0M273.3 775.1h0M268.3 779.1h0M267.9 773.6h0M270.7 770.8h0M271.7 777.8h0M269.1 773.8h0M267.9 773.1h0M266 772.9h0M269.2 769.5h0M271.3 771.3h0M267.9 776.9h0M263.1 774h0M271.2 776.9h0M269.5 769.2h0M268 776.7h0M269.9 772.6h0M267.9 773.1h0M262.7 775.4h0M272.7 773.3h0M265.5 775.9h0M262.9 772.4h0M266.6 772.7h0M263.9 777.7h0M263.1 777h0M267.4 770.5h0M263.8 773.4h0M273.1 775.3h0M271 770.1h0M266.1 771.1h0M264.1 778.2h0M265 776.5h0M270.7 774.6h0M272.8 772.5h0M268.1 773h0M269.6 772h0M270.7 775.6h0M271 771.1h0M263.8 771.9h0M273.2 775.6h0M269.7 778.1h0M269.2 772.1h0M270.7 770.5h0M268.5 775.2h0M268.3 778h0M267.8 768.8h0M271.4 774.6h0M264.3 771.5h0M252.3 768.4h0M266.3 775.2h0M258.6 771.6h0M265.6 773.9h0M259.8 769.7h0M252.6 766.8h0M262 773.9h0M263.2 771.2h0M265.4 773.9h0M262.2 772.3h0M250 767.1h0M252.3 765.8h0M251.2 767.1h0M266.6 773.2h0M254 766.2h0M249.4 767h0M258.4 769.6h0M253 765.2h0M267.5 773.9h0M260.6 773.5h0M263.2 763.9h0M266.2 770.4h0M261 763.9h0M264.6 767.8h0M263.7 764.3h0M264.2 765.5h0M263.4 768.7h0M264.8 765.5h0M260.4 765.7h0M260.2 761.7h0M262.7 769.6h0M262.9 769.7h0M268 771.9h0M262.6 761.9h0M263.9 766.5h0M263.6 770.2h0M261 763h0M261.4 763.3h0M263.1 764.4h0M258.6 762.1h0M265.7 769.7h0M262.3 762.9h0M267.8 773.6h0M270 775.2h0M276.2 777.4h0M286 779.6h0M281.5 778.8h0M290.4 779.8h0M290.7 780.1h0M286.9 778.3h0M279.7 778h0M280.7 776.6h0M287.5 778.3h0M291.1 780.3h0M272.3 777.2h0M289.2 779.8h0M288.6 779.5h0M279.6 776.8h0M268.2 776.9h0M270 776h0M272.4 775.5h0M290.3 779.9h0M287.9 779.6h0M289.4 778.7h0M271.4 784.8h0M270.8 779h0M273.1 787.2h0M268.9 783.5h0M274.2 791h0M268.5 778.9h0M272.1 782.7h0M272 791.9h0M269.6 778.9h0M270.5 782.4h0M272.3 790h0M269.3 781.7h0M269.6 783.1h0M272.9 786.2h0M273.3 785.3h0M273.9 788.3h0M268.7 778h0M273.5 791.1h0M272.2 790.9h0M262.8 784.1h0M264.8 781.3h0M264 785.5h0M262.8 784h0M264.6 783.6h0M263.9 782.6h0M264.6 782.3h0M263 786.5h0M264.3 790.6h0M263.8 785.9h0M265.8 784h0M263.3 784.2h0M263.7 786.3h0M259.6 767.9h0M258.9 768.7h0M259.5 769h0M260.3 768.2h0M260.6 770.4h0M263.3 769.4h0M264.6 768.3h0M263.4 764.8h0M263.3 767.7h0M259.4 766.5h0M260.1 764.9h0M280.6 782.1h0M279.6 778.5h0M277.5 781h0M274.6 780.7h0M279.4 779h0M280.7 781.2h0M276.7 779.4h0M278.6 779.9h0M277.6 782.6h0M279.6 780.8h0M279.1 782h0" stroke="#F8766D" stroke-width="2.0" stroke-linecap="round"/>
<path d="M248.9 793.8h0M257.2 777.4h0M254 787.9h0M252.6 788.2h0M246.6 799.4h0M248.9 792.2h0M257.5 780.5h0M250 792.8h0M251.6 788.7h0M252.3 785.7h0M246.7 799.4h0M256.3 779.2h0M257.2 775h0M254 788.3h0M247.4 799.6h0M257.8 778.9h0M254.1 781h0M257.3 776.7h0M254.7 780.7h0M257.3 779.1h0M247.8 799.1h0M255.1 781.3h0M255.4 782.9h0M256.2 776.3h0M252.2 785.7h0M251.2 793.8h0M252 790.6h0M256.1 783.2h0M257.4 780.3h0M252.6 784.3h0M247.5 799.9h0M254.1 781.3h0M247.5 800h0M252.9 787.6h0M248.1 797.4h0" stroke="#00BA38" stroke-width="2.0" stroke-linecap="round"/>
<text x="267.8" y="699.2" text-anchor="middle">E11.5</text>
<text x="344.6" y="805.2" text-anchor="end">n=1939 cells</text>
<text x="218.6" y="708.6" font-size="10.5" fill="#19b9b9" font-weight="bold">EC</text>
<text x="205" y="770" font-size="10.5" fill="#27a2ee" font-weight="bold">FM</text>
<text x="315.8" y="714" font-size="10.5" fill="#e8178a" font-weight="bold">CM</text>
<text x="256" y="757.4" font-size="10.5" fill="#f2703a" font-weight="bold">MP</text>
<text x="223" y="793.4" font-size="10.5" fill="#1a9a4a" font-weight="bold">NC</text>
<text x="315" y="780" font-size="10.5" fill="#b8a22a" font-weight="bold">EP</text>
<text x="164" y="827">UMAP1</text>
<text x="0" y="0" font-size="13.3" transform="translate(12 678.5) rotate(-90)">UMAP2</text>
<text x="378" y="510" font-size="14" font-weight="bold">e</text>
<text x="543" y="507.5" text-anchor="middle">Cellular distribution</text>
<rect x="473.7" y="721.1" width="27.7" height="48.2" fill="#fa8078"/>
<rect x="473.7" y="688" width="27.7" height="33.5" fill="#999900"/>
<rect x="473.7" y="663.5" width="27.7" height="24.7" fill="#00c800"/>
<rect x="473.7" y="629.2" width="27.7" height="34.6" fill="#178b8b"/>
<rect x="473.7" y="615.9" width="27.7" height="13.6" fill="#1a8cff"/>
<rect x="473.7" y="521" width="27.7" height="95.2" fill="#ff80ff"/>
<text x="487.6" y="751" font-size="8.3" fill="#222" text-anchor="middle" font-weight="bold">(384)</text>
<text x="487.6" y="707.6" font-size="8.4" fill="#fff" text-anchor="middle">(266)</text>
<text x="487.6" y="679.6" font-size="8.4" fill="#fff" text-anchor="middle">(196)</text>
<text x="487.6" y="651.3" font-size="8.4" fill="#fff" text-anchor="middle">(275)</text>
<text x="487.6" y="625" font-size="8.4" fill="#fff" text-anchor="middle">(107)</text>
<text x="487.6" y="572.4" font-size="8.3" fill="#222" text-anchor="middle" font-weight="bold">(761)</text>
<rect x="515.6" y="726.8" width="27.7" height="42.5" fill="#fa8078"/>
<rect x="515.6" y="717.2" width="27.7" height="9.9" fill="#999900"/>
<rect x="515.6" y="651.7" width="27.7" height="65.9" fill="#00c800"/>
<rect x="515.6" y="621.2" width="27.7" height="30.8" fill="#178b8b"/>
<rect x="515.6" y="617.4" width="27.7" height="4.1" fill="#1a8cff"/>
<rect x="515.6" y="521" width="27.7" height="96.7" fill="#ff80ff"/>
<text x="529.5" y="751" font-size="8.3" fill="#222" text-anchor="middle" font-weight="bold">(392)</text>
<text x="529.5" y="723.9" font-size="8.4" fill="#fff" text-anchor="middle">(89)</text>
<text x="529.5" y="679.6" font-size="8.4" fill="#fff" text-anchor="middle">(609)</text>
<text x="529.5" y="643" font-size="8.4" fill="#fff" text-anchor="middle">(283)</text>
<text x="529.5" y="621" font-size="8.4" fill="#fff" text-anchor="middle">(35)</text>
<text x="529.5" y="572.4" font-size="8.3" fill="#222" text-anchor="middle" font-weight="bold">(896)</text>
<rect x="557.0" y="740.3" width="27.7" height="29" fill="#fa8078"/>
<rect x="557.0" y="704.5" width="27.7" height="36.1" fill="#999900"/>
<rect x="557.0" y="695.7" width="27.7" height="9" fill="#00c800"/>
<rect x="557.0" y="641.5" width="27.7" height="54.6" fill="#178b8b"/>
<rect x="557.0" y="597.8" width="27.7" height="44" fill="#1a8cff"/>
<rect x="557.0" y="521" width="27.7" height="77.1" fill="#ff80ff"/>
<text x="570.9" y="753.3" font-size="8.3" fill="#222" text-anchor="middle" font-weight="bold">(263)</text>
<text x="570.9" y="727.6" font-size="8.4" fill="#fff" text-anchor="middle">(328)</text>
<text x="570.9" y="703" font-size="8.4" fill="#fff" text-anchor="middle">(80)</text>
<text x="570.9" y="669.3" font-size="8.4" fill="#fff" text-anchor="middle">(497)</text>
<text x="570.9" y="625" font-size="8.4" fill="#fff" text-anchor="middle">(400)</text>
<text x="570.9" y="572.4" font-size="8.3" fill="#222" text-anchor="middle" font-weight="bold">(703)</text>
<rect x="598.6" y="749.2" width="27.7" height="20.1" fill="#fa8078"/>
<rect x="598.6" y="721.8" width="27.7" height="27.7" fill="#999900"/>
<rect x="598.6" y="718" width="27.7" height="4.1" fill="#00c800"/>
<rect x="598.6" y="652.5" width="27.7" height="65.8" fill="#178b8b"/>
<rect x="598.6" y="637.8" width="27.7" height="15" fill="#1a8cff"/>
<rect x="598.6" y="521" width="27.7" height="117.1" fill="#ff80ff"/>
<text x="612.5" y="763" font-size="8.3" fill="#222" text-anchor="middle" font-weight="bold">(155)</text>
<text x="612.5" y="735" font-size="8.4" fill="#fff" text-anchor="middle">(214)</text>
<text x="612.5" y="720.7" font-size="8.4" fill="#fff" text-anchor="middle">(30)</text>
<text x="612.5" y="671.6" font-size="8.4" fill="#fff" text-anchor="middle">(512)</text>
<text x="612.5" y="647.9" font-size="8.4" fill="#fff" text-anchor="middle">(115)</text>
<text x="612.5" y="572.4" font-size="8.3" fill="#222" text-anchor="middle" font-weight="bold">(913)</text>
<path d="M460 520.9V770H627" stroke="#000" stroke-width="2" fill="none"/>
<path d="M454 521H460" stroke="#000" stroke-width="2"/>
<text x="447.9" y="526.9" font-size="13.3" text-anchor="end">100</text>
<path d="M454 570.6H460" stroke="#000" stroke-width="2"/>
<text x="447.9" y="576.5" font-size="13.3" text-anchor="end">80</text>
<path d="M454 620.2H460" stroke="#000" stroke-width="2"/>
<text x="447.9" y="626.1" font-size="13.3" text-anchor="end">60</text>
<path d="M454 669.8H460" stroke="#000" stroke-width="2"/>
<text x="447.9" y="675.7" font-size="13.3" text-anchor="end">40</text>
<path d="M454 719.4H460" stroke="#000" stroke-width="2"/>
<text x="447.9" y="725.3" font-size="13.3" text-anchor="end">20</text>
<text x="448" y="764" font-size="13.3" text-anchor="end">0</text>
<path d="M487.5 770V776.5" stroke="#000" stroke-width="2"/>
<path d="M529.4 770V776.5" stroke="#000" stroke-width="2"/>
<path d="M570.8 770V776.5" stroke="#000" stroke-width="2"/>
<path d="M612.4 770V776.5" stroke="#000" stroke-width="2"/>
<text x="0" y="0" text-anchor="middle" transform="translate(418 649) rotate(-90)">% cell/ cluster</text>
<text x="374" y="793" font-style="italic">Diabetic status</text>
<text x="376" y="822" font-style="italic">Timepoints</text>
<text x="487.7" y="794" text-anchor="middle">CNTRL</text>
<text x="529.4" y="794" fill="#ff1a1a" text-anchor="middle">HG</text>
<text x="570.3" y="794" text-anchor="middle">CNTRL</text>
<text x="613.4" y="794" fill="#ff1a1a" text-anchor="middle">HG</text>
<path d="M472.3 803.5H543M557.7 803.5H629" stroke="#000" stroke-width="1"/>
<text x="510" y="825" text-anchor="middle">E9.5</text>
<text x="590" y="825" text-anchor="middle">E11.5</text>
<rect x="648.7" y="559.5" width="20.2" height="10.5" fill="#ff80ff"/>
<text x="673" y="569.5" font-size="13.4">CM</text>
<rect x="648.7" y="585.8" width="20.2" height="10.5" fill="#1a8cff"/>
<text x="673" y="595.8" font-size="13.4">FM</text>
<rect x="648.7" y="612.1" width="20.2" height="10.5" fill="#178b8b"/>
<text x="673" y="622.1" font-size="13.4">EC</text>
<rect x="648.7" y="638.4" width="20.2" height="10.5" fill="#00c800"/>
<text x="673" y="648.4" font-size="13.4">NC</text>
<rect x="648.7" y="664.7" width="20.2" height="10.5" fill="#999900"/>
<text x="673" y="674.7" font-size="13.4">EP</text>
<rect x="648.7" y="691" width="20.2" height="10.5" fill="#fa8078"/>
<text x="673" y="701" font-size="13.4">MP</text>
</svg>
</body></html>
